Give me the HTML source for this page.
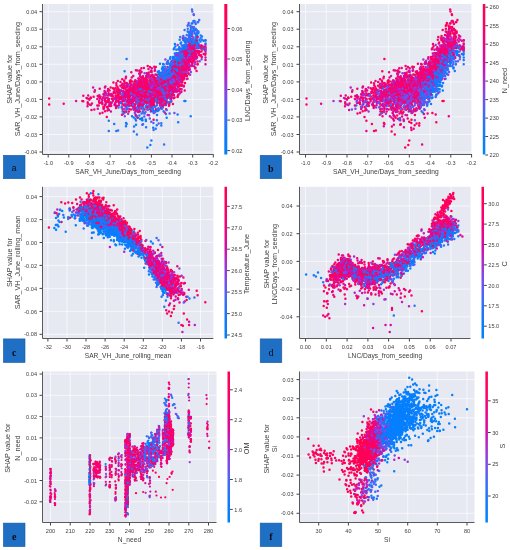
<!DOCTYPE html>
<html lang="en"><head><meta charset="utf-8"><title>SHAP dependence plots</title><style>html,body{margin:0;padding:0;background:#fff}body{width:510px;height:550px;overflow:hidden}svg{display:block;filter:blur(0.45px)}</style></head><body>
<svg width="510" height="550" viewBox="0 0 510 550" font-family='"Liberation Sans", sans-serif'>
<defs><linearGradient id="cb" x1="0" y1="1" x2="0" y2="0"><stop offset="0" stop-color="#0082fd"/><stop offset="0.12" stop-color="#0f7afd"/><stop offset="0.25" stop-color="#376efa"/><stop offset="0.37" stop-color="#7350ee"/><stop offset="0.5" stop-color="#aa2dcf"/><stop offset="0.6" stop-color="#d40ca8"/><stop offset="0.75" stop-color="#f5007a"/><stop offset="0.88" stop-color="#ff005f"/><stop offset="1" stop-color="#ff0051"/></linearGradient></defs>
<rect width="510" height="550" fill="#fff"/>
<rect x="42.5" y="4" width="171.2" height="150.5" fill="#e7e9f2"/>
<path d="M48.2 4V154.5M68.8 4V154.5M89.5 4V154.5M110.1 4V154.5M130.8 4V154.5M151.4 4V154.5M172.0 4V154.5M192.7 4V154.5M213.3 4V154.5M42.5 11.7H213.7M42.5 29.2H213.7M42.5 46.8H213.7M42.5 64.3H213.7M42.5 81.9H213.7M42.5 99.4H213.7M42.5 116.9H213.7M42.5 134.5H213.7M42.5 152.0H213.7" stroke="#fff" stroke-width="0.8" fill="none" opacity="0.8"/>
<g fill="none" stroke-width="2.50" stroke-linecap="round">
<path stroke="#ec0387" d="M154.3 83.9h0M189.9 50.3h0M199.2 52.6h0M112.9 100.9h0M184.8 69.8h0M175.0 74.5h0M166.0 82.9h0M108.9 109.9h0M135.8 92.0h0M190.1 44.5h0M180.7 66.2h0M157.3 92.1h0M195.4 67.6h0M159.3 98.2h0M175.7 70.1h0M182.4 73.5h0M175.5 67.5h0M182.0 54.2h0M134.7 94.6h0M136.5 81.1h0M199.6 52.0h0M191.6 45.0h0M160.9 99.3h0M158.9 86.3h0M144.6 97.5h0M185.8 66.4h0M153.9 88.2h0M162.0 95.4h0M134.5 99.6h0M205.5 53.4h0M186.3 63.1h0M124.9 96.0h0M179.6 72.2h0M172.9 89.1h0M186.9 64.1h0M165.6 74.8h0M141.4 86.8h0M125.0 88.2h0M205.5 49.8h0M188.1 57.8h0M126.5 96.0h0M178.1 86.8h0M197.9 48.0h0M152.2 90.3h0M168.4 93.1h0M192.1 53.2h0M203.7 54.0h0"/>
<path stroke="#4c64f6" d="M194.5 48.5h0M193.6 14.2h0M142.8 111.3h0M192.4 46.7h0M148.3 109.8h0M180.3 66.5h0M145.7 100.4h0M139.7 102.5h0M184.1 38.6h0M162.4 102.9h0M127.1 100.0h0M169.6 113.4h0M166.0 83.3h0M183.1 52.9h0M151.2 107.6h0"/>
<path stroke="#f80071" d="M139.9 89.7h0M182.1 66.2h0M156.9 80.5h0M124.0 96.6h0M184.5 64.3h0M178.8 76.6h0M164.1 91.2h0M116.0 108.0h0M173.4 91.5h0M185.5 56.1h0M83.3 95.7h0M123.7 105.3h0M123.7 99.9h0M163.5 87.7h0M105.4 100.8h0M161.7 107.5h0M148.1 94.9h0M137.0 84.7h0M140.6 98.8h0M178.1 79.3h0M155.7 96.2h0M178.2 66.9h0M192.5 63.0h0M178.8 85.3h0M105.0 104.9h0M183.3 74.9h0M158.6 85.8h0M187.8 51.5h0M82.3 101.1h0M187.5 65.4h0M168.7 97.1h0M97.3 99.1h0M116.1 106.6h0M151.8 110.9h0M138.1 94.9h0M174.2 72.0h0M174.0 95.1h0M181.4 65.3h0M184.1 61.9h0M185.2 68.0h0M143.5 78.1h0M153.5 99.7h0M176.1 84.2h0M182.9 67.9h0M123.3 97.8h0M135.8 99.3h0M148.0 99.0h0M177.8 61.2h0M149.2 86.4h0M139.0 88.4h0M174.3 81.2h0M122.2 84.9h0M176.2 61.9h0M205.5 59.9h0M148.6 105.8h0M136.0 81.8h0M134.2 90.2h0M159.2 88.8h0M179.1 67.3h0M174.0 91.7h0M139.2 82.1h0M137.5 92.0h0M148.7 101.4h0M151.8 68.2h0"/>
<path stroke="#bc1fbf" d="M181.9 58.9h0M179.1 65.9h0M164.4 88.5h0M167.3 95.8h0M186.6 55.5h0M192.4 53.1h0M194.1 48.0h0M159.4 81.6h0M146.0 97.3h0M149.0 115.2h0M180.7 63.5h0M169.6 94.4h0M167.6 80.3h0M149.1 85.1h0M144.0 94.4h0M119.3 98.3h0M188.6 53.8h0M192.1 39.1h0M187.8 59.4h0M144.3 89.2h0M155.1 88.1h0M181.0 72.8h0M129.2 95.4h0M201.1 55.2h0M168.3 72.9h0M129.2 108.9h0M151.4 70.4h0M145.4 86.9h0"/>
<path stroke="#754fed" d="M172.3 80.4h0M126.2 96.2h0M147.1 109.6h0M152.3 105.3h0M165.6 87.4h0M188.7 23.1h0M184.5 70.7h0M185.8 52.2h0M163.7 85.0h0M175.2 70.7h0M147.5 97.4h0M170.4 95.0h0M159.0 94.5h0"/>
<path stroke="#da0aa0" d="M192.3 51.6h0M188.2 48.6h0M154.5 93.5h0M179.5 80.8h0M155.4 88.2h0M203.8 48.0h0M157.1 87.2h0M182.8 38.3h0M137.8 100.7h0M180.9 48.8h0M195.5 59.0h0M171.5 97.2h0M172.1 92.4h0M159.0 89.8h0M182.5 73.3h0M189.2 54.7h0M170.2 84.1h0M153.6 112.5h0M172.8 89.8h0M177.5 84.7h0M188.4 70.5h0M155.8 96.9h0M109.9 103.9h0M174.1 97.8h0M181.2 72.9h0M169.9 85.3h0M155.5 92.9h0M145.3 89.1h0M175.2 61.7h0M107.5 97.8h0M139.5 96.8h0M135.3 80.2h0M177.0 68.8h0M104.7 92.3h0M153.5 97.0h0M178.5 76.0h0M191.0 51.2h0M183.5 61.0h0"/>
<path stroke="#117afd" d="M168.4 84.3h0M169.5 80.1h0M165.5 86.5h0M169.6 81.3h0M138.9 93.4h0M190.4 38.2h0M190.4 31.9h0M177.6 114.5h0M157.7 81.6h0M172.8 74.9h0M174.8 56.5h0M195.6 42.4h0M174.7 62.8h0M177.1 59.1h0M180.9 59.3h0M161.3 125.6h0M173.8 58.0h0M189.7 42.0h0M186.9 44.7h0M172.3 65.0h0M164.2 74.2h0M179.0 54.5h0M162.1 81.0h0M166.4 74.1h0M187.6 31.4h0M178.9 55.4h0M173.7 71.0h0M195.4 42.4h0M176.5 70.3h0M190.3 36.0h0M144.6 90.9h0M172.0 65.2h0M163.0 82.3h0M182.6 64.2h0M181.6 57.0h0M126.3 100.9h0M190.4 40.1h0M168.0 69.9h0M163.3 87.8h0M172.8 82.4h0"/>
<path stroke="#ff0056" d="M179.2 76.9h0M153.0 81.4h0M183.8 73.0h0M162.1 87.3h0M192.1 52.9h0M130.7 105.6h0M153.6 119.7h0M117.9 100.7h0M155.8 84.8h0M141.6 97.7h0M170.0 78.8h0M160.3 99.2h0M187.8 59.3h0M141.2 83.2h0M168.0 75.2h0M186.0 58.0h0M107.4 110.6h0M190.6 57.7h0M132.7 102.7h0M163.7 104.4h0M184.1 72.0h0M132.1 103.4h0M142.8 89.2h0M173.7 82.2h0M138.2 105.9h0M132.1 89.4h0M132.0 81.6h0M146.5 100.8h0M189.6 66.6h0M137.4 94.9h0M120.2 90.8h0M136.2 96.0h0M139.8 95.1h0M157.7 98.0h0M179.2 77.5h0M177.4 63.4h0M143.0 102.1h0"/>
<path stroke="#057ffd" d="M161.3 81.6h0M185.1 48.7h0M169.3 92.6h0M181.3 52.0h0M178.8 65.2h0M166.4 78.7h0M145.6 93.8h0M161.3 99.5h0M136.0 109.2h0M167.2 61.9h0M150.8 111.5h0M194.8 29.8h0M181.7 56.1h0M195.6 36.7h0M162.6 78.1h0M185.3 48.7h0M121.3 96.5h0M193.1 30.9h0M153.2 127.8h0M200.4 47.3h0M158.2 79.9h0M167.3 71.5h0M178.1 55.2h0M181.0 65.0h0M155.2 111.0h0M133.6 86.9h0M160.7 85.9h0M160.0 63.8h0M165.7 77.7h0M144.5 97.3h0M171.9 66.5h0M192.3 34.1h0M174.8 53.4h0M170.4 76.6h0"/>
<path stroke="#ff0060" d="M113.4 82.5h0M153.7 92.3h0M145.4 84.6h0M168.3 84.0h0M166.0 75.0h0M139.1 81.4h0M151.1 79.2h0M167.7 78.9h0M134.1 85.6h0M184.7 69.1h0M140.6 97.8h0M170.5 87.0h0M150.4 86.8h0M146.9 88.8h0M165.8 99.6h0M172.0 89.3h0M99.0 96.9h0M122.5 85.2h0M189.1 69.1h0M117.0 101.5h0M166.0 104.7h0M163.6 87.0h0M128.9 111.4h0M150.9 98.6h0M140.3 70.5h0M120.4 85.7h0M134.2 90.3h0M191.7 52.0h0M160.5 100.4h0M136.3 86.7h0M133.1 87.1h0M150.6 78.3h0M143.5 82.8h0M143.6 89.7h0M183.0 54.6h0M131.3 84.9h0M162.6 94.5h0M174.6 84.8h0M165.2 98.8h0M165.4 103.3h0M142.1 105.8h0M187.1 64.9h0"/>
<path stroke="#2a72fb" d="M118.1 130.6h0M132.5 93.1h0M167.4 83.1h0M161.7 81.8h0M182.6 56.7h0M157.0 103.6h0M169.7 74.2h0M145.6 96.9h0M164.9 99.5h0M146.5 95.3h0M199.3 46.9h0M178.0 60.2h0M198.6 44.3h0M179.4 53.3h0M150.0 101.2h0M184.6 29.9h0M183.1 58.5h0M137.9 93.5h0M132.6 103.6h0M136.9 109.1h0M191.9 26.7h0M176.2 70.9h0M143.0 124.2h0"/>
<path stroke="#9838d9" d="M149.5 82.0h0M150.7 103.2h0M191.2 40.8h0M186.3 67.7h0M179.6 79.8h0M140.1 98.1h0M183.4 77.5h0M189.9 43.4h0M134.4 82.2h0M143.9 85.8h0M128.1 113.7h0"/>
<path stroke="#2a72fb" d="M142.2 118.1h0M162.3 88.0h0M170.6 77.5h0M174.5 78.9h0M161.0 77.2h0M166.0 83.9h0M188.5 40.8h0M165.4 74.6h0M182.2 65.6h0M170.7 76.8h0M167.9 63.0h0M145.5 92.0h0M182.9 61.6h0M176.6 53.3h0M165.1 78.7h0M167.4 97.7h0M152.6 94.3h0M164.8 96.0h0M181.7 54.2h0M162.7 67.1h0"/>
<path stroke="#117afd" d="M126.6 123.9h0M181.8 60.9h0M166.9 92.7h0M158.4 85.2h0M151.4 140.6h0M163.9 80.7h0M181.4 49.0h0M158.6 85.3h0M180.6 55.6h0M129.3 103.1h0M124.9 99.2h0M170.8 95.1h0M179.7 50.6h0M166.5 98.6h0M153.1 89.5h0M171.2 70.1h0M176.7 63.9h0M189.8 42.8h0M187.6 49.9h0M159.7 81.9h0M134.1 91.9h0M160.6 76.6h0M171.2 66.4h0M193.4 28.9h0M175.4 73.0h0M162.0 96.5h0M156.3 100.2h0M175.6 55.3h0M132.0 116.2h0M177.7 56.4h0M163.9 80.8h0M158.8 87.0h0M167.3 76.2h0M197.3 32.6h0M147.5 97.9h0M174.6 61.6h0M189.1 41.1h0M142.8 108.5h0M167.2 80.2h0M127.8 90.5h0M189.2 36.5h0M169.1 78.6h0M192.0 9.4h0M166.6 69.1h0M189.7 36.4h0M205.5 43.4h0M170.2 72.0h0"/>
<path stroke="#da0aa0" d="M139.6 106.4h0M181.4 70.7h0M169.7 88.2h0M144.6 92.8h0M134.7 98.6h0M183.6 58.6h0M155.5 81.1h0M183.8 54.9h0M165.6 79.8h0M169.7 88.1h0M184.2 61.2h0M109.0 106.1h0M141.2 93.9h0M140.2 86.3h0M183.4 68.1h0M103.1 97.6h0M172.6 87.7h0M188.5 64.0h0M182.9 64.7h0M154.1 87.7h0M150.1 82.8h0M159.0 93.0h0M150.5 96.2h0M179.4 91.2h0M181.3 85.2h0M152.5 103.5h0M134.8 88.8h0M166.8 75.0h0M160.4 86.4h0M171.7 73.9h0M189.4 61.1h0M173.0 72.8h0M184.9 50.3h0M167.3 90.0h0M146.1 76.1h0M157.2 87.6h0M184.3 55.0h0M181.1 74.1h0M150.1 108.8h0M102.5 100.3h0M151.0 89.7h0M119.5 91.5h0M171.4 85.2h0M194.4 59.2h0"/>
<path stroke="#ff0056" d="M194.4 43.5h0M188.8 54.8h0M172.3 90.5h0M137.3 88.0h0M148.2 91.4h0M184.2 78.3h0M180.6 71.8h0M144.6 109.4h0M161.7 91.3h0M188.9 64.8h0M163.0 86.9h0M183.8 76.1h0M132.5 88.0h0M189.8 52.6h0M189.3 50.3h0M138.9 99.8h0M165.4 85.4h0M177.4 75.7h0M190.0 49.5h0M122.4 96.6h0M191.0 56.0h0M165.6 86.2h0M136.0 101.9h0M176.6 75.5h0M172.4 73.3h0M150.0 108.3h0M139.3 70.7h0M183.2 65.7h0M172.0 85.4h0M155.4 80.6h0M186.7 57.2h0M135.4 86.7h0M152.9 96.4h0M94.5 91.7h0M115.5 92.8h0M190.5 49.3h0M138.2 94.6h0M179.7 81.7h0M178.5 80.1h0M137.6 98.8h0M151.7 104.5h0M164.9 95.8h0M150.8 89.2h0"/>
<path stroke="#f80071" d="M118.0 95.7h0M178.1 75.4h0M155.9 86.6h0M170.7 86.3h0M111.8 98.7h0M126.8 83.8h0M132.6 97.9h0M143.8 90.2h0M183.1 52.6h0M148.9 86.6h0M128.5 105.0h0M183.2 69.9h0M179.2 85.4h0M117.3 97.3h0M153.9 81.6h0M185.1 65.8h0M180.6 68.5h0M166.0 83.4h0M153.0 95.9h0M147.3 80.8h0M150.3 86.7h0M183.9 72.2h0M138.5 92.1h0M187.2 48.6h0M175.1 80.9h0M181.4 74.4h0M148.9 76.9h0M180.5 80.8h0M169.4 85.6h0M137.6 82.9h0M135.0 104.2h0M189.8 54.3h0M107.8 100.6h0M157.0 110.1h0M156.2 84.4h0M179.5 70.8h0M143.2 101.0h0M192.7 61.6h0M152.2 104.2h0M139.6 92.1h0M87.7 102.2h0M186.3 60.9h0M193.5 60.5h0M174.1 74.4h0M113.7 92.1h0M189.3 68.2h0M141.6 72.1h0M179.3 86.2h0M146.2 100.2h0M138.4 82.7h0M178.1 78.6h0M186.1 44.8h0M135.5 111.4h0M156.6 80.7h0M114.6 91.0h0M178.9 72.0h0M138.3 110.5h0M189.4 54.2h0M148.6 94.4h0"/>
<path stroke="#9838d9" d="M183.8 54.3h0M194.6 57.7h0M143.0 88.1h0M162.0 94.6h0M150.6 85.7h0M154.8 68.0h0M167.9 88.4h0"/>
<path stroke="#4c64f6" d="M193.9 26.9h0M204.0 46.6h0M168.1 60.8h0M164.4 104.1h0M185.2 37.8h0M185.6 50.0h0M172.8 80.8h0M141.6 87.9h0M181.0 51.9h0M158.4 99.3h0M191.4 40.3h0M192.6 47.4h0M145.2 99.7h0M166.3 100.6h0"/>
<path stroke="#ec0387" d="M163.8 83.0h0M145.3 97.9h0M179.7 69.7h0M179.3 67.1h0M177.5 76.0h0M185.2 56.3h0M165.3 94.4h0M168.4 88.8h0M161.6 105.0h0M185.3 61.7h0M185.9 51.4h0M138.6 85.6h0M195.2 62.3h0M165.6 83.4h0M138.9 105.3h0M135.4 96.0h0M177.5 82.0h0M150.2 100.8h0M179.5 63.0h0M165.6 105.1h0M186.4 65.4h0M149.6 89.5h0M145.4 99.5h0M135.1 91.3h0M184.6 48.5h0M181.5 81.0h0M180.7 71.4h0M177.8 95.9h0M144.8 90.7h0M190.3 58.8h0M190.8 58.9h0M184.8 66.3h0M108.1 95.4h0M152.5 85.9h0M94.3 109.6h0M168.0 88.0h0M187.0 56.3h0M191.0 50.3h0M105.9 94.7h0M153.7 80.6h0M103.4 94.2h0M147.6 103.0h0M178.9 79.9h0M164.8 84.0h0M144.2 87.4h0M147.5 82.3h0M153.2 92.0h0M181.2 60.6h0M138.8 107.1h0"/>
<path stroke="#bc1fbf" d="M156.1 85.0h0M176.4 69.1h0M170.3 85.9h0M180.3 62.4h0M168.7 97.4h0M170.5 66.2h0M174.2 78.4h0M135.7 98.8h0M159.4 73.6h0M176.2 59.1h0M175.4 82.6h0M167.8 84.6h0M169.4 90.5h0M187.7 51.3h0M143.0 82.0h0M128.5 98.6h0M174.0 87.5h0M184.0 74.7h0M113.6 99.5h0M180.2 56.8h0"/>
<path stroke="#ff0060" d="M137.6 87.1h0M148.3 98.0h0M138.9 90.2h0M139.0 101.2h0M141.1 108.5h0M162.2 103.6h0M192.8 46.6h0M131.2 94.6h0M177.4 76.4h0M180.5 81.9h0M172.3 77.8h0M171.4 80.1h0M172.7 95.2h0M139.6 85.1h0M151.7 90.9h0M49.2 104.6h0M153.5 77.8h0M189.8 46.9h0M187.1 52.1h0M188.3 60.0h0M158.5 91.0h0M142.4 105.7h0M177.5 82.7h0M187.2 62.2h0M147.9 102.9h0M165.3 101.0h0M193.2 48.9h0M139.4 83.2h0M151.4 91.8h0M137.8 97.8h0M133.1 87.4h0M140.2 86.2h0M147.0 88.2h0M154.5 90.8h0M193.8 52.4h0M167.1 84.1h0M141.6 94.1h0M190.2 41.2h0M144.9 95.9h0M178.9 84.6h0M173.4 79.2h0M135.1 97.4h0M150.3 84.5h0M173.9 66.6h0M167.1 76.4h0M149.0 94.3h0M162.9 88.6h0M190.3 44.1h0M129.6 87.4h0M155.7 93.0h0M149.3 88.2h0M171.2 83.5h0M174.4 78.4h0"/>
<path stroke="#754fed" d="M142.5 91.2h0M134.2 90.8h0M159.1 80.1h0M144.5 73.2h0M151.5 98.2h0M148.4 92.6h0M153.4 97.1h0M182.1 68.1h0M137.4 103.5h0M196.4 51.5h0M148.4 97.0h0M168.7 103.7h0M110.6 103.6h0M195.0 29.8h0"/>
<path stroke="#057ffd" d="M172.9 63.7h0M193.8 51.1h0M166.2 74.2h0M178.5 53.8h0M183.9 59.9h0M175.4 58.8h0M188.8 51.9h0M166.8 87.4h0M126.0 126.3h0M168.3 79.1h0M169.9 66.7h0M185.2 55.3h0M187.8 49.6h0M145.7 119.6h0M158.5 110.3h0M179.7 39.7h0M182.5 67.4h0M179.1 69.7h0M188.7 48.2h0M124.4 93.1h0M173.9 72.5h0M195.7 24.1h0"/>
<path stroke="#754fed" d="M170.8 89.5h0M171.1 90.6h0M167.8 79.5h0M159.6 95.3h0M160.2 95.8h0M201.6 59.2h0M193.8 14.9h0M165.8 79.2h0M173.6 73.3h0M160.8 100.2h0M194.7 33.3h0M179.7 57.8h0M185.5 57.4h0M180.8 75.1h0M189.3 51.9h0"/>
<path stroke="#2a72fb" d="M155.4 106.4h0M136.4 95.4h0M169.3 70.5h0M160.7 89.6h0M175.2 75.8h0M195.6 33.8h0M189.6 46.5h0M197.4 36.3h0M166.8 101.5h0M188.7 48.6h0M151.0 103.2h0M191.0 31.6h0M189.3 33.6h0M177.9 68.8h0M164.1 144.5h0M161.4 81.3h0M157.0 114.9h0M172.0 78.3h0M150.4 108.2h0M176.5 65.4h0M182.1 65.4h0M165.9 113.9h0M133.8 131.5h0M181.4 48.7h0M188.3 24.8h0M172.9 65.7h0"/>
<path stroke="#117afd" d="M186.0 56.6h0M177.8 53.3h0M173.7 76.7h0M182.0 50.9h0M137.0 93.3h0M163.7 64.6h0M173.1 65.8h0M193.0 41.7h0M164.0 83.4h0M174.5 74.4h0M171.6 76.4h0M173.5 68.0h0M155.6 98.9h0M179.0 56.0h0M180.3 59.7h0M136.2 107.5h0M189.6 54.6h0M164.0 83.8h0M181.1 42.6h0M155.2 85.1h0M155.0 106.7h0M173.6 75.5h0M195.9 30.0h0M134.6 100.1h0M179.2 66.5h0M179.7 65.1h0M180.7 68.1h0M176.3 49.8h0M159.0 74.3h0M181.4 51.5h0M189.1 37.9h0M169.8 86.3h0M160.4 75.1h0M162.4 76.1h0M181.7 61.0h0M171.6 61.6h0M138.3 110.4h0M175.2 71.0h0M198.3 43.0h0M197.2 38.0h0M185.2 47.9h0M169.1 79.1h0M165.9 104.1h0M152.7 94.8h0M176.8 54.1h0M163.5 80.8h0M161.3 78.5h0M200.7 35.4h0M174.0 77.5h0"/>
<path stroke="#bc1fbf" d="M145.0 81.7h0M99.2 100.5h0M121.1 101.9h0M181.5 68.0h0M136.6 89.3h0M160.1 102.6h0M172.4 80.3h0M160.8 106.8h0M161.7 98.0h0M131.8 103.4h0M133.5 106.1h0M171.4 71.4h0M114.4 104.7h0M188.1 54.0h0M168.2 82.1h0M173.8 80.7h0M182.2 68.8h0M151.0 85.7h0M139.0 89.3h0M147.6 115.0h0M170.3 85.7h0"/>
<path stroke="#da0aa0" d="M154.7 70.8h0M158.3 94.9h0M99.3 95.3h0M171.4 79.9h0M193.0 56.4h0M172.2 90.2h0M129.4 86.2h0M193.4 60.8h0M163.9 89.4h0M169.2 78.5h0M161.5 80.3h0M152.1 94.0h0M139.1 78.7h0M149.6 94.1h0M136.9 84.4h0M129.8 96.5h0M150.6 96.4h0M137.0 99.5h0M177.4 90.2h0M163.0 82.2h0M190.6 53.3h0M144.1 93.3h0M140.3 73.0h0M128.9 100.0h0M131.1 94.2h0M145.3 85.1h0M160.6 81.1h0M175.3 89.9h0M166.4 91.0h0M161.8 93.2h0M138.6 89.7h0M148.1 81.9h0M171.6 95.8h0M131.8 88.0h0M186.0 62.1h0M126.1 106.4h0"/>
<path stroke="#057ffd" d="M178.0 67.9h0M178.3 57.6h0M171.3 77.1h0M171.4 70.3h0M160.0 92.9h0M198.2 33.3h0M190.9 35.9h0M160.8 78.3h0M195.4 38.9h0M165.0 72.5h0M200.5 41.4h0M165.7 74.8h0M175.3 68.4h0M179.5 48.7h0M190.4 45.8h0M157.1 89.4h0M180.5 54.2h0M175.4 46.2h0M192.2 49.0h0M152.8 109.3h0M177.3 56.6h0M177.1 67.6h0M188.2 53.7h0M147.0 100.8h0M174.9 44.0h0M171.0 87.8h0M163.5 84.5h0M182.5 59.1h0"/>
<path stroke="#f80071" d="M153.7 88.3h0M170.9 81.9h0M149.3 105.5h0M154.4 86.5h0M191.7 49.2h0M187.7 61.4h0M186.5 60.8h0M181.2 75.2h0M180.9 72.3h0M188.1 48.8h0M176.7 78.4h0M126.0 76.7h0M153.8 89.3h0M153.6 92.3h0M150.1 90.1h0M182.9 77.8h0M190.1 65.6h0M173.1 71.9h0M98.7 105.5h0M147.4 79.7h0M165.7 96.2h0M191.1 49.0h0M142.0 85.3h0M138.2 105.5h0M145.9 95.3h0M159.6 91.2h0M123.4 98.6h0M162.2 86.6h0M172.4 87.3h0M190.8 59.7h0M153.2 82.6h0M146.5 98.1h0M181.7 80.9h0M117.8 93.1h0M121.8 87.5h0M166.8 92.2h0M140.8 85.2h0M188.2 54.6h0M90.6 97.5h0M126.1 95.6h0M108.6 93.3h0M146.8 97.3h0M173.3 87.2h0M198.7 52.8h0M186.2 45.9h0M180.4 82.1h0M174.1 89.2h0M155.8 84.6h0M188.9 61.0h0M148.5 97.5h0M188.4 65.4h0M145.6 91.7h0M131.9 99.7h0M179.6 89.2h0"/>
<path stroke="#9838d9" d="M106.5 94.1h0M171.4 78.3h0M168.1 77.7h0M168.8 91.4h0M143.6 88.4h0M174.0 62.2h0M148.3 90.0h0M160.6 80.6h0"/>
<path stroke="#ff0060" d="M151.6 72.0h0M132.5 102.8h0M171.3 89.2h0M119.4 90.1h0M181.9 85.7h0M190.8 45.3h0M200.3 55.6h0M149.8 83.4h0M194.3 44.3h0M139.3 95.8h0M147.4 81.5h0M173.7 86.8h0M141.5 91.4h0M144.9 98.3h0M150.0 100.6h0M142.7 79.2h0M175.8 76.3h0M195.9 51.1h0M150.1 82.4h0M154.7 88.0h0M130.7 80.2h0M183.1 63.2h0M99.1 101.9h0M150.7 83.0h0M152.7 87.7h0M143.5 103.3h0M194.0 66.3h0M136.4 90.8h0M161.5 86.2h0M179.4 82.4h0M124.3 84.3h0M188.7 73.4h0M183.8 61.6h0M181.6 63.2h0M186.4 58.5h0M152.0 100.6h0M140.4 80.0h0M159.8 83.2h0M116.2 96.4h0M171.0 89.1h0M150.6 98.7h0M93.6 96.8h0M147.6 82.5h0M165.5 92.0h0M134.5 108.1h0M175.9 77.5h0M191.4 46.3h0M189.8 56.0h0M118.1 96.3h0M103.4 107.1h0M161.9 100.3h0"/>
<path stroke="#ec0387" d="M150.0 81.8h0M177.9 75.6h0M101.9 102.2h0M196.2 48.2h0M147.2 92.0h0M124.1 80.4h0M138.5 97.1h0M149.4 90.5h0M154.4 102.0h0M162.2 86.6h0M172.4 82.6h0M166.3 98.3h0M182.8 63.5h0M181.6 89.2h0M188.9 53.3h0M162.9 80.3h0M86.5 98.1h0M188.5 54.9h0M108.6 101.2h0M152.5 103.9h0M163.8 99.4h0M139.3 80.0h0M119.7 99.2h0M142.7 101.7h0M155.2 84.5h0M181.6 84.8h0M125.7 78.2h0M117.7 92.9h0M149.0 75.4h0M130.3 89.6h0M139.8 111.4h0M119.5 97.0h0M158.2 84.2h0M147.2 74.3h0M151.3 103.4h0M122.8 91.7h0M190.8 45.2h0M187.6 50.2h0M108.1 89.1h0M133.0 106.8h0M178.6 81.5h0M164.7 112.4h0M178.7 75.5h0M178.9 81.6h0M154.5 82.3h0M188.6 60.8h0M154.1 80.2h0M105.1 100.6h0M163.8 84.5h0"/>
<path stroke="#ff0056" d="M152.0 76.4h0M169.2 93.2h0M188.5 45.5h0M168.5 87.1h0M137.8 117.7h0M99.5 103.1h0M153.7 81.7h0M150.4 82.3h0M148.0 97.3h0M144.7 88.2h0M157.4 78.3h0M183.6 77.1h0M139.2 73.4h0M168.5 97.1h0M168.5 79.4h0M105.1 111.2h0M192.4 51.5h0M156.2 86.9h0M118.9 91.8h0M190.4 60.0h0M166.8 75.7h0M185.0 83.1h0M176.7 81.5h0M181.1 65.0h0M156.6 75.1h0M187.0 50.8h0M182.3 61.4h0M130.3 91.8h0M122.3 103.7h0M202.3 49.6h0M179.5 58.2h0M160.1 88.3h0M182.9 69.2h0M151.3 85.8h0M151.7 97.3h0M158.6 87.9h0M190.7 42.1h0M163.3 97.5h0M149.6 88.9h0M188.3 63.4h0M166.1 109.2h0M104.3 95.6h0M193.3 48.6h0"/>
<path stroke="#4c64f6" d="M167.0 79.9h0M124.5 112.8h0M166.7 110.1h0M142.3 124.8h0M143.9 92.5h0M166.5 80.2h0M193.4 39.6h0M186.9 41.8h0M167.9 97.8h0M182.3 51.6h0M136.0 101.7h0M145.5 112.1h0"/>
<path stroke="#2a72fb" d="M191.0 27.9h0M170.3 99.0h0M185.0 45.3h0M176.4 69.6h0M180.2 54.6h0M172.8 65.6h0M187.2 53.2h0M153.1 100.4h0M183.2 47.2h0M123.3 113.7h0M168.4 76.5h0M195.0 45.5h0M167.1 90.8h0M159.1 73.5h0M169.4 74.5h0M182.9 54.5h0M178.4 61.9h0M171.8 88.5h0M164.6 79.3h0M197.5 22.2h0M151.8 109.9h0"/>
<path stroke="#117afd" d="M157.2 102.1h0M163.4 75.4h0M174.2 68.5h0M146.3 107.4h0M156.8 125.3h0M166.9 83.0h0M192.9 45.9h0M184.4 101.1h0M171.1 73.7h0M190.6 34.9h0M169.8 70.9h0M152.0 107.7h0M194.1 48.6h0M171.1 71.1h0M145.8 87.8h0M165.4 76.0h0M176.8 62.3h0M163.3 77.5h0M171.3 67.3h0M161.1 86.8h0M184.1 54.7h0M160.5 94.6h0M182.2 57.4h0M176.6 72.2h0M122.6 111.5h0M161.7 84.4h0M191.6 32.4h0M181.0 62.3h0M137.7 96.0h0M146.1 127.3h0M175.4 60.1h0M189.3 40.9h0M170.6 65.5h0M116.3 131.0h0M176.3 53.9h0M174.7 64.5h0M202.4 48.7h0M148.9 91.6h0M152.9 105.4h0M178.9 58.0h0M182.6 51.8h0M166.7 73.8h0M165.0 71.2h0"/>
<path stroke="#754fed" d="M178.2 53.4h0M149.0 102.9h0M192.1 33.0h0M135.1 95.6h0M174.2 64.4h0M170.0 84.7h0M186.1 56.1h0M178.1 68.3h0M159.0 84.0h0M161.6 79.6h0M139.3 94.7h0M138.5 90.0h0M194.7 22.3h0M152.1 94.8h0M124.8 116.3h0M188.3 46.7h0"/>
<path stroke="#ec0387" d="M178.4 75.7h0M136.5 110.2h0M148.4 73.0h0M175.4 70.4h0M176.1 82.9h0M129.8 87.3h0M162.5 86.5h0M194.0 48.0h0M197.9 50.8h0M154.3 92.1h0M128.0 89.6h0M129.7 102.7h0M177.1 74.4h0M176.5 70.5h0M145.2 91.6h0M173.6 98.2h0M149.9 89.1h0M129.2 97.2h0M150.6 99.5h0M185.6 66.5h0M152.7 90.6h0M154.9 89.0h0M124.5 95.3h0M140.0 81.6h0M133.9 86.9h0M116.2 98.7h0M168.4 82.4h0M194.4 50.8h0M116.0 101.3h0M123.2 91.0h0M148.5 69.0h0M126.0 91.4h0M194.3 54.7h0"/>
<path stroke="#4c64f6" d="M165.6 69.6h0M177.4 59.8h0M159.2 83.9h0M153.4 123.1h0M191.4 49.3h0M168.0 96.2h0M177.8 62.8h0M152.4 106.8h0M187.6 25.7h0M194.5 21.1h0M175.5 70.2h0M173.2 57.2h0"/>
<path stroke="#9838d9" d="M121.9 106.5h0M183.2 71.5h0M137.5 103.8h0M134.4 92.9h0M173.1 78.5h0M135.9 86.0h0M160.4 95.2h0M136.9 93.8h0M154.4 94.7h0M151.4 76.1h0M112.1 95.3h0M123.9 86.1h0"/>
<path stroke="#bc1fbf" d="M173.6 89.7h0M179.9 72.6h0M162.9 102.6h0M141.8 96.7h0M123.0 84.2h0M141.9 91.4h0M132.5 95.2h0M130.9 98.5h0M137.8 90.1h0M150.9 87.3h0M140.2 95.5h0M141.7 104.4h0M182.7 68.6h0M205.5 44.7h0M174.4 73.1h0M121.2 101.9h0M138.9 111.7h0M166.9 93.2h0M136.9 81.5h0M194.5 57.5h0M176.8 75.5h0M148.1 83.8h0M147.6 75.3h0M133.7 96.4h0M159.0 96.3h0M150.2 85.5h0M168.2 89.3h0M125.9 104.4h0M164.8 97.4h0"/>
<path stroke="#ff0060" d="M140.4 101.0h0M146.5 77.6h0M187.3 58.5h0M187.1 66.3h0M180.0 74.3h0M133.8 84.1h0M148.5 84.7h0M170.3 80.2h0M144.5 82.4h0M140.6 95.2h0M177.0 73.5h0M125.6 91.6h0M156.2 82.0h0M107.8 91.0h0M105.4 86.6h0M152.6 86.1h0M157.7 93.3h0M185.6 62.9h0M171.5 87.9h0M128.9 91.9h0M179.5 65.6h0M137.6 85.2h0M146.6 85.0h0M155.5 74.4h0M154.5 85.9h0M155.2 100.0h0M135.5 85.6h0M192.1 44.6h0M151.7 84.7h0M190.0 53.9h0M158.8 93.6h0M194.7 58.1h0M150.9 84.9h0M166.1 91.5h0M131.3 72.2h0M140.6 101.5h0M173.6 81.4h0M167.1 77.8h0M155.1 88.5h0M154.1 88.3h0M182.4 82.3h0M153.7 89.4h0M134.9 90.5h0M138.6 89.4h0M183.7 67.1h0M169.7 87.9h0M163.0 98.5h0M145.3 88.8h0"/>
<path stroke="#f80071" d="M139.9 105.4h0M185.0 62.2h0M170.9 90.6h0M143.4 92.2h0M148.8 91.5h0M138.5 86.6h0M169.7 79.9h0M166.4 99.0h0M182.3 76.1h0M187.1 59.2h0M149.1 92.4h0M181.9 65.7h0M154.1 85.7h0M124.2 101.0h0M174.4 70.2h0M106.8 117.0h0M172.6 92.1h0M169.7 89.2h0M146.0 102.8h0M151.0 102.1h0M184.3 72.1h0M158.2 91.9h0M97.3 105.4h0M168.3 80.4h0M161.8 84.2h0M124.6 104.3h0M172.0 73.9h0M136.7 84.8h0M199.2 51.2h0M175.0 78.3h0M142.8 81.7h0M173.6 89.9h0M187.9 59.0h0M153.2 99.5h0M155.1 88.3h0M125.8 83.2h0M116.3 83.2h0M166.1 92.4h0M110.4 106.1h0M134.0 88.4h0M180.8 85.4h0M150.0 66.9h0M127.8 97.0h0M104.3 106.7h0M186.2 58.3h0M182.8 63.0h0M113.9 93.0h0M140.9 84.5h0M115.0 103.2h0M190.8 50.6h0M135.6 100.3h0M103.8 108.0h0M180.1 69.1h0M130.5 95.3h0M193.7 55.9h0M88.2 95.6h0M156.9 93.3h0M123.7 97.2h0M180.8 64.4h0M147.8 82.7h0"/>
<path stroke="#ff0056" d="M130.5 82.6h0M184.9 69.1h0M187.0 76.0h0M143.3 87.3h0M159.5 99.1h0M151.0 106.3h0M171.5 79.7h0M111.2 94.1h0M140.8 92.7h0M148.7 87.3h0M166.1 75.8h0M115.6 95.5h0M156.6 84.0h0M138.5 108.8h0M122.2 79.2h0M140.1 97.0h0M150.8 98.5h0M116.2 95.6h0M178.5 69.5h0M110.4 95.5h0M164.8 104.0h0M136.2 96.7h0M107.3 102.1h0M197.5 64.3h0M131.7 105.5h0M187.5 78.8h0M193.3 48.4h0M165.0 92.2h0M138.3 78.4h0M177.2 79.6h0M181.7 75.0h0M135.2 104.7h0M188.5 52.2h0M177.7 81.1h0M158.2 95.7h0M131.6 88.1h0M129.9 82.9h0M152.2 84.5h0M147.3 85.1h0M193.4 60.8h0M138.8 95.3h0M175.3 75.1h0M167.1 95.4h0M188.7 50.8h0M173.4 84.3h0M162.6 107.6h0M151.5 87.3h0M181.0 70.7h0M191.5 50.6h0M189.0 56.1h0M155.6 87.1h0M178.0 87.1h0M160.1 96.8h0M124.4 81.8h0M166.1 96.6h0M177.8 80.4h0M127.9 85.8h0"/>
<path stroke="#057ffd" d="M163.7 74.9h0M165.3 76.9h0M190.2 41.4h0M159.8 76.3h0M166.7 72.6h0M176.8 68.0h0M185.5 46.1h0M170.4 57.2h0M160.8 100.0h0M162.0 90.6h0M168.9 85.5h0M184.0 50.4h0M180.8 57.2h0M169.2 70.6h0M183.6 58.3h0M174.3 75.1h0M186.4 60.7h0M177.1 58.3h0M184.1 47.0h0M171.1 62.1h0M178.3 63.7h0M187.2 46.7h0M182.1 58.9h0M189.5 39.8h0M183.6 48.9h0M161.2 77.5h0"/>
<path stroke="#da0aa0" d="M150.6 71.6h0M151.1 97.9h0M150.3 75.5h0M136.0 95.9h0M94.9 90.3h0M175.2 63.3h0M197.1 57.7h0M187.1 54.7h0M143.7 104.1h0M174.2 82.8h0M170.2 91.3h0M142.6 76.8h0M146.6 95.8h0M184.8 59.5h0M163.5 90.0h0M144.6 85.9h0M179.6 59.8h0M175.1 84.5h0M135.0 112.7h0M183.4 71.2h0M145.5 101.6h0M175.4 73.5h0M119.2 101.7h0M181.1 71.0h0M180.2 61.1h0M142.3 94.4h0M173.2 79.3h0M93.1 87.5h0M190.5 54.6h0M183.5 61.0h0M124.2 94.4h0M162.2 96.5h0M188.1 60.5h0M137.2 95.4h0M151.3 97.7h0"/>
<path stroke="#ec0387" d="M136.7 91.1h0M124.0 88.5h0M127.9 97.6h0M109.6 90.4h0M188.0 59.0h0M148.2 83.6h0M191.9 66.0h0M152.4 91.2h0M156.1 88.6h0M128.3 84.4h0M140.3 90.3h0M172.9 77.2h0M174.4 81.3h0M159.7 81.8h0M144.0 85.4h0M146.1 78.4h0M138.9 111.5h0M149.9 92.3h0M155.4 85.4h0M142.9 76.3h0M144.5 91.7h0M189.4 58.0h0M143.1 84.2h0M103.6 109.1h0M133.8 109.7h0M186.7 67.5h0M125.4 106.0h0M149.8 87.7h0M176.9 71.8h0M141.4 86.8h0M147.9 96.1h0M162.1 96.7h0M155.1 85.7h0M150.4 91.9h0"/>
<path stroke="#da0aa0" d="M156.2 83.7h0M177.5 81.7h0M164.2 69.6h0M189.6 57.4h0M183.3 68.5h0M188.9 42.6h0M155.8 82.0h0M133.1 88.8h0M133.2 76.0h0M150.1 105.2h0M105.7 103.9h0M139.7 99.0h0M125.1 98.1h0M131.6 84.7h0M162.6 99.0h0M192.5 36.5h0M174.5 76.0h0M180.1 76.8h0M141.9 91.6h0M109.4 104.6h0M175.3 85.8h0M126.9 87.0h0M168.8 84.3h0M186.1 59.1h0M146.6 106.6h0M144.1 94.2h0M105.2 93.3h0M192.8 57.9h0M139.9 74.2h0M154.9 98.2h0M147.7 93.5h0M126.6 90.2h0"/>
<path stroke="#ff0056" d="M147.7 66.1h0M152.1 98.3h0M131.9 101.8h0M180.2 71.4h0M130.1 94.8h0M152.4 83.9h0M182.4 59.5h0M141.4 89.9h0M133.8 84.6h0M136.4 116.6h0M188.6 67.6h0M163.8 86.4h0M140.2 96.0h0M130.3 95.6h0M201.8 57.0h0M128.3 93.5h0M143.8 83.0h0M115.5 88.1h0M176.2 67.2h0M137.6 91.3h0M143.6 80.2h0M141.6 89.1h0M135.6 91.8h0M147.3 87.9h0M170.4 82.0h0M123.5 87.0h0M174.7 76.9h0M148.5 75.4h0M133.5 91.4h0M172.9 104.0h0M148.6 72.8h0M124.2 111.4h0M177.6 96.9h0M143.1 86.1h0M131.4 90.4h0M168.4 89.7h0M132.7 100.8h0M146.0 97.0h0"/>
<path stroke="#4c64f6" d="M186.8 35.1h0M155.7 84.0h0M184.7 41.8h0M146.8 94.4h0M179.7 50.2h0M181.8 45.6h0M151.3 121.7h0M172.2 74.1h0M169.6 101.9h0M180.2 37.1h0M182.3 57.7h0M170.6 98.8h0M199.2 19.9h0"/>
<path stroke="#9838d9" d="M155.0 89.5h0M179.0 56.5h0M182.9 63.4h0M176.7 85.8h0M173.5 72.1h0M166.8 93.5h0M158.0 94.0h0M153.7 75.5h0M175.8 90.5h0M105.8 95.3h0M136.4 98.7h0M146.3 83.4h0M201.0 48.5h0M151.5 93.3h0M161.7 88.1h0M187.7 62.5h0M173.5 83.0h0M148.0 96.6h0"/>
<path stroke="#754fed" d="M174.4 112.9h0M135.0 112.9h0M140.6 98.1h0M162.0 72.9h0M129.2 85.5h0M159.9 72.9h0M158.7 123.4h0M152.6 95.9h0M121.0 90.3h0M133.3 91.8h0M186.9 56.4h0M149.0 98.5h0M181.8 70.9h0M190.9 71.9h0"/>
<path stroke="#ff0060" d="M174.2 85.4h0M148.1 86.7h0M132.2 90.7h0M145.1 96.1h0M178.3 83.1h0M166.8 88.8h0M134.6 93.7h0M157.1 74.9h0M187.3 63.8h0M185.3 69.3h0M119.7 97.9h0M146.7 82.1h0M181.1 73.2h0M173.4 83.1h0M152.2 74.8h0M142.1 120.0h0M197.6 61.6h0M148.2 88.9h0M146.8 87.4h0M185.5 76.1h0M152.0 100.8h0M155.8 67.1h0M140.3 103.9h0M145.8 98.5h0M103.5 97.4h0M124.8 97.5h0M174.6 73.1h0M182.9 67.4h0M136.5 94.0h0M137.6 96.9h0M164.3 100.8h0M171.4 94.9h0M189.7 49.5h0M177.1 82.8h0M138.5 100.3h0M135.5 93.5h0M188.3 50.0h0M174.1 71.0h0M146.3 90.5h0M174.4 75.5h0M173.6 85.5h0M159.4 95.3h0M148.0 91.1h0M120.2 93.8h0M116.7 100.2h0M163.6 91.7h0M146.8 83.9h0M185.3 61.1h0M143.9 89.6h0M184.0 56.9h0M184.6 64.6h0M193.6 46.3h0M180.9 75.0h0M138.9 109.8h0M196.7 56.6h0M184.8 64.6h0M117.1 91.5h0M122.4 83.8h0"/>
<path stroke="#bc1fbf" d="M90.8 105.0h0M194.7 41.4h0M127.3 96.9h0M167.6 66.9h0M151.9 82.4h0M199.3 46.2h0M164.4 105.1h0M186.8 40.4h0M161.6 80.5h0M166.8 94.5h0M158.4 87.0h0M186.7 79.0h0M175.7 84.4h0M139.1 89.4h0M149.2 84.0h0M138.7 92.2h0M151.1 92.0h0M161.5 93.2h0M154.6 79.1h0M150.3 88.8h0M186.7 52.2h0M129.6 102.0h0M155.2 79.8h0M180.3 66.9h0"/>
<path stroke="#2a72fb" d="M160.8 85.2h0M190.7 34.3h0M172.9 58.9h0M150.3 90.2h0M127.2 97.1h0M134.3 93.5h0M169.9 89.7h0M176.2 64.9h0M183.0 56.6h0M136.0 120.5h0M152.0 108.4h0M166.2 99.7h0M188.4 48.6h0M165.2 66.8h0M130.9 99.0h0M163.8 84.6h0M153.9 113.1h0M188.6 40.2h0M138.0 102.6h0M151.7 106.3h0M174.6 67.4h0M169.0 85.5h0M161.1 106.8h0"/>
<path stroke="#f80071" d="M153.4 79.5h0M126.4 94.2h0M140.2 84.0h0M138.3 91.3h0M198.7 52.5h0M139.0 82.6h0M188.8 51.5h0M99.7 88.7h0M186.9 65.5h0M161.2 93.0h0M120.5 82.1h0M136.4 88.2h0M145.9 91.0h0M150.3 92.8h0M151.9 76.8h0M186.9 62.2h0M89.1 99.3h0M155.4 84.8h0M176.7 80.3h0M143.1 91.9h0M143.5 85.5h0M180.8 65.2h0M168.2 86.7h0M179.4 71.6h0M139.2 92.1h0M152.2 101.3h0M133.3 92.3h0M118.1 94.4h0M155.7 78.2h0M165.4 78.6h0M138.2 97.6h0M139.0 102.8h0M142.9 78.0h0M142.1 95.7h0M131.7 77.4h0M131.8 100.5h0M148.8 77.4h0M131.2 84.7h0M146.0 90.8h0M178.3 94.6h0M182.7 67.0h0M151.4 110.7h0M187.2 72.4h0M156.9 91.8h0M150.7 79.7h0M205.2 54.7h0M186.4 71.2h0M118.5 89.9h0M149.1 93.2h0M97.7 96.0h0M145.8 98.9h0M169.3 104.4h0M184.7 52.0h0M185.1 59.3h0M181.6 67.4h0M122.6 109.2h0M165.4 95.1h0M126.7 91.4h0M150.7 92.7h0M178.9 68.4h0M133.7 92.9h0M184.0 66.2h0M172.7 79.4h0M127.6 102.4h0M181.8 81.6h0M182.2 77.2h0M165.2 82.6h0M186.9 64.7h0M169.6 102.8h0M145.2 86.3h0M136.8 95.3h0M130.8 88.4h0M183.9 76.4h0M159.9 99.0h0M180.6 66.0h0M165.0 87.5h0M149.2 88.5h0M180.4 79.1h0M87.5 98.4h0M105.3 100.9h0M108.8 106.0h0M186.2 74.2h0M143.5 82.3h0M176.0 89.0h0M157.4 98.8h0"/>
<path stroke="#057ffd" d="M197.4 42.2h0M168.5 75.1h0M185.8 46.4h0M197.0 40.6h0M145.9 121.0h0M191.9 45.3h0M164.2 72.6h0M136.0 124.8h0M177.1 65.8h0M157.7 71.7h0M155.7 128.7h0M185.8 40.6h0M177.3 60.6h0M180.8 57.1h0M157.2 85.4h0M197.1 42.9h0M163.2 83.4h0M168.5 79.8h0M196.2 34.7h0M200.5 38.3h0M186.4 38.8h0"/>
<path stroke="#117afd" d="M173.4 66.2h0M174.9 68.9h0M174.4 48.0h0M173.4 72.5h0M179.4 58.2h0M159.1 84.8h0M180.6 43.6h0M163.3 89.9h0M176.8 62.3h0M166.5 102.5h0M194.5 41.6h0M196.4 40.5h0M182.1 51.6h0M149.0 101.3h0M174.5 78.9h0M182.2 63.6h0M178.6 60.0h0M163.1 64.0h0M166.9 81.6h0M188.9 54.7h0M157.8 76.5h0M184.9 46.9h0M170.1 76.8h0M164.8 89.6h0M178.0 70.4h0M187.3 39.2h0M192.4 50.5h0M170.2 74.7h0M179.3 67.3h0M143.3 108.6h0M165.1 84.9h0M162.0 68.7h0"/>
<path stroke="#117afd" d="M158.0 78.1h0M165.7 69.8h0M176.2 53.6h0M119.5 93.2h0M184.0 45.6h0M168.8 74.5h0M168.9 84.9h0M191.0 33.2h0M167.6 81.1h0M121.6 107.5h0M128.5 106.3h0M158.6 72.8h0M201.4 47.6h0M155.6 111.5h0M172.8 57.1h0M161.4 72.8h0M178.2 122.2h0M162.0 83.3h0M138.6 101.6h0M175.7 62.6h0M179.1 63.5h0M171.3 64.0h0M188.8 36.4h0M159.0 71.3h0M163.2 75.6h0M169.5 68.2h0M190.7 116.2h0M162.4 96.3h0M169.3 69.9h0M170.0 69.8h0M159.0 88.9h0M178.7 67.5h0M183.3 60.0h0M170.4 77.7h0M171.6 63.4h0M183.0 49.5h0M160.5 80.9h0M124.6 71.3h0M180.5 64.8h0M168.3 102.4h0"/>
<path stroke="#ff0060" d="M147.4 90.2h0M124.4 86.9h0M175.1 89.4h0M168.2 77.6h0M134.5 106.1h0M169.0 87.2h0M123.7 94.1h0M191.9 50.5h0M157.2 85.2h0M185.0 52.1h0M137.6 85.7h0M151.5 85.8h0M187.4 64.4h0M145.2 82.1h0M142.4 88.1h0M109.0 101.5h0M172.6 90.1h0M155.8 94.6h0M158.3 92.7h0M126.8 95.4h0M152.6 88.8h0M149.5 89.9h0M175.5 84.3h0M179.5 76.7h0M155.9 109.2h0M168.6 96.1h0M163.3 95.1h0M155.1 92.5h0M148.0 95.0h0M179.6 73.6h0M123.7 100.2h0M180.1 77.9h0M130.3 86.4h0M141.1 89.8h0M113.2 96.6h0M158.1 102.6h0M143.7 96.0h0M116.9 106.0h0M138.8 83.2h0M188.8 74.1h0M141.0 83.8h0M158.8 86.0h0M183.0 77.9h0M138.2 86.0h0M172.7 63.6h0M179.3 80.1h0M172.1 67.3h0M173.5 79.1h0M181.3 66.9h0M153.3 94.0h0M164.6 85.4h0M127.2 101.6h0M89.5 104.6h0M175.4 69.8h0M143.0 87.1h0"/>
<path stroke="#4c64f6" d="M193.5 38.2h0M163.4 77.6h0M198.4 31.6h0M169.8 80.1h0M168.5 92.3h0M167.0 70.2h0"/>
<path stroke="#9838d9" d="M167.7 79.7h0M155.9 92.5h0M167.1 90.3h0M152.7 98.7h0M188.8 65.5h0M179.7 55.5h0M195.9 59.2h0M153.3 88.5h0M141.7 90.4h0M175.3 87.8h0M133.1 108.5h0M172.0 60.7h0M160.3 97.1h0M148.8 81.9h0M158.6 93.9h0M167.2 81.5h0M143.6 104.0h0M177.7 44.9h0M165.2 69.9h0M161.4 81.2h0"/>
<path stroke="#2a72fb" d="M154.1 94.4h0M202.0 39.8h0M177.7 58.6h0M199.3 40.0h0M156.9 105.3h0M186.2 44.0h0M139.4 115.4h0M158.1 100.1h0M196.1 40.4h0M176.0 59.8h0M166.3 85.4h0M163.6 111.3h0M118.5 107.6h0M162.9 107.0h0"/>
<path stroke="#057ffd" d="M179.2 47.2h0M189.2 35.8h0M177.4 54.1h0M170.2 73.6h0M205.5 40.2h0M165.6 84.5h0M199.8 48.0h0M179.5 61.6h0M170.4 70.6h0M168.9 83.1h0M184.0 54.6h0M181.0 50.8h0M170.1 58.7h0M190.0 34.5h0M160.1 74.3h0M178.0 65.3h0M182.1 59.0h0M192.3 41.4h0M205.5 48.2h0M173.4 69.5h0M169.0 69.5h0M166.7 80.2h0M168.2 91.0h0"/>
<path stroke="#ff0056" d="M175.6 67.1h0M183.4 69.4h0M161.1 95.0h0M164.0 81.8h0M201.4 51.4h0M87.8 103.7h0M154.3 66.7h0M168.5 94.4h0M126.6 85.9h0M134.1 89.2h0M152.6 101.4h0M126.3 111.7h0M163.8 73.6h0M137.9 91.6h0M183.0 52.2h0M158.9 87.3h0M147.1 83.3h0M127.0 92.6h0M183.5 59.3h0M137.5 92.5h0M174.2 88.0h0M175.4 76.2h0M184.4 66.1h0M129.9 80.9h0M122.9 87.7h0M183.6 79.4h0M141.4 93.9h0M185.3 54.2h0M174.6 73.1h0M151.3 76.0h0M141.8 99.9h0M170.1 92.6h0M177.0 91.4h0M116.7 97.8h0M188.2 61.4h0M182.7 66.8h0M136.8 96.6h0M197.7 64.2h0M167.1 87.1h0M157.0 98.2h0M196.5 40.6h0M156.7 98.2h0"/>
<path stroke="#ec0387" d="M165.7 85.5h0M187.5 58.4h0M171.1 99.0h0M169.7 90.2h0M135.7 96.4h0M180.8 81.0h0M157.1 96.0h0M152.1 105.0h0M169.0 72.6h0M138.7 88.4h0M172.6 76.6h0M189.8 69.7h0M108.5 102.2h0M153.2 92.5h0M142.3 77.9h0M178.0 79.1h0M183.2 74.2h0M171.2 80.4h0M162.5 85.4h0M180.2 70.5h0M188.4 48.7h0M205.5 51.4h0M152.4 81.2h0M116.1 98.3h0M180.5 67.7h0M176.3 78.4h0M155.0 70.3h0M173.0 89.7h0M151.2 88.9h0M149.1 90.3h0M166.2 85.1h0M140.5 93.7h0M126.9 94.6h0M153.8 91.5h0M171.1 91.2h0M182.5 58.6h0M156.2 84.5h0M181.0 76.5h0M153.0 87.1h0M140.5 90.9h0M140.2 104.1h0M162.6 82.1h0M145.2 80.6h0M187.6 67.7h0M193.2 46.4h0M128.2 99.8h0M104.6 91.0h0M151.9 92.6h0M184.9 67.7h0M142.0 94.0h0M186.8 65.2h0M148.3 85.8h0M176.1 91.6h0M127.6 104.6h0"/>
<path stroke="#754fed" d="M162.6 103.3h0M194.9 48.9h0M205.3 50.2h0M172.8 74.8h0M152.3 109.7h0M186.7 72.2h0M157.6 88.3h0M192.5 23.3h0M176.9 83.0h0M181.9 62.6h0M167.1 63.4h0M150.5 82.2h0M165.4 76.9h0M192.1 27.5h0M181.7 79.9h0M181.1 62.6h0"/>
<path stroke="#bc1fbf" d="M155.0 89.8h0M162.5 95.1h0M190.2 55.4h0M160.0 105.6h0M133.0 87.2h0M140.8 97.5h0M121.8 91.1h0M192.1 65.4h0M137.5 97.5h0M130.1 90.0h0M148.0 95.8h0M170.2 64.0h0M179.7 79.4h0M147.8 91.0h0M169.8 83.7h0M163.4 75.2h0M180.2 64.6h0"/>
<path stroke="#da0aa0" d="M149.7 101.9h0M172.1 85.3h0M205.5 57.5h0M148.3 93.5h0M118.9 105.3h0M151.1 106.3h0M142.5 97.8h0M139.2 80.0h0M143.4 99.9h0M183.7 58.2h0M188.9 46.5h0M158.1 84.1h0M175.8 80.1h0M189.5 51.6h0M205.5 64.2h0M176.7 71.8h0M160.8 84.0h0M151.0 94.4h0M153.3 76.9h0M115.1 98.1h0M142.8 97.5h0M142.7 104.5h0M172.6 90.5h0M132.7 96.0h0M164.8 77.1h0M136.0 110.3h0M171.3 74.6h0M188.9 69.6h0M126.8 83.0h0M177.2 76.3h0M188.4 58.7h0M141.5 93.0h0M172.3 80.4h0M143.5 80.8h0M154.7 85.6h0M145.1 96.9h0M122.6 101.3h0M178.5 74.7h0M130.7 88.3h0"/>
<path stroke="#f80071" d="M196.6 71.1h0M152.0 86.6h0M130.0 92.1h0M172.5 69.3h0M144.7 87.3h0M173.7 83.8h0M63.7 103.8h0M148.9 95.4h0M176.9 84.1h0M181.3 74.4h0M183.1 66.5h0M145.6 90.8h0M127.5 95.8h0M174.3 80.5h0M105.7 102.4h0M140.0 76.3h0M159.4 90.2h0M152.4 89.6h0M146.6 101.5h0M129.0 97.0h0M175.0 73.0h0M151.9 82.0h0M150.6 100.5h0M172.1 86.6h0M156.6 83.7h0M176.2 82.7h0M126.8 93.9h0M159.1 94.8h0M157.4 98.6h0M189.1 57.4h0M187.1 68.6h0M153.8 78.3h0M201.3 47.7h0M195.4 54.7h0M190.7 44.8h0M100.6 96.8h0M140.9 81.7h0M169.7 72.2h0M129.1 99.8h0M144.0 84.4h0M161.3 101.0h0M148.0 97.3h0M141.5 93.7h0M178.3 95.0h0M156.8 90.9h0M179.5 70.4h0M182.3 80.3h0M146.2 99.7h0M154.9 90.0h0M148.6 92.6h0M166.7 83.7h0M119.1 99.0h0M138.9 95.9h0M133.7 100.9h0M135.9 70.3h0M145.7 89.7h0M177.9 68.5h0M178.2 67.2h0M181.0 66.1h0M205.5 47.1h0M111.2 105.8h0M152.5 91.3h0M164.9 94.4h0M190.4 42.3h0M173.4 80.1h0M167.8 84.8h0"/>
<path stroke="#f80071" d="M189.1 45.7h0M144.0 95.3h0M111.9 95.7h0M182.0 70.5h0M105.8 97.8h0M180.1 75.8h0M172.0 72.0h0M151.1 83.6h0M173.7 78.4h0M186.2 60.0h0M144.2 88.9h0M126.0 92.6h0M192.5 45.5h0M201.3 45.6h0M174.6 89.0h0M163.5 84.2h0M115.2 104.4h0M154.2 99.3h0M128.9 94.2h0M131.1 102.7h0M121.1 99.0h0M176.7 75.3h0M161.1 108.2h0M172.5 93.8h0M110.8 94.8h0M154.3 77.5h0M144.6 79.1h0M198.8 54.9h0M171.7 78.3h0M114.2 89.2h0M181.4 91.7h0M125.5 88.6h0M177.9 65.1h0M177.3 82.8h0M176.2 70.3h0M155.9 97.0h0M141.6 89.5h0M193.2 57.9h0M90.9 97.9h0M122.0 114.8h0M180.5 89.1h0M174.5 97.5h0M172.8 93.9h0M148.9 88.9h0M118.3 88.4h0M156.7 87.6h0M179.9 67.6h0M140.4 94.8h0M157.1 85.5h0M143.9 68.1h0M184.7 90.6h0M197.8 52.2h0M128.8 89.6h0M192.0 62.4h0M172.3 79.0h0M180.5 63.4h0M184.1 58.3h0M151.2 71.6h0M164.3 93.0h0M176.4 78.8h0M189.2 59.3h0M167.2 80.2h0M147.7 96.4h0M128.5 101.7h0M127.5 92.9h0M182.2 75.5h0"/>
<path stroke="#4c64f6" d="M179.8 60.8h0M192.3 11.4h0M153.6 130.1h0M144.3 116.4h0M159.2 109.5h0"/>
<path stroke="#ec0387" d="M154.9 97.3h0M174.2 74.0h0M137.0 96.4h0M184.9 59.0h0M175.8 72.8h0M196.4 54.0h0M183.7 51.6h0M181.1 78.2h0M150.4 91.4h0M144.7 95.7h0M99.9 98.5h0M148.5 92.5h0M186.3 66.3h0M132.8 89.8h0M169.5 85.8h0M138.2 111.9h0M187.9 48.9h0M177.4 83.3h0M182.8 64.0h0M192.2 52.5h0M133.6 93.1h0M139.2 90.7h0M164.0 91.8h0M164.8 83.6h0M124.4 99.4h0M187.9 62.4h0M142.3 101.7h0M178.9 72.4h0M187.3 54.1h0M125.6 93.6h0M159.8 103.8h0M137.4 89.2h0M186.8 56.2h0M138.8 88.4h0M138.5 89.4h0M169.2 84.4h0M181.3 66.0h0M188.1 58.6h0M136.2 90.3h0M173.2 77.9h0M171.4 101.3h0M140.4 98.5h0M187.5 57.4h0M167.2 97.9h0M195.4 57.3h0M133.8 99.6h0M189.2 47.8h0"/>
<path stroke="#ff0060" d="M187.6 53.7h0M117.4 86.7h0M185.8 64.6h0M145.8 90.0h0M169.0 80.0h0M166.0 84.2h0M137.9 95.2h0M147.2 91.2h0M138.5 87.5h0M116.3 96.3h0M127.9 98.5h0M169.4 91.9h0M182.9 69.5h0M153.1 101.8h0M156.3 101.1h0M145.9 91.7h0M194.9 52.7h0M172.9 72.3h0M157.6 98.9h0M183.3 60.7h0M200.5 55.3h0M186.7 53.0h0M135.1 85.2h0M146.2 95.9h0M163.0 84.4h0M175.1 88.0h0M160.4 94.7h0M155.3 85.9h0M117.8 80.9h0M148.5 92.6h0M184.4 60.8h0M89.5 99.4h0M108.4 99.4h0M185.9 69.0h0M154.6 77.7h0M152.7 93.2h0M139.8 96.4h0M162.8 105.7h0M110.9 103.8h0M139.7 84.1h0M164.4 91.8h0M147.3 94.3h0M112.8 98.8h0"/>
<path stroke="#da0aa0" d="M143.9 101.1h0M136.4 95.9h0M126.9 94.8h0M137.2 85.1h0M161.8 101.9h0M184.6 45.1h0M160.2 95.1h0M153.2 84.7h0M139.7 95.6h0M179.7 74.5h0M126.8 109.0h0M183.6 67.8h0M171.4 98.1h0M192.0 54.8h0M186.1 58.1h0M191.7 60.0h0M102.0 99.3h0M139.3 92.0h0M179.2 68.0h0M201.7 46.3h0M108.0 108.5h0M87.5 106.2h0M188.9 67.6h0M184.8 57.3h0M178.8 68.3h0M190.0 62.0h0M172.8 93.9h0M170.6 80.0h0M148.9 96.5h0M184.8 58.3h0M160.4 94.4h0M129.0 101.5h0M166.7 85.3h0M157.2 81.1h0M173.7 89.2h0M135.0 97.0h0M189.3 47.6h0M123.8 98.5h0M147.9 86.7h0M173.5 64.4h0M151.8 84.3h0M120.1 91.7h0M194.3 46.8h0"/>
<path stroke="#ff0056" d="M113.0 88.3h0M134.6 81.4h0M180.1 74.4h0M105.0 98.9h0M181.3 60.4h0M184.2 54.0h0M107.0 107.1h0M156.9 79.5h0M146.0 87.9h0M179.1 72.7h0M182.4 63.8h0M141.8 79.0h0M121.4 96.8h0M144.7 86.9h0M161.5 94.6h0M191.5 51.5h0M154.1 87.0h0M147.4 89.0h0M144.2 91.0h0M180.3 67.0h0M179.7 80.1h0M193.9 49.1h0M169.8 86.6h0M189.3 55.1h0M49.2 98.5h0M166.1 86.6h0M169.0 105.8h0M178.8 63.0h0M176.6 76.1h0M153.0 92.1h0M133.2 92.5h0M136.9 91.3h0M141.9 79.9h0"/>
<path stroke="#117afd" d="M114.2 123.9h0M139.9 118.8h0M192.2 44.6h0M180.2 69.4h0M161.2 76.3h0M188.2 47.4h0M165.0 98.4h0M185.2 42.3h0M189.5 41.2h0M197.6 47.5h0M175.8 74.3h0M165.0 74.4h0M183.0 64.3h0M141.6 113.6h0M162.2 74.5h0M129.3 105.6h0M173.7 49.3h0M174.2 60.0h0M169.2 79.6h0M148.9 91.5h0M171.0 101.6h0M164.2 82.5h0M136.9 134.5h0M156.0 100.7h0M192.2 45.3h0M176.1 60.2h0M169.9 67.3h0M146.5 105.3h0M170.7 96.8h0M190.7 52.4h0M191.7 23.6h0M136.4 96.8h0M159.2 77.9h0M123.7 99.0h0M158.4 108.2h0M162.5 86.1h0M147.3 147.6h0M189.7 40.6h0M120.7 102.9h0M164.2 78.5h0M198.3 32.4h0M133.0 104.7h0M174.1 72.0h0M177.5 65.1h0M183.8 39.9h0M126.6 59.1h0M177.6 53.6h0M163.5 68.1h0"/>
<path stroke="#057ffd" d="M188.5 32.1h0M196.7 35.1h0M160.1 87.8h0M160.5 73.4h0M191.7 44.9h0M178.8 64.5h0M189.6 34.8h0M178.2 49.3h0M194.6 44.5h0M171.8 67.9h0M191.7 43.4h0M136.7 116.0h0M176.4 77.9h0M142.4 120.2h0M140.3 107.5h0M190.4 35.8h0M162.6 68.4h0M140.0 98.3h0M183.3 39.9h0M135.4 119.1h0M163.4 69.5h0M196.5 43.6h0M165.5 70.7h0M195.7 28.8h0M157.7 111.1h0"/>
<path stroke="#bc1fbf" d="M143.4 84.9h0M124.4 99.7h0M149.4 75.9h0M158.0 77.6h0M178.5 64.9h0M179.1 77.2h0M180.6 63.6h0M130.7 101.6h0M142.5 79.4h0M114.6 98.7h0M119.1 103.3h0M184.3 59.0h0M157.9 88.9h0M139.2 87.3h0M151.4 84.7h0M186.6 61.9h0M148.1 76.9h0M145.5 99.8h0M122.0 95.6h0M146.0 92.5h0M182.4 59.6h0M168.5 78.0h0M153.6 83.8h0"/>
<path stroke="#754fed" d="M149.8 118.6h0M187.6 39.6h0M149.1 106.5h0M183.0 74.9h0M143.2 95.0h0M194.9 64.2h0M172.7 71.8h0M171.9 82.8h0M190.8 31.2h0M155.3 82.3h0M159.7 89.2h0M141.3 90.7h0M180.0 73.2h0M138.3 99.2h0M164.7 72.1h0M173.7 85.0h0M152.8 86.8h0M165.5 91.5h0M154.4 112.8h0M143.8 113.3h0M158.1 81.3h0M184.6 72.0h0M165.7 69.7h0"/>
<path stroke="#2a72fb" d="M179.9 61.5h0M164.6 84.9h0M175.7 70.8h0M144.7 113.5h0M189.2 51.1h0M182.9 45.7h0M177.8 70.1h0M161.6 74.4h0M170.3 63.5h0M196.5 46.9h0M150.1 90.2h0M108.8 120.8h0M161.3 123.3h0M182.3 58.5h0M169.7 72.2h0M163.7 74.2h0M193.1 50.9h0M170.4 92.2h0M153.0 108.2h0M157.0 95.3h0M146.6 99.4h0M187.6 57.5h0M157.8 109.5h0M137.8 108.7h0M171.0 76.0h0"/>
<path stroke="#9838d9" d="M141.3 92.3h0M164.8 93.7h0M157.6 87.8h0M181.1 65.5h0M139.6 95.4h0M184.1 58.2h0M153.6 92.8h0M182.2 64.1h0M180.7 60.2h0M176.2 79.9h0M166.4 88.0h0"/>
<path stroke="#117afd" d="M134.1 126.5h0M145.7 106.4h0M170.0 66.2h0M126.7 107.9h0M190.0 35.1h0M183.5 49.3h0M176.9 63.9h0M183.3 35.9h0M167.6 71.9h0M176.2 62.0h0M172.4 71.8h0M150.4 145.0h0M167.0 72.3h0M169.7 70.0h0M165.7 77.9h0M166.5 75.8h0M166.1 78.6h0M187.7 50.8h0M126.1 123.1h0M164.2 79.1h0M185.4 101.1h0M179.1 60.1h0M176.4 63.3h0M108.8 131.1h0M205.4 40.6h0M196.7 42.9h0M162.7 71.7h0M176.5 70.7h0M172.1 81.9h0M144.3 102.3h0M131.2 93.7h0M203.5 40.8h0M190.3 25.8h0M180.7 67.0h0M162.7 70.7h0M186.2 48.6h0M153.0 111.1h0M168.1 71.7h0M194.3 44.1h0M182.8 45.9h0M174.4 65.4h0M186.5 40.8h0M167.9 63.7h0"/>
<path stroke="#057ffd" d="M160.3 76.8h0M193.4 20.9h0M164.6 76.0h0M173.7 68.5h0M141.6 119.8h0M191.9 46.0h0M133.7 117.5h0M176.4 69.4h0M191.3 28.2h0M163.4 92.3h0M176.4 75.4h0M190.6 30.1h0M167.5 85.5h0M139.2 99.8h0M156.1 98.7h0M141.0 119.0h0M166.7 117.8h0M163.9 94.0h0M182.6 60.9h0"/>
<path stroke="#da0aa0" d="M179.5 81.1h0M104.9 87.6h0M170.3 87.6h0M152.9 88.1h0M173.7 66.3h0M179.5 64.0h0M154.4 95.3h0M112.3 94.5h0M134.9 107.7h0M76.1 101.1h0M111.7 102.7h0M148.3 94.6h0M109.1 94.2h0M110.9 111.5h0M173.6 88.4h0M152.8 91.2h0M151.9 95.1h0M156.3 93.2h0M137.4 91.3h0M97.8 108.8h0M197.7 45.2h0M183.2 74.4h0M137.3 70.6h0M166.8 90.1h0M168.6 79.4h0M136.4 101.2h0M124.1 92.7h0M126.0 86.3h0M183.3 72.5h0M183.8 66.2h0M116.1 102.0h0M192.2 64.0h0M139.0 93.1h0M128.5 105.2h0M135.6 115.0h0"/>
<path stroke="#ff0060" d="M146.4 92.2h0M167.3 84.2h0M192.5 45.9h0M174.2 84.4h0M161.9 83.4h0M156.2 80.4h0M116.7 89.8h0M171.7 89.5h0M187.7 60.2h0M174.9 71.0h0M144.9 91.0h0M141.4 68.3h0M201.4 45.7h0M174.9 81.2h0M182.8 68.3h0M155.5 79.2h0M116.7 89.5h0M195.2 45.1h0M138.9 85.8h0M174.9 61.7h0M101.2 102.8h0M108.4 89.5h0M183.1 60.6h0M145.9 97.3h0M145.6 81.8h0M151.4 76.6h0M91.5 109.9h0M191.7 62.5h0M102.5 104.2h0M153.1 99.3h0M185.0 60.2h0M141.1 94.9h0M140.2 83.3h0M140.9 99.3h0M154.6 95.2h0M139.5 99.4h0M153.2 104.0h0M134.8 93.0h0M175.9 81.5h0M138.5 94.2h0M136.1 82.9h0M184.0 51.4h0M136.0 95.2h0M160.9 98.4h0M145.1 84.4h0M128.0 92.6h0M119.2 94.4h0M186.0 70.3h0M130.9 109.4h0M183.0 71.2h0M179.0 69.0h0M143.2 78.6h0"/>
<path stroke="#4c64f6" d="M197.0 30.2h0M139.6 89.4h0M151.2 91.8h0M142.9 111.7h0M126.3 110.2h0M125.4 103.5h0M182.3 53.5h0M190.9 27.3h0M179.8 50.3h0M187.8 28.7h0M167.1 77.1h0"/>
<path stroke="#f80071" d="M116.4 85.2h0M144.7 101.5h0M184.9 51.9h0M141.2 96.3h0M181.9 74.1h0M130.9 100.1h0M141.6 96.0h0M155.5 83.5h0M156.5 86.2h0M191.1 61.6h0M139.3 96.2h0M176.9 73.4h0M145.3 86.9h0M179.9 69.6h0M155.9 91.4h0M102.2 103.0h0M140.3 87.6h0M92.0 103.5h0M185.0 65.3h0M177.9 91.0h0M204.4 47.3h0M133.0 86.8h0M110.7 87.5h0M153.7 79.0h0M139.2 93.5h0M183.9 85.7h0M168.7 79.7h0M151.7 105.0h0M166.0 101.7h0M152.4 88.3h0M83.3 101.2h0M161.4 83.5h0M137.2 94.4h0M153.5 103.3h0M119.5 98.4h0M149.7 102.3h0M168.8 82.3h0M186.4 60.2h0M178.9 73.2h0M144.2 94.5h0M189.0 48.9h0M102.5 112.7h0M183.5 76.3h0M157.6 92.2h0M122.8 100.5h0M161.9 86.5h0M141.8 88.7h0M130.1 100.3h0M181.5 84.5h0M174.3 79.6h0M151.0 81.2h0M99.9 113.5h0M186.2 56.0h0M186.1 61.6h0M197.6 37.0h0M124.0 92.6h0M166.4 90.9h0M157.4 81.3h0M129.6 103.3h0M142.4 85.7h0M159.9 100.7h0M140.8 77.3h0M131.4 89.2h0M194.7 53.7h0"/>
<path stroke="#ec0387" d="M108.9 98.9h0M168.8 87.1h0M187.0 68.6h0M171.0 97.2h0M172.0 88.3h0M164.8 81.5h0M183.8 65.8h0M173.4 75.0h0M174.3 78.7h0M152.0 89.2h0M164.0 82.7h0M157.4 95.8h0M138.8 91.4h0M177.3 83.1h0M118.9 101.7h0M195.7 55.0h0M184.9 64.7h0M175.5 91.4h0M140.3 92.8h0M172.5 68.3h0M153.7 88.7h0M172.0 70.4h0M183.8 86.6h0M172.6 73.7h0M192.1 46.9h0M105.6 92.5h0M116.4 98.1h0M189.4 44.8h0M142.9 105.5h0M194.1 51.6h0M134.8 97.4h0M110.6 102.4h0M185.4 53.1h0M130.4 91.4h0M179.3 81.7h0M178.9 80.0h0M165.2 86.4h0M195.2 68.4h0M186.4 50.7h0M165.8 83.3h0M204.5 49.5h0M126.6 96.7h0M115.6 105.7h0M146.4 86.8h0M136.9 95.9h0M153.4 89.9h0M118.2 97.2h0M146.5 73.3h0"/>
<path stroke="#bc1fbf" d="M180.1 93.2h0M176.8 55.0h0M146.1 94.4h0M135.2 99.7h0M136.2 90.4h0M124.1 98.9h0M185.6 59.8h0M155.8 85.0h0M190.6 49.6h0M105.1 97.9h0M190.7 50.4h0M188.5 47.2h0M199.4 45.4h0M142.2 95.1h0M136.4 82.7h0M179.3 78.7h0M142.4 89.7h0M189.8 48.3h0M180.7 52.3h0M173.8 63.4h0M162.3 76.4h0M180.4 71.9h0M159.9 89.2h0M132.6 85.1h0M188.7 57.6h0"/>
<path stroke="#9838d9" d="M175.9 54.4h0M183.9 66.3h0M164.6 96.8h0M183.3 72.3h0M157.2 78.9h0M134.6 95.5h0M167.2 88.8h0M165.4 59.6h0M173.4 73.8h0M177.7 89.0h0M151.1 78.3h0M136.8 100.7h0M138.1 109.4h0M179.4 81.4h0M124.3 108.8h0M190.1 74.7h0M137.3 99.3h0M142.7 101.9h0M141.4 92.4h0M152.4 80.5h0"/>
<path stroke="#754fed" d="M162.9 92.5h0M172.9 79.5h0M168.4 77.4h0M190.8 31.4h0M143.4 95.0h0M151.3 87.8h0M147.5 94.5h0M172.5 73.7h0M133.1 105.1h0M167.9 92.1h0M189.6 35.9h0M170.4 81.4h0M199.7 61.2h0M144.7 91.3h0M167.9 92.3h0M174.4 81.5h0M205.5 48.2h0"/>
<path stroke="#ff0056" d="M168.9 91.4h0M143.9 95.9h0M119.2 91.4h0M145.5 102.1h0M190.6 48.2h0M165.4 81.7h0M150.8 90.1h0M147.6 107.6h0M185.2 74.1h0M149.9 80.2h0M153.0 98.3h0M178.5 62.4h0M141.9 95.1h0M183.7 66.8h0M141.2 90.8h0M180.1 65.5h0M165.1 89.0h0M191.8 53.7h0M145.7 82.5h0M154.0 104.9h0M170.2 87.2h0M175.2 65.8h0M158.3 94.4h0M145.8 95.0h0M146.1 78.4h0M131.3 89.4h0M180.9 66.6h0M156.5 81.4h0M144.0 86.7h0M160.8 79.4h0M165.9 103.0h0M159.7 92.6h0M175.6 77.0h0M174.4 76.6h0M145.2 92.3h0"/>
<path stroke="#2a72fb" d="M202.0 36.6h0M194.2 31.6h0M166.6 63.8h0M161.9 108.8h0M171.6 63.3h0M196.8 45.3h0M180.0 65.0h0M156.9 120.2h0M198.2 22.0h0M170.6 82.8h0M185.0 44.9h0M189.2 54.9h0M197.2 32.2h0M163.3 77.0h0M176.9 70.3h0M173.1 64.0h0M122.4 93.7h0M143.3 107.9h0M171.6 73.9h0M180.3 54.5h0M190.0 41.6h0M166.1 83.9h0M140.5 89.2h0"/>
</g>
<path d="M42.5 4V154.5H213.7" stroke="#5a5a5a" stroke-width="1" fill="none"/>
<path d="M48.2 154.5v3M68.8 154.5v3M89.5 154.5v3M110.1 154.5v3M130.8 154.5v3M151.4 154.5v3M172.0 154.5v3M192.7 154.5v3M213.3 154.5v3M42.5 11.7h-3M42.5 29.2h-3M42.5 46.8h-3M42.5 64.3h-3M42.5 81.9h-3M42.5 99.4h-3M42.5 116.9h-3M42.5 134.5h-3M42.5 152.0h-3" stroke="#444" stroke-width="1" fill="none"/>
<g font-size="5.6" fill="#3c3c3c">
<text transform="translate(48.2 165.1) scale(1 1.083)" text-anchor="middle">-1.0</text>
<text transform="translate(68.8 165.1) scale(1 1.083)" text-anchor="middle">-0.9</text>
<text transform="translate(89.5 165.1) scale(1 1.083)" text-anchor="middle">-0.8</text>
<text transform="translate(110.1 165.1) scale(1 1.083)" text-anchor="middle">-0.7</text>
<text transform="translate(130.8 165.1) scale(1 1.083)" text-anchor="middle">-0.6</text>
<text transform="translate(151.4 165.1) scale(1 1.083)" text-anchor="middle">-0.5</text>
<text transform="translate(172.0 165.1) scale(1 1.083)" text-anchor="middle">-0.4</text>
<text transform="translate(192.7 165.1) scale(1 1.083)" text-anchor="middle">-0.3</text>
<text transform="translate(213.3 165.1) scale(1 1.083)" text-anchor="middle">-0.2</text>
<text transform="translate(37.2 13.8) scale(1 1.083)" text-anchor="end">0.04</text>
<text transform="translate(37.2 31.4) scale(1 1.083)" text-anchor="end">0.03</text>
<text transform="translate(37.2 48.9) scale(1 1.083)" text-anchor="end">0.02</text>
<text transform="translate(37.2 66.5) scale(1 1.083)" text-anchor="end">0.01</text>
<text transform="translate(37.2 84.0) scale(1 1.083)" text-anchor="end">0.00</text>
<text transform="translate(37.2 101.5) scale(1 1.083)" text-anchor="end">-0.01</text>
<text transform="translate(37.2 119.1) scale(1 1.083)" text-anchor="end">-0.02</text>
<text transform="translate(37.2 136.6) scale(1 1.083)" text-anchor="end">-0.03</text>
<text transform="translate(37.2 154.2) scale(1 1.083)" text-anchor="end">-0.04</text>
</g>
<g font-size="6.65" fill="#3c3c3c" text-anchor="middle">
<text transform="translate(128.1 174.3) scale(1 1.083)">SAR_VH_June/Days_from_seeding</text>
<text transform="translate(11.5 79.2) rotate(-90) scale(1.083 1)">SHAP value for</text>
<text transform="translate(19.5 79.2) rotate(-90) scale(1.083 1)">SAR_VH_June/Days_from_seeding</text>
</g>
<rect x="224.3" y="4" width="3.0" height="150.5" fill="url(#cb)"/>
<g font-size="5.6" fill="#3c3c3c">
<text transform="translate(231.6 152.8) scale(1 1.083)">0.02</text>
<text transform="translate(231.6 122.2) scale(1 1.083)">0.03</text>
<text transform="translate(231.6 91.7) scale(1 1.083)">0.04</text>
<text transform="translate(231.6 61.2) scale(1 1.083)">0.05</text>
<text transform="translate(231.6 30.6) scale(1 1.083)">0.06</text>
</g>
<path d="M227.3 150.6h2.8M227.3 120.1h2.8M227.3 89.5h2.8M227.3 59.0h2.8M227.3 28.5h2.8" stroke="#444" stroke-width="1" fill="none"/>
<text transform="translate(249.6 80.7) rotate(-90) scale(1.083 1)" font-size="6.65" fill="#3c3c3c" text-anchor="middle">LNC/Days_from_seeding</text>
<rect x="3.4" y="155.3" width="21.6" height="23.399999999999977" fill="#1f6fc4" stroke="#1a5a9e" stroke-width="0.6"/>
<text x="14.2" y="170.8" font-size="8.5" font-family='"Liberation Sans", sans-serif' text-anchor="middle" fill="#0a0a14">a</text>
<rect x="299.5" y="4" width="172.5" height="150.5" fill="#e7e9f2"/>
<path d="M305.5 4V154.5M326.3 4V154.5M347.0 4V154.5M367.8 4V154.5M388.6 4V154.5M409.3 4V154.5M430.1 4V154.5M450.8 4V154.5M471.6 4V154.5M299.5 11.7H472M299.5 29.2H472M299.5 46.8H472M299.5 64.3H472M299.5 81.9H472M299.5 99.4H472M299.5 116.9H472M299.5 134.5H472M299.5 152.0H472" stroke="#fff" stroke-width="0.8" fill="none" opacity="0.8"/>
<g fill="none" stroke-width="2.50" stroke-linecap="round">
<path stroke="#057ffd" d="M452.0 51.1h0M440.3 77.2h0M443.2 59.3h0M445.4 72.4h0M433.2 80.9h0M431.5 91.5h0M443.3 68.0h0M438.6 80.8h0M437.5 71.6h0M436.1 67.9h0M438.5 79.1h0M444.3 60.0h0M450.4 49.0h0M438.9 85.4h0M448.0 54.3h0"/>
<path stroke="#9838d9" d="M409.2 91.8h0M408.5 85.7h0M432.1 62.2h0M422.4 104.1h0M411.8 88.2h0M416.5 93.9h0M435.7 44.9h0M425.9 97.8h0M395.2 99.3h0M445.9 51.3h0M441.9 54.3h0M394.5 89.3h0M434.3 79.9h0M442.1 66.3h0M344.0 98.1h0M437.7 79.8h0M420.0 72.9h0M372.3 98.7h0M403.4 99.8h0M405.9 96.6h0M407.3 75.9h0M403.1 99.7h0M408.6 103.2h0M412.8 68.0h0M413.6 84.0h0"/>
<path stroke="#ff0056" d="M395.5 91.3h0M439.2 51.9h0M405.3 89.0h0M400.8 111.7h0M405.9 97.3h0M453.8 33.8h0M376.9 91.4h0M442.7 29.9h0M357.1 103.1h0M380.7 87.7h0M428.6 77.5h0M395.6 117.7h0M434.7 76.1h0M370.7 88.3h0M389.5 105.5h0M402.5 109.4h0M439.4 60.4h0M409.2 107.6h0M392.4 81.4h0M419.9 68.7h0M384.1 111.7h0M391.9 89.2h0M392.8 112.9h0M452.9 33.3h0M440.5 59.5h0M394.0 96.0h0M441.0 54.5h0M385.7 85.8h0M409.3 140.6h0M449.7 50.6h0"/>
<path stroke="#ff0060" d="M423.7 77.9h0M451.1 45.9h0M439.9 60.9h0M390.3 88.0h0M414.1 86.9h0M382.1 86.9h0M416.3 92.7h0M410.4 83.9h0M351.2 96.8h0M432.3 85.4h0M371.1 82.5h0M409.3 76.6h0M401.4 82.8h0M441.6 59.3h0M378.1 85.7h0M406.2 109.8h0M395.6 97.8h0M443.1 60.2h0M411.0 101.8h0M430.2 67.3h0M419.2 76.3h0M390.9 87.4h0M399.4 91.4h0M430.5 71.8h0M411.0 81.4h0M424.2 78.6h0M416.8 93.6h0M437.5 58.2h0M412.6 88.0h0M432.5 48.0h0M393.9 95.2h0M404.4 77.6h0M396.8 101.2h0M432.7 64.5h0M430.3 65.0h0M411.6 92.3h0M402.6 86.9h0M411.0 99.3h0M450.1 50.5h0M431.5 83.1h0M385.8 92.6h0M440.9 68.3h0M406.9 94.3h0M428.3 72.0h0M421.3 95.1h0M405.3 90.2h0"/>
<path stroke="#da0aa0" d="M443.0 57.3h0M426.9 84.3h0M383.8 126.3h0M442.7 45.1h0M447.2 41.1h0M423.6 83.4h0M405.6 93.5h0M396.8 93.1h0M438.4 54.5h0M412.6 70.8h0M365.7 108.5h0M384.3 96.0h0M429.7 63.4h0M392.8 112.7h0M430.9 57.1h0M400.7 76.3h0M427.7 70.0h0M390.9 88.8h0M442.9 59.5h0M377.8 91.7h0M430.9 89.8h0M403.4 101.6h0M426.6 79.4h0M408.9 94.4h0M393.8 95.9h0M391.5 117.5h0M381.5 98.5h0M439.4 85.2h0M403.8 121.0h0M422.2 69.6h0M447.4 47.6h0M384.4 90.2h0M408.0 82.8h0M425.2 80.2h0M433.5 67.5h0M412.8 98.2h0M412.7 85.6h0M400.1 94.4h0M443.4 42.3h0M440.1 54.2h0M393.3 96.0h0M423.4 74.6h0M394.3 110.2h0M455.6 36.3h0M412.3 95.3h0M446.6 58.7h0M444.3 44.0h0"/>
<path stroke="#754fed" d="M426.0 88.0h0M417.1 80.1h0M434.9 75.5h0M415.0 95.3h0M423.8 83.3h0M438.8 71.8h0M400.3 91.2h0M444.7 61.9h0M412.0 94.4h0M410.5 94.3h0M448.8 57.7h0M405.4 94.5h0M409.5 98.2h0M380.1 93.7h0M428.4 95.0h0M421.6 111.3h0M414.8 105.3h0M416.0 81.3h0M441.7 79.4h0M425.1 90.8h0M401.1 95.0h0M402.4 73.2h0M408.4 82.2h0M409.6 106.3h0"/>
<path stroke="#bc1fbf" d="M438.3 56.8h0M376.9 103.3h0M427.9 83.7h0M446.8 53.8h0M366.6 106.1h0M437.7 79.4h0M443.8 50.0h0M429.4 71.4h0M441.6 61.0h0M428.3 85.9h0M371.3 99.5h0M348.4 105.0h0M399.2 90.7h0M426.4 76.5h0M403.9 97.3h0M446.5 63.4h0M443.8 59.8h0M382.0 94.4h0M442.3 61.2h0M438.7 63.6h0M417.4 73.6h0M411.5 83.8h0M409.8 82.4h0M450.2 39.1h0M438.5 71.9h0M396.4 90.0h0M400.4 79.4h0M452.5 46.8h0M438.2 93.2h0M389.6 88.0h0M419.7 98.0h0M382.8 98.1h0M409.3 84.7h0M396.9 89.4h0M397.4 106.4h0M432.4 73.1h0M400.4 97.8h0M430.4 80.3h0"/>
<path stroke="#4c64f6" d="M379.3 107.5h0M445.2 76.0h0M394.1 107.5h0M410.8 105.4h0M420.0 96.5h0M385.6 90.5h0M381.5 99.0h0M389.2 89.2h0M398.5 101.5h0M451.3 50.9h0M387.1 103.1h0M385.0 101.6h0M384.2 94.2h0M411.0 89.5h0M441.5 68.5h0M447.4 55.1h0M413.4 85.4h0M396.8 93.4h0M420.5 82.1h0M424.5 102.5h0M351.9 109.6h0M459.6 51.4h0M441.0 64.7h0M421.7 104.4h0M416.6 85.3h0M426.4 102.4h0"/>
<path stroke="#f80071" d="M380.0 84.9h0M423.3 76.9h0M425.9 63.7h0M404.2 107.4h0M463.7 47.1h0M415.4 98.8h0M396.1 105.5h0M398.7 84.5h0M407.9 66.9h0M430.1 73.9h0M442.2 58.3h0M402.6 101.5h0M449.9 23.6h0M421.5 84.5h0M455.6 42.2h0M417.4 90.2h0M425.3 80.2h0M416.6 85.8h0M440.9 63.0h0M383.9 95.6h0M443.6 46.1h0M401.0 91.9h0M409.9 100.6h0M375.5 93.1h0M357.3 88.7h0M459.7 45.7h0M446.6 32.1h0M450.2 9.4h0M405.6 96.4h0M419.4 83.5h0M345.0 98.4h0M445.0 64.7h0M447.3 45.7h0M397.7 105.4h0M398.5 98.8h0M435.2 65.8h0M440.2 58.9h0M389.6 100.5h0M442.2 61.9h0M386.8 97.0h0M394.5 84.8h0M456.4 22.0h0M397.8 89.7h0M405.3 79.7h0M396.3 82.7h0M377.4 97.9h0M388.6 88.4h0M445.2 52.1h0M444.3 58.3h0M348.1 97.5h0M411.8 81.6h0M415.7 71.7h0M426.3 79.1h0M398.1 84.0h0M433.9 76.3h0M396.8 95.9h0M448.5 36.0h0"/>
<path stroke="#ec0387" d="M408.2 100.8h0M401.0 84.2h0M375.9 97.2h0M408.3 91.4h0M396.7 88.4h0M443.5 53.1h0M395.2 89.2h0M446.7 54.9h0M410.1 90.3h0M418.1 74.3h0M394.5 91.1h0M412.2 92.1h0M447.9 42.0h0M447.6 44.8h0M386.9 99.8h0M407.8 89.1h0M419.2 78.5h0M431.7 78.4h0M435.6 65.1h0M397.1 93.5h0M433.8 70.1h0M438.0 67.6h0M428.1 69.8h0M434.9 62.3h0M448.8 30.1h0M440.9 45.9h0M389.8 116.2h0M421.8 84.5h0M412.4 102.0h0M376.6 101.7h0M365.8 95.4h0M428.2 73.6h0M398.1 104.1h0M434.2 62.0h0M435.0 71.8h0M409.9 76.8h0M411.6 79.0h0M414.1 84.5h0M436.3 67.2h0M417.3 98.2h0M375.8 94.4h0M403.8 91.0h0M440.9 63.5h0"/>
<path stroke="#2a72fb" d="M421.5 90.0h0M432.5 74.4h0M421.9 94.0h0M432.3 88.0h0M417.9 92.9h0M437.3 66.5h0M433.6 77.0h0M441.7 77.1h0M399.5 96.0h0M430.1 85.3h0M363.3 102.4h0M441.3 74.4h0M377.3 93.2h0M457.5 46.9h0M455.0 45.3h0M427.3 92.6h0M356.3 105.5h0M440.8 66.8h0M431.8 89.2h0M426.5 97.1h0M446.4 61.4h0M437.2 72.7h0M439.1 62.3h0M451.6 60.8h0"/>
<path stroke="#117afd" d="M436.4 94.6h0M431.8 76.7h0M434.5 77.9h0M442.5 60.8h0M455.8 47.5h0M449.3 61.6h0M438.7 68.5h0M450.3 52.5h0M436.4 83.1h0M430.8 95.2h0M431.6 79.1h0M454.6 54.0h0M433.8 74.3h0M426.6 96.1h0M458.5 55.6h0M449.9 62.5h0M438.6 81.9h0"/>
<path stroke="#4c64f6" d="M426.2 86.7h0M428.8 96.8h0M382.7 99.2h0M424.7 83.7h0M427.8 86.3h0M426.5 93.1h0M402.5 90.9h0M448.7 49.6h0M427.0 80.0h0M376.8 99.0h0M442.1 74.7h0M386.3 106.3h0M422.6 84.9h0M455.9 64.2h0M402.2 102.3h0M430.2 92.4h0M381.8 96.6h0M442.2 72.0h0M430.1 89.3h0M439.9 75.0h0M404.7 97.3h0M346.7 99.3h0M415.1 102.1h0M448.0 52.6h0M397.5 85.1h0M427.6 81.3h0"/>
<path stroke="#da0aa0" d="M422.0 80.7h0M395.1 70.6h0M452.1 48.0h0M450.4 51.6h0M397.4 96.8h0M367.6 103.9h0M398.2 90.3h0M428.4 77.7h0M388.5 88.3h0M433.2 61.7h0M435.6 76.0h0M403.6 119.6h0M392.5 98.6h0M410.0 94.0h0M395.6 100.7h0M367.0 104.6h0M432.9 68.9h0M397.4 95.4h0M392.3 99.6h0M397.8 74.2h0M396.9 78.7h0M423.3 86.4h0M408.5 71.6h0M417.0 89.8h0M430.0 65.2h0M398.1 86.3h0M414.2 83.7h0M441.5 71.2h0M422.8 81.5h0M373.3 95.5h0M409.1 106.3h0M437.6 80.8h0M437.0 55.4h0M393.0 91.3h0M392.9 97.0h0M432.7 62.8h0M445.7 50.2h0M434.2 60.2h0M401.2 99.9h0M433.4 89.9h0M431.4 75.0h0M388.1 91.8h0M384.7 87.0h0M429.1 71.1h0M406.0 81.9h0"/>
<path stroke="#ff0056" d="M394.8 134.5h0M452.0 14.9h0M389.7 101.8h0M414.6 75.1h0M404.0 78.4h0M411.5 119.7h0M380.0 103.7h0M434.6 75.5h0M452.6 43.5h0M426.0 75.2h0M401.7 95.9h0M416.8 87.3h0M454.7 40.6h0M414.8 79.5h0M416.6 87.9h0M403.1 92.3h0M423.2 66.8h0M428.3 63.5h0M438.3 37.1h0M365.0 110.6h0M450.5 11.4h0M345.3 103.7h0M414.7 98.2h0M417.9 72.9h0M447.7 35.9h0M407.8 80.2h0M421.7 74.2h0M403.9 97.0h0M426.6 79.4h0M435.5 75.7h0M408.3 145.0h0M428.0 78.8h0M446.7 45.5h0"/>
<path stroke="#ec0387" d="M451.4 46.4h0M434.8 63.9h0M368.5 94.8h0M437.0 72.0h0M429.8 78.3h0M435.9 53.3h0M370.6 100.9h0M388.1 89.6h0M397.9 81.6h0M396.5 88.4h0M393.7 92.0h0M424.7 73.8h0M410.9 95.9h0M445.4 39.2h0M402.6 87.3h0M407.6 102.3h0M393.6 96.4h0M391.6 99.6h0M445.0 44.7h0M406.3 73.0h0M382.8 88.2h0M448.6 40.1h0M441.1 49.5h0M400.2 77.9h0M396.2 91.3h0M417.7 103.8h0M404.1 99.7h0M427.8 79.9h0M378.9 101.9h0M412.1 80.2h0M411.5 99.7h0M437.6 48.7h0M391.7 86.9h0M416.9 74.3h0M447.9 36.4h0M430.7 76.6h0M420.9 102.6h0M431.5 69.5h0M383.2 106.0h0M396.1 110.4h0M368.4 87.5h0M452.5 44.1h0M435.8 56.4h0M436.9 65.2h0M430.4 82.6h0M394.3 81.1h0M373.9 98.7h0M407.3 105.5h0M444.1 51.4h0"/>
<path stroke="#057ffd" d="M456.9 52.5h0M421.2 83.4h0M436.2 78.6h0M431.4 87.2h0M463.4 54.7h0M423.7 96.2h0M444.5 60.2h0M441.6 76.3h0M437.7 89.2h0M430.4 79.0h0M444.3 74.2h0M434.8 75.3h0M428.4 76.6h0M440.7 60.9h0M439.1 65.0h0M425.8 84.8h0M442.8 90.6h0M434.8 78.4h0M439.5 91.7h0"/>
<path stroke="#bc1fbf" d="M434.7 71.8h0M440.4 53.5h0M425.3 95.8h0M394.0 90.4h0M432.0 87.5h0M444.7 55.5h0M401.9 94.4h0M413.8 96.9h0M462.2 46.6h0M407.5 94.1h0M350.7 87.5h0M417.9 89.2h0M381.9 98.9h0M356.8 100.5h0M417.6 95.3h0M390.6 96.0h0M457.6 45.4h0M431.9 63.4h0M424.5 80.2h0M404.0 94.4h0M395.2 103.5h0M421.4 75.2h0M434.3 59.1h0M402.2 89.2h0M463.7 44.7h0M405.5 75.3h0M454.3 40.4h0"/>
<path stroke="#117afd" d="M421.3 89.9h0M429.2 83.5h0M434.2 91.6h0M450.2 62.4h0M455.8 61.6h0M457.4 52.6h0M424.8 87.4h0M452.3 51.6h0M432.6 89.0h0M443.0 67.7h0M458.7 55.3h0M438.6 67.7h0M440.7 64.2h0M460.6 48.7h0M453.6 67.6h0M429.5 101.3h0M427.4 85.6h0M427.0 84.9h0M435.6 82.0h0"/>
<path stroke="#2a72fb" d="M443.7 66.5h0M445.2 64.9h0M420.5 86.5h0M447.0 64.8h0M463.7 57.5h0M447.7 46.5h0M438.4 67.0h0M391.4 86.9h0M423.3 94.4h0M425.1 95.4h0M428.1 92.6h0M434.5 70.7h0M397.1 99.8h0M433.4 85.8h0M417.9 99.0h0M397.9 98.3h0M441.9 66.2h0M446.3 47.4h0M437.8 81.7h0M432.7 76.9h0M463.7 51.4h0M441.9 73.0h0M430.8 82.4h0M444.4 66.3h0M436.0 68.8h0M414.1 98.7h0M437.0 72.4h0M431.7 88.4h0"/>
<path stroke="#754fed" d="M422.7 72.1h0M452.7 48.5h0M438.1 73.2h0M423.5 91.5h0M439.6 68.0h0M405.0 109.6h0M422.8 96.0h0M387.0 85.5h0M427.9 89.7h0M441.1 74.9h0M406.9 98.5h0M374.0 96.3h0M413.4 106.4h0M443.6 57.4h0M425.1 63.4h0M409.7 109.9h0M441.8 66.8h0M390.3 93.1h0M425.8 79.5h0M413.2 82.3h0M463.7 48.2h0M430.8 74.8h0M426.1 71.7h0M436.3 53.4h0M339.8 101.1h0M426.4 77.4h0M417.0 94.5h0M425.2 97.9h0M422.8 83.6h0"/>
<path stroke="#9838d9" d="M394.7 93.8h0M393.0 99.7h0M441.3 71.5h0M422.6 96.8h0M418.6 80.6h0M433.4 87.8h0M441.5 77.5h0M399.3 92.4h0M377.0 98.3h0M398.0 98.1h0M390.9 108.5h0M384.9 100.0h0M423.9 79.2h0M437.5 81.4h0M409.3 76.1h0M454.1 59.2h0M411.5 92.8h0M448.1 43.4h0M447.0 65.5h0M424.4 88.0h0M412.3 94.7h0M382.3 112.8h0M441.0 63.4h0M448.2 74.7h0M424.0 83.3h0M422.8 93.7h0M416.3 99.3h0M419.1 95.0h0M410.3 80.5h0"/>
<path stroke="#ff0060" d="M413.8 67.1h0M396.5 89.4h0M448.3 41.2h0M432.2 60.0h0M432.6 73.1h0M407.7 83.4h0M392.6 93.0h0M411.1 104.0h0M452.1 49.1h0M427.6 113.4h0M395.5 85.2h0M421.6 87.0h0M418.6 76.6h0M410.1 74.8h0M404.6 82.1h0M451.8 46.3h0M432.8 56.5h0M406.3 98.0h0M409.6 97.3h0M448.5 38.2h0M406.1 88.9h0M441.9 61.6h0M383.4 91.6h0M400.7 111.3h0M441.5 35.9h0M441.6 49.3h0M393.0 85.2h0M377.2 90.1h0M421.4 75.4h0M380.3 85.2h0M390.9 87.1h0M441.4 60.7h0M393.3 85.6h0M386.7 111.4h0M431.6 81.4h0M412.0 88.3h0M418.5 80.9h0M424.5 75.8h0M456.5 43.0h0M397.1 95.8h0M431.8 71.0h0M415.6 81.6h0M448.0 46.9h0M397.1 73.4h0M446.4 60.0h0M437.6 65.6h0M398.2 103.9h0"/>
<path stroke="#f80071" d="M440.8 67.0h0M424.0 83.4h0M414.7 87.6h0M406.0 94.9h0M364.5 117.0h0M401.4 82.3h0M405.9 99.0h0M398.6 77.3h0M408.2 86.7h0M366.3 93.3h0M388.7 100.1h0M371.9 89.2h0M382.5 97.5h0M384.6 93.9h0M405.9 97.3h0M423.7 77.7h0M435.5 54.1h0M401.7 90.2h0M453.4 45.1h0M400.6 108.5h0M448.4 41.4h0M439.7 67.4h0M448.5 35.8h0M424.4 90.9h0M436.3 66.9h0M449.0 50.6h0M396.9 82.6h0M414.9 91.8h0M340.8 101.2h0M437.8 39.7h0M411.4 103.3h0M378.2 82.1h0M459.6 45.6h0M369.4 98.7h0M355.3 96.0h0M397.8 76.3h0M447.8 34.8h0M409.0 102.1h0M377.2 98.4h0M408.5 78.3h0M426.5 79.8h0"/>
<path stroke="#057ffd" d="M432.4 80.5h0M422.1 91.2h0M419.7 107.5h0M439.3 75.2h0M430.9 93.9h0M441.3 69.9h0M440.6 59.1h0M440.1 70.5h0M447.4 68.2h0M430.5 93.8h0M438.2 75.8h0M440.2 59.0h0M445.0 65.5h0M437.2 85.4h0M446.5 65.4h0M429.0 90.6h0"/>
<path stroke="#754fed" d="M449.1 71.9h0M457.9 61.2h0M428.5 81.4h0M414.9 120.2h0M428.8 76.8h0M399.9 94.0h0M427.0 85.5h0M444.2 56.1h0M403.4 92.0h0M425.3 76.2h0M444.9 72.2h0M410.5 95.9h0M425.4 83.1h0M388.1 86.4h0M432.4 81.5h0M411.6 75.5h0M425.9 92.1h0M435.0 83.0h0M401.6 96.0h0M429.1 73.7h0M422.3 74.2h0M446.0 59.3h0M408.3 108.2h0M442.6 70.7h0M423.6 105.1h0M374.4 89.5h0"/>
<path stroke="#ff0060" d="M424.4 74.1h0M402.0 91.0h0M408.5 98.7h0M428.6 65.5h0M404.1 90.5h0M420.2 74.5h0M427.7 87.9h0M394.3 116.6h0M366.7 101.5h0M413.7 93.0h0M405.8 102.9h0M448.8 34.3h0M404.5 85.0h0M404.1 95.9h0M415.1 74.9h0M390.0 90.7h0M417.1 77.9h0M404.8 88.8h0M433.5 60.1h0M401.5 89.7h0M403.5 81.8h0M403.8 87.9h0M457.4 19.9h0M411.7 89.4h0M401.4 103.3h0M434.9 63.9h0M432.2 71.0h0M407.9 100.6h0M439.7 57.0h0M398.9 83.8h0M411.0 108.2h0M396.3 100.3h0M431.4 79.2h0M398.7 99.3h0M396.3 94.2h0M446.5 24.8h0"/>
<path stroke="#f80071" d="M347.0 99.4h0M395.6 108.7h0M419.3 101.0h0M348.5 97.9h0M427.7 72.2h0M413.7 96.2h0M438.9 65.2h0M438.9 64.4h0M408.9 81.2h0M433.5 46.2h0M383.8 92.6h0M413.7 84.6h0M403.8 91.7h0M435.2 58.3h0M416.8 86.0h0M406.5 105.8h0M437.2 67.3h0M418.4 73.4h0M361.9 106.7h0M398.2 80.0h0M357.5 113.5h0M375.8 96.3h0M379.8 114.8h0M408.6 92.7h0M450.1 45.3h0M419.2 125.6h0M403.8 95.3h0M411.8 78.3h0M438.7 66.0h0M405.2 94.3h0M408.2 92.8h0M453.8 36.7h0M359.8 103.0h0M389.1 72.2h0M411.2 94.0h0M425.3 71.5h0M402.1 88.9h0M447.7 39.8h0M381.4 99.9h0M398.9 89.8h0M417.1 94.8h0M375.9 130.6h0M400.7 78.0h0M403.8 102.8h0M438.6 54.2h0M381.2 98.6h0M443.9 46.4h0M415.0 110.1h0M376.3 89.9h0M406.8 76.9h0M400.2 88.1h0M423.0 72.5h0M414.8 80.5h0M363.0 100.8h0M381.9 101.0h0M406.8 86.6h0M381.5 94.1h0M380.5 100.5h0M430.5 69.3h0M434.4 69.4h0M396.0 94.9h0"/>
<path stroke="#2a72fb" d="M421.5 84.2h0M463.7 64.2h0M424.8 85.3h0M438.6 64.8h0M442.9 66.3h0M443.1 83.1h0M426.9 83.1h0M435.8 81.1h0M426.5 89.7h0M436.0 75.6h0M424.0 83.9h0M440.4 58.5h0M447.7 57.4h0M430.0 78.3h0M445.7 57.5h0M423.2 98.8h0M460.0 57.0h0M382.2 93.1h0M433.2 84.5h0M424.1 109.2h0M434.6 70.3h0"/>
<path stroke="#117afd" d="M433.2 71.0h0M421.6 91.7h0M431.0 89.7h0M424.9 81.6h0M434.4 78.4h0M435.5 76.4h0M436.7 81.5h0M430.4 87.3h0M439.7 84.8h0M436.2 75.4h0M436.9 64.5h0M457.8 52.0h0M441.1 77.9h0M435.2 74.4h0M423.5 103.3h0M453.4 62.3h0M441.1 71.2h0M454.9 56.6h0M435.5 83.3h0M434.0 81.5h0M436.5 75.7h0M420.0 95.4h0M441.9 86.6h0M445.4 58.5h0M437.4 67.3h0M445.2 68.6h0M437.0 73.2h0"/>
<path stroke="#bc1fbf" d="M415.1 81.1h0M389.2 90.4h0M427.4 90.5h0M426.3 82.1h0M428.5 66.2h0M399.3 93.0h0M435.7 58.6h0M460.2 39.8h0M387.0 108.9h0M418.7 85.2h0M435.3 76.3h0M379.5 91.1h0M401.7 101.1h0M416.3 94.9h0M361.9 95.6h0M424.9 93.2h0M387.6 96.5h0M421.0 82.2h0M428.3 85.7h0M425.6 66.9h0M359.6 99.3h0M442.4 78.3h0M411.1 84.7h0M405.7 91.0h0M411.5 112.5h0M438.4 66.9h0M369.4 102.7h0"/>
<path stroke="#4c64f6" d="M397.1 94.7h0M453.7 59.0h0M410.7 94.8h0M426.5 94.4h0M428.0 85.3h0M362.6 104.9h0M435.7 96.9h0M440.2 68.1h0M415.0 85.5h0M406.8 91.5h0M444.2 59.1h0M420.5 85.4h0M429.0 101.6h0M424.9 92.7h0M418.5 94.6h0M424.5 98.6h0M441.7 67.8h0M387.9 100.3h0M430.5 73.7h0M400.8 87.1h0M432.3 82.8h0M446.5 48.6h0M397.2 96.2h0M448.2 62.0h0M442.5 66.1h0"/>
<path stroke="#ec0387" d="M409.3 103.4h0M371.3 92.1h0M402.5 79.1h0M435.4 60.6h0M357.6 98.5h0M406.2 85.8h0M458.7 38.3h0M397.0 90.7h0M382.4 104.3h0M421.2 75.6h0M398.2 98.5h0M420.4 76.1h0M445.6 57.4h0M453.0 29.8h0M413.5 83.5h0M447.2 37.9h0M410.2 101.3h0M438.9 57.1h0M435.2 67.6h0M403.9 127.3h0M429.3 67.3h0M423.2 82.6h0M438.8 66.2h0M430.9 74.9h0M435.7 53.6h0M395.1 94.4h0M427.8 70.9h0M409.3 110.7h0M386.1 84.4h0M386.6 89.6h0M390.8 86.8h0M443.1 59.0h0M438.7 43.6h0M412.4 82.3h0M454.4 34.7h0M423.4 76.0h0M439.4 66.0h0M439.3 60.6h0M431.2 77.9h0M321.1 103.8h0M406.6 92.6h0M405.5 103.0h0M414.0 88.6h0M444.6 40.8h0M384.4 96.7h0M423.0 74.4h0M385.6 97.0h0M385.3 92.9h0M366.6 98.9h0M401.9 84.4h0"/>
<path stroke="#9838d9" d="M431.6 83.0h0M434.8 85.8h0M426.1 77.7h0M394.2 98.7h0M397.5 95.6h0M393.8 101.7h0M426.9 91.4h0M355.4 108.8h0M445.1 41.8h0M397.5 99.0h0M428.6 98.8h0M417.7 92.6h0M424.3 100.6h0M452.8 57.7h0M413.0 89.5h0M424.7 110.1h0M396.1 94.6h0M427.0 91.4h0M384.1 110.2h0M362.8 97.9h0M397.4 89.4h0M408.9 85.7h0M417.1 83.9h0M439.2 65.5h0M427.8 80.1h0"/>
<path stroke="#da0aa0" d="M427.7 90.2h0M400.9 102.1h0M375.5 92.9h0M406.9 75.4h0M446.4 48.6h0M377.2 91.5h0M394.2 95.9h0M407.6 101.9h0M406.8 96.5h0M441.5 68.1h0M417.0 93.0h0M409.8 95.1h0M421.0 82.3h0M448.8 53.3h0M384.7 94.8h0M409.3 97.7h0M438.3 70.5h0M402.0 93.3h0M356.9 95.3h0M400.5 76.8h0M443.0 50.3h0M386.7 100.0h0M345.0 106.2h0M392.6 88.8h0M439.5 48.7h0M406.3 93.5h0M454.1 30.0h0M424.6 63.8h0M393.2 119.1h0M431.5 64.4h0M386.8 101.5h0M367.2 90.4h0M449.1 50.3h0M433.6 55.3h0M433.5 73.5h0M398.6 97.5h0M442.9 58.3h0"/>
<path stroke="#ff0056" d="M448.2 49.5h0M401.7 113.3h0M451.5 48.6h0M424.1 75.8h0M405.5 107.6h0M442.8 41.8h0M427.7 72.2h0M425.0 70.2h0M432.4 112.9h0M396.2 78.4h0M398.7 92.7h0M395.7 91.6h0M403.4 112.1h0M429.0 76.0h0M432.5 76.6h0M448.8 48.2h0M422.6 79.3h0M442.3 54.0h0M413.7 84.8h0M415.4 78.3h0M439.0 59.3h0M416.3 94.4h0M396.4 108.8h0M441.1 52.2h0M409.9 76.4h0M405.0 83.3h0M398.0 96.0h0M378.0 90.8h0M455.2 30.2h0M389.8 81.6h0M433.4 75.1h0M407.7 118.6h0M424.8 75.7h0M399.3 89.9h0M404.4 100.8h0M408.8 89.2h0M446.6 40.8h0M436.3 122.2h0M436.9 63.0h0M397.2 70.7h0M391.0 92.5h0"/>
<path stroke="#057ffd" d="M454.7 43.6h0M436.9 85.3h0M444.4 60.9h0M438.5 82.1h0M446.9 51.9h0M441.2 66.5h0M454.8 71.1h0M432.4 81.2h0M436.3 95.0h0M432.0 95.1h0M438.6 89.1h0M437.4 86.2h0M432.4 75.1h0M452.8 53.7h0M422.4 91.8h0M439.0 72.3h0M446.9 48.2h0"/>
<path stroke="#117afd" d="M427.6 80.1h0M452.0 52.4h0M427.0 87.2h0M427.2 84.4h0M450.5 50.5h0M427.1 78.6h0M421.9 80.8h0M446.1 62.4h0M440.5 82.3h0M422.0 83.4h0M448.5 58.8h0M428.2 76.8h0M435.6 82.7h0M443.5 61.1h0M433.1 88.0h0M436.1 79.1h0M436.8 75.5h0M430.6 90.1h0"/>
<path stroke="#ff0056" d="M399.7 99.9h0M396.6 95.3h0M411.0 92.1h0M403.7 95.0h0M373.2 92.8h0M379.2 96.8h0M428.5 82.0h0M442.2 38.6h0M435.5 59.8h0M441.3 47.2h0M437.6 58.2h0M449.5 40.3h0M431.3 57.2h0M436.7 60.0h0M431.2 64.0h0M434.0 59.8h0M411.6 81.7h0M364.6 107.1h0M435.4 63.4h0M431.0 65.7h0M421.3 77.0h0M409.3 76.0h0M440.5 61.4h0M422.0 81.8h0M399.7 79.0h0M419.0 77.2h0M448.1 41.6h0M409.2 85.8h0M431.0 58.9h0M449.0 31.2h0M410.9 98.3h0M429.7 73.9h0M389.4 88.1h0M413.3 80.6h0M450.6 23.3h0M413.6 87.1h0M429.6 79.7h0M395.2 88.0h0M446.9 50.8h0M419.6 74.4h0"/>
<path stroke="#ec0387" d="M407.0 115.2h0M392.5 94.6h0M403.1 91.6h0M408.3 91.9h0M418.9 99.3h0M445.3 48.6h0M388.2 91.4h0M384.7 94.6h0M440.3 57.4h0M442.6 64.3h0M437.0 58.0h0M417.0 71.3h0M381.8 80.4h0M398.9 119.0h0M411.1 92.0h0M410.3 89.6h0M453.9 28.8h0M411.1 92.5h0M390.8 106.8h0M437.2 60.1h0M362.3 91.0h0M439.5 49.0h0M448.1 35.1h0M455.8 37.0h0M381.7 88.5h0M412.9 90.0h0M446.0 51.5h0M380.9 91.0h0M368.1 106.1h0M420.7 70.7h0M411.4 89.9h0M432.3 79.6h0M408.3 82.3h0M422.4 105.1h0M449.2 33.2h0M398.4 93.7h0M385.4 102.4h0M411.8 91.5h0M426.5 75.1h0M410.2 104.2h0M405.1 74.3h0M424.7 72.6h0M419.6 105.0h0M433.5 58.8h0M430.6 68.3h0M306.5 98.5h0M366.6 109.9h0M411.6 92.3h0M448.3 44.5h0M403.5 91.7h0"/>
<path stroke="#2a72fb" d="M439.2 71.0h0M379.0 96.5h0M441.3 74.2h0M420.0 90.6h0M424.8 90.1h0M444.9 57.2h0M424.0 101.7h0M440.7 56.7h0M441.4 60.0h0M437.6 81.1h0M427.2 79.6h0M445.4 53.2h0M427.2 93.2h0M452.5 54.7h0M421.3 97.5h0M456.1 50.8h0M437.5 91.2h0M426.9 82.3h0M441.0 69.2h0M404.9 100.8h0"/>
<path stroke="#ff0060" d="M413.4 74.4h0M449.8 32.4h0M388.5 80.2h0M306.5 104.6h0M419.7 84.4h0M414.2 80.4h0M434.5 63.3h0M366.0 89.5h0M439.4 66.9h0M433.8 62.6h0M416.1 102.6h0M430.5 73.3h0M433.0 61.7h0M448.8 34.9h0M409.4 85.8h0M392.4 93.7h0M374.8 91.5h0M406.1 91.4h0M401.1 78.6h0M432.7 61.6h0M393.2 86.7h0M391.6 84.1h0M375.1 86.7h0M442.1 56.9h0M410.6 93.2h0M400.2 105.7h0M450.9 46.6h0M402.1 116.4h0M366.1 99.4h0M396.8 109.8h0M404.7 87.4h0M441.1 54.6h0M408.2 84.5h0M388.5 105.6h0M424.7 69.1h0M415.6 93.3h0M373.9 96.4h0M450.3 44.6h0M397.3 99.4h0M415.2 85.2h0M393.9 82.9h0M444.6 58.5h0M454.6 40.5h0M416.4 91.0h0M406.4 92.6h0M356.6 96.9h0M458.9 35.4h0M415.7 109.5h0"/>
<path stroke="#9838d9" d="M409.1 97.9h0M431.4 73.8h0M372.1 104.7h0M423.2 69.9h0M436.2 68.3h0M429.5 97.2h0M435.8 89.0h0M429.5 78.3h0M430.8 71.8h0M381.7 86.1h0M399.5 87.9h0M413.0 88.1h0M420.4 102.9h0M402.9 81.7h0M408.7 98.5h0M437.8 50.2h0M385.9 113.7h0M384.7 92.6h0M428.3 91.3h0M383.1 103.5h0M438.8 60.2h0"/>
<path stroke="#bc1fbf" d="M436.6 64.9h0M428.2 64.0h0M437.5 53.3h0M390.4 95.2h0M398.5 98.1h0M400.1 95.1h0M385.0 96.9h0M408.8 87.3h0M395.7 90.1h0M430.8 65.6h0M439.2 72.8h0M415.2 87.6h0M407.0 106.5h0M438.4 62.4h0M402.5 85.9h0M452.9 41.4h0M396.8 89.3h0M426.8 97.4h0M394.2 82.7h0M441.0 45.7h0M427.6 94.4h0M444.9 52.2h0M408.1 85.5h0M436.9 68.3h0M438.0 72.6h0M388.7 98.5h0M406.1 83.8h0M403.2 85.1h0M401.3 84.9h0M418.7 106.8h0M369.9 94.5h0M419.6 80.5h0M439.3 72.9h0M432.3 78.4h0M440.5 59.6h0"/>
<path stroke="#4c64f6" d="M421.3 87.8h0M419.9 108.8h0M421.8 84.6h0M412.6 95.2h0M413.9 100.7h0M405.4 97.9h0M420.6 107.6h0M438.3 71.4h0M394.3 96.8h0M424.8 92.2h0M435.6 84.7h0M427.8 74.2h0M437.3 76.9h0M413.2 85.1h0M423.6 86.5h0M392.0 91.9h0"/>
<path stroke="#754fed" d="M446.5 46.7h0M415.7 76.5h0M439.9 70.9h0M420.9 107.0h0M406.3 92.6h0M438.9 75.1h0M453.1 64.2h0M422.9 99.5h0M424.2 99.7h0M408.0 90.2h0M452.7 57.5h0M445.9 59.4h0M419.8 100.3h0M392.1 90.8h0M397.6 84.1h0M419.9 83.4h0M396.7 90.2h0M368.3 103.6h0M364.2 94.1h0M427.7 101.9h0M428.4 92.2h0M430.4 80.4h0M439.8 79.9h0M420.4 95.1h0M395.5 96.9h0"/>
<path stroke="#da0aa0" d="M421.7 64.6h0M372.8 98.1h0M393.2 80.2h0M413.5 92.9h0M429.4 64.0h0M441.6 61.0h0M407.8 92.3h0M437.8 50.6h0M411.6 80.6h0M423.6 79.8h0M373.8 98.3h0M423.4 85.4h0M417.0 96.3h0M433.3 63.3h0M401.4 80.8h0M431.3 79.3h0M439.5 51.5h0M433.1 74.5h0M405.8 86.7h0M376.9 101.7h0M455.9 45.2h0M399.8 91.6h0M403.2 89.1h0M394.7 84.4h0M388.9 94.2h0M420.7 67.1h0M416.1 84.1h0M376.6 105.3h0M400.6 101.7h0M445.2 54.7h0M444.1 62.1h0M433.9 80.1h0M417.1 73.5h0M424.8 75.0h0M416.3 87.0h0"/>
<path stroke="#f80071" d="M407.1 88.5h0M414.6 80.7h0M393.8 81.8h0M436.4 63.7h0M430.0 66.5h0M450.5 41.4h0M354.9 99.1h0M411.2 99.5h0M376.0 88.4h0M401.3 92.2h0M456.5 32.4h0M414.7 125.3h0M382.1 84.3h0M393.9 120.5h0M401.4 78.1h0M434.3 61.9h0M415.3 98.6h0M414.5 83.7h0M444.2 44.8h0M436.1 65.3h0M423.7 74.8h0M394.3 94.0h0M438.0 69.6h0M406.8 88.9h0M439.7 63.2h0M428.7 86.3h0M394.1 86.7h0M399.5 94.1h0M371.5 93.0h0M437.3 47.2h0M393.6 99.3h0M401.1 101.0h0M453.1 52.7h0M436.0 65.1h0M363.4 97.8h0M402.1 94.5h0M445.3 59.2h0M370.9 96.6h0M399.4 93.7h0M380.4 111.5h0M449.1 27.9h0M417.8 76.3h0M365.4 100.6h0M443.0 51.9h0M398.2 87.6h0M378.8 99.0h0M448.5 25.8h0M441.4 39.9h0M413.9 86.6h0M401.9 95.3h0M394.7 95.3h0M381.8 92.6h0M411.8 113.1h0M412.3 86.5h0M426.7 79.7h0M427.0 69.5h0M372.7 103.2h0M413.2 100.0h0M447.2 48.9h0M413.9 91.4h0M374.4 100.2h0M417.6 91.2h0M438.9 57.2h0M435.9 61.2h0M411.8 89.3h0M429.8 67.9h0M411.6 88.3h0"/>
<path stroke="#ec0387" d="M396.5 85.6h0M445.0 64.1h0M408.5 99.5h0M440.6 58.6h0M368.3 102.4h0M435.3 83.1h0M445.4 54.1h0M345.7 95.6h0M456.4 33.3h0M451.2 41.7h0M424.2 85.1h0M397.1 92.1h0M440.9 64.0h0M394.8 96.4h0M391.6 100.9h0M373.8 106.6h0M410.0 98.3h0M433.1 73.0h0M417.0 88.9h0M386.9 97.2h0M417.7 81.9h0M397.7 111.4h0M417.0 84.8h0M402.5 97.5h0M349.1 109.9h0M448.8 116.2h0M463.7 40.2h0M380.6 91.7h0M396.6 107.1h0M420.2 86.6h0M380.3 109.2h0M415.1 96.0h0M401.8 85.4h0M445.0 56.2h0M429.3 80.4h0M450.3 45.3h0M397.1 80.0h0M366.4 131.1h0M400.2 101.7h0M404.0 78.4h0M449.8 45.0h0M393.8 109.2h0M428.2 58.7h0"/>
<path stroke="#117afd" d="M431.6 75.5h0M423.5 92.0h0M438.8 67.0h0M437.2 69.7h0M436.9 84.6h0M442.7 64.6h0M436.0 91.0h0M444.5 65.4h0M427.4 104.4h0M422.0 91.8h0M427.4 91.9h0M463.7 53.4h0M442.9 69.8h0M444.1 70.3h0M449.0 58.9h0M436.2 86.8h0M429.4 94.9h0M453.4 68.4h0M443.1 62.2h0M442.1 54.6h0M422.3 100.8h0M439.8 61.0h0M444.0 69.0h0M429.8 89.5h0M445.5 63.8h0M437.5 82.4h0M432.7 84.8h0M424.9 88.8h0M430.0 88.3h0"/>
<path stroke="#2a72fb" d="M433.6 84.3h0M402.4 97.3h0M439.2 78.2h0M418.8 78.3h0M445.7 67.7h0M447.0 67.6h0M446.7 64.0h0M413.2 111.0h0M445.6 78.8h0M452.9 58.1h0M437.4 80.1h0M429.5 85.2h0M427.0 85.5h0M432.1 97.8h0M452.3 48.6h0M427.7 88.1h0M450.0 66.0h0M430.6 87.7h0M435.9 70.1h0M428.3 84.1h0M433.2 89.4h0M442.0 65.8h0M440.4 65.6h0M437.4 81.7h0M426.3 91.0h0M418.8 100.0h0"/>
<path stroke="#4c64f6" d="M415.4 95.8h0M408.3 90.2h0M429.6 95.8h0M421.5 87.7h0M423.0 98.4h0M438.4 66.5h0M439.2 74.1h0M420.2 96.5h0M425.2 76.4h0M406.4 97.5h0M426.4 84.3h0M381.0 113.7h0M430.4 90.5h0M414.2 100.2h0M426.8 87.1h0M412.9 106.7h0M439.1 70.7h0M434.9 70.3h0M404.4 95.3h0M426.2 77.6h0"/>
<path stroke="#bc1fbf" d="M426.2 89.3h0M435.9 62.8h0M430.2 74.1h0M413.2 79.8h0M379.7 95.6h0M380.4 101.3h0M443.3 37.8h0M402.6 91.3h0M391.3 106.1h0M407.1 84.0h0M438.3 54.6h0M457.6 46.2h0M448.4 55.4h0M411.4 97.0h0M446.2 54.0h0M400.7 89.2h0M438.3 64.6h0M459.4 55.2h0M389.6 103.4h0M414.1 85.0h0M387.0 95.4h0M445.0 40.4h0M405.5 115.0h0M428.8 89.5h0M431.1 72.8h0M403.9 92.5h0M398.2 73.0h0M407.0 85.1h0M362.8 93.3h0M452.3 48.0h0M438.8 52.3h0M441.1 56.6h0M449.2 31.6h0M390.4 85.1h0M431.7 89.7h0M437.2 65.9h0M446.8 57.6h0M352.4 90.3h0M409.8 84.3h0M400.8 82.0h0"/>
<path stroke="#9838d9" d="M426.0 96.2h0M418.4 95.2h0M394.6 96.6h0M420.1 96.7h0M419.7 88.1h0M446.8 67.6h0M418.0 105.6h0M431.6 72.1h0M395.9 109.4h0M397.5 102.5h0M400.9 88.1h0M333.5 101.1h0M400.2 89.7h0M378.9 101.9h0M392.2 92.9h0M437.8 55.5h0M387.9 90.0h0M430.0 85.4h0"/>
<path stroke="#f80071" d="M434.9 68.0h0M402.8 91.0h0M422.6 76.0h0M381.5 97.2h0M391.9 126.5h0M412.2 99.3h0M399.4 72.1h0M349.5 103.5h0M432.8 53.4h0M384.6 83.8h0M400.3 85.7h0M403.6 89.7h0M400.7 81.7h0M431.9 66.6h0M393.4 100.3h0M399.9 120.0h0M372.3 91.0h0M340.8 95.7h0M429.1 62.1h0M388.9 102.7h0M431.2 71.9h0M376.9 94.4h0M403.1 86.3h0M386.7 91.9h0M444.0 40.6h0M413.6 111.5h0M414.9 93.3h0M437.0 68.4h0M407.0 93.2h0M404.4 98.1h0M441.8 48.9h0M436.2 55.2h0M397.0 81.4h0M395.5 82.9h0M447.3 35.8h0M403.1 82.1h0M409.1 71.6h0M408.0 90.1h0M422.1 144.5h0M420.6 78.1h0M412.4 85.9h0M448.4 44.1h0M413.4 79.2h0M393.3 111.4h0M443.1 65.3h0M414.8 90.9h0M362.9 100.9h0M409.9 100.8h0"/>
<path stroke="#da0aa0" d="M422.2 79.1h0M459.9 46.3h0M383.8 86.3h0M394.9 99.5h0M437.4 67.1h0M428.6 80.0h0M384.6 109.0h0M421.9 89.4h0M366.7 94.2h0M426.1 69.9h0M419.8 101.9h0M402.4 91.7h0M447.1 42.6h0M453.5 42.4h0M444.2 58.1h0M429.7 73.9h0M443.4 56.3h0M400.8 105.5h0M362.4 92.3h0M426.0 88.4h0M408.0 105.2h0M422.0 82.7h0M460.2 36.6h0M415.1 87.2h0M407.5 89.5h0M402.0 94.2h0M399.1 93.9h0M431.8 66.3h0M447.4 47.8h0M435.1 68.8h0M411.2 76.9h0M430.3 80.4h0M404.0 76.1h0M450.4 44.6h0M415.6 111.1h0M402.7 90.7h0M406.4 69.0h0M386.2 105.2h0M416.5 110.3h0M397.2 92.0h0M423.9 103.0h0M437.1 54.5h0M363.6 94.7h0"/>
<path stroke="#ff0056" d="M447.5 50.3h0M418.1 96.8h0M425.1 77.1h0M446.9 48.6h0M397.9 97.0h0M418.0 88.3h0M432.7 73.1h0M394.0 96.7h0M442.5 101.1h0M384.4 85.9h0M374.4 97.8h0M389.9 89.4h0M399.8 95.1h0M440.5 63.8h0M401.6 83.0h0M414.6 84.0h0M423.6 69.6h0M380.0 79.2h0M391.3 91.4h0M390.6 100.8h0M390.5 102.7h0M421.0 86.9h0M423.5 81.7h0M368.0 95.5h0M450.8 47.4h0M399.5 97.7h0M396.7 99.8h0M420.1 87.3h0M450.3 33.0h0M436.6 62.4h0M373.9 95.6h0M423.6 86.2h0M436.5 61.9h0M418.2 99.2h0M441.2 52.9h0M427.3 70.5h0M382.3 71.3h0M368.9 94.1h0M417.5 99.1h0"/>
<path stroke="#ff0060" d="M430.7 63.6h0M368.5 103.8h0M449.0 45.3h0M420.9 88.6h0M410.5 88.8h0M441.2 60.6h0M419.3 123.3h0M448.0 42.8h0M418.9 98.4h0M404.3 92.2h0M391.6 131.5h0M429.7 61.6h0M393.3 93.5h0M398.1 86.2h0M403.0 84.4h0M441.0 67.4h0M447.4 40.9h0M401.8 89.6h0M405.6 66.1h0M442.0 39.9h0M432.5 75.5h0M433.4 69.8h0M403.0 96.1h0M409.6 90.9h0M413.0 92.5h0M399.2 68.3h0M398.9 108.5h0M396.4 87.5h0M403.6 82.5h0M423.9 113.9h0M414.9 114.9h0M437.1 56.0h0M451.8 14.2h0M425.1 84.1h0M438.7 55.6h0M402.8 98.3h0M406.0 86.7h0M389.1 84.9h0M404.7 83.9h0M397.2 83.2h0M445.7 49.9h0M445.9 28.7h0"/>
<path stroke="#057ffd" d="M440.3 75.5h0M446.1 59.0h0M449.0 59.7h0M434.2 84.2h0M446.3 53.7h0M442.5 72.1h0M438.2 77.9h0M439.9 81.6h0M444.6 60.7h0M437.6 70.4h0M437.6 70.8h0M439.8 80.9h0M438.2 69.1h0M440.2 66.2h0M439.4 74.4h0M441.0 77.8h0M442.0 76.4h0M441.5 74.9h0M458.0 48.0h0"/>
<path stroke="#754fed" d="M401.2 95.0h0M419.5 86.2h0M394.1 90.3h0M420.3 88.0h0M420.9 92.5h0M418.1 95.8h0M374.2 98.1h0M423.4 76.9h0M453.0 48.9h0M395.8 93.5h0M463.5 50.2h0M423.6 87.4h0M445.0 56.4h0M417.6 89.2h0M384.0 96.2h0M408.9 103.2h0M402.1 87.4h0M427.9 86.6h0M459.8 59.2h0M425.7 78.9h0M426.0 92.3h0M440.0 62.6h0M385.7 97.6h0M364.9 102.1h0M431.6 73.3h0"/>
<path stroke="#2a72fb" d="M386.7 94.2h0M451.0 57.9h0M435.9 95.9h0M415.1 85.4h0M435.1 91.4h0M437.7 72.2h0M447.3 69.1h0M423.0 92.2h0M432.4 81.3h0M406.9 101.3h0M446.8 73.4h0M454.7 46.9h0M437.8 74.5h0M432.3 84.4h0M417.2 88.8h0M450.3 64.0h0M447.0 54.7h0M436.1 70.4h0M447.1 69.6h0M410.7 109.3h0M408.7 111.5h0M441.4 72.5h0"/>
<path stroke="#ff0056" d="M450.6 51.5h0M446.6 52.2h0M388.3 82.6h0M452.9 22.3h0M395.4 98.8h0M421.8 86.4h0M412.1 87.0h0M447.1 56.1h0M405.2 147.6h0M416.8 87.0h0M445.0 35.1h0M436.1 60.2h0M428.3 87.2h0M382.5 116.3h0M374.0 131.0h0M443.4 54.2h0M412.3 66.7h0M362.7 111.2h0M406.5 72.8h0M362.6 98.9h0M408.7 90.1h0M411.9 104.9h0M439.2 65.0h0M434.3 53.6h0M434.3 67.2h0M409.5 87.3h0M389.9 103.4h0M448.7 49.3h0M446.9 23.1h0M450.2 27.5h0"/>
<path stroke="#4c64f6" d="M443.3 74.1h0M437.8 80.1h0M447.3 51.1h0M408.5 100.5h0M448.6 54.6h0M420.4 96.3h0M392.0 90.3h0M413.6 98.9h0M403.2 88.8h0M425.0 72.3h0M443.0 69.1h0M435.5 90.2h0M390.4 97.9h0M434.3 70.9h0M428.8 95.1h0M428.3 87.6h0M436.6 80.1h0"/>
<path stroke="#057ffd" d="M424.1 92.4h0M426.7 97.1h0M440.0 74.1h0M436.9 76.6h0M451.7 60.5h0M442.0 85.7h0M445.7 65.4h0M419.9 86.5h0M431.7 89.9h0M425.5 85.5h0M434.3 82.7h0M447.4 59.3h0M434.5 75.4h0M439.6 74.4h0M440.4 80.3h0M445.3 66.3h0M448.2 65.6h0M435.4 82.8h0"/>
<path stroke="#da0aa0" d="M392.6 97.4h0M393.4 115.0h0M434.6 53.3h0M451.5 28.9h0M453.8 42.4h0M427.2 78.5h0M393.9 101.9h0M422.9 84.0h0M406.2 94.6h0M446.2 60.5h0M404.5 95.8h0M387.2 86.2h0M413.7 128.7h0M453.2 45.5h0M443.2 44.9h0M409.0 89.7h0M427.0 72.6h0M430.8 93.9h0M412.0 87.7h0M429.1 90.6h0M450.6 36.5h0M439.8 54.2h0M397.0 80.0h0M424.8 117.8h0M400.6 104.5h0M398.2 107.5h0M438.2 76.8h0M410.4 103.5h0M389.4 84.7h0M432.6 67.4h0M418.4 86.4h0M414.3 93.2h0M362.8 100.6h0M439.5 70.7h0M394.3 101.2h0M408.4 96.2h0M425.3 90.0h0M455.4 32.2h0M434.5 69.6h0M447.1 46.5h0M404.5 106.6h0M407.7 87.7h0M453.9 55.0h0M421.5 68.1h0M360.7 97.6h0M429.5 79.9h0M437.7 59.8h0"/>
<path stroke="#117afd" d="M431.7 86.8h0M422.0 83.8h0M448.0 69.7h0M445.4 62.2h0M420.2 103.6h0M431.4 72.5h0M427.2 79.1h0M438.1 74.3h0M439.2 76.5h0M447.6 58.0h0M453.5 57.3h0M444.0 64.6h0M426.4 84.0h0M447.7 54.6h0M450.2 53.2h0M454.1 51.1h0M445.6 64.4h0M431.0 89.1h0M434.2 82.9h0M437.7 73.6h0M445.1 56.3h0M441.1 64.3h0M452.6 50.8h0M429.6 76.4h0M441.0 69.5h0M432.1 77.5h0"/>
<path stroke="#9838d9" d="M426.5 92.3h0M373.8 102.0h0M401.5 88.4h0M423.4 59.6h0M379.7 106.5h0M411.2 88.5h0M412.6 79.1h0M433.8 90.5h0M392.5 95.5h0M393.7 86.0h0M426.2 60.8h0M424.8 93.5h0M413.7 85.0h0M369.8 95.3h0M399.6 90.4h0M438.8 63.5h0M417.1 109.5h0M363.5 95.3h0M418.1 102.6h0M418.3 97.1h0M405.2 85.1h0M409.7 104.5h0M416.0 94.0h0M376.6 91.8h0M395.3 103.8h0"/>
<path stroke="#754fed" d="M449.0 31.4h0M438.2 74.4h0M433.3 70.7h0M419.6 79.6h0M390.9 105.1h0M398.3 89.2h0M404.2 83.4h0M410.0 94.8h0M450.6 46.7h0M431.0 79.5h0M411.0 100.4h0M418.7 89.6h0M385.0 97.1h0M441.3 65.7h0M424.8 94.5h0M387.6 87.3h0M410.0 105.0h0M442.7 72.0h0M437.2 77.5h0M396.1 99.2h0M378.7 90.3h0M392.2 93.5h0M437.8 57.8h0"/>
<path stroke="#f80071" d="M397.6 96.4h0M410.4 91.3h0M409.0 83.6h0M413.9 97.0h0M443.4 48.7h0M458.7 41.4h0M373.7 108.0h0M452.7 44.5h0M448.6 45.8h0M396.4 92.1h0M463.7 48.2h0M412.1 85.7h0M440.0 65.7h0M442.1 50.4h0M392.3 106.1h0M439.4 52.0h0M444.5 38.8h0M431.7 68.5h0M405.2 80.8h0M441.7 58.3h0M395.8 95.2h0M442.8 69.1h0M447.3 57.4h0M431.0 63.7h0M436.3 49.3h0M434.3 70.3h0M439.8 56.1h0M419.8 84.2h0M446.3 54.6h0M441.8 67.1h0M407.3 88.2h0M444.3 56.0h0M421.4 69.5h0M425.3 61.9h0M403.2 86.9h0M409.7 110.9h0M448.5 42.3h0M399.1 96.3h0M402.6 113.5h0M419.1 108.2h0M396.4 86.6h0M396.8 102.8h0M375.7 95.7h0M408.7 79.7h0M436.4 57.6h0M361.4 108.0h0M409.6 72.0h0M415.4 81.3h0M413.0 88.3h0M392.0 90.2h0M411.3 79.5h0M407.0 92.4h0M449.9 44.9h0M446.0 49.6h0M387.8 92.1h0M433.0 44.0h0M418.0 87.8h0M441.2 52.6h0M412.2 77.5h0M419.2 93.0h0M426.3 80.4h0M455.3 42.9h0M443.3 48.7h0M422.2 72.6h0M416.2 91.9h0"/>
<path stroke="#ff0060" d="M403.7 90.0h0M431.8 58.0h0M437.2 63.5h0M424.0 84.2h0M385.7 98.5h0M421.8 73.6h0M444.3 48.6h0M400.8 124.2h0M422.2 78.5h0M463.7 43.4h0M421.0 84.4h0M394.3 90.8h0M439.2 73.2h0M445.8 60.2h0M419.4 72.8h0M402.4 82.4h0M398.2 101.0h0M435.1 59.1h0M408.8 84.9h0M452.7 21.1h0M430.4 77.8h0M423.7 69.8h0M414.2 82.0h0M374.4 89.8h0M436.8 67.5h0M443.3 47.9h0M431.1 65.8h0M440.1 50.9h0M417.7 83.2h0M411.5 130.1h0M455.7 22.2h0M420.1 81.0h0M408.6 83.0h0M409.6 84.7h0M410.7 87.7h0M410.2 84.5h0M443.0 64.6h0M421.1 64.0h0M389.0 94.6h0M447.8 49.5h0M431.6 68.0h0"/>
<path stroke="#ec0387" d="M416.3 85.2h0M437.6 63.0h0M363.2 92.5h0M421.3 77.5h0M412.8 89.0h0M409.8 92.6h0M459.6 47.7h0M444.4 45.9h0M410.9 111.1h0M420.6 71.7h0M456.1 48.0h0M405.1 92.0h0M443.3 55.3h0M462.7 49.5h0M410.4 91.2h0M403.3 99.5h0M406.4 92.5h0M391.5 92.9h0M413.0 70.3h0M441.8 51.6h0M409.6 105.0h0M463.7 49.8h0M439.1 66.1h0M451.3 30.9h0M406.5 94.4h0M424.0 82.9h0M410.4 85.9h0M373.7 101.3h0M439.5 65.3h0M410.4 103.9h0M438.4 59.7h0M407.9 81.8h0M421.5 80.8h0M428.9 81.9h0M445.3 46.7h0M445.9 50.8h0M384.5 91.4h0M386.3 101.7h0M420.6 68.4h0M389.7 99.7h0M398.1 92.8h0M406.6 101.4h0M433.9 72.8h0M434.9 62.3h0M435.7 114.5h0M430.9 77.2h0M409.9 89.2h0M399.3 86.8h0M403.5 90.8h0M432.5 65.4h0M418.3 76.8h0M386.0 99.8h0M454.9 35.1h0M383.7 91.4h0"/>
<path stroke="#bc1fbf" d="M439.9 45.6h0M395.4 97.5h0M391.5 96.4h0M425.8 84.6h0M390.8 87.2h0M408.9 106.3h0M426.5 78.0h0M408.2 88.8h0M410.7 91.2h0M437.9 50.3h0M431.9 80.7h0M412.5 93.5h0M393.9 110.3h0M448.0 48.3h0M412.3 112.8h0M450.5 53.1h0M425.6 80.3h0M410.2 109.7h0M396.6 92.2h0M412.9 89.8h0M434.5 69.1h0M419.4 81.3h0M422.8 97.4h0M419.5 93.2h0"/>
<path stroke="#057ffd" d="M434.4 78.8h0M440.6 67.4h0M450.7 63.0h0M427.6 102.8h0M435.0 84.1h0M447.0 61.0h0M423.4 95.1h0M430.1 86.6h0M431.8 83.8h0M429.3 77.1h0M463.7 59.9h0M434.0 89.0h0M422.9 94.4h0M432.2 89.2h0M444.2 61.6h0M447.6 54.2h0"/>
<path stroke="#754fed" d="M390.4 103.6h0M376.2 107.6h0M394.2 95.4h0M426.4 82.4h0M420.8 105.7h0M415.5 88.3h0M400.1 118.1h0M447.5 51.9h0M395.9 102.6h0M430.0 82.8h0M406.9 102.9h0M430.8 80.8h0M402.8 95.9h0M419.7 91.3h0M416.9 84.0h0M427.4 74.5h0M431.8 85.0h0M387.4 87.4h0M361.0 107.1h0M429.9 88.5h0M443.9 52.2h0M388.7 99.0h0M402.6 88.2h0M445.8 39.6h0M414.9 103.6h0M413.0 88.5h0M435.3 79.6h0M432.2 64.4h0M423.1 78.7h0M395.5 85.7h0"/>
<path stroke="#ec0387" d="M433.5 70.4h0M410.6 90.6h0M405.8 96.1h0M430.1 70.4h0M385.2 95.8h0M427.5 68.2h0M449.1 35.9h0M410.9 87.1h0M397.8 118.8h0M446.1 48.9h0M448.1 34.5h0M361.1 94.2h0M448.1 50.3h0M407.3 90.5h0M431.8 49.3h0M407.2 86.4h0M449.2 49.0h0M399.9 95.7h0M413.1 85.7h0M429.2 70.1h0M403.9 90.8h0M398.8 81.7h0M398.7 85.2h0M443.5 61.7h0M435.9 68.5h0M411.7 88.7h0M432.4 78.7h0M381.5 105.3h0M442.8 48.5h0M399.3 86.8h0M377.5 99.2h0M463.7 40.6h0M446.3 58.6h0M366.1 102.2h0M394.5 116.0h0M406.1 83.6h0M449.5 28.2h0M434.4 53.9h0M427.9 67.3h0M418.6 85.9h0M389.0 84.7h0M409.1 88.9h0M391.6 109.7h0M449.0 45.2h0M420.9 80.3h0M434.5 70.5h0M396.4 89.4h0M423.0 71.2h0"/>
<path stroke="#ff0056" d="M456.6 31.6h0M418.8 79.4h0M401.0 86.1h0M387.7 80.9h0M423.7 69.7h0M388.1 95.6h0M399.0 90.8h0M401.9 86.7h0M396.0 105.9h0M447.0 54.8h0M452.1 26.9h0M391.7 84.6h0M401.1 87.3h0M380.1 96.6h0M441.6 69.4h0M448.9 42.1h0M439.2 62.6h0M415.7 98.0h0M394.7 91.3h0M439.0 66.6h0M429.6 63.3h0M419.7 81.8h0M431.7 82.2h0M445.1 50.8h0M416.1 95.7h0M371.9 123.9h0M455.5 32.6h0M448.6 31.9h0M381.9 111.4h0M381.3 87.0h0"/>
<path stroke="#117afd" d="M435.0 73.4h0M437.6 76.7h0M421.0 98.5h0M430.1 81.9h0M427.5 85.8h0M433.9 77.5h0M429.1 89.1h0M422.8 112.4h0M435.1 73.5h0M456.0 52.2h0M448.9 52.4h0M452.2 66.3h0M433.5 73.0h0M432.6 78.9h0M420.5 86.1h0M443.2 65.8h0M462.0 54.0h0M433.6 91.4h0M446.7 60.8h0M443.6 76.1h0M423.1 84.9h0M433.0 81.2h0M434.7 72.2h0M439.7 89.2h0M436.1 79.3h0M424.0 104.7h0M429.2 91.2h0"/>
<path stroke="#2a72fb" d="M433.3 75.8h0M443.9 66.4h0M435.6 81.7h0M427.1 105.8h0M403.4 93.8h0M409.8 82.0h0M438.1 65.0h0M440.3 63.6h0M451.1 56.4h0M429.1 87.8h0M430.3 90.2h0M437.8 69.7h0M431.4 84.3h0M383.3 88.6h0M447.3 54.7h0M415.1 89.4h0M437.0 81.6h0M437.0 79.9h0M438.8 68.1h0M439.6 81.0h0M366.5 106.0h0M432.6 78.9h0M429.5 80.1h0M369.6 95.7h0"/>
<path stroke="#da0aa0" d="M432.2 74.0h0M413.4 81.1h0M447.7 41.2h0M400.2 120.2h0M461.8 40.8h0M439.0 48.8h0M452.7 41.6h0M441.2 58.5h0M443.0 64.7h0M416.2 84.2h0M408.1 108.8h0M427.8 88.2h0M392.7 107.7h0M427.4 69.9h0M447.0 53.3h0M447.5 61.1h0M404.4 73.3h0M402.5 92.8h0M432.6 76.0h0M394.6 100.7h0M361.2 109.1h0M447.3 36.5h0M424.1 86.6h0M441.8 58.2h0M420.6 99.0h0M401.7 85.8h0M410.9 88.1h0M462.0 48.0h0M384.6 83.0h0M436.6 76.0h0M424.5 91.0h0M395.0 95.4h0M377.2 97.0h0M408.2 75.5h0M446.2 59.0h0M437.3 68.0h0M415.9 88.9h0M441.9 54.9h0M395.1 85.1h0M428.2 74.7h0M430.6 90.5h0M418.4 94.4h0M440.9 38.3h0M425.6 71.9h0M418.2 95.1h0M410.3 81.2h0"/>
<path stroke="#ff0060" d="M432.4 78.4h0M439.2 42.6h0M424.0 75.0h0M408.4 86.8h0M352.1 91.7h0M398.5 95.2h0M393.0 104.7h0M433.7 67.1h0M374.6 106.0h0M392.9 97.4h0M416.0 78.1h0M429.3 66.4h0M442.2 45.6h0M410.5 86.1h0M392.0 85.6h0M420.0 83.3h0M433.0 71.0h0M444.9 53.0h0M363.0 86.6h0M405.9 95.0h0M403.7 98.5h0M428.6 87.0h0M448.1 53.9h0M442.1 51.4h0M399.0 83.2h0M455.4 38.0h0M360.1 104.2h0M365.4 91.0h0M407.9 108.3h0M400.5 79.2h0M361.2 97.4h0M399.0 94.9h0M434.9 54.1h0M452.4 31.6h0M431.5 66.2h0M375.7 100.7h0M422.6 85.4h0M452.5 44.3h0M443.2 52.1h0M390.3 102.8h0M418.4 75.1h0M412.4 90.8h0M396.0 86.0h0M412.5 77.7h0M405.3 81.5h0"/>
<path stroke="#f80071" d="M424.7 80.2h0M399.9 85.3h0M381.0 97.8h0M397.4 92.1h0M392.3 108.1h0M392.8 90.5h0M421.7 74.9h0M429.4 70.3h0M379.6 87.5h0M415.5 98.9h0M453.9 24.1h0M447.8 40.6h0M413.6 78.2h0M408.8 98.6h0M368.9 105.8h0M441.2 63.2h0M432.5 70.2h0M398.2 94.8h0M430.1 72.0h0M409.7 68.2h0M396.0 97.6h0M446.2 48.8h0M383.9 123.1h0M396.9 88.4h0M394.2 88.2h0M449.8 43.4h0M446.5 50.0h0M444.7 60.8h0M392.8 104.2h0M439.1 50.8h0M423.4 78.6h0M380.2 83.8h0M386.3 105.0h0M401.2 107.9h0M417.9 63.8h0M396.1 110.5h0M450.5 34.1h0M398.1 83.3h0M399.5 89.5h0M445.8 31.4h0M443.6 56.1h0M366.4 120.8h0M388.7 109.4h0M405.7 82.7h0M428.4 80.2h0M449.9 49.2h0M413.3 84.8h0M430.8 79.4h0"/>
<path stroke="#9838d9" d="M419.4 81.2h0M459.2 48.5h0M400.6 101.9h0M445.9 62.5h0M449.4 40.8h0M440.3 64.1h0M410.3 106.8h0M399.7 79.9h0M413.8 92.5h0M387.4 102.0h0M425.2 88.8h0M368.6 111.5h0M454.6 51.5h0M399.2 92.3h0M425.7 79.7h0M425.1 79.9h0"/>
<path stroke="#4c64f6" d="M387.1 105.6h0M421.8 99.4h0M450.2 65.4h0M429.4 98.1h0M447.8 66.6h0M403.6 87.8h0M378.5 102.9h0M423.9 104.1h0M447.4 54.9h0M435.9 80.4h0M424.1 96.6h0M441.0 61.6h0M356.7 101.9h0M429.3 89.2h0M408.0 101.2h0M401.2 108.6h0M412.2 83.9h0M428.6 82.8h0M425.1 87.1h0M416.2 79.9h0M395.5 96.0h0M392.4 100.1h0M406.8 91.6h0M403.7 98.9h0M424.1 83.9h0M403.6 106.4h0M441.9 76.1h0M456.8 44.3h0"/>
<path stroke="#bc1fbf" d="M399.8 91.4h0M440.4 51.6h0M446.7 47.2h0M421.7 85.0h0M380.8 84.2h0M408.5 96.4h0M448.8 50.4h0M420.3 76.4h0M443.2 45.3h0M395.2 91.3h0M409.4 70.4h0M402.9 96.9h0M383.6 104.4h0M417.4 81.6h0M409.0 92.0h0M446.8 40.2h0M405.9 95.8h0M363.4 103.9h0M433.5 82.6h0M394.7 81.5h0M403.3 86.9h0M457.5 40.0h0M347.0 104.6h0M388.5 101.6h0M420.5 103.3h0M406.0 76.9h0M440.0 58.9h0M440.4 57.7h0M442.4 59.0h0M437.4 78.7h0M398.1 95.5h0M451.7 38.2h0M419.8 93.2h0M434.9 55.0h0"/>
<path stroke="#057ffd" d="M439.7 84.5h0M432.1 91.7h0M457.0 54.9h0M457.4 51.2h0M423.0 87.5h0M431.4 80.1h0M444.5 71.2h0M456.9 52.8h0M451.9 55.9h0M458.6 47.3h0M442.0 72.2h0M432.5 97.5h0M451.4 57.9h0M442.1 66.2h0M430.7 92.1h0M423.6 84.5h0M442.0 59.9h0M440.4 76.1h0M450.9 61.6h0"/>
<path stroke="#ff0060" d="M375.5 80.9h0M409.0 79.2h0M403.8 97.3h0M407.5 88.9h0M411.4 77.8h0M408.0 82.4h0M399.3 93.9h0M409.3 91.8h0M449.6 46.3h0M418.5 100.4h0M406.4 84.7h0M450.7 45.9h0M413.8 109.2h0M413.3 85.9h0M384.6 95.4h0M440.2 51.6h0M443.7 62.9h0M405.5 82.5h0M416.6 72.8h0M437.1 69.0h0M370.5 98.8h0M404.9 88.2h0M389.1 89.4h0M398.5 97.8h0M405.1 91.2h0M426.9 74.5h0M451.5 48.4h0M454.9 42.9h0M413.8 94.6h0M358.9 102.8h0M407.4 89.9h0M403.3 84.6h0M400.0 105.8h0M445.7 53.7h0M425.2 77.8h0M405.9 91.1h0M397.2 115.4h0M450.1 26.7h0M396.6 83.2h0M451.3 48.9h0M447.9 56.0h0"/>
<path stroke="#da0aa0" d="M407.0 90.3h0M401.6 104.1h0M396.8 105.3h0M429.3 74.6h0M432.2 72.0h0M438.3 61.1h0M441.8 58.6h0M412.9 97.3h0M447.6 51.6h0M398.4 90.9h0M446.9 36.4h0M381.9 92.7h0M383.9 106.4h0M437.6 64.0h0M434.3 64.9h0M422.8 77.1h0M447.5 33.6h0M449.8 60.0h0M382.0 108.8h0M455.3 57.7h0M419.5 80.3h0M418.7 84.0h0M445.0 65.2h0M403.2 97.9h0M429.1 99.0h0M454.4 48.2h0M425.9 63.0h0M450.1 54.8h0M433.8 70.8h0M382.2 99.4h0M418.6 81.1h0M396.4 89.7h0M362.5 87.6h0M450.3 46.9h0M442.5 55.0h0M396.7 91.4h0M403.0 80.6h0"/>
<path stroke="#ff0056" d="M384.4 123.9h0M406.6 87.3h0M436.6 69.5h0M416.6 123.4h0M384.4 59.1h0M401.5 80.2h0M395.4 92.5h0M438.0 61.5h0M397.6 95.1h0M386.1 93.5h0M443.6 101.1h0M449.1 27.3h0M387.7 82.9h0M373.2 88.1h0M460.6 49.6h0M406.4 75.4h0M403.4 102.1h0M438.2 65.5h0M415.0 98.2h0M433.5 76.2h0M433.3 65.8h0M411.3 123.1h0M434.6 65.4h0M453.2 29.8h0M440.8 51.8h0M445.8 25.7h0M393.4 91.8h0M382.1 81.8h0M414.5 81.4h0M421.4 77.6h0M409.2 121.7h0M400.2 124.8h0M395.2 94.9h0M410.8 96.4h0M437.9 60.8h0M387.9 94.8h0M449.7 51.5h0M405.2 87.9h0"/>
<path stroke="#2a72fb" d="M419.2 99.5h0M459.7 47.6h0M443.5 69.3h0M422.8 104.0h0M424.4 99.0h0M455.7 64.3h0M450.3 52.9h0M431.7 85.5h0M440.2 65.4h0M421.4 92.3h0M444.1 58.0h0M440.6 73.3h0M438.3 69.4h0M446.6 70.5h0M422.9 95.8h0M450.0 53.7h0M399.4 119.8h0M445.2 68.6h0M436.1 87.1h0M444.9 67.5h0M431.0 104.0h0M394.9 93.3h0M438.9 71.4h0M448.5 60.0h0"/>
<path stroke="#ec0387" d="M444.5 50.7h0M373.3 105.7h0M404.3 86.8h0M413.1 84.5h0M428.4 57.2h0M425.6 81.1h0M404.1 100.2h0M359.6 102.2h0M391.5 93.1h0M405.4 82.3h0M411.1 127.8h0M382.2 95.3h0M393.8 124.8h0M396.0 111.9h0M390.6 89.8h0M365.8 89.1h0M394.9 84.7h0M417.7 81.8h0M432.0 72.5h0M383.4 93.6h0M430.7 73.7h0M451.6 20.9h0M402.6 95.7h0M387.5 102.7h0M416.9 86.3h0M434.4 49.8h0M406.7 77.4h0M396.7 111.5h0M423.7 85.5h0M383.5 78.2h0M397.0 82.1h0M445.6 58.4h0M358.2 96.8h0M385.3 104.6h0M443.0 46.9h0M419.5 94.6h0M394.7 95.9h0M399.5 113.6h0M423.6 74.8h0M414.5 86.2h0M428.0 66.2h0M446.6 48.7h0M411.1 82.6h0M375.0 97.3h0M432.3 72.0h0M421.8 83.0h0M385.8 89.6h0M442.2 47.0h0M382.7 96.0h0M415.3 92.1h0M432.3 68.5h0M437.6 61.6h0M399.7 88.7h0"/>
<path stroke="#bc1fbf" d="M360.2 100.3h0M391.0 76.0h0M413.4 88.2h0M437.2 77.2h0M393.5 98.8h0M396.7 111.7h0M400.6 97.5h0M440.3 68.8h0M397.1 87.3h0M426.3 72.9h0M386.2 98.6h0M449.1 51.2h0M392.9 95.6h0M441.4 72.3h0M399.7 96.7h0M422.4 88.5h0M444.8 79.0h0M365.2 97.8h0M440.8 68.6h0M416.0 77.6h0M413.8 82.0h0M428.0 84.7h0M382.2 99.7h0M433.8 84.4h0"/>
<path stroke="#754fed" d="M434.8 81.5h0M410.6 98.7h0M425.5 97.7h0M424.8 101.5h0M409.4 93.3h0M396.4 97.1h0M374.8 101.5h0M428.3 99.0h0M409.9 108.4h0M391.1 91.8h0M404.5 99.4h0M418.8 100.2h0M378.0 93.8h0M423.3 101.0h0M406.3 97.0h0M449.6 49.3h0M410.3 105.3h0M426.7 103.7h0M405.4 97.4h0M442.3 58.2h0M433.6 70.2h0M424.3 85.4h0M409.2 87.8h0M410.7 86.8h0M416.0 100.1h0"/>
<path stroke="#9838d9" d="M444.5 67.7h0M407.5 82.0h0M420.0 94.6h0M415.1 78.9h0M430.1 60.7h0M401.8 92.5h0M406.2 90.0h0M434.0 54.4h0M401.5 104.0h0M431.2 78.5h0M392.2 82.2h0M437.1 56.5h0M425.2 81.5h0M406.7 81.9h0M404.7 94.4h0M451.6 39.6h0M399.6 104.4h0M410.5 101.4h0M411.3 97.1h0M403.5 100.4h0M409.0 78.3h0M399.4 89.1h0M425.2 90.3h0M415.6 87.8h0"/>
<path stroke="#4c64f6" d="M449.2 56.0h0M429.5 87.9h0M451.5 60.8h0M366.3 101.2h0M419.1 86.8h0M390.8 104.7h0M426.5 87.1h0M396.4 101.6h0M422.8 89.6h0M389.0 93.7h0M423.1 89.0h0M436.6 74.7h0M406.8 95.4h0M404.4 105.3h0M409.9 107.7h0M452.5 59.2h0M403.5 96.9h0M427.9 66.7h0M384.1 100.9h0"/>
<path stroke="#117afd" d="M446.9 74.1h0M438.9 81.0h0M442.2 54.7h0M434.7 80.3h0M427.7 89.2h0M423.8 99.6h0M440.0 85.7h0M426.4 88.8h0M441.0 67.9h0M444.4 63.1h0M437.8 65.1h0M431.6 98.2h0M429.0 97.2h0M444.1 56.6h0M445.0 62.2h0M440.5 73.5h0M446.2 57.8h0M424.9 83.0h0M422.2 82.5h0M449.9 52.0h0M420.6 94.5h0M437.0 80.0h0M439.0 75.0h0M445.8 61.4h0M422.3 93.0h0M435.2 82.8h0M424.3 98.3h0"/>
<path stroke="#f80071" d="M404.5 101.5h0M450.7 45.5h0M393.7 70.3h0M415.5 92.2h0M448.9 44.8h0M388.3 95.3h0M424.3 74.2h0M435.4 56.6h0M374.0 83.2h0M419.2 77.5h0M453.6 38.9h0M387.4 103.3h0M419.3 81.6h0M418.4 94.7h0M414.2 84.4h0M398.1 70.5h0M354.9 105.4h0M394.8 109.1h0M395.4 92.0h0M401.7 68.1h0M427.3 70.6h0M406.7 91.5h0M360.1 112.7h0M424.1 91.5h0M345.2 102.2h0M419.1 106.8h0M391.8 88.4h0M424.5 78.7h0M423.5 70.7h0M453.6 54.7h0M384.4 107.9h0M383.8 76.7h0M417.8 100.7h0M432.1 74.4h0M433.3 68.4h0M431.0 72.3h0M442.8 52.0h0M417.4 95.3h0M428.5 70.6h0M436.5 53.8h0M433.0 78.3h0M381.5 100.2h0M414.2 101.1h0M389.5 77.4h0M420.2 86.6h0M462.7 47.3h0M374.2 85.2h0M410.3 88.3h0M455.2 40.6h0M401.4 85.5h0M391.1 92.3h0M383.6 83.2h0M395.4 87.1h0M409.9 86.6h0M372.9 104.4h0M438.6 63.4h0M446.9 51.5h0M396.8 85.8h0M425.3 84.2h0M416.4 108.2h0M450.0 46.0h0"/>
</g>
<path d="M299.5 4V154.5H472" stroke="#5a5a5a" stroke-width="1" fill="none"/>
<path d="M305.5 154.5v3M326.3 154.5v3M347.0 154.5v3M367.8 154.5v3M388.6 154.5v3M409.3 154.5v3M430.1 154.5v3M450.8 154.5v3M471.6 154.5v3M299.5 11.7h-3M299.5 29.2h-3M299.5 46.8h-3M299.5 64.3h-3M299.5 81.9h-3M299.5 99.4h-3M299.5 116.9h-3M299.5 134.5h-3M299.5 152.0h-3" stroke="#444" stroke-width="1" fill="none"/>
<g font-size="5.6" fill="#3c3c3c">
<text transform="translate(305.5 165.1) scale(1 1.083)" text-anchor="middle">-1.0</text>
<text transform="translate(326.3 165.1) scale(1 1.083)" text-anchor="middle">-0.9</text>
<text transform="translate(347.0 165.1) scale(1 1.083)" text-anchor="middle">-0.8</text>
<text transform="translate(367.8 165.1) scale(1 1.083)" text-anchor="middle">-0.7</text>
<text transform="translate(388.6 165.1) scale(1 1.083)" text-anchor="middle">-0.6</text>
<text transform="translate(409.3 165.1) scale(1 1.083)" text-anchor="middle">-0.5</text>
<text transform="translate(430.1 165.1) scale(1 1.083)" text-anchor="middle">-0.4</text>
<text transform="translate(450.8 165.1) scale(1 1.083)" text-anchor="middle">-0.3</text>
<text transform="translate(471.6 165.1) scale(1 1.083)" text-anchor="middle">-0.2</text>
<text transform="translate(293.5 13.8) scale(1 1.083)" text-anchor="end">0.04</text>
<text transform="translate(293.5 31.4) scale(1 1.083)" text-anchor="end">0.03</text>
<text transform="translate(293.5 48.9) scale(1 1.083)" text-anchor="end">0.02</text>
<text transform="translate(293.5 66.5) scale(1 1.083)" text-anchor="end">0.01</text>
<text transform="translate(293.5 84.0) scale(1 1.083)" text-anchor="end">0.00</text>
<text transform="translate(293.5 101.5) scale(1 1.083)" text-anchor="end">-0.01</text>
<text transform="translate(293.5 119.1) scale(1 1.083)" text-anchor="end">-0.02</text>
<text transform="translate(293.5 136.6) scale(1 1.083)" text-anchor="end">-0.03</text>
<text transform="translate(293.5 154.2) scale(1 1.083)" text-anchor="end">-0.04</text>
</g>
<g font-size="6.65" fill="#3c3c3c" text-anchor="middle">
<text transform="translate(385.8 174.3) scale(1 1.083)">SAR_VH_June/Days_from_seeding</text>
<text transform="translate(268.4 79.2) rotate(-90) scale(1.083 1)">SHAP value for</text>
<text transform="translate(276.2 79.2) rotate(-90) scale(1.083 1)">SAR_VH_June/Days_from_seeding</text>
</g>
<rect x="482.8" y="4" width="2.5" height="150.5" fill="url(#cb)"/>
<g font-size="5.6" fill="#3c3c3c">
<text transform="translate(489.6 157.2) scale(1 1.083)">220</text>
<text transform="translate(489.6 138.7) scale(1 1.083)">225</text>
<text transform="translate(489.6 120.2) scale(1 1.083)">230</text>
<text transform="translate(489.6 101.7) scale(1 1.083)">235</text>
<text transform="translate(489.6 83.3) scale(1 1.083)">240</text>
<text transform="translate(489.6 64.8) scale(1 1.083)">245</text>
<text transform="translate(489.6 46.3) scale(1 1.083)">250</text>
<text transform="translate(489.6 27.8) scale(1 1.083)">255</text>
<text transform="translate(489.6 9.3) scale(1 1.083)">260</text>
</g>
<path d="M485.3 155.0h2.8M485.3 136.5h2.8M485.3 118.1h2.8M485.3 99.6h2.8M485.3 81.1h2.8M485.3 62.6h2.8M485.3 44.2h2.8M485.3 25.7h2.8M485.3 7.2h2.8" stroke="#444" stroke-width="1" fill="none"/>
<text transform="translate(506.5 80.7) rotate(-90) scale(1.083 1)" font-size="6.65" fill="#3c3c3c" text-anchor="middle">N_need</text>
<rect x="260.2" y="155.3" width="21.30000000000001" height="23.399999999999977" fill="#1f6fc4" stroke="#1a5a9e" stroke-width="0.6"/>
<text x="270.9" y="171.7" font-size="10" font-family='"Liberation Serif", serif' text-anchor="middle" fill="#0a0a14" font-weight="bold">b</text>
<rect x="42.5" y="186.8" width="170.8" height="151.7" fill="#e7e9f2"/>
<path d="M47.9 186.8V338.5M67.0 186.8V338.5M86.0 186.8V338.5M105.1 186.8V338.5M124.2 186.8V338.5M143.3 186.8V338.5M162.3 186.8V338.5M181.4 186.8V338.5M200.5 186.8V338.5M42.5 196.6H213.3M42.5 219.6H213.3M42.5 242.5H213.3M42.5 265.4H213.3M42.5 288.4H213.3M42.5 311.4H213.3M42.5 334.3H213.3" stroke="#fff" stroke-width="0.8" fill="none" opacity="0.8"/>
<g fill="none" stroke-width="2.50" stroke-linecap="round">
<path stroke="#ff0056" d="M104.9 207.5h0M122.6 229.7h0M128.7 229.8h0M113.2 223.8h0M130.2 230.5h0M169.9 290.3h0M180.0 276.6h0M148.1 262.8h0M168.4 281.1h0M163.0 266.3h0M109.6 213.3h0M107.2 210.3h0M162.9 273.2h0M158.7 255.6h0M162.8 282.2h0M135.5 239.7h0M123.6 227.4h0M118.2 218.7h0M165.0 281.1h0M108.4 206.3h0M106.2 216.8h0M98.4 213.7h0M99.4 197.5h0M79.0 210.5h0M116.9 221.1h0M121.4 219.3h0M170.4 294.0h0M99.1 200.6h0M101.3 209.9h0M147.4 259.3h0M151.6 266.7h0M98.4 207.0h0M126.5 226.8h0M138.2 243.4h0M122.4 221.1h0M140.4 237.9h0M133.4 240.1h0M177.7 284.1h0M175.4 279.3h0M109.5 212.5h0M84.4 206.6h0M137.8 232.7h0M99.1 201.5h0M95.7 213.6h0M110.9 213.9h0M140.5 236.1h0M147.6 255.9h0M77.1 203.9h0M146.8 255.0h0M156.2 270.3h0M95.4 207.8h0M109.2 219.0h0M91.7 203.3h0"/>
<path stroke="#754fed" d="M115.0 227.6h0M91.9 216.3h0M113.8 223.7h0M150.4 257.3h0M154.9 263.8h0M92.6 213.2h0M86.5 211.4h0M104.5 216.1h0M161.7 272.5h0M157.0 274.4h0M120.6 225.1h0M101.2 216.7h0M179.4 268.4h0M93.3 201.4h0M88.2 206.9h0M131.5 236.7h0M132.4 240.7h0M114.2 222.3h0M109.0 234.0h0M132.4 240.0h0M158.5 240.2h0M119.7 226.8h0M155.2 269.1h0"/>
<path stroke="#057ffd" d="M127.7 239.9h0M132.4 246.8h0M105.4 220.5h0M94.9 224.1h0M124.0 242.1h0M94.7 215.9h0M98.5 218.1h0M136.3 245.7h0M99.0 220.8h0M98.4 219.5h0M96.1 218.9h0M117.8 223.9h0M138.7 250.1h0M55.8 225.1h0M126.2 237.4h0M114.0 235.2h0M99.1 228.6h0M126.6 241.5h0M82.7 209.3h0M112.6 218.5h0M113.2 228.8h0M134.9 243.2h0M133.5 249.1h0M85.4 215.5h0M118.8 227.2h0M189.5 298.4h0M92.5 214.6h0M102.1 214.6h0M133.4 249.2h0M109.6 218.4h0M138.6 246.9h0M102.2 218.1h0M101.4 228.5h0M157.1 285.1h0M93.8 214.5h0M146.3 258.0h0M82.9 217.7h0M138.5 256.4h0M145.3 259.3h0M80.7 217.7h0M83.4 219.9h0M120.7 232.0h0M119.9 232.6h0M91.8 227.2h0M130.0 238.2h0M108.9 232.2h0M100.7 208.6h0M105.6 232.8h0M123.4 240.2h0M97.7 215.8h0M95.6 216.5h0M93.8 221.7h0M101.3 220.5h0M122.4 237.7h0M99.3 215.8h0M95.6 227.3h0M131.4 239.6h0M96.7 227.9h0M96.5 226.6h0M107.4 227.9h0M106.4 220.3h0M89.1 219.6h0M92.0 232.7h0M92.8 216.5h0M157.0 279.9h0M103.2 229.2h0M127.9 237.7h0M117.6 238.1h0M92.1 227.9h0M105.3 221.6h0M102.0 224.4h0M107.4 221.2h0M84.0 215.6h0M107.8 237.2h0M90.1 218.9h0M138.6 252.2h0"/>
<path stroke="#da0aa0" d="M61.5 222.0h0M167.2 274.7h0M165.5 284.8h0M158.2 277.4h0M98.6 215.2h0M170.4 283.1h0M151.0 254.4h0M145.6 263.4h0M180.7 283.5h0M166.2 276.3h0M154.8 252.9h0M107.8 213.8h0M115.3 211.8h0M155.8 264.9h0M165.5 282.7h0M166.5 272.8h0M151.2 266.6h0M95.4 207.6h0M167.6 275.9h0M173.6 275.8h0M176.2 278.3h0M168.8 276.5h0M109.5 214.8h0"/>
<path stroke="#f80071" d="M157.9 264.8h0M136.1 241.4h0M136.7 244.9h0M149.8 261.8h0M104.6 221.2h0M178.2 287.9h0M157.4 264.0h0M79.2 209.4h0M124.1 230.8h0M93.2 212.8h0M151.2 257.9h0M136.1 235.3h0M108.3 223.0h0M169.7 277.8h0M150.1 247.3h0M87.0 206.3h0M177.8 298.3h0M156.9 262.6h0M148.3 258.8h0M114.5 225.3h0M81.6 199.5h0M113.8 228.0h0M133.6 233.4h0M164.8 282.4h0M155.6 265.9h0M104.5 223.1h0M168.6 278.1h0"/>
<path stroke="#2a72fb" d="M115.9 231.3h0M161.2 288.4h0M103.5 218.1h0M92.4 223.1h0M112.1 222.9h0M108.6 222.0h0M130.1 239.5h0M100.0 212.6h0M142.2 244.9h0M68.2 218.9h0M105.9 224.6h0M168.0 272.7h0M124.2 231.6h0M83.7 228.5h0M87.9 206.0h0M88.7 204.0h0M109.4 225.9h0M126.0 234.8h0M148.8 271.3h0M109.9 223.8h0M88.4 215.4h0M106.2 211.7h0M97.4 209.7h0M131.2 242.3h0M100.5 218.3h0M114.3 230.2h0M158.3 267.5h0"/>
<path stroke="#4c64f6" d="M117.9 226.6h0M99.7 213.0h0M104.3 215.4h0M114.0 227.4h0M99.1 212.5h0M172.9 285.1h0M113.1 234.5h0M104.6 221.6h0M121.9 228.9h0M125.2 235.4h0M100.2 207.4h0M110.6 226.9h0M112.4 223.1h0M83.4 207.3h0M164.2 277.9h0M93.3 204.3h0M98.4 205.8h0M167.2 288.8h0M90.9 221.5h0"/>
<path stroke="#117afd" d="M106.2 221.9h0M101.8 216.6h0M155.0 277.0h0M128.4 240.8h0M125.2 244.7h0M115.5 225.1h0M158.1 284.8h0M123.8 231.3h0M121.0 235.3h0M144.2 267.7h0M118.6 231.6h0M134.0 231.6h0M121.1 227.9h0M98.7 220.0h0M108.0 219.6h0M84.0 221.2h0M120.7 229.5h0M98.3 216.5h0M137.0 244.0h0M111.9 225.4h0M117.9 225.2h0M134.4 237.3h0M100.2 216.3h0M95.2 222.8h0"/>
<path stroke="#9838d9" d="M162.4 275.3h0M172.3 280.9h0M157.8 272.7h0M164.0 261.4h0M174.1 272.3h0M161.8 267.8h0M157.6 259.2h0M160.4 272.7h0M164.8 287.0h0"/>
<path stroke="#ff0060" d="M183.8 313.6h0M181.7 288.9h0M113.9 226.9h0M119.1 227.8h0M92.8 214.7h0M167.1 287.3h0M171.0 295.9h0M153.1 262.5h0M163.1 276.9h0M120.9 229.5h0M173.8 309.1h0M187.1 319.4h0M104.2 208.7h0M114.4 220.1h0M119.6 222.7h0M93.0 193.3h0M173.7 282.2h0M127.4 232.0h0M97.3 210.2h0M177.3 290.5h0M97.3 211.7h0M110.6 210.1h0M196.7 290.7h0M100.4 210.0h0"/>
<path stroke="#bc1fbf" d="M149.9 266.3h0M175.1 280.8h0M124.2 251.7h0M178.6 284.1h0M176.0 291.7h0M159.7 280.6h0M166.7 275.1h0M161.6 258.7h0"/>
<path stroke="#ec0387" d="M138.2 241.2h0M92.6 216.8h0M117.4 220.7h0M93.6 212.5h0M107.8 219.0h0M163.7 270.1h0M98.7 223.7h0M109.0 221.3h0M106.2 215.3h0M109.0 224.0h0M92.5 218.4h0M109.9 215.9h0M106.5 210.7h0M109.6 226.7h0M125.6 232.9h0M114.3 227.4h0M92.2 205.2h0M98.4 212.8h0M97.8 213.8h0M109.2 206.1h0M157.1 274.7h0M180.1 294.6h0M114.2 217.2h0M168.4 281.9h0M158.1 267.2h0M106.2 213.0h0M115.5 224.1h0M176.1 279.0h0M130.2 231.9h0"/>
<path stroke="#2a72fb" d="M72.3 212.0h0M93.7 215.5h0M161.5 288.7h0M95.2 215.5h0M95.1 209.9h0M159.9 283.4h0M178.6 322.8h0M93.7 216.8h0M102.6 215.1h0M108.6 221.7h0M132.9 238.9h0M117.9 227.5h0M120.6 224.3h0M100.5 226.7h0M167.5 296.7h0M97.1 216.8h0M88.3 215.5h0M111.1 234.2h0M96.8 214.7h0M90.7 211.4h0M123.2 230.0h0M111.0 222.9h0"/>
<path stroke="#117afd" d="M110.8 225.4h0M98.6 220.2h0M166.8 293.2h0M85.7 217.6h0M112.1 227.3h0M163.2 292.8h0M123.8 239.7h0M106.0 222.8h0M84.4 207.7h0M99.6 219.4h0M119.8 224.9h0M98.9 215.2h0M113.2 226.0h0M122.9 226.3h0M165.0 288.5h0M105.3 218.8h0M130.2 239.9h0M97.4 218.4h0M141.3 249.1h0M83.8 215.3h0M101.1 215.7h0M144.4 258.7h0M93.0 212.9h0"/>
<path stroke="#4c64f6" d="M109.7 220.8h0M124.7 237.6h0M102.7 216.9h0M125.7 236.2h0M124.5 230.1h0M116.3 229.5h0M123.9 224.3h0M128.4 243.9h0M127.3 236.8h0M174.2 293.6h0M138.5 243.1h0M131.4 239.8h0M139.6 252.6h0M116.0 224.1h0M127.1 238.0h0M94.2 208.9h0M112.8 225.8h0M118.7 230.3h0M108.1 219.9h0M104.2 215.0h0M132.2 238.6h0M100.1 217.4h0M99.2 215.5h0M91.4 221.8h0M129.1 237.3h0M103.2 217.4h0M100.1 214.6h0M101.9 219.6h0M122.2 227.4h0"/>
<path stroke="#9838d9" d="M171.1 286.8h0M181.7 275.7h0M167.8 289.4h0M168.6 262.6h0M154.5 270.7h0M161.1 279.3h0M165.7 284.9h0"/>
<path stroke="#ff0060" d="M172.0 293.4h0M168.3 286.7h0M155.8 275.7h0M100.1 211.1h0M152.5 258.3h0M85.5 205.4h0M164.1 268.2h0M163.9 267.5h0M108.8 217.6h0M100.3 213.4h0M78.2 208.4h0M112.8 222.7h0M172.6 287.0h0M143.9 253.3h0M119.0 226.6h0M143.3 248.3h0M125.9 236.6h0M121.0 228.3h0M103.4 223.6h0M91.8 215.0h0"/>
<path stroke="#057ffd" d="M144.1 256.9h0M73.4 207.8h0M119.7 237.4h0M72.0 216.5h0M109.3 220.2h0M121.7 227.9h0M93.7 232.5h0M133.2 245.2h0M109.0 235.8h0M108.2 235.5h0M130.0 239.6h0M124.6 238.9h0M129.4 239.1h0M88.0 211.3h0M58.5 226.4h0M120.3 229.8h0M126.5 245.1h0M65.7 231.7h0M88.6 220.9h0M123.2 236.0h0M139.1 254.1h0M91.3 224.8h0M121.6 240.6h0M59.5 222.1h0M113.9 240.3h0M121.4 241.3h0M97.9 212.6h0M100.5 222.1h0M91.2 216.5h0M124.0 233.9h0M97.5 224.5h0M82.9 216.8h0M87.7 215.2h0M99.4 211.8h0M87.1 213.6h0M92.8 225.8h0M133.4 240.2h0M128.8 236.5h0M122.3 233.2h0M90.2 219.3h0M131.4 247.8h0M103.4 222.8h0M63.9 217.4h0M107.2 231.2h0M86.8 208.5h0M101.8 228.0h0M89.2 217.0h0M118.8 234.1h0M114.0 230.5h0M102.6 234.3h0M107.5 221.5h0M109.2 230.9h0M94.1 206.3h0M98.2 217.0h0M110.1 228.1h0M130.0 239.0h0M128.0 241.2h0M113.8 241.2h0M97.8 221.5h0M131.5 239.5h0M110.1 232.3h0M119.5 229.6h0M87.7 219.1h0M108.9 226.2h0M141.0 253.8h0M134.2 237.6h0M129.8 243.8h0M101.9 223.9h0M91.7 212.0h0M100.8 224.9h0M133.0 253.7h0M87.5 211.7h0M103.8 237.9h0M93.6 215.8h0M109.0 211.0h0M98.2 212.0h0M101.9 214.0h0M96.4 216.8h0M135.2 243.2h0M127.9 245.2h0M94.5 225.8h0M98.4 231.4h0M90.6 216.0h0M110.5 225.4h0M124.0 241.7h0M98.4 225.3h0M98.3 219.0h0M111.0 240.3h0M139.2 248.9h0M129.5 233.2h0M135.2 246.7h0"/>
<path stroke="#ff0056" d="M91.5 200.3h0M129.0 231.1h0M172.3 282.8h0M139.4 237.4h0M86.9 201.6h0M171.8 278.2h0M154.6 267.7h0M169.5 279.1h0M105.5 213.0h0M133.0 235.1h0M119.5 226.9h0M102.4 198.3h0M145.5 240.9h0M167.5 281.3h0M164.8 279.1h0M167.1 313.6h0M112.5 221.2h0M92.4 208.8h0M167.2 283.6h0M171.3 280.0h0M119.3 217.4h0M101.7 211.1h0M169.4 290.5h0M128.4 229.3h0M102.8 210.9h0M158.2 269.1h0M80.0 197.5h0M91.8 207.1h0M117.7 224.1h0M133.5 233.2h0M130.1 236.5h0M159.4 269.1h0M130.2 237.0h0M173.6 290.8h0M95.6 200.0h0M107.0 218.9h0M168.7 286.2h0M170.9 283.3h0M156.1 269.1h0M169.0 311.4h0M105.2 211.9h0"/>
<path stroke="#da0aa0" d="M99.5 216.4h0M173.4 277.1h0M153.9 268.5h0M186.3 296.7h0M161.1 268.4h0M152.8 269.1h0M170.7 271.1h0M151.8 261.6h0M171.0 289.2h0M153.5 262.6h0M168.4 275.6h0M165.6 269.7h0M167.3 276.3h0M167.3 276.1h0M152.5 263.8h0"/>
<path stroke="#bc1fbf" d="M169.7 275.0h0M167.8 278.7h0M78.0 215.4h0M163.1 276.9h0M168.2 280.2h0M150.2 257.8h0M157.6 276.8h0M153.0 264.5h0M154.8 269.7h0M175.9 284.5h0M109.9 247.1h0M78.2 209.2h0M179.4 286.5h0"/>
<path stroke="#f80071" d="M110.6 217.9h0M184.2 292.9h0M102.2 219.7h0M153.2 260.4h0M149.7 263.3h0M153.4 264.0h0M116.8 231.0h0M163.5 284.1h0M122.3 224.2h0M139.1 243.3h0M159.7 272.7h0M160.9 273.2h0M166.9 284.1h0M101.4 213.8h0M102.7 215.4h0M175.7 296.4h0M159.2 274.4h0M153.2 258.0h0M167.8 279.4h0M148.0 257.0h0M135.4 235.4h0M169.0 305.2h0M164.2 273.9h0M134.7 244.1h0M153.0 259.2h0M160.9 272.0h0M102.5 207.5h0M129.8 234.5h0M99.7 205.3h0M105.6 221.3h0M100.3 212.4h0M172.1 271.7h0"/>
<path stroke="#754fed" d="M105.9 220.3h0M157.2 274.1h0M93.5 213.1h0M88.2 211.1h0M119.3 228.0h0M123.9 239.6h0M100.5 217.2h0M159.1 261.2h0M115.5 225.1h0M101.5 217.6h0M132.5 238.1h0M133.0 237.5h0M90.9 203.0h0M94.9 205.9h0M126.2 235.4h0"/>
<path stroke="#ec0387" d="M96.1 222.5h0M106.5 223.2h0M179.5 291.8h0M153.3 268.5h0M89.7 218.0h0M127.4 240.2h0M169.7 289.4h0M81.0 211.2h0M155.9 265.2h0M183.4 294.4h0M160.8 264.3h0M129.0 232.5h0M167.9 285.2h0M162.5 275.9h0M161.1 263.5h0M89.0 200.4h0M169.9 278.9h0M170.1 289.1h0M118.3 223.0h0M96.9 213.3h0M107.9 216.0h0M140.8 253.5h0M126.7 234.1h0M86.9 213.2h0M148.3 258.3h0M165.6 276.6h0M89.7 201.3h0M109.9 222.2h0M120.8 232.6h0M156.1 261.9h0M163.7 263.3h0M89.3 203.1h0M147.7 248.8h0M89.8 210.9h0"/>
<path stroke="#754fed" d="M116.4 226.1h0M86.1 210.2h0M99.6 208.4h0M155.4 263.8h0M161.0 272.9h0M86.5 212.9h0M107.8 220.7h0M160.9 275.0h0M161.9 260.3h0M106.2 225.3h0M102.9 212.8h0M164.8 281.1h0M94.1 207.8h0M166.1 286.1h0M170.9 285.1h0M131.0 234.7h0M95.4 210.3h0M147.5 254.0h0"/>
<path stroke="#ec0387" d="M93.7 214.3h0M98.9 217.0h0M122.4 226.7h0M132.0 238.5h0M162.2 282.3h0M122.7 231.3h0M180.2 290.8h0M104.0 220.4h0M161.7 272.5h0M95.4 218.5h0M93.7 211.2h0M164.0 273.2h0M166.7 277.8h0M159.3 274.6h0M119.9 227.2h0M104.8 220.6h0M129.5 238.8h0M105.7 210.9h0M133.5 239.3h0M122.2 236.9h0M91.5 211.8h0M102.5 207.8h0M98.3 212.2h0M107.6 226.3h0M125.0 232.3h0M117.9 221.4h0M158.0 267.7h0M108.9 214.2h0M148.6 257.9h0M156.0 264.2h0M89.2 209.2h0M106.1 225.1h0M156.3 274.0h0M90.6 206.9h0M113.6 223.4h0"/>
<path stroke="#ff0056" d="M148.7 254.9h0M115.5 221.7h0M98.4 206.3h0M162.0 281.4h0M149.5 251.9h0M91.7 211.5h0M128.3 227.7h0M167.1 275.1h0M105.8 205.3h0M99.4 214.3h0M160.1 272.9h0M90.2 206.8h0M166.2 275.5h0M105.0 214.5h0M113.7 205.3h0M150.9 260.5h0M164.6 277.0h0M99.4 205.1h0M144.6 252.1h0M95.4 200.6h0M161.7 270.3h0M165.9 279.2h0M101.7 204.9h0M151.8 265.9h0M164.5 282.1h0M114.2 212.7h0M88.3 208.7h0M81.8 210.1h0M90.3 204.9h0M140.4 237.0h0M95.3 212.1h0M117.2 209.6h0M152.5 258.7h0M160.3 277.4h0M172.7 282.8h0M106.7 218.3h0M93.5 207.2h0M103.6 197.8h0M122.0 225.7h0M134.8 236.3h0M101.6 207.2h0M103.2 199.5h0M107.9 211.9h0M139.1 247.7h0M85.3 207.7h0M102.8 214.8h0M115.3 211.0h0M92.0 206.9h0M68.3 202.4h0M102.4 207.0h0M140.1 241.5h0M162.2 280.1h0"/>
<path stroke="#2a72fb" d="M80.8 210.6h0M107.7 211.6h0M102.1 211.8h0M124.8 237.0h0M187.6 296.8h0M141.4 246.8h0M121.2 226.5h0M128.6 232.5h0M105.8 224.1h0M124.7 223.4h0M96.6 212.1h0M102.0 222.2h0M102.6 214.0h0M100.5 216.8h0M124.5 240.3h0M132.0 239.3h0M96.5 207.0h0M118.1 231.1h0M97.1 218.5h0M116.7 220.8h0M151.3 270.1h0M97.6 229.6h0M91.5 215.6h0M118.5 231.0h0"/>
<path stroke="#9838d9" d="M160.8 281.1h0M176.2 285.4h0M173.2 275.2h0M182.0 293.1h0M153.3 264.1h0M154.4 261.0h0"/>
<path stroke="#f80071" d="M130.5 228.7h0M88.5 208.7h0M104.0 214.9h0M149.4 253.5h0M162.3 275.4h0M174.8 275.1h0M107.1 218.3h0M173.8 288.1h0M93.7 200.0h0M197.6 295.3h0M97.3 210.1h0M100.3 209.4h0M170.5 292.8h0M156.5 271.8h0M134.2 241.4h0M116.1 212.5h0M153.7 268.4h0M121.9 224.4h0M99.8 203.6h0"/>
<path stroke="#da0aa0" d="M156.8 261.7h0M148.3 246.7h0M167.7 283.7h0M160.0 264.9h0M168.0 285.9h0M158.4 266.8h0M174.0 289.2h0M175.4 285.4h0M91.4 206.2h0M109.2 219.2h0M159.8 272.3h0M170.2 277.6h0M177.9 289.8h0M152.7 263.1h0M159.0 279.0h0M96.5 208.9h0M165.4 287.1h0M169.7 282.1h0"/>
<path stroke="#ff0060" d="M158.6 269.4h0M97.7 206.2h0M120.5 227.5h0M157.8 266.4h0M152.2 256.9h0M148.7 259.1h0M154.1 270.2h0M177.4 292.9h0M112.7 216.7h0M122.4 221.1h0M69.7 208.4h0M153.4 259.3h0M166.9 270.4h0M152.6 259.5h0M149.8 258.4h0M146.8 249.7h0M85.2 214.4h0M172.2 292.7h0M88.3 209.8h0M88.5 201.6h0M136.7 243.2h0M126.5 236.1h0"/>
<path stroke="#057ffd" d="M104.2 220.3h0M96.9 218.7h0M103.3 229.0h0M97.6 223.1h0M104.7 224.1h0M108.4 222.3h0M90.0 216.1h0M106.8 216.7h0M88.6 205.0h0M97.3 217.5h0M110.8 228.2h0M105.6 223.4h0M98.5 219.9h0M112.2 229.5h0M109.5 231.5h0M103.3 225.4h0M56.1 229.8h0M97.4 222.2h0M89.7 211.1h0M100.5 207.5h0M82.9 213.9h0M133.5 244.6h0M93.0 207.0h0M134.3 246.8h0M131.3 249.7h0M104.6 214.6h0M105.3 226.9h0M114.4 224.8h0M117.8 228.6h0M128.9 238.8h0M121.0 238.6h0M96.0 207.7h0M94.1 211.0h0M97.0 224.5h0M83.5 210.4h0M119.9 239.1h0M131.5 239.4h0M69.7 210.4h0M108.1 233.0h0M119.4 238.3h0M107.4 220.5h0M110.3 222.0h0M112.3 231.1h0M111.3 231.7h0M144.2 251.9h0M98.5 211.9h0M110.4 225.4h0M109.3 233.6h0M92.1 214.3h0M71.6 214.9h0M93.9 222.7h0M118.6 234.6h0M94.5 216.3h0M105.4 218.3h0M105.4 226.9h0M116.1 245.3h0M98.0 220.6h0M95.1 225.4h0M102.7 228.7h0M98.5 229.3h0M101.9 218.4h0M87.1 225.5h0M130.1 243.1h0M94.1 214.6h0M108.3 234.5h0M132.8 236.0h0M82.2 215.6h0M117.7 230.5h0M126.0 241.9h0M94.6 208.5h0M114.4 232.6h0M122.6 228.5h0M54.3 228.0h0M93.3 222.2h0M97.4 219.9h0M119.1 230.4h0M97.4 221.0h0M160.6 287.1h0M122.4 239.3h0M100.0 231.2h0M138.1 241.5h0M122.2 241.4h0M128.3 243.0h0M98.5 219.2h0M139.8 253.1h0M120.1 232.8h0M147.5 264.2h0M97.7 219.0h0M92.7 223.6h0M112.8 234.3h0M88.6 223.2h0M88.9 216.4h0M87.4 213.1h0M108.5 227.7h0"/>
<path stroke="#117afd" d="M103.0 217.0h0M117.6 225.0h0M121.6 227.4h0M100.6 220.9h0M150.9 241.4h0M100.8 215.5h0M149.7 269.1h0M107.9 222.0h0M149.2 267.5h0M91.8 237.9h0M151.9 274.0h0M162.7 289.1h0M129.7 234.6h0M110.0 216.9h0M107.6 217.5h0M119.2 238.3h0M103.6 221.0h0M96.3 208.4h0M125.9 229.1h0M129.7 235.8h0M110.4 222.3h0M96.3 214.9h0M132.2 241.9h0"/>
<path stroke="#bc1fbf" d="M162.3 274.5h0M155.7 263.0h0M167.9 278.2h0M181.6 290.5h0M167.8 294.9h0M160.5 282.0h0M164.2 280.7h0M166.2 265.9h0M161.8 263.3h0M162.0 279.2h0M149.8 258.2h0M163.5 280.0h0"/>
<path stroke="#4c64f6" d="M102.9 225.1h0M123.1 226.2h0M95.4 218.2h0M107.6 221.0h0M79.0 208.3h0M105.6 224.8h0M94.1 211.4h0M124.6 227.5h0M109.1 222.5h0M129.5 236.4h0M103.4 224.9h0M161.0 278.1h0M107.0 216.7h0M131.2 238.6h0M102.4 225.2h0M165.1 277.8h0M171.2 276.2h0M145.1 252.9h0M80.1 207.8h0"/>
<path stroke="#bc1fbf" d="M164.7 272.1h0M153.2 250.8h0M169.5 272.4h0M160.1 281.3h0M171.8 285.3h0M153.5 259.4h0M154.3 260.3h0M167.4 275.0h0M170.2 283.8h0M151.6 263.8h0M75.2 218.3h0M194.8 325.1h0"/>
<path stroke="#ff0056" d="M80.4 205.9h0M168.8 281.5h0M89.4 204.3h0M89.5 214.1h0M106.4 221.8h0M162.1 272.0h0M171.3 284.1h0M97.6 202.6h0M157.4 262.2h0M158.6 263.5h0M152.0 257.7h0M175.6 283.6h0M159.8 274.1h0M101.1 206.8h0M163.8 274.7h0M147.6 259.7h0M96.2 198.8h0M140.8 240.7h0M101.5 213.5h0M110.2 218.3h0M83.6 206.5h0M98.3 207.2h0M122.0 223.5h0M165.9 279.5h0M122.0 224.9h0M171.0 269.9h0M86.9 205.5h0M137.6 253.7h0M135.5 235.6h0M96.5 198.7h0M166.2 263.1h0M127.0 222.7h0M93.4 195.5h0M92.6 208.7h0M127.3 235.1h0M112.4 222.5h0M128.7 234.9h0M106.3 202.3h0M170.0 279.2h0M105.8 205.9h0M158.7 267.8h0M175.4 287.3h0M100.5 207.6h0M86.0 208.0h0M123.0 222.1h0"/>
<path stroke="#9838d9" d="M152.1 262.0h0M169.7 290.3h0M170.7 280.1h0M166.4 265.9h0M174.4 291.9h0"/>
<path stroke="#117afd" d="M153.4 273.7h0M164.3 306.8h0M105.7 214.2h0M102.2 218.7h0M112.0 221.7h0M150.7 272.3h0M94.6 209.0h0M79.7 219.0h0M143.2 252.5h0M97.1 209.7h0M104.0 221.5h0M113.5 232.3h0M110.9 229.3h0M107.5 219.9h0M163.5 290.2h0M103.1 219.5h0M92.1 216.0h0M151.9 267.7h0M124.6 230.7h0M110.3 226.0h0M124.6 232.2h0M86.8 219.6h0M90.8 193.2h0M93.5 205.2h0M84.2 220.4h0M80.2 208.6h0M98.4 194.3h0M147.0 257.6h0M89.8 208.6h0M138.1 245.1h0M102.1 214.6h0"/>
<path stroke="#2a72fb" d="M116.8 224.5h0M110.1 218.5h0M126.4 231.3h0M80.1 214.2h0M88.7 221.2h0M163.7 282.3h0M122.2 226.5h0M95.2 220.0h0M92.9 212.6h0M110.8 219.5h0M116.6 232.8h0M92.4 210.8h0M89.4 214.7h0M101.0 217.8h0M114.9 224.2h0M106.5 217.4h0M101.5 220.4h0M63.3 215.0h0M88.9 206.4h0M90.6 203.1h0M140.5 246.5h0M152.2 274.3h0M101.2 218.1h0M112.6 224.4h0M119.1 226.9h0M153.4 274.3h0M118.0 225.4h0M132.2 238.0h0"/>
<path stroke="#da0aa0" d="M155.4 269.5h0M102.0 209.9h0M93.4 221.6h0M87.6 203.2h0M57.8 215.2h0M100.5 216.1h0M116.0 224.1h0M102.1 212.9h0M184.7 301.4h0M98.8 213.9h0M164.9 280.2h0M150.8 264.5h0M163.6 272.9h0M173.4 292.7h0M153.3 266.7h0M165.8 262.0h0M158.5 265.9h0"/>
<path stroke="#754fed" d="M110.6 223.2h0M128.1 247.4h0M115.9 226.5h0M141.6 251.1h0M138.5 251.0h0M102.4 216.5h0M151.2 267.0h0M104.2 210.5h0M134.3 238.9h0M159.6 254.5h0M99.6 215.0h0M88.6 211.9h0M87.4 210.0h0M155.8 272.4h0M92.3 215.6h0"/>
<path stroke="#4c64f6" d="M87.9 208.7h0M91.4 209.8h0M92.8 208.3h0M116.6 223.1h0M104.7 220.6h0M162.5 280.5h0M121.6 231.0h0M146.1 254.1h0M105.1 227.3h0M166.8 276.5h0M160.4 244.8h0M117.4 235.9h0M102.0 226.1h0M93.9 215.9h0M123.2 234.4h0M111.8 230.4h0M91.9 215.4h0M110.2 229.0h0M162.6 290.7h0M119.4 223.2h0M128.9 232.0h0M103.4 222.0h0M102.2 214.5h0M121.5 227.1h0"/>
<path stroke="#ff0060" d="M162.2 272.0h0M163.6 268.0h0M171.0 298.3h0M91.0 208.4h0M127.2 236.3h0M162.9 270.2h0M172.8 288.9h0M173.1 279.6h0M178.1 291.4h0M148.5 263.5h0M150.5 256.8h0M129.9 238.5h0M171.1 275.6h0M129.3 232.2h0M125.9 228.5h0M95.0 198.1h0M91.3 203.4h0M137.0 238.5h0M97.8 211.7h0M177.3 275.8h0M154.8 263.7h0M156.3 267.3h0M86.7 206.5h0M138.9 243.1h0M128.6 236.9h0"/>
<path stroke="#f80071" d="M157.3 275.7h0M149.1 265.1h0M169.8 287.9h0M107.6 225.7h0M156.0 273.0h0M171.5 290.9h0M153.7 265.6h0M177.1 289.4h0M90.4 211.7h0M101.8 216.7h0M116.7 234.0h0M151.1 262.9h0M106.4 208.6h0M97.3 209.6h0M170.5 288.9h0M157.8 268.8h0M116.7 218.5h0M87.7 209.3h0M174.5 287.9h0M161.0 274.9h0M153.2 263.6h0M164.6 283.9h0M112.2 218.9h0M177.3 266.2h0"/>
<path stroke="#ec0387" d="M148.1 249.5h0M110.8 229.2h0M117.6 221.4h0M79.3 207.5h0M111.2 218.0h0M114.6 225.0h0M134.9 243.1h0M106.0 227.2h0M155.4 264.4h0M161.1 264.3h0M109.6 214.9h0M84.3 211.3h0M113.8 228.5h0M166.2 280.4h0M168.8 276.1h0M84.4 208.0h0M114.9 221.9h0M183.4 277.4h0M115.4 220.0h0M102.4 216.8h0M128.0 237.7h0M143.6 251.2h0M163.6 267.9h0M98.6 217.9h0M131.1 244.4h0M147.6 254.0h0M153.0 257.8h0M110.0 216.1h0M173.2 291.4h0M149.0 252.8h0M125.8 228.9h0M179.5 302.6h0"/>
<path stroke="#057ffd" d="M106.8 227.7h0M105.9 225.1h0M103.3 227.6h0M91.5 207.1h0M121.7 240.1h0M99.8 215.9h0M84.3 219.5h0M87.2 214.4h0M108.8 216.5h0M105.8 222.4h0M103.9 231.2h0M114.9 234.9h0M98.4 228.0h0M133.0 242.2h0M93.8 214.8h0M108.3 227.0h0M88.8 219.3h0M116.5 228.6h0M111.5 232.4h0M77.6 211.5h0M100.6 231.0h0M114.2 235.7h0M132.6 243.8h0M134.0 241.1h0M94.9 216.7h0M91.3 212.8h0M101.5 212.2h0M138.1 252.9h0M91.6 210.2h0M104.1 228.8h0M107.9 228.8h0M154.4 277.3h0M93.9 226.1h0M113.8 233.9h0M82.4 219.5h0M125.2 237.5h0M102.5 220.6h0M122.6 235.7h0M136.1 253.1h0M156.5 278.8h0M95.2 221.7h0M86.6 216.9h0M98.2 234.4h0M114.5 232.4h0M118.8 240.0h0M102.9 228.1h0M113.7 224.5h0M116.4 234.5h0M98.3 234.2h0M125.0 225.1h0M106.5 229.8h0M96.0 219.0h0M132.5 247.6h0M98.7 220.8h0M105.5 224.2h0M94.2 215.8h0M124.7 235.6h0M125.5 239.3h0M123.8 234.7h0M112.2 219.5h0M74.7 218.3h0M100.9 232.7h0M56.0 217.9h0M119.8 234.1h0M88.6 215.6h0M118.0 231.2h0M106.2 228.2h0M131.1 233.7h0M84.5 221.3h0M117.5 236.3h0M82.8 220.7h0M99.3 232.6h0M94.6 215.2h0M89.3 223.8h0M116.9 235.4h0M83.2 215.0h0M164.6 292.7h0M57.2 224.7h0M80.2 207.2h0M134.1 247.1h0M125.5 233.9h0M92.0 214.4h0M121.7 230.0h0M128.1 244.1h0"/>
<path stroke="#da0aa0" d="M148.1 262.4h0M150.4 267.6h0M84.6 223.2h0M121.3 236.7h0M152.6 269.3h0M162.3 285.9h0M164.4 271.5h0M120.7 227.6h0M175.3 287.1h0M119.0 230.8h0M161.1 277.5h0M149.6 258.5h0M162.3 247.1h0M159.5 277.8h0M143.6 252.8h0M159.2 276.1h0"/>
<path stroke="#ff0056" d="M154.8 252.4h0M96.6 206.9h0M125.1 222.0h0M139.8 241.2h0M153.8 262.1h0M72.2 202.9h0M91.5 206.2h0M108.6 217.3h0M48.9 227.6h0M110.9 222.1h0M170.9 315.9h0M95.7 210.4h0M120.3 221.1h0M166.8 267.9h0M122.5 221.9h0M108.6 216.5h0M120.1 219.8h0M152.1 266.2h0M177.9 284.1h0M131.1 229.6h0M114.3 221.1h0M164.2 278.3h0M159.9 281.8h0M111.1 220.0h0M99.3 217.1h0M142.6 245.8h0M165.1 280.2h0M108.8 214.5h0M151.7 255.0h0M100.2 206.4h0M177.2 278.8h0M128.8 239.2h0M172.8 277.5h0M127.3 235.7h0M173.4 278.7h0M141.3 239.7h0M163.9 268.2h0M76.0 199.6h0M108.3 218.7h0M96.0 202.2h0M115.7 218.7h0M123.3 229.3h0M178.7 295.0h0M135.8 239.3h0M172.3 289.1h0M131.5 230.6h0M88.3 205.9h0M130.8 236.1h0M135.8 234.4h0M96.0 209.1h0M145.9 250.0h0M181.6 282.9h0M85.5 212.1h0M86.8 193.3h0M186.6 300.1h0M92.2 213.9h0M147.5 262.9h0M117.8 229.0h0M142.4 247.6h0M175.9 285.1h0"/>
<path stroke="#bc1fbf" d="M182.4 332.0h0M164.9 271.0h0M156.8 258.2h0M73.8 210.4h0M57.3 209.5h0M160.8 271.9h0M161.7 272.7h0M160.4 266.6h0M162.4 261.9h0M160.4 275.5h0M162.9 272.2h0"/>
<path stroke="#057ffd" d="M134.9 246.7h0M99.8 229.0h0M166.1 289.4h0M116.1 232.7h0M96.2 221.5h0M87.5 219.4h0M104.1 216.8h0M104.4 228.5h0M105.3 222.9h0M86.3 211.8h0M121.8 229.0h0M124.0 238.1h0M101.1 220.9h0M104.3 227.5h0M99.9 210.7h0M136.5 251.6h0M86.8 217.6h0M92.8 225.2h0M54.8 213.0h0M94.8 220.4h0M125.7 233.5h0M107.8 231.2h0M146.5 262.1h0M97.7 225.3h0M153.0 268.7h0M122.2 244.6h0M119.3 236.0h0M130.3 238.1h0M117.3 237.6h0M143.3 253.5h0M131.0 249.5h0M124.4 242.0h0M100.5 217.4h0M77.5 213.4h0M108.8 225.0h0M110.5 233.2h0M68.2 217.2h0M81.2 206.6h0M93.5 212.8h0M104.2 218.0h0M127.2 245.0h0M89.1 218.5h0M82.1 210.8h0M105.5 234.2h0M146.4 263.1h0M131.9 242.8h0M145.6 254.2h0M128.7 240.6h0M94.9 213.9h0M117.1 234.9h0M89.8 210.0h0M104.2 231.6h0M95.1 213.1h0M98.1 217.5h0M127.2 241.5h0M93.8 220.5h0M106.9 228.6h0M113.9 223.5h0M140.1 249.5h0M100.4 220.4h0M94.0 212.9h0M103.4 231.5h0M143.0 248.8h0M106.3 227.4h0M116.1 230.5h0M116.5 223.5h0M115.5 227.6h0M101.1 218.9h0M94.0 205.8h0M89.0 215.0h0M110.0 231.7h0M121.0 240.3h0M109.0 216.8h0M129.2 241.1h0M101.2 217.3h0M124.8 230.4h0M127.3 236.7h0M75.8 225.2h0M100.1 223.3h0"/>
<path stroke="#ff0060" d="M113.6 225.1h0M93.7 205.0h0M148.0 252.4h0M96.1 206.9h0M127.9 233.8h0M124.9 233.3h0M102.1 204.9h0M106.4 221.9h0M182.9 325.7h0M94.6 213.7h0M112.5 224.8h0M100.9 212.2h0M181.4 325.1h0M73.4 207.2h0M162.5 276.7h0M116.8 226.3h0M114.6 228.2h0M169.5 288.0h0M112.4 216.8h0M128.8 231.3h0M159.6 271.8h0M175.9 284.0h0M109.4 215.3h0M131.7 234.5h0M155.6 272.7h0M97.2 215.7h0M161.4 278.9h0M140.5 242.6h0"/>
<path stroke="#4c64f6" d="M121.3 233.0h0M111.9 222.5h0M114.4 224.6h0M172.9 289.4h0M122.3 226.6h0M105.2 215.4h0M114.8 226.8h0M161.3 286.3h0M133.9 239.3h0M102.2 219.5h0M100.2 202.7h0M165.4 273.0h0M102.1 212.4h0M143.9 252.4h0M84.1 209.8h0M87.9 225.7h0M130.1 235.8h0M99.2 210.9h0M115.7 219.1h0M100.1 215.1h0M94.3 207.7h0M130.9 238.0h0M112.6 218.3h0M98.8 216.1h0M99.9 213.6h0M99.9 227.4h0M119.3 223.7h0M126.0 229.8h0M96.7 213.0h0M115.1 228.8h0M95.6 212.8h0M156.0 282.8h0M101.3 207.6h0M113.7 225.9h0M109.1 224.1h0M103.1 216.8h0M107.2 222.3h0M112.0 229.7h0"/>
<path stroke="#117afd" d="M111.8 234.7h0M102.5 221.6h0M128.9 242.8h0M137.7 251.7h0M118.0 227.2h0M120.0 220.2h0M104.7 217.4h0M154.0 274.6h0M78.5 212.7h0M125.1 236.8h0M119.3 225.1h0M139.3 250.4h0M125.9 231.7h0M100.0 221.8h0M107.5 219.5h0M134.1 239.5h0M157.2 283.8h0M113.4 230.4h0M134.7 243.8h0M114.4 226.4h0M80.8 214.7h0"/>
<path stroke="#f80071" d="M159.7 282.1h0M180.8 285.8h0M121.2 229.2h0M159.1 280.7h0M103.1 217.8h0M94.1 211.2h0M87.9 205.0h0M145.2 249.8h0M103.0 212.2h0M168.1 273.0h0M183.2 294.7h0M173.8 284.4h0M151.2 253.1h0M101.0 220.3h0M101.1 220.7h0M140.4 245.7h0M111.9 218.3h0M157.2 255.9h0M174.5 290.4h0M166.3 282.8h0"/>
<path stroke="#754fed" d="M165.9 277.7h0M79.0 211.8h0M86.6 207.5h0M100.3 213.0h0M106.5 233.4h0M138.7 244.3h0M159.3 279.0h0M158.8 271.0h0M87.1 203.2h0M91.2 219.0h0M92.0 212.8h0M87.2 208.2h0M172.3 275.5h0M162.6 271.9h0M129.1 237.6h0"/>
<path stroke="#ec0387" d="M160.8 273.3h0M175.8 279.6h0M111.3 223.2h0M161.2 271.7h0M151.6 255.4h0M159.8 281.1h0M101.8 214.9h0M109.8 214.0h0M103.0 217.0h0M130.9 242.4h0M95.0 213.6h0M156.9 264.1h0M97.1 215.8h0M113.0 217.2h0M106.4 226.8h0M81.0 209.6h0M155.5 265.6h0M107.2 215.9h0M82.0 207.9h0M100.2 209.4h0M168.2 269.4h0M170.4 288.2h0M118.4 218.9h0M169.0 277.2h0"/>
<path stroke="#2a72fb" d="M82.2 213.9h0M86.9 211.7h0M79.6 210.6h0M104.4 224.2h0M93.8 220.4h0M122.3 229.2h0M126.3 239.3h0M132.8 238.3h0M94.4 219.9h0M132.7 240.2h0M101.6 223.9h0M129.6 233.9h0M93.7 219.8h0M93.1 214.3h0M103.5 217.0h0M122.9 227.5h0M119.0 239.2h0M102.0 214.3h0M85.9 202.3h0M153.7 279.4h0M104.9 210.9h0M162.7 291.0h0M158.5 283.5h0M101.4 216.2h0M123.1 228.0h0M110.8 229.1h0"/>
<path stroke="#9838d9" d="M151.0 265.3h0M152.3 255.5h0M168.4 279.8h0M167.7 288.0h0"/>
<path stroke="#da0aa0" d="M164.0 273.9h0M170.0 303.5h0M150.8 260.3h0M152.9 266.3h0M101.6 210.0h0M157.6 271.9h0M102.4 223.0h0M163.8 280.4h0M149.7 252.0h0M114.7 221.3h0M184.9 282.9h0M156.4 267.9h0M124.8 234.1h0M168.4 276.3h0M170.6 286.5h0"/>
<path stroke="#117afd" d="M107.7 216.4h0M140.3 250.7h0M97.3 226.2h0M96.4 215.0h0M131.6 241.1h0M164.3 279.0h0M118.8 232.9h0M73.6 214.5h0M127.3 239.0h0M130.6 242.7h0M111.2 226.1h0M95.2 219.5h0M124.6 236.4h0M109.0 221.0h0M93.7 210.4h0M100.7 214.4h0M152.8 243.6h0M79.7 220.7h0M149.0 274.6h0M102.5 223.7h0M107.7 226.8h0M109.4 219.0h0M111.3 230.7h0M103.0 224.8h0M114.5 226.7h0M113.5 220.9h0M140.6 245.1h0M111.1 219.8h0M165.6 290.8h0M94.0 212.0h0"/>
<path stroke="#2a72fb" d="M110.5 221.3h0M135.7 247.2h0M97.0 219.1h0M105.6 227.1h0M173.0 285.0h0M101.2 225.4h0M97.2 218.7h0M100.0 210.0h0M122.1 230.0h0M100.0 221.8h0M114.2 225.8h0M104.6 219.5h0M127.2 231.8h0M88.3 199.1h0M126.6 246.5h0M105.8 224.2h0M154.8 267.7h0M128.2 228.7h0M114.2 227.2h0M85.6 206.4h0M109.2 217.8h0M104.7 207.9h0M96.1 211.3h0"/>
<path stroke="#057ffd" d="M134.3 240.5h0M105.8 218.1h0M109.9 224.6h0M143.4 251.3h0M131.3 240.8h0M130.2 236.0h0M119.4 241.5h0M95.2 222.8h0M98.0 217.4h0M98.6 218.9h0M113.9 223.5h0M131.4 243.0h0M122.9 231.9h0M127.0 240.0h0M99.9 227.0h0M134.6 243.2h0M114.4 218.3h0M84.7 221.3h0M80.6 211.1h0M126.4 238.5h0M113.4 222.0h0M119.5 226.9h0M94.9 225.6h0M107.4 219.9h0M167.0 293.9h0M115.6 230.1h0M134.3 246.8h0M118.8 233.1h0M117.1 240.0h0M121.8 231.9h0M91.2 213.2h0M97.2 220.2h0M116.0 233.2h0M94.5 209.1h0M129.9 245.2h0M94.6 210.9h0M128.6 240.6h0M113.2 223.3h0M116.6 230.5h0M94.9 222.3h0M112.5 227.1h0M86.6 214.4h0M97.2 217.7h0M132.9 243.4h0M146.5 259.4h0M115.7 235.0h0M83.9 218.4h0M139.8 255.3h0M129.9 245.2h0M109.7 228.7h0M94.7 210.1h0M133.4 239.7h0M134.7 251.7h0M119.7 244.2h0M104.4 218.3h0M135.2 247.9h0M94.2 219.7h0M119.4 230.3h0M91.0 220.6h0M89.1 219.5h0M100.9 224.2h0M103.4 228.5h0M113.8 229.3h0M114.2 231.1h0M98.5 215.5h0M116.6 235.1h0M57.9 216.4h0M60.1 209.8h0M99.5 220.8h0M122.4 235.9h0M89.6 214.1h0M99.5 219.2h0M139.7 250.4h0M123.2 238.2h0M129.0 245.9h0M103.8 228.5h0M127.5 247.5h0"/>
<path stroke="#bc1fbf" d="M154.9 262.0h0M164.4 276.9h0M172.4 275.9h0M161.3 252.9h0M159.5 256.3h0M154.6 272.6h0M162.1 262.8h0M167.6 273.2h0M171.5 278.4h0M163.2 283.6h0M156.8 267.2h0M161.4 255.4h0"/>
<path stroke="#9838d9" d="M166.3 287.6h0M147.1 253.6h0M170.7 275.8h0M167.8 280.6h0"/>
<path stroke="#ec0387" d="M121.2 226.1h0M114.3 225.3h0M171.1 296.3h0M151.5 267.1h0M103.4 215.1h0M173.9 300.7h0M164.3 282.5h0M165.8 275.2h0M168.2 273.0h0M70.0 209.3h0M137.1 243.6h0M150.3 249.4h0M158.0 269.9h0M171.8 281.2h0M108.3 221.6h0M93.1 216.6h0M152.9 253.7h0M174.2 280.0h0M149.2 256.1h0M157.7 268.6h0M174.9 277.7h0M108.8 229.9h0M106.0 223.7h0M152.9 266.1h0M106.7 217.2h0M148.5 252.2h0M163.5 272.9h0M162.2 264.5h0M157.0 269.5h0M167.5 273.6h0M117.5 226.6h0M154.4 266.2h0M157.0 261.0h0M98.7 211.7h0"/>
<path stroke="#ff0060" d="M81.2 204.5h0M112.8 229.4h0M170.2 291.3h0M157.7 274.8h0M167.8 276.3h0M100.6 211.2h0M99.7 213.0h0M106.7 216.7h0M118.3 230.3h0M123.3 233.3h0M162.8 286.1h0M84.0 204.3h0M150.9 251.8h0M70.1 217.8h0M152.4 270.0h0M167.6 288.9h0M101.0 214.9h0M158.5 267.7h0M129.1 235.9h0M90.2 218.0h0M61.3 202.3h0M161.8 261.9h0"/>
<path stroke="#754fed" d="M144.6 252.5h0M122.1 235.7h0M111.4 218.4h0M142.0 250.1h0M178.0 299.2h0M149.7 261.8h0M108.6 222.8h0M165.9 280.5h0M133.7 246.0h0M157.6 272.8h0M122.4 231.3h0M143.0 249.3h0M94.6 212.8h0M95.9 214.9h0M169.4 281.6h0M167.6 286.9h0M152.2 259.7h0M103.5 210.3h0M166.4 278.9h0"/>
<path stroke="#f80071" d="M93.2 211.7h0M167.3 267.4h0M103.6 213.5h0M86.8 199.8h0M163.0 258.8h0M98.0 219.9h0M150.0 251.5h0M87.4 210.4h0M94.8 217.7h0M90.9 212.4h0M90.0 216.7h0M155.9 271.1h0M118.8 230.1h0M133.1 250.5h0M88.3 203.1h0M122.7 229.2h0M92.9 206.7h0M154.8 258.4h0M119.7 223.1h0M121.7 222.9h0M109.8 225.0h0M94.0 211.2h0M132.7 234.3h0M93.6 213.5h0"/>
<path stroke="#4c64f6" d="M103.7 212.7h0M118.5 229.2h0M110.3 226.4h0M162.0 276.0h0M116.0 218.8h0M85.3 221.9h0M133.4 238.9h0M143.1 250.7h0M117.5 225.5h0M109.2 214.0h0M113.0 228.8h0M177.3 292.7h0M131.9 244.4h0M107.4 221.5h0M155.0 263.1h0M89.2 213.5h0M138.2 244.7h0M103.2 217.5h0M95.8 216.3h0M132.6 234.9h0M87.9 209.8h0M132.9 236.7h0M101.9 221.9h0M97.0 210.9h0M120.9 234.2h0M141.3 241.6h0"/>
<path stroke="#ff0056" d="M93.5 201.3h0M104.8 215.1h0M124.7 233.0h0M149.3 258.0h0M125.5 226.5h0M177.7 289.5h0M115.6 220.8h0M141.9 245.5h0M131.1 237.9h0M163.3 283.3h0M105.2 210.8h0M95.6 198.7h0M108.2 209.2h0M105.6 212.3h0M120.3 216.4h0M93.4 191.0h0M128.7 235.7h0M94.1 198.5h0M177.7 282.4h0M160.2 280.3h0M84.0 201.9h0M102.0 212.7h0M115.2 214.4h0M161.5 268.5h0M117.6 219.0h0M95.2 200.6h0M126.5 226.1h0M99.5 205.3h0M152.3 268.8h0M100.8 202.3h0M108.7 217.2h0M112.1 215.3h0M165.8 275.2h0M157.0 263.5h0M89.9 204.8h0M145.2 248.3h0M145.5 258.1h0M86.0 203.1h0M95.2 204.2h0M163.2 267.0h0M156.0 267.0h0M56.6 213.3h0M113.0 213.8h0M171.9 312.5h0M93.1 218.3h0M167.6 289.5h0M87.2 201.3h0M105.3 216.8h0M165.6 275.8h0M130.9 231.3h0M161.6 274.3h0M111.6 216.8h0M141.1 244.4h0M165.9 288.1h0M96.8 213.2h0M122.3 227.1h0"/>
<path stroke="#9838d9" d="M158.5 280.0h0M171.5 273.7h0M164.7 265.1h0M159.7 270.7h0M170.6 285.4h0M155.3 260.4h0"/>
<path stroke="#057ffd" d="M113.0 233.0h0M118.3 230.6h0M109.7 227.9h0M141.5 257.7h0M92.8 213.8h0M93.4 220.9h0M93.6 220.3h0M105.9 218.3h0M107.9 231.1h0M127.8 239.8h0M80.7 220.4h0M106.9 223.8h0M132.7 246.1h0M110.4 220.2h0M110.2 227.9h0M100.8 225.5h0M102.0 220.7h0M82.0 219.5h0M92.6 219.8h0M113.1 228.6h0M101.1 229.0h0M94.4 216.4h0M124.5 236.7h0M106.2 231.0h0M62.2 210.9h0M119.3 232.7h0M99.3 231.0h0M141.1 254.6h0M135.9 248.3h0M104.7 226.9h0M117.1 236.0h0M115.3 244.4h0M121.9 236.7h0M82.2 219.3h0M106.1 235.5h0M98.7 220.8h0M127.0 240.2h0M91.8 214.9h0M89.0 222.4h0M101.6 226.3h0M102.3 225.7h0M118.2 232.9h0M116.2 223.5h0M124.6 241.9h0M82.5 216.4h0M117.1 228.8h0M99.2 233.9h0M104.3 218.5h0M103.3 222.5h0M124.9 248.7h0M139.0 249.6h0M102.5 224.2h0M128.0 242.8h0M93.4 214.3h0M113.4 231.5h0M105.6 227.2h0M94.3 212.8h0M115.5 231.6h0M58.4 220.4h0M93.2 227.6h0M93.6 215.0h0M86.3 222.9h0M96.2 219.9h0M108.3 220.4h0M95.1 222.6h0M99.2 229.7h0M104.9 227.2h0M123.1 237.9h0M95.1 224.6h0M89.0 217.0h0M124.5 241.5h0M100.8 226.3h0M79.0 211.1h0M104.6 222.9h0M132.5 246.2h0M124.2 235.0h0M136.5 244.9h0M116.7 221.7h0M103.3 233.7h0M82.5 209.9h0M98.3 214.0h0M145.1 260.7h0M109.8 236.8h0M96.3 222.9h0M100.3 216.9h0M99.3 216.5h0M92.5 219.1h0M104.6 215.8h0M104.3 217.9h0"/>
<path stroke="#ff0060" d="M135.1 236.6h0M169.3 276.9h0M100.8 214.0h0M145.0 252.2h0M96.9 213.0h0M99.9 213.3h0M205.3 302.2h0M162.8 264.4h0M107.3 218.9h0M122.9 224.3h0M180.7 286.3h0M65.1 203.5h0M111.7 214.0h0M101.8 214.9h0M166.4 283.0h0M104.5 223.3h0M168.1 270.8h0M145.2 249.5h0M88.7 203.4h0M165.8 284.2h0M134.4 233.0h0M158.9 261.8h0M172.0 271.0h0M176.8 290.6h0"/>
<path stroke="#bc1fbf" d="M160.8 269.3h0M158.6 270.5h0M151.4 264.3h0M54.9 212.5h0M164.5 275.7h0M155.6 267.0h0M175.5 299.7h0M161.1 275.1h0"/>
<path stroke="#ec0387" d="M132.6 242.6h0M153.4 272.3h0M106.4 222.4h0M95.8 217.0h0M163.8 280.0h0M134.6 238.5h0M170.8 276.9h0M124.6 230.9h0M178.1 298.8h0M157.9 275.8h0M147.2 261.9h0M162.0 283.4h0M116.4 222.9h0M180.8 292.6h0M94.6 216.5h0M128.9 226.6h0M141.8 247.5h0M167.3 283.1h0M102.7 213.8h0M160.8 280.7h0M147.9 257.5h0M95.3 212.1h0M155.8 266.6h0M142.4 250.8h0M110.1 225.5h0M160.6 280.1h0"/>
<path stroke="#da0aa0" d="M174.9 291.6h0M161.3 270.2h0M166.9 283.5h0M159.9 280.6h0M94.8 216.6h0M127.8 232.2h0M165.5 272.7h0M94.1 213.2h0M189.1 321.7h0M182.4 294.0h0M110.6 220.4h0M177.0 284.2h0M188.8 289.8h0M169.9 281.3h0M156.4 256.7h0M148.4 257.3h0M167.1 275.0h0M119.3 216.9h0M162.9 284.8h0M97.8 208.3h0M101.8 227.2h0M172.3 282.3h0"/>
<path stroke="#117afd" d="M140.6 248.1h0M110.4 234.0h0M115.9 223.2h0M111.7 218.8h0M88.4 219.3h0M75.7 215.4h0M103.9 212.5h0M69.5 208.7h0M129.8 231.7h0M80.4 214.1h0M100.0 223.3h0M89.0 208.5h0M132.9 243.9h0M161.6 296.7h0M157.0 282.4h0M99.7 213.7h0M125.2 236.7h0M164.6 289.2h0M98.6 219.4h0M139.0 249.9h0M98.3 210.4h0M114.4 230.0h0M92.9 218.9h0"/>
<path stroke="#2a72fb" d="M125.6 232.8h0M162.9 294.9h0M82.5 212.4h0M100.6 218.7h0M93.0 209.6h0M104.4 215.3h0M158.1 282.0h0M93.5 212.9h0M93.9 215.3h0M119.9 234.0h0M106.2 221.7h0M107.6 228.5h0M115.9 222.7h0M96.8 213.8h0M98.6 205.3h0M103.2 221.1h0M91.3 222.7h0M98.5 216.8h0M60.1 210.1h0M118.6 232.2h0M168.9 293.6h0M103.1 221.4h0M155.2 279.4h0"/>
<path stroke="#754fed" d="M149.4 252.7h0M131.6 231.8h0M93.7 214.7h0M164.8 272.1h0M117.6 225.1h0M146.3 240.0h0M116.4 222.3h0M171.3 285.7h0M179.3 288.3h0"/>
<path stroke="#ff0056" d="M95.6 197.4h0M156.2 272.0h0M165.3 273.8h0M97.2 206.7h0M110.6 221.4h0M129.7 226.9h0M129.0 229.4h0M93.1 205.7h0M157.6 261.4h0M88.8 213.7h0M111.5 219.9h0M132.8 236.2h0M98.5 213.5h0M184.2 294.1h0M160.8 282.7h0M124.6 223.2h0M100.3 208.5h0M157.5 269.2h0M99.3 205.0h0M116.1 221.7h0M98.8 208.9h0M97.5 204.0h0M82.9 202.4h0M96.8 197.7h0M96.9 204.5h0M100.2 212.1h0M170.1 291.5h0M166.2 310.2h0M124.9 224.7h0M156.0 267.0h0M110.5 217.8h0M140.3 245.2h0M126.4 224.4h0M120.4 226.2h0M99.4 206.1h0M115.3 218.4h0M93.0 218.5h0M83.3 209.9h0M139.7 231.0h0M99.3 205.4h0M113.2 220.7h0M163.9 279.5h0M109.0 213.0h0M105.3 211.5h0M158.4 265.2h0M166.7 282.2h0M93.4 207.3h0M89.1 217.9h0M134.3 233.5h0M90.4 199.5h0M97.9 197.5h0M125.2 221.1h0M103.6 207.6h0M156.8 270.2h0M130.6 231.5h0M89.2 208.9h0M118.7 224.6h0M178.5 279.6h0M126.7 233.3h0M162.1 285.2h0M126.6 233.3h0M119.9 223.5h0M166.3 278.3h0M170.0 282.6h0M174.3 306.1h0M158.0 268.7h0"/>
<path stroke="#4c64f6" d="M124.0 232.6h0M152.5 267.1h0M122.1 235.9h0M108.7 218.7h0M86.5 208.7h0M110.0 219.2h0M123.9 229.1h0M93.6 205.4h0M106.5 217.4h0M134.6 242.4h0M98.7 212.0h0M98.9 212.7h0M119.0 225.8h0M125.1 226.1h0M89.0 210.1h0M95.8 212.2h0M109.4 218.6h0"/>
<path stroke="#f80071" d="M176.6 284.2h0M118.3 220.3h0M172.5 288.9h0M141.4 248.7h0M164.1 280.3h0M168.0 274.2h0M120.3 226.7h0M105.2 218.0h0M109.1 212.9h0M133.5 236.7h0M97.7 210.7h0M107.2 220.1h0M99.1 209.9h0M154.1 259.4h0M165.0 275.8h0M175.4 285.9h0M176.4 282.2h0M159.3 271.5h0M107.3 206.5h0M150.6 267.1h0M123.6 218.2h0M109.1 210.0h0M137.7 238.7h0M183.9 283.5h0M113.3 221.6h0M114.2 219.3h0M153.0 264.1h0M161.4 281.0h0M108.2 214.0h0"/>
<path stroke="#9838d9" d="M162.8 270.9h0M162.4 272.2h0M154.5 269.4h0M166.6 278.9h0M153.8 253.4h0M151.5 267.5h0M165.5 285.6h0M154.3 262.7h0M171.3 277.3h0"/>
<path stroke="#4c64f6" d="M130.7 235.9h0M106.2 219.7h0M128.7 238.7h0M116.8 225.6h0M156.6 287.0h0M92.4 210.4h0M106.2 218.2h0M86.7 223.2h0M160.1 270.5h0M106.4 218.9h0M163.0 274.4h0M125.2 233.4h0M120.9 234.4h0M131.7 232.6h0M194.4 297.6h0M99.3 209.6h0M138.6 247.2h0M80.6 201.7h0M183.8 302.4h0M100.3 212.1h0M96.0 213.2h0M125.9 241.5h0M89.3 221.9h0M132.4 232.7h0M123.4 230.9h0M99.3 211.8h0M89.5 204.4h0"/>
<path stroke="#bc1fbf" d="M76.0 212.4h0M159.3 266.2h0M158.5 266.0h0M156.6 277.7h0M182.9 292.4h0M162.2 267.7h0M164.8 274.3h0"/>
<path stroke="#057ffd" d="M123.5 231.4h0M90.3 214.0h0M128.1 238.6h0M82.7 211.2h0M89.3 216.0h0M134.2 237.5h0M140.7 246.8h0M107.5 233.9h0M89.0 224.3h0M97.9 226.0h0M96.7 224.1h0M129.5 246.1h0M163.0 291.3h0M90.0 218.0h0M130.2 251.0h0M124.0 242.0h0M95.7 220.4h0M105.2 221.0h0M104.0 220.5h0M107.4 230.4h0M99.9 225.0h0M130.3 241.8h0M118.0 224.3h0M103.5 228.0h0M140.0 250.7h0M134.8 245.6h0M131.7 255.4h0M95.2 215.5h0M94.0 214.6h0M113.8 231.8h0M131.3 239.7h0M98.4 228.0h0M133.3 238.1h0M113.9 230.7h0M143.2 255.3h0M85.5 211.7h0M89.4 210.2h0M111.8 228.7h0M97.9 209.7h0M131.1 242.3h0M81.9 207.7h0M107.9 223.2h0M98.5 226.3h0M147.0 255.2h0M163.3 287.7h0M81.9 218.8h0M95.7 221.9h0M109.8 230.5h0M135.0 244.8h0M91.1 220.0h0M112.6 231.9h0M118.2 235.6h0M59.1 214.0h0M138.6 242.6h0M155.6 278.5h0M86.6 220.2h0M116.7 232.0h0M116.8 235.7h0M132.8 237.3h0M127.3 242.2h0M57.5 225.2h0M130.9 246.4h0M132.5 247.0h0M107.6 232.0h0M104.8 225.6h0"/>
<path stroke="#ff0056" d="M118.8 216.7h0M131.4 229.9h0M92.5 216.0h0M89.2 205.5h0M115.0 217.1h0M121.4 229.8h0M133.1 239.1h0M96.5 222.9h0M157.2 263.7h0M157.8 278.1h0M109.8 214.9h0M104.3 207.4h0M106.0 214.4h0M123.1 234.2h0M134.4 228.9h0M161.4 277.8h0M128.1 231.2h0M106.9 220.6h0M96.0 198.6h0M102.8 217.5h0M128.3 238.6h0M150.5 247.1h0M88.8 196.8h0M104.6 213.4h0M163.9 285.4h0M111.9 210.5h0M102.4 206.4h0M166.1 282.0h0M138.0 237.2h0M158.0 249.9h0M90.6 207.0h0M100.9 200.7h0M98.9 204.0h0M170.0 284.3h0M88.8 194.8h0M138.5 240.2h0M107.2 212.4h0M178.7 280.7h0M90.5 218.5h0M122.7 231.6h0M102.3 212.1h0M115.5 219.0h0M117.9 216.1h0M123.9 235.8h0M92.9 210.9h0M100.9 205.5h0M108.3 211.9h0M129.4 233.1h0M117.1 213.9h0M123.4 227.5h0M130.1 233.8h0M123.1 231.5h0M98.9 201.5h0"/>
<path stroke="#ff0060" d="M106.9 215.7h0M109.5 217.7h0M189.1 325.1h0M91.8 210.9h0M163.0 273.0h0M80.1 205.3h0M155.5 273.1h0M94.7 204.0h0M167.6 278.6h0M95.2 202.9h0M160.4 266.6h0M150.1 251.2h0M99.0 213.3h0M95.5 203.6h0M111.3 222.8h0M171.5 284.2h0M133.7 237.7h0M131.1 233.6h0M108.9 218.1h0M89.6 200.5h0M171.9 291.5h0M167.0 279.2h0M149.4 258.8h0M98.8 210.0h0M106.2 211.8h0M170.1 295.6h0M157.6 264.8h0M98.7 209.6h0"/>
<path stroke="#2a72fb" d="M111.4 225.7h0M109.3 226.1h0M126.3 238.4h0M94.5 217.8h0M84.8 207.0h0M97.2 215.4h0M101.0 207.5h0M152.3 272.6h0M155.4 265.0h0M90.5 212.8h0M92.2 210.7h0M117.4 230.4h0M90.3 212.6h0M137.2 248.6h0M95.4 210.8h0M134.4 246.1h0M134.5 250.3h0M98.2 211.2h0M84.6 210.9h0M89.3 211.0h0M93.9 218.8h0"/>
<path stroke="#754fed" d="M109.9 221.3h0M106.9 215.7h0M151.5 268.6h0M117.1 222.0h0M100.7 214.6h0M134.2 234.1h0M126.1 227.4h0M120.3 228.5h0M103.1 210.9h0M104.1 225.8h0M96.7 211.7h0M162.1 263.5h0M169.1 283.1h0M119.8 228.0h0M89.9 206.4h0M156.0 277.6h0"/>
<path stroke="#f80071" d="M95.1 216.6h0M159.0 262.5h0M97.0 212.8h0M76.5 209.4h0M125.0 228.7h0M160.7 270.2h0M178.0 276.7h0M164.2 277.6h0M165.9 282.6h0M118.3 227.6h0M117.2 225.9h0M130.1 237.7h0M98.4 211.4h0M175.8 292.4h0M156.1 261.9h0M95.8 205.5h0M100.4 215.4h0M163.7 268.7h0M136.5 244.1h0M175.8 279.0h0M120.6 229.1h0M150.3 260.7h0M117.5 223.7h0M153.9 272.7h0M133.5 236.5h0M113.6 215.7h0M94.2 209.2h0M100.7 226.7h0M96.0 208.6h0M92.9 212.8h0M119.9 229.3h0M150.6 263.4h0M97.4 211.9h0M91.5 204.8h0M151.0 265.1h0M93.1 211.4h0M101.2 207.3h0M170.4 281.4h0"/>
<path stroke="#ec0387" d="M107.5 216.0h0M118.6 227.3h0M159.2 263.9h0M103.4 209.2h0M156.2 269.5h0M156.1 261.3h0M98.8 216.0h0M122.3 233.2h0M138.3 242.0h0M101.5 213.3h0M83.7 202.8h0M98.6 223.1h0M118.7 224.1h0M148.6 260.8h0M178.1 281.1h0M165.7 276.0h0M86.3 210.2h0M110.8 224.4h0M166.5 286.8h0M96.2 206.3h0M159.0 262.5h0M141.8 247.5h0M104.0 216.7h0M172.8 274.5h0M164.5 279.7h0M79.3 211.3h0M108.6 225.0h0M156.2 273.8h0M120.3 225.2h0M162.1 272.2h0M85.7 212.1h0M136.0 240.5h0"/>
<path stroke="#117afd" d="M152.4 276.6h0M117.4 227.4h0M84.6 212.9h0M118.9 240.7h0M108.9 216.1h0M104.7 223.1h0M132.8 247.8h0M105.1 215.2h0M99.9 207.3h0M75.0 215.7h0M118.9 236.7h0M108.2 221.6h0M109.1 228.0h0M156.6 237.9h0M107.2 222.5h0M165.9 300.6h0M111.2 232.0h0M138.5 249.5h0M112.5 227.9h0M95.4 206.0h0M86.4 206.5h0M130.3 239.2h0M80.4 216.3h0M103.3 217.7h0M161.5 275.7h0"/>
<path stroke="#da0aa0" d="M155.0 259.9h0M150.4 256.1h0M149.3 261.7h0M176.3 289.4h0M97.2 209.2h0M160.6 263.9h0M169.8 276.2h0M167.6 294.1h0M169.0 287.6h0M163.6 268.6h0M138.0 234.8h0M151.9 254.9h0M162.8 278.3h0M156.5 256.5h0M148.6 259.0h0M148.8 252.8h0M173.4 294.5h0M156.3 264.7h0M160.6 273.6h0M147.4 251.8h0M158.7 269.3h0"/>
</g>
<path d="M42.5 186.8V338.5H213.3" stroke="#5a5a5a" stroke-width="1" fill="none"/>
<path d="M47.9 338.5v3M67.0 338.5v3M86.0 338.5v3M105.1 338.5v3M124.2 338.5v3M143.3 338.5v3M162.3 338.5v3M181.4 338.5v3M200.5 338.5v3M42.5 196.6h-3M42.5 219.6h-3M42.5 242.5h-3M42.5 265.4h-3M42.5 288.4h-3M42.5 311.4h-3M42.5 334.3h-3" stroke="#444" stroke-width="1" fill="none"/>
<g font-size="5.6" fill="#3c3c3c">
<text transform="translate(47.9 349.1) scale(1 1.083)" text-anchor="middle">-32</text>
<text transform="translate(67.0 349.1) scale(1 1.083)" text-anchor="middle">-30</text>
<text transform="translate(86.0 349.1) scale(1 1.083)" text-anchor="middle">-28</text>
<text transform="translate(105.1 349.1) scale(1 1.083)" text-anchor="middle">-26</text>
<text transform="translate(124.2 349.1) scale(1 1.083)" text-anchor="middle">-24</text>
<text transform="translate(143.3 349.1) scale(1 1.083)" text-anchor="middle">-22</text>
<text transform="translate(162.3 349.1) scale(1 1.083)" text-anchor="middle">-20</text>
<text transform="translate(181.4 349.1) scale(1 1.083)" text-anchor="middle">-18</text>
<text transform="translate(200.5 349.1) scale(1 1.083)" text-anchor="middle">-16</text>
<text transform="translate(37.0 198.8) scale(1 1.083)" text-anchor="end">0.04</text>
<text transform="translate(37.0 221.7) scale(1 1.083)" text-anchor="end">0.02</text>
<text transform="translate(37.0 244.7) scale(1 1.083)" text-anchor="end">0.00</text>
<text transform="translate(37.0 267.6) scale(1 1.083)" text-anchor="end">-0.02</text>
<text transform="translate(37.0 290.6) scale(1 1.083)" text-anchor="end">-0.04</text>
<text transform="translate(37.0 313.5) scale(1 1.083)" text-anchor="end">-0.06</text>
<text transform="translate(37.0 336.4) scale(1 1.083)" text-anchor="end">-0.08</text>
</g>
<g font-size="6.65" fill="#3c3c3c" text-anchor="middle">
<text transform="translate(127.9 358.3) scale(1 1.083)">SAR_VH_June_rolling_mean</text>
<text transform="translate(11.5 262.6) rotate(-90) scale(1.083 1)">SHAP value for</text>
<text transform="translate(19.5 262.6) rotate(-90) scale(1.083 1)">SAR_VH_June_rolling_mean</text>
</g>
<rect x="224.5" y="186.8" width="2.5" height="151.7" fill="url(#cb)"/>
<g font-size="5.6" fill="#3c3c3c">
<text transform="translate(231.3 337.1) scale(1 1.083)">24.5</text>
<text transform="translate(231.3 315.7) scale(1 1.083)">25.0</text>
<text transform="translate(231.3 294.2) scale(1 1.083)">25.5</text>
<text transform="translate(231.3 272.8) scale(1 1.083)">26.0</text>
<text transform="translate(231.3 251.4) scale(1 1.083)">26.5</text>
<text transform="translate(231.3 229.9) scale(1 1.083)">27.0</text>
<text transform="translate(231.3 208.5) scale(1 1.083)">27.5</text>
</g>
<path d="M227 335.0h2.8M227 313.6h2.8M227 292.1h2.8M227 270.6h2.8M227 249.2h2.8M227 227.8h2.8M227 206.3h2.8" stroke="#444" stroke-width="1" fill="none"/>
<text transform="translate(249.0 264.0) rotate(-90) scale(1.083 1)" font-size="6.65" fill="#3c3c3c" text-anchor="middle">Temperature_June</text>
<rect x="3.4" y="338.9" width="21.6" height="23.600000000000023" fill="#1f6fc4" stroke="#1a5a9e" stroke-width="0.6"/>
<text x="14.2" y="355.7" font-size="10" font-family='"Liberation Serif", serif' text-anchor="middle" fill="#0a0a14" font-weight="bold">c</text>
<rect x="299.5" y="186.8" width="171.0" height="151.7" fill="#e7e9f2"/>
<path d="M305.5 186.8V338.5M326.3 186.8V338.5M347.1 186.8V338.5M367.9 186.8V338.5M388.6 186.8V338.5M409.4 186.8V338.5M430.2 186.8V338.5M451.0 186.8V338.5M299.5 206.0H470.5M299.5 233.7H470.5M299.5 261.4H470.5M299.5 289.1H470.5M299.5 316.8H470.5" stroke="#fff" stroke-width="0.8" fill="none" opacity="0.8"/>
<g fill="none" stroke-width="2.50" stroke-linecap="round">
<path stroke="#4c64f6" d="M364.3 277.9h0M350.4 267.5h0M372.2 281.1h0M442.1 238.6h0M394.2 274.4h0M435.6 230.1h0M404.9 256.8h0M432.6 247.0h0M401.5 269.4h0M378.4 276.5h0M379.5 274.2h0"/>
<path stroke="#ec0387" d="M380.6 291.7h0M420.3 243.0h0M347.7 266.1h0M438.4 235.7h0M455.1 220.2h0M348.0 273.3h0M350.9 266.7h0M335.6 269.3h0M439.1 228.4h0M359.5 277.9h0M339.1 265.1h0M343.8 269.7h0M342.1 266.6h0M349.3 262.2h0M377.1 274.6h0M447.4 228.9h0M396.0 262.2h0M377.3 272.0h0M447.5 222.9h0M358.6 273.7h0M348.5 272.1h0M449.5 218.7h0M348.7 259.4h0M441.2 227.8h0M411.1 251.8h0M347.9 270.2h0M352.3 264.0h0"/>
<path stroke="#f80071" d="M400.6 297.7h0M337.3 277.7h0M419.8 245.0h0M443.9 228.4h0M441.6 239.9h0M399.8 251.4h0M384.8 273.8h0M346.7 268.4h0M432.7 236.2h0M355.5 272.4h0M383.6 275.2h0M335.8 275.1h0M361.6 259.9h0M358.1 269.5h0M435.7 238.9h0M350.8 266.0h0M409.1 291.8h0M351.7 276.4h0M343.1 263.4h0M389.7 277.3h0M378.2 258.3h0M357.8 278.3h0M357.2 275.0h0M370.9 269.5h0M387.0 274.5h0M415.5 252.9h0M372.4 275.4h0M440.3 223.9h0M433.4 241.3h0M410.9 253.9h0M348.1 272.6h0M441.5 216.3h0M374.8 279.6h0M375.6 275.1h0M448.4 219.2h0M451.2 198.3h0M379.7 267.0h0M398.1 259.5h0M412.2 251.5h0M389.8 264.2h0"/>
<path stroke="#754fed" d="M442.1 234.2h0M445.5 233.6h0M339.2 270.5h0M401.1 259.2h0M390.0 269.4h0M345.6 268.3h0M337.5 267.7h0M344.5 265.7h0M434.7 239.5h0M429.2 243.2h0M416.5 249.1h0"/>
<path stroke="#057ffd" d="M433.0 252.0h0M333.0 267.1h0M443.4 233.2h0M392.1 281.4h0M400.7 256.0h0M381.1 284.2h0M384.9 274.4h0M382.0 269.7h0M374.0 276.5h0M359.5 273.8h0M345.2 266.7h0M441.3 241.1h0M364.3 272.2h0M452.2 235.0h0M438.8 235.5h0M404.1 261.6h0M419.2 251.6h0M366.9 279.7h0M449.6 235.8h0M432.2 235.8h0M446.6 226.2h0M371.7 274.0h0M453.1 227.4h0M414.8 244.5h0M425.7 245.0h0M374.9 276.3h0M375.6 277.4h0M458.3 236.2h0M394.6 273.8h0M370.1 270.4h0M441.0 230.7h0M381.9 271.1h0M413.2 265.0h0M347.3 266.2h0M410.9 254.4h0M447.6 241.4h0"/>
<path stroke="#bc1fbf" d="M430.8 240.0h0M406.1 261.3h0M347.4 262.1h0M443.5 229.0h0M403.3 258.7h0M376.9 272.6h0M445.2 225.9h0M440.1 224.9h0M444.0 229.5h0M358.3 296.6h0M392.6 282.5h0M370.5 277.0h0M363.7 274.3h0M344.9 270.9h0M437.7 232.7h0M374.8 273.0h0M338.5 272.7h0M382.4 269.2h0M374.3 280.1h0M374.9 264.0h0M400.0 265.3h0M419.1 242.9h0M447.4 236.7h0M409.0 306.3h0M337.4 270.2h0M384.1 267.8h0M356.9 272.2h0M359.6 272.4h0"/>
<path stroke="#2a72fb" d="M377.4 274.7h0M444.2 220.4h0M456.4 227.6h0M368.1 280.6h0M362.4 273.4h0M404.0 260.4h0M434.8 237.6h0M446.9 236.2h0M411.1 256.9h0M361.0 278.6h0M432.4 241.2h0M366.5 270.8h0M443.9 245.5h0M383.0 273.9h0M417.5 256.1h0M402.4 265.7h0M354.9 274.8h0M378.4 276.6h0M361.3 277.7h0M364.9 276.6h0M440.1 243.0h0"/>
<path stroke="#117afd" d="M411.7 251.7h0M383.1 270.2h0M450.4 233.7h0M401.5 266.6h0M447.8 228.3h0M360.1 270.8h0M445.6 224.7h0M348.8 262.4h0M361.8 279.5h0M442.0 228.8h0M402.4 266.1h0M436.9 244.7h0M381.2 271.7h0M444.8 234.3h0M363.5 273.0h0M368.5 269.9h0M412.2 262.3h0M343.8 261.2h0M411.4 263.0h0M445.4 239.0h0M457.1 227.2h0M400.7 268.7h0M390.1 267.4h0M430.5 243.2h0M417.7 258.6h0M449.8 234.3h0M427.9 247.9h0M405.4 259.6h0M370.4 268.0h0M406.6 263.8h0M450.7 234.8h0M448.9 225.7h0M405.8 257.8h0M401.3 272.6h0M369.0 279.6h0M403.2 269.6h0M431.9 237.5h0M364.2 273.2h0M350.3 270.0h0M439.0 238.6h0M364.7 277.6h0M412.3 253.3h0M380.4 278.4h0M371.8 274.4h0M407.1 266.0h0M446.5 232.4h0"/>
<path stroke="#ff0056" d="M335.3 267.9h0M343.5 287.5h0M355.2 282.6h0M375.8 275.2h0M421.9 311.3h0M366.3 273.0h0M449.2 198.2h0M443.7 211.1h0M396.1 270.5h0M441.1 227.2h0M372.2 267.9h0M381.9 293.4h0M445.3 207.1h0M381.7 274.5h0M381.1 292.1h0M448.1 207.7h0M447.8 203.5h0M346.8 265.0h0M445.8 231.9h0M373.8 287.8h0M448.3 201.5h0M369.2 268.3h0M385.2 279.2h0M333.9 269.1h0M339.9 269.7h0M356.3 274.4h0M446.5 227.0h0M347.6 265.3h0M445.4 204.6h0M444.3 223.7h0M357.1 298.2h0M340.9 259.8h0M398.9 269.7h0M453.1 233.2h0M378.4 278.0h0M439.4 216.9h0M435.3 225.2h0M338.6 283.1h0M343.7 263.7h0M440.3 227.2h0M346.9 259.0h0"/>
<path stroke="#da0aa0" d="M428.4 231.7h0M353.1 270.3h0M367.6 281.9h0M372.3 263.9h0M446.1 227.1h0M373.9 273.4h0M342.6 265.2h0M354.6 265.4h0M437.2 237.0h0M366.6 271.5h0M448.4 233.3h0M343.8 270.2h0M403.7 262.6h0M389.6 270.4h0M407.3 250.6h0M347.7 261.3h0M444.2 234.7h0M343.1 268.0h0M367.8 278.4h0M390.5 264.1h0M371.6 272.0h0M373.1 327.9h0M341.0 265.1h0M428.2 240.2h0M377.9 272.0h0M335.5 267.6h0M341.6 273.9h0M326.7 280.8h0M428.6 237.9h0M416.2 246.2h0M399.8 266.0h0M379.7 258.6h0M388.7 271.8h0M333.1 286.7h0M339.5 266.0h0"/>
<path stroke="#9838d9" d="M442.0 226.3h0M359.7 262.0h0M342.2 278.3h0M430.1 235.7h0M374.1 279.2h0M440.7 236.5h0M433.6 226.8h0M326.6 279.2h0M345.1 304.0h0M418.6 248.6h0M412.2 247.5h0M381.9 269.4h0M438.4 230.8h0M445.6 234.8h0M422.0 256.7h0M453.1 230.9h0M373.7 276.3h0"/>
<path stroke="#ff0060" d="M407.9 248.0h0M444.2 228.6h0M413.3 252.2h0M436.1 218.5h0M352.6 262.9h0M440.2 228.7h0M345.5 266.3h0M391.6 263.3h0M338.0 279.7h0M446.7 216.5h0M444.7 224.7h0M348.6 256.0h0M433.8 224.5h0M448.4 196.8h0M337.4 269.8h0M334.7 269.9h0M375.4 276.2h0M437.9 217.0h0M443.1 207.0h0M434.2 222.7h0M444.9 201.3h0M445.6 215.4h0M375.4 277.3h0M434.9 225.3h0M342.9 271.6h0M353.6 270.7h0M450.2 200.7h0M443.3 205.5h0M334.1 282.3h0M399.6 254.5h0"/>
<path stroke="#2a72fb" d="M348.3 265.3h0M436.2 237.5h0M374.3 279.0h0M362.5 279.7h0M380.0 273.7h0M413.8 245.2h0M362.3 273.5h0M442.2 241.5h0M363.0 275.8h0M357.0 272.6h0M410.5 260.8h0M430.8 245.5h0M442.9 235.0h0M414.5 261.9h0M356.3 268.9h0"/>
<path stroke="#bc1fbf" d="M441.6 229.6h0M378.7 273.5h0M438.7 232.8h0M345.8 266.7h0M372.7 269.2h0M431.8 237.5h0M340.6 265.0h0M334.4 272.0h0M431.5 240.4h0M354.1 256.6h0M413.9 259.9h0M345.1 268.9h0M442.7 229.2h0M374.8 275.9h0M340.9 261.9h0M350.1 268.2h0M402.0 302.0h0M345.4 269.6h0M373.6 275.6h0M338.5 289.6h0M379.3 275.3h0M344.1 263.3h0M371.0 280.7h0M399.2 257.7h0M352.5 268.6h0M350.7 259.8h0M427.7 242.1h0M380.6 275.4h0"/>
<path stroke="#f80071" d="M411.3 246.8h0M385.4 270.6h0M347.3 263.1h0M434.9 233.5h0M344.7 274.4h0M445.7 226.0h0M359.3 281.2h0M445.0 223.5h0M405.5 254.5h0M453.3 230.4h0M365.0 267.3h0M425.9 243.6h0M435.5 224.8h0M425.4 240.2h0M384.1 262.0h0M368.4 277.0h0M455.8 223.2h0M371.1 275.2h0M385.7 279.4h0M444.6 226.2h0M349.5 273.3h0M456.1 225.4h0M445.1 203.8h0M339.9 272.0h0M355.0 278.9h0M367.6 298.7h0M337.6 285.0h0M356.7 271.3h0M344.7 294.4h0M417.2 254.2h0M341.4 269.8h0M411.4 246.0h0M338.7 254.6h0M437.7 228.7h0M341.6 268.0h0"/>
<path stroke="#4c64f6" d="M424.6 248.4h0M424.7 252.8h0M440.0 236.2h0M397.1 275.3h0M387.8 268.1h0M337.7 271.8h0M378.7 275.0h0M420.5 242.0h0M442.4 223.3h0"/>
<path stroke="#ff0056" d="M382.9 260.9h0M346.8 273.5h0M443.7 233.5h0M390.6 283.4h0M365.2 273.4h0M447.5 203.2h0M369.4 272.5h0M383.8 268.7h0M375.4 270.9h0M418.1 242.6h0M339.1 268.8h0M350.8 273.5h0M434.9 217.6h0M453.9 229.2h0M443.3 215.5h0M444.1 230.2h0M433.6 231.2h0M380.5 274.0h0M343.3 263.2h0M446.9 224.4h0M447.5 203.6h0M386.5 279.9h0M413.8 251.3h0M445.9 203.7h0M354.7 264.9h0M450.5 197.5h0M437.2 230.3h0M331.1 279.8h0M442.8 205.8h0M337.7 274.9h0M434.5 227.7h0"/>
<path stroke="#754fed" d="M349.2 268.5h0M400.1 267.9h0M400.5 266.7h0M403.7 264.5h0M417.2 246.2h0M403.0 265.0h0M397.7 272.9h0M381.2 280.0h0M439.5 232.7h0M343.8 270.7h0M424.4 253.2h0M414.4 245.3h0M387.7 276.4h0M441.3 234.0h0M440.6 232.4h0M348.7 269.9h0M433.1 227.2h0M338.3 280.0h0"/>
<path stroke="#9838d9" d="M341.1 274.6h0M441.7 227.2h0M377.1 266.4h0M361.3 271.1h0M406.8 254.1h0M443.7 217.3h0M340.4 271.6h0M375.0 282.9h0M444.3 225.8h0M391.0 265.7h0M385.9 271.2h0M407.0 260.2h0M438.7 233.7h0M409.4 256.6h0M429.1 238.9h0M417.2 244.6h0M450.8 226.0h0M408.6 262.6h0M434.1 224.5h0M406.9 253.5h0M394.3 263.7h0M375.7 289.0h0M345.5 278.1h0"/>
<path stroke="#ff0060" d="M441.3 213.0h0M348.3 264.6h0M329.4 318.2h0M451.0 201.4h0M431.8 226.2h0M442.0 223.8h0M417.3 256.2h0M451.4 210.9h0M407.7 255.5h0M327.3 315.4h0M435.4 214.2h0M336.0 272.5h0M442.6 208.5h0M324.0 285.4h0M339.0 265.7h0M441.4 210.5h0M376.8 287.9h0M345.9 261.2h0M412.9 240.4h0M434.2 223.8h0M437.4 215.7h0M435.8 224.2h0M449.8 221.2h0M334.1 283.6h0M441.7 228.6h0M340.5 290.2h0M375.2 270.2h0M438.3 217.2h0M443.5 220.0h0M403.8 255.5h0M380.4 279.7h0M415.4 247.2h0M438.4 216.0h0M368.5 280.9h0M400.5 262.9h0M436.4 240.8h0M377.6 280.1h0M439.1 216.4h0"/>
<path stroke="#ec0387" d="M334.9 282.1h0M380.3 265.0h0M329.9 275.2h0M345.2 288.0h0M327.5 300.9h0M340.6 272.0h0M410.5 245.8h0M433.9 244.0h0M364.4 262.1h0M356.7 277.3h0M377.3 274.3h0M343.9 278.0h0M367.8 277.7h0M344.2 269.4h0M444.3 225.7h0M448.1 220.8h0M366.6 278.6h0M424.0 246.3h0M353.6 266.2h0M369.7 284.0h0M378.1 280.3h0M388.2 270.1h0M338.5 265.2h0M375.0 272.4h0M355.7 269.4h0M341.9 277.0h0M371.4 272.6h0M389.6 286.2h0M447.7 229.0h0M440.9 231.2h0M445.6 231.1h0M343.0 276.8h0M333.3 295.0h0M348.5 264.1h0M423.5 243.7h0M433.6 231.0h0M387.6 262.4h0M419.9 249.6h0M424.0 239.6h0"/>
<path stroke="#057ffd" d="M351.4 274.2h0M386.4 270.8h0M448.6 227.9h0M433.3 240.5h0M373.9 276.4h0M342.3 262.3h0M405.4 264.6h0M447.1 232.8h0M374.3 284.3h0M351.9 272.5h0M348.9 267.2h0M445.9 237.2h0M448.0 234.7h0M451.4 216.8h0M437.7 234.3h0M400.2 268.3h0M434.2 239.4h0M420.3 241.1h0M426.8 244.9h0M427.6 249.4h0M432.7 241.3h0M381.4 273.4h0M416.6 243.2h0M438.3 245.1h0M386.0 266.9h0M348.5 263.8h0M453.7 228.0h0M455.7 229.0h0M354.5 272.6h0M443.8 232.6h0M349.0 268.4h0M367.9 271.5h0M452.8 227.5h0"/>
<path stroke="#117afd" d="M413.0 256.4h0M359.4 272.7h0M402.0 273.8h0M435.3 247.5h0M429.7 243.1h0M389.8 273.6h0M426.6 250.6h0M397.4 271.6h0M373.7 277.3h0M362.0 278.0h0M450.3 230.4h0M415.7 256.2h0M377.7 270.6h0M406.0 259.2h0M383.2 275.2h0M436.3 239.3h0M421.9 254.1h0M393.6 274.2h0M441.0 241.3h0M447.0 232.6h0M420.6 248.9h0M442.1 231.1h0M395.1 269.0h0M377.3 267.3h0M402.5 260.1h0M368.9 274.2h0M383.5 271.2h0M384.2 268.1h0M398.2 270.6h0M340.3 264.7h0M407.0 262.9h0M441.2 233.4h0M386.0 276.5h0M374.8 277.9h0M405.6 259.9h0M413.4 253.6h0M315.9 276.6h0M343.5 271.7h0M352.2 267.7h0M450.6 224.9h0M379.5 279.9h0M448.8 238.8h0M412.9 260.2h0M342.6 265.2h0M349.8 274.8h0"/>
<path stroke="#da0aa0" d="M337.0 269.1h0M420.0 239.3h0M374.2 272.5h0M340.6 273.8h0M336.6 276.2h0M333.8 274.5h0M403.7 252.3h0M344.6 279.5h0M349.2 268.6h0M445.0 226.6h0M368.5 283.7h0M437.1 234.9h0M422.1 240.0h0M336.4 273.1h0M364.1 305.2h0M438.3 219.2h0M404.2 263.2h0M333.0 273.7h0M390.7 325.1h0M444.8 220.3h0M438.6 235.2h0M403.8 263.5h0M447.3 217.1h0M443.6 231.5h0M367.6 285.2h0M388.3 271.7h0M361.4 270.5h0M342.0 263.9h0M371.2 293.3h0"/>
<path stroke="#057ffd" d="M422.2 250.1h0M306.1 274.6h0M403.1 261.7h0M360.8 272.1h0M408.2 263.3h0M394.1 270.2h0M413.9 251.3h0M360.7 276.0h0M353.9 273.4h0M433.3 247.1h0M419.0 252.6h0M419.6 255.0h0M404.4 268.2h0M357.6 278.5h0M407.6 262.8h0M357.1 274.6h0M410.3 268.6h0M442.3 228.9h0M439.5 233.1h0M359.6 272.2h0M404.3 260.2h0M430.9 241.9h0M417.7 256.4h0M364.6 277.3h0M349.6 259.6h0M349.3 275.0h0M431.8 244.2h0M441.9 232.5h0M396.5 268.6h0M381.9 271.6h0M447.4 230.3h0M401.4 274.9h0M410.2 264.8h0M442.4 236.0h0M339.0 271.1h0M440.7 238.0h0M432.4 248.3h0M414.6 256.7h0"/>
<path stroke="#754fed" d="M447.7 231.9h0M396.3 265.2h0M419.7 242.1h0M385.3 271.5h0M400.3 261.9h0M449.3 231.8h0M438.4 230.4h0M434.4 239.5h0M350.6 271.4h0M346.8 271.3h0M365.9 287.6h0M367.3 275.5h0M413.8 257.8h0M335.1 279.8h0M421.4 230.7h0M436.3 227.8h0M374.1 274.5h0M379.8 274.9h0M440.3 235.6h0M438.9 221.2h0M354.9 278.2h0M443.5 224.4h0M336.8 274.2h0M431.1 242.9h0"/>
<path stroke="#ff0056" d="M381.5 279.7h0M443.5 214.5h0M341.9 261.0h0M336.0 267.7h0M433.3 222.2h0M347.3 273.0h0M444.0 227.1h0M324.1 301.3h0M351.2 270.4h0M350.7 275.7h0M397.4 264.6h0M452.7 198.3h0M371.2 275.6h0M390.9 263.9h0M405.1 251.4h0M373.7 280.8h0M340.2 271.8h0M327.2 293.5h0M393.8 262.7h0M443.4 208.5h0M435.7 232.1h0M335.3 262.4h0M447.1 205.9h0M379.3 278.7h0M371.5 280.2h0M435.5 226.9h0M341.3 266.0h0M333.3 280.3h0M358.4 267.1h0M371.2 277.3h0M358.9 270.6h0M449.0 227.4h0M364.5 278.9h0M342.5 273.7h0"/>
<path stroke="#2a72fb" d="M435.6 232.1h0M388.6 278.0h0M448.2 233.0h0M398.2 262.6h0M442.9 230.0h0M405.5 262.8h0M360.8 276.1h0M445.0 228.6h0M377.6 279.4h0M376.5 275.1h0M401.2 264.3h0M368.9 286.4h0M446.3 231.8h0M410.4 254.6h0M435.2 239.5h0M358.4 275.1h0M437.0 243.9h0M404.0 263.0h0M430.7 239.9h0M445.7 234.8h0M345.2 266.5h0M351.0 273.7h0M342.0 277.8h0M362.2 276.8h0M436.4 236.4h0M450.2 238.9h0M355.1 271.8h0M343.6 272.7h0M448.0 234.8h0M394.1 267.8h0M412.2 262.0h0M440.6 236.7h0M402.6 270.8h0M417.8 252.3h0M450.2 230.8h0"/>
<path stroke="#bc1fbf" d="M446.1 218.6h0M331.4 270.1h0M341.7 267.6h0M372.9 277.7h0M355.2 274.2h0M387.5 273.5h0M384.3 270.2h0M384.4 299.4h0M364.9 292.5h0M376.5 266.5h0M332.8 272.5h0M435.2 237.5h0M358.7 279.3h0M444.6 228.7h0M451.4 223.0h0M408.8 259.3h0M378.1 271.3h0M444.6 216.4h0M441.8 228.3h0M391.2 267.2h0M446.7 224.5h0"/>
<path stroke="#117afd" d="M444.3 231.9h0M438.4 236.4h0M442.9 230.6h0M366.1 277.7h0M363.0 269.2h0M386.6 268.1h0M351.0 272.2h0M321.1 278.0h0M362.5 279.7h0M376.5 269.6h0M392.7 265.0h0M408.0 263.5h0M430.7 247.5h0M454.2 226.8h0M392.1 265.8h0M431.9 234.8h0M374.9 275.0h0M318.0 272.5h0M407.2 254.8h0M398.9 261.3h0M408.8 250.1h0M445.2 230.8h0M415.1 250.6h0M423.8 244.9h0M381.2 270.0h0M405.1 263.1h0M444.2 223.6h0M424.6 244.0h0M439.1 240.7h0M438.1 243.7h0M412.3 256.1h0M358.4 282.3h0M380.7 274.7h0M433.3 245.8h0M424.8 241.5h0M451.7 229.9h0M391.3 271.5h0M353.3 274.8h0M341.0 272.0h0M368.8 270.6h0M374.0 276.7h0M374.4 272.9h0M365.5 271.9h0"/>
<path stroke="#ec0387" d="M369.4 276.2h0M411.1 244.5h0M377.0 267.0h0M362.1 268.1h0M348.0 265.3h0M357.5 260.6h0M359.3 281.6h0M375.5 270.7h0M383.6 273.5h0M368.2 287.2h0M372.3 275.0h0M372.6 273.5h0M420.2 242.0h0M432.7 234.6h0M375.6 264.7h0M431.0 234.0h0M395.7 262.8h0M340.6 263.8h0M346.8 278.8h0M403.9 255.5h0M409.3 247.8h0M415.3 239.2h0M435.6 235.0h0M352.6 275.2h0M368.5 283.3h0M398.7 288.3h0"/>
<path stroke="#f80071" d="M378.7 277.6h0M362.5 270.2h0M340.7 277.1h0M412.5 247.0h0M350.9 262.2h0M388.5 287.4h0M415.7 249.9h0M396.8 254.8h0M357.6 274.6h0M371.5 283.3h0M383.9 266.1h0M333.4 275.7h0M348.0 272.8h0M361.9 276.2h0M345.3 264.7h0M428.2 244.6h0M359.2 279.9h0M348.3 254.6h0M365.8 274.4h0M372.9 261.6h0M373.3 270.3h0M344.5 271.9h0M371.8 277.6h0M427.9 241.4h0M404.0 288.9h0M340.9 273.4h0M405.4 290.1h0M341.0 267.9h0M408.4 254.2h0M428.4 237.0h0M446.5 229.0h0M357.1 272.6h0M354.1 278.7h0M431.9 232.1h0M354.3 276.6h0M349.8 274.8h0M409.9 253.2h0M437.9 217.2h0M397.6 263.9h0"/>
<path stroke="#da0aa0" d="M365.0 272.3h0M451.5 223.3h0M433.1 231.5h0M447.0 221.2h0M336.0 278.7h0M343.3 274.4h0M344.5 258.5h0M347.7 266.5h0M441.5 228.4h0M349.3 260.5h0M437.0 232.9h0M448.0 225.6h0M366.3 285.8h0M380.6 280.0h0M437.6 235.7h0M376.5 279.0h0M345.5 266.7h0M432.6 234.8h0M415.5 250.6h0M436.3 232.3h0M376.8 279.8h0M343.1 255.4h0M440.2 235.8h0M433.9 240.1h0M388.3 269.9h0M349.8 266.2h0M376.0 270.4h0M359.2 274.5h0M400.7 264.6h0"/>
<path stroke="#ff0060" d="M375.9 289.7h0M403.1 259.8h0M457.4 227.4h0M402.8 253.8h0M389.3 263.7h0M439.7 229.7h0M386.7 277.9h0M335.3 276.4h0M359.6 271.3h0M377.5 269.2h0M376.4 273.1h0M445.2 226.5h0M449.5 224.6h0M443.4 221.4h0M400.8 262.0h0M428.7 237.6h0M346.2 275.9h0M437.6 223.6h0M443.0 208.1h0M437.6 233.2h0M432.1 237.1h0M447.2 205.5h0M369.1 282.2h0M445.7 208.1h0M437.4 219.1h0M343.3 272.6h0M450.8 196.9h0M364.3 268.1h0M442.8 212.8h0M396.7 266.9h0M360.1 272.9h0M432.6 241.8h0M416.8 236.0h0M357.8 297.3h0M376.2 265.6h0M410.2 250.8h0"/>
<path stroke="#4c64f6" d="M360.1 274.2h0M446.6 225.9h0M444.8 228.9h0M403.9 264.4h0M401.1 260.4h0M424.4 249.0h0M404.9 261.7h0"/>
<path stroke="#9838d9" d="M353.2 277.0h0M368.8 277.3h0M373.4 304.1h0M359.9 282.2h0M345.6 274.1h0M436.1 239.7h0M458.3 220.9h0M418.8 254.9h0M380.2 271.1h0M341.7 265.8h0M390.3 279.2h0"/>
<path stroke="#da0aa0" d="M342.1 272.1h0M371.4 280.6h0M435.1 225.3h0M442.2 226.4h0M451.7 222.0h0M384.2 272.2h0M351.0 270.1h0M364.1 272.6h0M335.0 278.2h0M350.9 263.8h0M330.3 276.7h0M381.8 265.1h0M429.3 244.5h0M346.7 264.4h0M436.8 248.4h0M353.2 268.6h0M368.5 266.9h0M389.7 332.0h0M348.1 267.9h0M441.4 232.0h0M367.6 280.7h0M462.4 236.5h0M410.3 254.3h0M420.9 245.7h0M378.8 271.3h0M389.9 278.2h0M367.5 273.2h0M443.0 231.8h0M347.6 264.7h0M448.7 227.1h0M359.0 278.3h0M438.2 229.8h0M383.7 276.7h0M439.2 228.9h0M366.7 273.4h0M371.1 277.0h0M342.4 264.5h0M345.9 275.8h0M378.4 276.6h0M395.8 262.6h0"/>
<path stroke="#2a72fb" d="M449.6 225.3h0M371.1 281.0h0M441.1 237.4h0M343.0 266.5h0M441.7 236.7h0M405.9 257.6h0M452.1 228.5h0M390.0 278.0h0M417.9 251.1h0M450.6 225.2h0M372.4 275.3h0M346.2 271.7h0M346.0 261.7h0M448.9 227.6h0M443.6 235.4h0M362.5 280.9h0M440.8 245.3h0M450.0 224.3h0M365.0 274.3h0"/>
<path stroke="#ff0060" d="M393.2 274.4h0M338.2 264.7h0M425.4 244.1h0M421.9 237.4h0M349.8 266.3h0M417.1 241.9h0M418.4 253.3h0M352.7 266.9h0M361.2 272.0h0M446.3 202.4h0M447.7 199.9h0M442.4 208.7h0M453.3 197.0h0M448.0 226.3h0M342.0 267.1h0M410.2 252.4h0M349.7 267.6h0M445.9 204.4h0M394.8 273.7h0M454.5 221.6h0M377.0 275.9h0M437.7 237.3h0M438.2 237.9h0M422.0 242.3h0M386.4 287.7h0M439.4 239.0h0M370.1 288.5h0M326.8 307.8h0M406.9 252.6h0M427.6 238.0h0M333.9 279.2h0M434.2 218.5h0M384.2 269.3h0M415.1 238.8h0M448.0 229.3h0M376.5 268.9h0M436.8 233.1h0"/>
<path stroke="#057ffd" d="M375.6 282.1h0M384.2 276.6h0M452.9 234.5h0M449.0 232.4h0M377.0 275.4h0M355.3 270.7h0M366.0 280.2h0M400.1 267.5h0M430.2 246.4h0M389.7 270.8h0M434.8 253.4h0M345.6 265.4h0M361.7 274.4h0M447.3 235.0h0M397.3 270.8h0M346.9 266.4h0M448.2 223.1h0M437.5 234.6h0M443.3 236.0h0M405.4 254.1h0M405.3 258.0h0M398.2 277.3h0M441.5 226.6h0M380.7 277.9h0M443.8 237.2h0M375.2 273.4h0M445.0 225.6h0M373.1 276.3h0M411.9 255.5h0M409.7 263.2h0M371.4 282.5h0M399.0 265.5h0M353.2 272.7h0M406.9 266.5h0M369.9 276.1h0M432.7 243.8h0M430.8 246.1h0M443.6 235.9h0"/>
<path stroke="#117afd" d="M367.9 277.9h0M402.1 269.2h0M406.4 264.4h0M370.5 283.0h0M368.5 281.0h0M414.6 249.5h0M415.3 250.8h0M412.9 251.3h0M349.5 265.5h0M426.4 244.0h0M446.7 223.8h0M361.0 275.0h0M348.6 269.1h0M394.5 269.7h0M376.5 271.5h0M345.6 267.6h0M399.4 266.4h0M417.2 253.8h0M369.9 273.4h0M374.0 276.8h0M407.8 253.6h0M451.2 230.1h0M441.4 231.6h0M376.5 277.7h0M404.4 268.5h0M436.4 237.6h0M323.2 282.2h0M416.0 256.0h0M414.5 245.8h0M401.6 275.9h0M384.4 270.4h0M438.2 239.4h0M371.7 280.8h0M405.4 258.8h0M348.3 265.5h0M447.1 229.9h0M391.9 264.6h0M434.1 239.9h0M403.9 263.1h0M448.0 225.0h0"/>
<path stroke="#4c64f6" d="M434.2 237.3h0M419.9 250.6h0M352.5 279.0h0M370.5 275.4h0M359.4 281.8h0M361.4 277.4h0M405.9 270.3h0M345.4 262.5h0M424.3 245.8h0M436.0 244.4h0"/>
<path stroke="#ff0056" d="M394.5 268.3h0M342.0 281.4h0M336.7 268.8h0M401.8 250.9h0M440.7 223.4h0M439.0 220.4h0M375.7 270.7h0M361.7 278.0h0M342.3 274.8h0M347.9 267.1h0M436.2 222.8h0M438.1 226.1h0M335.0 269.0h0M364.5 272.6h0M429.9 238.0h0M453.3 193.1h0M349.7 286.4h0M369.4 283.3h0M446.5 199.8h0M384.3 270.0h0M370.6 277.3h0M446.1 240.6h0M377.5 273.2h0M447.1 220.9h0M445.0 205.4h0M409.6 253.1h0M373.5 282.5h0M360.1 281.9h0M367.9 292.5h0M369.4 276.1h0M444.0 208.1h0"/>
<path stroke="#bc1fbf" d="M447.3 223.4h0M337.5 281.9h0M359.8 290.7h0M420.6 245.9h0M452.0 239.4h0M361.7 282.8h0M399.4 266.1h0M364.4 275.5h0M450.8 236.1h0M372.8 275.9h0M444.4 227.6h0M424.5 238.5h0M368.2 274.7h0M383.9 271.4h0M375.4 266.1h0M355.3 277.9h0M345.4 267.3h0M431.7 235.2h0M369.3 266.8h0M386.0 276.6h0M431.3 240.3h0M346.0 268.1h0M344.6 265.7h0M447.8 241.4h0M447.2 231.8h0M354.7 292.7h0M453.9 225.1h0M375.9 267.0h0M368.3 279.5h0M364.2 277.3h0"/>
<path stroke="#f80071" d="M347.4 265.0h0M444.1 229.7h0M357.6 277.4h0M373.4 275.8h0M377.9 270.6h0M336.5 277.8h0M434.7 239.5h0M390.9 270.9h0M408.4 247.7h0M381.1 269.8h0M356.5 276.1h0M345.7 268.0h0M443.1 228.3h0M433.9 223.8h0M441.1 222.2h0M392.5 294.3h0M442.2 225.5h0M348.6 275.5h0M371.6 276.3h0M353.2 266.5h0M422.7 242.6h0M399.4 257.1h0M345.3 267.8h0M334.5 287.5h0M343.3 272.0h0M432.5 225.7h0M412.8 249.1h0M389.6 272.0h0M420.2 252.0h0M424.1 243.3h0M417.0 250.1h0M357.7 272.6h0M433.4 222.4h0M440.7 222.2h0M409.1 261.0h0"/>
<path stroke="#ec0387" d="M393.7 272.6h0M422.0 242.1h0M437.2 225.4h0M432.8 229.3h0M347.9 265.5h0M434.3 236.7h0M419.0 245.6h0M361.8 273.4h0M342.7 270.8h0M443.5 222.5h0M377.7 272.1h0M402.1 263.5h0M353.7 276.2h0M366.5 282.8h0M358.5 276.6h0M364.6 273.2h0M452.4 219.2h0M405.6 250.0h0M399.1 261.1h0M396.7 260.1h0M327.8 304.1h0M367.5 283.7h0M425.2 241.3h0M443.3 227.7h0M407.6 254.0h0M378.3 275.1h0M401.8 254.9h0M379.0 269.6h0"/>
<path stroke="#754fed" d="M381.2 279.9h0M458.3 231.4h0M380.9 277.6h0M412.9 243.3h0M342.4 277.4h0M403.5 254.5h0M446.0 233.2h0M374.6 269.6h0M444.4 224.5h0M372.7 282.1h0M346.3 259.5h0M407.8 251.6h0M354.0 272.6h0M398.2 267.8h0"/>
<path stroke="#9838d9" d="M396.8 268.7h0M432.5 220.6h0M374.0 276.1h0M348.4 272.6h0M375.8 271.8h0M368.1 270.3h0M453.0 229.8h0M367.6 287.9h0M430.5 235.7h0M337.8 264.4h0M350.7 271.8h0M440.1 232.5h0M403.4 258.6h0M340.0 267.6h0M421.6 253.8h0M340.2 273.6h0M372.0 283.0h0M386.6 272.4h0M385.6 299.3h0M414.3 252.9h0M401.5 268.4h0"/>
<path stroke="#057ffd" d="M394.2 270.9h0M358.5 272.6h0M364.6 276.5h0M393.2 271.2h0M329.9 284.5h0M348.8 266.0h0M392.6 271.5h0M359.2 274.7h0M413.9 257.8h0M388.5 281.1h0M392.2 272.0h0M401.4 266.1h0M444.9 232.6h0M377.2 274.6h0M401.0 258.1h0M454.3 239.0h0M433.0 238.6h0M444.6 226.0h0M441.4 232.2h0M364.7 281.2h0M343.2 267.5h0M370.0 276.6h0M367.5 274.6h0M349.0 268.8h0M399.8 267.7h0M445.2 232.2h0M412.8 262.8h0M453.0 230.4h0M369.4 275.0h0M450.3 239.3h0M418.9 256.7h0M374.0 276.3h0M450.4 233.1h0M451.9 231.3h0M349.3 268.7h0M435.3 250.6h0M403.8 255.7h0M407.9 270.8h0M443.8 230.5h0M380.0 270.0h0M374.3 274.6h0M436.2 236.0h0M376.7 276.3h0M374.6 274.1h0M411.9 262.8h0M443.4 237.4h0"/>
<path stroke="#2a72fb" d="M350.4 267.7h0M405.1 266.9h0M399.4 268.6h0M417.7 249.0h0M458.3 230.3h0M405.7 270.8h0M397.9 271.3h0M441.7 229.9h0M383.7 267.3h0M346.8 270.7h0M449.7 228.0h0M440.1 235.1h0M450.8 226.0h0M426.2 249.7h0M344.6 265.1h0M446.8 224.5h0M426.1 245.4h0M407.5 263.0h0M402.7 268.2h0M387.1 278.1h0M404.0 273.4h0M433.5 242.2h0M430.4 249.1h0M412.6 261.0h0M452.0 231.7h0M385.6 272.9h0"/>
<path stroke="#ec0387" d="M379.0 285.0h0M411.4 243.6h0M329.1 285.5h0M440.6 232.4h0M367.8 272.3h0M407.6 252.6h0M362.5 287.4h0M410.1 290.5h0M415.0 241.6h0M336.9 282.1h0M404.5 266.3h0M358.8 276.9h0M356.8 276.2h0M370.5 270.2h0M347.0 289.2h0M403.5 255.7h0M387.9 270.7h0M337.8 274.6h0M434.9 233.7h0M379.6 276.6h0M363.9 280.5h0M369.0 277.5h0M440.7 231.0h0M401.9 255.6h0M340.4 266.1h0M365.9 271.9h0M375.7 271.6h0M390.0 262.9h0"/>
<path stroke="#da0aa0" d="M353.4 273.0h0M338.0 271.9h0M405.9 255.6h0M439.0 230.7h0M341.7 277.8h0M343.5 283.8h0M388.6 271.6h0M373.1 270.1h0M399.0 269.5h0M359.6 279.1h0M371.2 276.8h0M442.0 235.5h0M386.8 276.2h0M425.4 240.9h0M368.8 271.9h0M440.2 235.2h0M343.8 268.6h0M343.3 265.7h0M336.1 276.8h0M356.4 295.8h0M439.7 223.9h0M428.1 241.1h0M424.1 237.5h0M377.8 280.4h0M367.6 271.8h0"/>
<path stroke="#9838d9" d="M359.3 268.6h0M452.5 230.8h0M365.9 282.2h0M447.3 224.4h0M422.5 239.5h0M370.2 272.0h0M375.4 280.4h0M447.5 232.1h0M392.8 266.6h0M368.4 275.7h0M408.2 253.6h0M452.6 227.4h0M331.5 267.5h0M391.6 279.2h0M377.1 277.4h0M399.2 263.1h0M403.5 268.1h0M379.4 274.5h0M403.7 255.9h0M339.7 285.3h0M401.9 269.3h0M341.8 262.6h0M374.5 275.6h0M396.3 267.2h0"/>
<path stroke="#f80071" d="M438.2 232.0h0M332.1 277.2h0M378.8 293.3h0M448.2 221.0h0M376.9 268.3h0M409.6 256.5h0M402.3 266.2h0M347.1 262.1h0M445.1 236.8h0M336.9 264.8h0M357.5 270.3h0M407.9 256.1h0M372.8 283.8h0M337.7 276.5h0M364.5 264.4h0M346.5 264.0h0M398.5 257.9h0M371.6 274.9h0M389.4 270.3h0M406.0 252.1h0M342.4 259.3h0M389.3 287.2h0M426.9 241.2h0M355.3 284.6h0M427.7 241.8h0M346.3 267.8h0M385.1 271.2h0"/>
<path stroke="#bc1fbf" d="M434.3 237.7h0M435.5 243.5h0M368.4 276.2h0M437.5 238.9h0M438.1 237.9h0M335.0 267.0h0M397.7 258.4h0M440.9 227.5h0M427.3 238.8h0M430.7 252.9h0M401.2 259.0h0M356.0 278.9h0M333.5 276.3h0M437.1 239.8h0M379.0 275.2h0M375.2 272.0h0M436.6 245.6h0M422.9 257.2h0M347.8 272.5h0M441.2 225.8h0M379.4 275.7h0M381.5 277.2h0M363.5 270.0h0M373.3 272.8h0M445.8 226.5h0M380.3 288.3h0M425.0 243.6h0M444.4 229.1h0M427.4 238.0h0M336.5 266.0h0M387.6 278.9h0M326.7 280.9h0M431.8 230.7h0"/>
<path stroke="#4c64f6" d="M441.7 233.8h0M402.7 265.6h0M345.7 269.0h0M378.0 276.6h0M400.9 265.5h0M450.1 223.3h0"/>
<path stroke="#ff0056" d="M397.8 268.2h0M431.9 223.8h0M351.5 266.7h0M390.3 267.0h0M383.3 281.7h0M323.7 305.9h0M362.0 263.0h0M357.2 266.7h0M446.3 203.0h0M424.2 249.8h0M445.7 202.8h0M382.8 266.1h0M334.3 264.3h0M364.9 278.9h0M345.1 267.2h0M440.4 229.1h0M345.0 276.8h0M344.7 268.8h0M443.5 223.9h0M369.5 266.7h0M450.0 194.2h0M439.9 211.8h0M448.4 198.3h0M415.8 254.9h0M358.2 278.1h0M445.3 217.6h0"/>
<path stroke="#754fed" d="M414.4 264.5h0M394.5 268.4h0M431.9 231.9h0M424.2 244.5h0M429.2 236.6h0M394.7 264.3h0M450.8 233.8h0M349.3 267.5h0M357.0 274.9h0M425.3 240.8h0M360.9 284.2h0M450.3 223.3h0M436.5 221.7h0M416.9 250.7h0M382.6 269.9h0M424.0 252.3h0M441.3 237.6h0M413.0 250.7h0M410.4 265.3h0"/>
<path stroke="#117afd" d="M352.4 269.8h0M368.6 280.5h0M380.3 276.1h0M353.6 274.4h0M421.8 254.4h0M388.0 267.0h0M438.9 228.3h0M377.2 269.9h0M386.3 273.5h0M370.8 268.6h0M407.4 262.3h0M385.7 274.7h0M353.4 269.0h0M349.9 268.3h0M403.6 260.8h0M433.1 239.6h0M365.0 276.3h0M373.6 273.4h0M407.3 266.1h0M447.7 238.1h0M393.8 315.4h0M435.5 238.7h0M351.4 268.3h0M442.3 236.3h0M369.0 277.5h0M391.9 270.6h0M367.2 277.4h0M361.1 268.9h0M434.8 240.5h0M449.0 230.4h0M383.4 270.5h0M388.0 275.8h0M443.0 225.4h0M443.9 233.6h0M397.7 276.7h0M397.0 269.5h0M443.7 224.1h0M363.6 275.9h0M437.5 237.0h0M377.4 266.3h0M447.5 234.8h0M446.5 230.6h0M369.6 279.4h0M382.7 271.5h0M376.3 279.1h0M368.6 274.6h0M355.7 277.0h0M396.6 277.2h0"/>
<path stroke="#ff0060" d="M398.8 252.7h0M338.7 265.6h0M332.5 284.7h0M447.6 205.4h0M447.2 203.6h0M404.0 263.0h0M448.5 222.1h0M445.2 228.0h0M413.7 251.2h0M393.9 268.5h0M446.6 205.2h0M347.7 262.2h0M358.3 274.9h0M424.1 248.3h0M375.3 273.6h0M332.4 286.2h0M439.7 231.4h0M378.6 278.8h0M330.3 275.6h0M350.9 261.8h0M328.0 281.1h0M435.8 226.2h0M447.9 223.8h0M362.7 270.1h0M448.3 201.1h0M437.2 215.0h0M373.7 289.8h0M405.4 261.4h0M440.1 232.8h0M359.4 276.8h0M449.7 203.2h0M450.8 197.6h0M373.8 281.5h0M395.7 264.0h0"/>
<path stroke="#da0aa0" d="M441.6 231.2h0M454.3 222.6h0M450.9 223.1h0M361.4 285.8h0M368.8 288.0h0M362.7 274.9h0M348.7 264.6h0M374.4 284.1h0M402.7 260.7h0M382.6 274.7h0M371.8 281.8h0M373.2 271.7h0M330.1 279.3h0M352.3 267.4h0M431.1 230.1h0M452.5 224.0h0M369.4 285.7h0M445.5 220.3h0M367.6 270.9h0M359.4 277.8h0M345.0 285.3h0M366.4 283.7h0M432.4 234.7h0M399.6 290.2h0M443.9 233.5h0M337.9 268.8h0M417.9 252.4h0M342.5 270.3h0M427.9 243.4h0"/>
<path stroke="#117afd" d="M438.0 234.9h0M449.5 226.3h0M413.3 260.0h0M437.7 231.1h0M426.9 247.5h0M425.6 242.7h0M446.2 231.6h0M409.8 248.0h0M426.3 245.9h0M364.1 283.9h0M432.8 239.1h0M451.8 234.9h0M415.4 253.8h0M394.0 266.2h0M349.8 270.6h0M420.7 255.8h0M343.0 268.8h0M446.9 229.5h0M445.7 224.9h0M418.6 256.2h0M347.8 265.0h0M344.1 264.7h0M313.8 275.2h0M384.4 271.2h0M358.2 272.7h0M365.3 271.0h0M353.2 269.3h0M358.9 273.8h0M458.3 225.5h0M410.8 256.0h0M373.0 277.3h0M377.1 275.3h0M369.4 276.1h0M388.8 274.3h0M412.1 260.7h0"/>
<path stroke="#2a72fb" d="M439.0 231.5h0M345.9 266.5h0M392.0 274.7h0M361.5 275.9h0M440.1 239.6h0M425.9 252.9h0M410.3 266.1h0M355.5 270.2h0M448.1 244.4h0M378.0 274.3h0M356.9 272.5h0M446.3 233.1h0M385.6 270.4h0M340.4 267.5h0M379.3 276.2h0M373.0 279.5h0M397.9 262.1h0M452.2 224.9h0M376.6 272.5h0M423.0 241.0h0M376.7 275.5h0M359.5 273.6h0M349.5 270.5h0"/>
<path stroke="#ff0056" d="M386.9 277.5h0M358.9 284.1h0M360.1 272.5h0M442.9 234.0h0M333.3 271.2h0M351.0 263.8h0M336.3 272.8h0M440.9 217.2h0M368.4 269.0h0M327.3 292.9h0M442.0 229.9h0M440.0 233.9h0M418.5 243.9h0M437.6 212.6h0M329.0 289.3h0M439.7 230.9h0M332.8 275.2h0M435.5 218.3h0M353.2 269.0h0M334.1 276.4h0M443.7 213.9h0M385.4 270.8h0M363.3 280.0h0M440.4 231.1h0M345.4 298.7h0M443.0 200.0h0M449.4 202.8h0M400.6 277.7h0M383.9 272.1h0"/>
<path stroke="#9838d9" d="M413.5 253.8h0M440.8 229.1h0M364.5 274.0h0M385.8 278.1h0M371.3 262.7h0M358.9 280.1h0M438.0 234.8h0M347.5 271.6h0M375.9 279.7h0M443.2 221.9h0M446.0 239.3h0M336.7 273.9h0M380.5 269.1h0M451.4 219.9h0M453.0 222.2h0M373.0 277.3h0M334.2 273.1h0M437.3 227.1h0M348.0 271.6h0M378.1 277.9h0M341.0 269.1h0M421.6 239.0h0M442.6 227.8h0M336.4 281.0h0M369.0 269.8h0M426.1 246.1h0M377.3 268.0h0"/>
<path stroke="#bc1fbf" d="M345.4 266.7h0M383.0 272.3h0M390.9 293.7h0M375.7 272.5h0M445.1 233.2h0M364.0 272.7h0M401.9 264.9h0M410.1 257.7h0M430.4 237.3h0M381.4 270.4h0M408.3 248.2h0M372.8 276.8h0M386.5 263.7h0M425.1 249.3h0M414.3 257.3h0M382.2 274.5h0M359.4 270.6h0M374.9 275.4h0M342.7 270.7h0M396.3 264.6h0M436.9 232.5h0M353.8 280.7h0"/>
<path stroke="#f80071" d="M424.2 239.2h0M340.2 270.4h0M402.6 261.5h0M414.3 255.4h0M421.6 229.6h0M429.4 237.3h0M372.0 276.0h0M418.0 245.5h0M422.5 244.8h0M339.4 279.4h0M332.5 266.1h0M377.6 272.7h0M436.8 226.4h0M323.9 291.2h0M434.1 229.2h0M417.0 249.5h0M402.7 274.0h0M339.9 280.2h0M446.7 218.9h0M447.2 226.2h0M377.9 265.4h0M343.7 259.3h0M340.8 282.3h0M363.0 271.5h0M375.1 277.0h0M336.4 280.0h0M378.9 291.3h0M418.7 235.8h0M345.3 263.0h0M395.2 263.5h0M411.5 253.8h0M416.2 239.4h0M450.2 227.1h0M383.1 273.4h0M392.8 259.5h0M368.1 268.3h0M454.7 222.6h0M348.3 276.7h0"/>
<path stroke="#4c64f6" d="M414.1 259.8h0M426.4 243.0h0M435.9 240.4h0M451.6 223.0h0M393.0 281.1h0M403.8 269.6h0"/>
<path stroke="#057ffd" d="M338.8 268.4h0M407.5 256.6h0M413.3 255.8h0M434.5 231.4h0M440.3 233.1h0M405.9 256.2h0M358.7 271.6h0M427.9 238.3h0M348.3 270.1h0M405.2 261.8h0M371.6 274.9h0M382.4 282.7h0M442.1 227.3h0M419.1 248.1h0M441.7 241.4h0M444.0 223.2h0M440.3 244.8h0M441.1 240.4h0M442.9 234.4h0M349.1 266.1h0M353.9 268.0h0M449.6 226.4h0M456.6 232.2h0M402.2 266.4h0M419.0 253.3h0M439.4 241.8h0M436.4 230.9h0M455.0 232.9h0M348.1 266.1h0M451.5 231.0h0M382.9 268.0h0M433.9 243.1h0M418.6 255.1h0M380.0 271.9h0M437.1 242.0h0M438.2 244.4h0M435.1 236.3h0M437.2 236.3h0"/>
<path stroke="#ec0387" d="M385.7 267.1h0M331.5 272.2h0M401.0 293.5h0M342.6 269.8h0M446.6 227.3h0M412.5 245.1h0M361.8 282.6h0M358.2 263.3h0M391.3 268.5h0M460.4 235.1h0M340.6 268.7h0M374.8 275.8h0M351.3 264.3h0M371.3 294.6h0M444.5 236.2h0M445.5 232.9h0M345.7 267.7h0M349.6 275.3h0M342.3 275.7h0M424.6 238.2h0M356.1 267.9h0M445.2 226.3h0M441.4 224.7h0M392.0 308.1h0M367.8 276.7h0M342.0 255.4h0M332.8 291.2h0M383.4 262.8h0M346.5 265.9h0M455.9 219.7h0M360.8 283.9h0M376.2 274.0h0M357.2 258.2h0M350.6 267.9h0M352.6 277.8h0"/>
<path stroke="#ff0060" d="M437.5 222.8h0M440.6 227.5h0M445.4 221.0h0M347.7 264.9h0M443.6 233.3h0M445.6 203.0h0M440.3 233.2h0M386.9 280.1h0M356.5 278.4h0M361.4 272.5h0M454.4 222.1h0M411.5 295.6h0M342.9 270.7h0M334.3 296.8h0M387.5 260.0h0M439.4 229.9h0M355.8 281.4h0M339.6 273.2h0M398.3 253.6h0M426.6 244.1h0M383.2 272.0h0M346.9 274.6h0M392.9 271.5h0M439.5 237.6h0M432.0 233.6h0M349.3 272.7h0M438.8 239.6h0M377.7 270.8h0M394.0 275.1h0M340.7 272.3h0M434.5 230.6h0M442.9 209.4h0M443.4 209.6h0M410.4 254.0h0M355.1 265.1h0M438.1 236.1h0M449.4 204.1h0M361.3 277.6h0M375.5 294.5h0M378.9 271.1h0M325.4 287.5h0M371.6 284.3h0M372.0 279.2h0M377.2 282.6h0M368.3 275.1h0M418.1 250.1h0M340.5 271.5h0M446.2 224.5h0M431.9 236.2h0M409.8 252.3h0"/>
<path stroke="#754fed" d="M451.5 237.9h0M343.8 267.5h0M414.3 256.8h0M386.3 270.8h0M364.8 279.7h0M403.2 261.4h0M386.3 272.1h0M436.2 246.3h0M443.2 228.7h0M395.5 274.6h0"/>
<path stroke="#f80071" d="M389.1 268.1h0M339.0 269.0h0M361.2 283.0h0M440.7 213.0h0M449.5 200.9h0M406.9 252.6h0M425.0 239.1h0M380.2 265.2h0M439.1 221.4h0M436.1 228.5h0M339.0 263.0h0M440.1 230.3h0M376.2 273.6h0M341.2 270.6h0M328.8 271.4h0M372.1 282.8h0M377.0 280.2h0M386.8 267.5h0M342.3 266.2h0M349.8 270.3h0M338.7 263.2h0M353.2 272.2h0M344.0 274.9h0M360.8 275.5h0M354.5 280.0h0M394.0 258.5h0M345.1 260.6h0M387.0 273.0h0M344.3 259.9h0M447.3 221.8h0M331.7 285.8h0M330.9 268.9h0M432.0 232.9h0M443.7 229.0h0M430.3 230.1h0"/>
<path stroke="#ff0060" d="M387.1 274.1h0M445.5 206.0h0M429.7 238.2h0M443.7 207.6h0M440.0 236.2h0M401.6 262.4h0M453.0 194.5h0M392.0 309.8h0M413.8 249.8h0M445.8 221.4h0M387.5 259.2h0M435.5 238.6h0M392.3 260.9h0M420.0 246.7h0M333.7 275.0h0M446.4 202.7h0M337.7 267.3h0M392.7 275.5h0M408.9 253.7h0M407.7 263.3h0M323.2 315.4h0M454.2 199.1h0M373.9 274.9h0M368.8 290.6h0M447.5 225.9h0M359.2 273.7h0M374.6 275.9h0M374.1 277.5h0M349.5 267.4h0M347.9 264.6h0M450.8 216.3h0M374.0 264.6h0M361.7 284.3h0M446.4 220.3h0M340.4 291.1h0M450.8 197.2h0M420.9 242.3h0M336.7 286.3h0M368.9 265.0h0"/>
<path stroke="#ff0056" d="M373.8 287.6h0M384.7 279.6h0M443.8 221.7h0M336.3 270.8h0M438.1 214.4h0M364.9 289.2h0M440.3 220.4h0M369.1 274.8h0M434.0 218.8h0M339.4 276.7h0M377.8 268.0h0M449.8 223.3h0M333.8 279.1h0M356.7 272.9h0M331.4 275.0h0M345.5 259.5h0M430.7 237.7h0M444.5 227.7h0M333.2 287.5h0M338.2 275.0h0M346.5 266.1h0M375.2 273.1h0M360.0 262.8h0M429.2 229.3h0M360.2 276.5h0M442.1 224.6h0M449.1 202.8h0M406.1 254.8h0M379.5 280.0h0M438.3 220.8h0M356.9 280.8h0M380.6 278.3h0M445.1 211.5h0M340.3 274.8h0M429.0 238.3h0M349.3 264.1h0"/>
<path stroke="#2a72fb" d="M414.6 305.7h0M406.3 268.9h0M434.3 239.5h0M410.4 258.0h0M363.6 272.6h0M355.9 275.5h0M440.7 240.5h0M349.2 264.6h0M375.2 277.6h0M355.1 269.2h0M434.5 233.9h0M409.9 260.0h0M389.3 269.9h0M394.7 273.4h0M443.5 227.2h0M412.5 251.6h0M346.3 261.8h0M399.2 268.5h0M406.2 270.6h0M448.0 230.1h0M345.1 269.2h0M444.5 240.4h0M447.1 225.9h0M390.4 263.6h0M391.0 272.5h0"/>
<path stroke="#4c64f6" d="M382.8 275.2h0M408.5 257.1h0M409.2 256.5h0M400.1 269.6h0M440.7 231.5h0M360.9 272.7h0M441.1 235.8h0M436.0 234.9h0M439.5 235.5h0"/>
<path stroke="#da0aa0" d="M327.2 279.7h0M434.5 233.8h0M375.7 275.6h0M422.3 251.0h0M347.0 275.1h0M362.1 293.0h0M371.1 283.8h0M350.5 262.6h0M398.0 270.3h0M394.7 291.2h0M348.5 262.0h0M371.2 267.5h0M337.4 270.2h0M438.6 215.1h0M394.8 285.0h0M363.1 280.2h0M370.1 280.0h0M420.8 259.3h0M336.9 270.5h0M332.8 285.7h0M374.5 272.7h0M372.7 275.9h0M350.9 263.9h0M394.4 267.3h0M402.4 254.3h0M400.9 273.2h0M337.6 277.9h0M447.8 230.1h0M451.3 224.0h0M385.5 325.1h0M347.9 260.1h0M432.9 236.7h0M345.9 266.4h0M358.4 278.4h0M352.2 274.7h0M343.1 276.4h0M365.0 270.7h0M348.9 271.5h0M425.0 240.1h0"/>
<path stroke="#bc1fbf" d="M423.8 233.2h0M396.4 266.0h0M428.3 249.3h0M435.2 239.5h0M342.6 264.0h0M359.7 277.3h0M343.9 266.7h0M353.3 280.1h0M371.1 275.6h0M399.4 255.3h0M441.2 230.2h0M399.7 263.3h0M341.7 268.7h0M437.2 225.1h0M364.3 280.0h0M352.4 270.2h0"/>
<path stroke="#754fed" d="M345.2 265.8h0M440.0 237.0h0M364.5 270.9h0M443.2 233.3h0M364.0 280.4h0M343.3 268.1h0M377.9 268.2h0M353.7 272.2h0M343.8 260.2h0M399.4 264.7h0M377.7 276.1h0M451.5 225.2h0M372.4 276.5h0M356.7 269.6h0M404.9 259.2h0"/>
<path stroke="#057ffd" d="M355.8 273.1h0M432.8 240.9h0M335.6 269.9h0M377.3 276.1h0M433.1 241.7h0M354.4 267.0h0M386.3 272.4h0M349.2 266.4h0M351.0 269.9h0M376.1 274.4h0M397.1 271.4h0M423.8 251.9h0M374.0 271.1h0M354.0 266.9h0M357.7 269.5h0M434.5 238.6h0M446.9 239.1h0M442.3 230.7h0M449.2 230.6h0M412.2 261.1h0M367.4 270.9h0M437.4 235.7h0M433.2 244.4h0M414.5 248.9h0M342.8 278.4h0M364.3 286.0h0M452.1 233.0h0M441.7 240.9h0M393.3 275.2h0M434.1 237.1h0M400.7 265.4h0M437.3 234.8h0M349.6 274.1h0M367.9 280.7h0M365.2 272.4h0"/>
<path stroke="#ec0387" d="M369.1 282.1h0M436.3 233.4h0M420.9 239.8h0M337.7 280.2h0M356.5 271.1h0M340.9 258.0h0M378.0 268.4h0M440.0 234.2h0M351.7 275.2h0M366.6 272.7h0M343.3 257.9h0M405.2 261.2h0M349.6 273.8h0M409.2 252.4h0M325.2 316.8h0M358.7 266.7h0M396.8 294.4h0M358.9 271.6h0M351.5 267.8h0M336.0 277.1h0M368.2 271.1h0M417.0 241.1h0M374.2 267.2h0M390.4 268.3h0M371.5 268.9h0M375.4 279.8h0M361.0 262.1h0M348.4 259.3h0M350.2 269.0h0M362.8 274.0h0M375.6 286.4h0M387.2 270.1h0M332.1 292.1h0M370.8 273.3h0"/>
<path stroke="#117afd" d="M386.1 274.3h0M432.1 240.2h0M418.0 253.3h0M381.8 276.7h0M411.6 263.6h0M400.6 262.9h0M436.3 233.4h0M379.2 271.2h0M450.4 233.4h0M371.0 278.5h0M401.7 266.8h0M444.7 231.7h0M354.4 274.5h0M441.8 232.1h0M335.7 271.5h0M456.8 229.8h0M358.4 276.7h0M440.0 236.4h0M368.1 281.8h0M437.8 243.6h0M353.5 272.4h0M413.8 262.2h0M433.4 240.2h0M419.1 245.6h0M367.4 273.2h0M438.7 226.5h0M441.1 246.7h0M394.6 269.1h0M452.8 236.4h0M435.4 235.0h0M434.7 241.0h0M387.7 274.1h0M390.6 267.1h0M376.5 282.1h0M436.8 238.2h0M346.9 267.5h0M448.9 228.5h0M395.8 273.5h0M375.9 278.8h0M435.8 237.3h0M437.6 240.0h0"/>
<path stroke="#9838d9" d="M359.4 278.5h0M341.2 268.2h0M350.8 262.4h0M339.0 267.9h0M358.2 283.7h0M357.5 276.1h0M397.0 275.3h0M373.7 272.8h0M367.4 298.6h0M439.7 244.9h0M442.4 230.9h0M444.3 233.1h0M353.7 278.9h0M360.0 270.0h0M366.9 278.6h0M434.7 238.3h0M430.3 244.7h0M453.6 219.0h0"/>
<path stroke="#117afd" d="M434.8 230.8h0M396.3 269.1h0M401.5 266.7h0M355.4 277.3h0M367.3 273.0h0M378.4 277.1h0M433.5 244.7h0M436.4 235.9h0M363.9 272.8h0M390.1 274.4h0M420.5 251.1h0M441.0 232.2h0M443.5 233.6h0M379.3 273.2h0M352.3 276.0h0M446.0 238.6h0M350.5 269.9h0M363.8 279.0h0M355.1 272.2h0M377.2 277.4h0M450.2 227.5h0M426.6 245.8h0M441.8 241.2h0M435.9 241.6h0M445.1 228.5h0M346.7 272.6h0M437.6 236.3h0M454.2 223.6h0M438.4 242.6h0M441.2 237.4h0M420.5 250.7h0M446.5 230.4h0M338.1 272.2h0M362.0 269.4h0M432.5 241.8h0M341.2 262.0h0M370.8 281.4h0M377.3 280.2h0M374.8 278.4h0M377.8 280.5h0M391.7 263.6h0M384.5 267.1h0M352.5 270.0h0M377.4 277.6h0M412.1 255.2h0M351.6 264.4h0"/>
<path stroke="#2a72fb" d="M445.5 231.9h0M446.3 232.4h0M441.3 231.3h0M381.5 276.7h0M374.4 273.4h0M438.2 236.0h0M407.4 254.2h0M370.4 277.1h0M379.9 273.1h0M410.0 257.3h0M443.2 231.9h0M374.8 271.4h0M399.9 257.6h0M434.3 233.5h0M435.4 236.1h0M343.1 272.8h0M377.3 273.4h0M444.5 224.9h0M357.2 269.2h0M439.3 232.1h0M404.1 265.5h0M332.0 271.8h0M418.6 254.2h0"/>
<path stroke="#4c64f6" d="M431.6 237.9h0M455.7 229.8h0M443.4 234.4h0M429.8 239.6h0"/>
<path stroke="#ff0060" d="M342.2 264.7h0M364.7 274.2h0M444.5 208.8h0M442.1 208.0h0M342.9 280.9h0M413.8 240.5h0M372.9 267.0h0M406.0 252.8h0M361.0 272.7h0M441.3 207.6h0M446.4 201.5h0M384.4 270.6h0M387.0 266.4h0M448.7 201.8h0M365.6 268.8h0M339.4 267.7h0M334.4 285.6h0M449.7 221.7h0M403.2 259.8h0M442.6 209.4h0M330.3 279.0h0M437.3 215.0h0M451.1 195.5h0M350.1 261.4h0M344.4 257.7h0M438.0 217.3h0M440.3 212.7h0M448.8 227.0h0M361.7 279.7h0M344.7 261.0h0M408.9 244.4h0M443.8 223.7h0M352.2 269.7h0M384.9 265.4h0M377.1 269.4h0M442.2 224.2h0M362.0 268.0h0"/>
<path stroke="#bc1fbf" d="M356.8 275.3h0M440.0 232.4h0M401.3 270.1h0M442.8 231.0h0M377.4 275.6h0M357.4 271.7h0M361.2 281.4h0M348.8 270.5h0M428.0 242.0h0M433.4 247.5h0M379.3 287.5h0M403.1 268.7h0M351.6 270.9h0M423.2 242.0h0M431.1 231.2h0M337.2 275.4h0M380.1 265.2h0M380.1 279.3h0M445.2 230.5h0M362.5 278.9h0M379.1 295.6h0M391.0 271.7h0M408.0 256.6h0M451.7 234.8h0M342.1 262.1h0M387.4 272.6h0M343.3 261.5h0M448.5 218.3h0M369.2 268.8h0"/>
<path stroke="#f80071" d="M372.1 280.3h0M379.6 274.1h0M443.3 227.1h0M349.7 265.0h0M437.9 232.6h0M383.6 261.6h0M341.9 267.7h0M358.6 266.4h0M363.2 279.5h0M337.6 264.8h0M396.3 263.1h0M418.7 250.2h0M417.9 235.5h0M439.4 235.9h0M417.7 238.6h0M380.5 279.4h0M407.6 256.4h0M395.4 265.0h0M411.8 248.1h0M375.5 268.9h0M436.7 233.8h0M382.8 271.7h0M360.2 269.2h0M412.8 248.6h0M447.3 218.6h0M351.1 285.7h0M350.0 256.6h0M441.1 229.7h0M446.8 228.0h0M374.0 267.5h0M400.6 266.1h0M407.6 244.3h0M346.4 265.7h0M436.0 234.5h0"/>
<path stroke="#754fed" d="M394.9 254.7h0M377.4 271.8h0M345.1 272.4h0M439.7 232.9h0M448.0 209.5h0M397.8 271.8h0M436.4 227.4h0M378.7 272.5h0M404.1 255.3h0M403.2 253.6h0"/>
<path stroke="#9838d9" d="M394.2 283.9h0M363.2 276.2h0M382.1 270.3h0M383.9 289.8h0M353.8 276.8h0M374.3 273.5h0M362.1 275.5h0M337.7 272.4h0M435.7 236.1h0M371.4 280.9h0M376.8 273.3h0M449.9 226.3h0M364.1 279.3h0M395.0 272.1h0M444.3 234.1h0M336.9 272.5h0M344.3 258.8h0M367.9 274.9h0M344.3 271.1h0"/>
<path stroke="#057ffd" d="M404.3 266.2h0M370.0 273.0h0M352.6 271.4h0M372.9 273.3h0M441.9 238.0h0M414.6 257.6h0M441.7 233.5h0M406.5 258.6h0M395.7 262.6h0M404.9 266.8h0M419.1 245.0h0M398.3 274.0h0M439.4 240.4h0M368.1 277.1h0M356.5 273.3h0M416.5 250.4h0M381.6 273.9h0M452.9 233.4h0M420.7 258.3h0M435.0 239.8h0M379.6 277.0h0M411.3 256.2h0M422.1 249.2h0M432.7 247.7h0M442.1 234.2h0M383.7 279.7h0M412.2 262.2h0M445.4 228.9h0M423.6 248.1h0M441.1 238.4h0M398.3 276.8h0M393.3 267.6h0M442.4 229.2h0M434.1 246.5h0M393.9 278.8h0M437.9 238.5h0M377.5 269.7h0M434.7 244.1h0M398.4 267.9h0M345.8 264.1h0M430.1 245.0h0"/>
<path stroke="#da0aa0" d="M451.5 229.4h0M430.1 231.8h0M368.4 280.3h0M365.5 269.1h0M347.2 268.8h0M358.1 268.6h0M338.2 267.7h0M376.8 274.8h0M347.2 270.0h0M349.9 270.2h0M451.1 226.0h0M440.7 223.9h0M352.8 265.3h0M410.8 253.8h0M430.7 230.3h0M352.9 273.3h0M437.1 240.4h0M342.4 265.4h0M399.2 264.8h0M351.6 264.3h0M352.0 272.1h0M345.1 276.0h0M381.3 265.9h0M334.7 276.4h0M437.0 232.5h0M433.7 241.1h0M409.9 251.6h0M445.2 226.2h0M449.8 224.6h0M367.9 281.3h0M355.9 272.7h0M415.7 252.0h0M328.4 314.0h0M375.2 265.0h0M440.3 233.7h0"/>
<path stroke="#ff0056" d="M433.3 240.6h0M355.1 266.1h0M360.2 270.7h0M378.0 266.9h0M434.0 219.4h0M376.0 273.2h0M404.8 296.4h0M349.1 284.0h0M341.7 272.9h0M430.2 241.3h0M449.6 200.9h0M368.7 263.1h0M384.6 267.2h0M344.4 288.8h0M407.5 262.8h0M398.1 266.0h0M332.4 277.0h0M385.0 282.3h0M362.0 273.6h0M334.9 273.0h0M377.9 269.1h0M363.1 276.4h0M445.2 233.3h0M370.1 272.6h0M361.2 288.4h0M332.9 275.7h0M432.7 246.0h0M440.9 215.3h0M326.4 301.5h0M421.8 241.9h0M388.5 270.1h0M343.9 264.1h0M348.9 276.4h0M336.3 274.9h0M452.1 224.0h0M346.4 267.6h0M366.9 274.8h0"/>
<path stroke="#ec0387" d="M434.7 232.5h0M448.0 225.3h0M440.0 227.0h0M441.3 222.2h0M362.1 275.4h0M344.0 269.9h0M390.2 276.6h0M345.3 260.9h0M338.2 271.3h0M369.1 267.3h0M334.4 287.0h0M409.9 250.3h0M372.2 276.1h0M348.1 273.6h0M342.5 268.8h0M366.5 287.3h0M337.9 260.1h0M348.3 260.1h0M379.0 270.0h0M442.3 220.8h0M346.9 264.9h0M407.4 256.4h0M414.7 251.8h0M349.9 274.1h0M357.6 275.1h0M375.2 283.5h0M360.7 270.9h0"/>
</g>
<path d="M299.5 186.8V338.5H470.5" stroke="#5a5a5a" stroke-width="1" fill="none"/>
<path d="M305.5 338.5v3M326.3 338.5v3M347.1 338.5v3M367.9 338.5v3M388.6 338.5v3M409.4 338.5v3M430.2 338.5v3M451.0 338.5v3M299.5 206.0h-3M299.5 233.7h-3M299.5 261.4h-3M299.5 289.1h-3M299.5 316.8h-3" stroke="#444" stroke-width="1" fill="none"/>
<g font-size="5.6" fill="#3c3c3c">
<text transform="translate(305.5 349.1) scale(1 1.083)" text-anchor="middle">0.00</text>
<text transform="translate(326.3 349.1) scale(1 1.083)" text-anchor="middle">0.01</text>
<text transform="translate(347.1 349.1) scale(1 1.083)" text-anchor="middle">0.02</text>
<text transform="translate(367.9 349.1) scale(1 1.083)" text-anchor="middle">0.03</text>
<text transform="translate(388.6 349.1) scale(1 1.083)" text-anchor="middle">0.04</text>
<text transform="translate(409.4 349.1) scale(1 1.083)" text-anchor="middle">0.05</text>
<text transform="translate(430.2 349.1) scale(1 1.083)" text-anchor="middle">0.06</text>
<text transform="translate(451.0 349.1) scale(1 1.083)" text-anchor="middle">0.07</text>
<text transform="translate(292.5 208.2) scale(1 1.083)" text-anchor="end">0.04</text>
<text transform="translate(292.5 235.8) scale(1 1.083)" text-anchor="end">0.02</text>
<text transform="translate(292.5 263.5) scale(1 1.083)" text-anchor="end">0.00</text>
<text transform="translate(292.5 291.2) scale(1 1.083)" text-anchor="end">-0.02</text>
<text transform="translate(292.5 318.9) scale(1 1.083)" text-anchor="end">-0.04</text>
</g>
<g font-size="6.65" fill="#3c3c3c" text-anchor="middle">
<text transform="translate(385.0 358.3) scale(1 1.083)">LNC/Days_from_seeding</text>
<text transform="translate(269.4 264.1) rotate(-90) scale(1.083 1)">SHAP value for</text>
<text transform="translate(276.7 264.1) rotate(-90) scale(1.083 1)">LNC/Days_from_seeding</text>
</g>
<rect x="481.5" y="186.8" width="2.5" height="151.7" fill="url(#cb)"/>
<g font-size="5.6" fill="#3c3c3c">
<text transform="translate(488.3 328.3) scale(1 1.083)">15.0</text>
<text transform="translate(488.3 307.9) scale(1 1.083)">17.5</text>
<text transform="translate(488.3 287.5) scale(1 1.083)">20.0</text>
<text transform="translate(488.3 267.1) scale(1 1.083)">22.5</text>
<text transform="translate(488.3 246.7) scale(1 1.083)">25.0</text>
<text transform="translate(488.3 226.3) scale(1 1.083)">27.5</text>
<text transform="translate(488.3 205.8) scale(1 1.083)">30.0</text>
</g>
<path d="M484 326.2h2.8M484 305.8h2.8M484 285.4h2.8M484 264.9h2.8M484 244.5h2.8M484 224.1h2.8M484 203.7h2.8" stroke="#444" stroke-width="1" fill="none"/>
<text transform="translate(506.5 264.0) rotate(-90) scale(1.083 1)" font-size="6.65" fill="#3c3c3c" text-anchor="middle">C</text>
<rect x="260.2" y="338.9" width="21.600000000000023" height="23.80000000000001" fill="#1f6fc4" stroke="#1a5a9e" stroke-width="0.6"/>
<text x="271.0" y="355.8" font-size="10" font-family='"Liberation Serif", serif' text-anchor="middle" fill="#0a0a14">d</text>
<rect x="42.5" y="371.5" width="174.0" height="151.0" fill="#e7e9f2"/>
<path d="M50.5 371.5V522.5M70.2 371.5V522.5M90.0 371.5V522.5M109.8 371.5V522.5M129.5 371.5V522.5M149.2 371.5V522.5M169.0 371.5V522.5M188.8 371.5V522.5M208.5 371.5V522.5M42.5 374.0H216.5M42.5 395.3H216.5M42.5 416.6H216.5M42.5 437.9H216.5M42.5 459.2H216.5M42.5 480.5H216.5M42.5 501.8H216.5" stroke="#fff" stroke-width="0.8" fill="none" opacity="0.8"/>
<g fill="none" stroke-width="2.24" stroke-linecap="round">
<path stroke="#117afd" d="M151.5 444.3h0M154.9 438.4h0M127.1 513.0h0M118.7 465.6h0M127.3 513.1h0M157.1 438.2h0M165.9 433.0h0M164.7 428.3h0M159.3 448.0h0M149.3 450.4h0M149.1 438.2h0M153.5 439.3h0M152.4 435.3h0M167.4 413.9h0"/>
<path stroke="#bc1fbf" d="M127.8 484.2h0M157.3 433.4h0M171.0 432.4h0M147.3 458.2h0M131.5 451.9h0M164.8 417.1h0M168.8 425.5h0M137.6 469.7h0M125.5 481.7h0M127.9 461.9h0M171.9 429.2h0M90.0 471.2h0M163.1 448.6h0M178.9 418.3h0M155.2 437.2h0M127.2 484.7h0M105.9 470.0h0M154.7 439.0h0M134.0 448.5h0M109.7 464.9h0M129.3 453.0h0M149.0 460.8h0M189.0 412.9h0M167.0 459.7h0M129.3 479.6h0M125.5 454.4h0M127.5 494.5h0M133.7 464.7h0M151.4 464.6h0M159.1 451.8h0M169.2 450.4h0M157.0 460.6h0M152.9 439.1h0M147.5 447.0h0"/>
<path stroke="#f80071" d="M159.1 434.7h0M166.9 434.3h0M133.6 462.6h0M132.6 470.6h0M165.5 442.4h0M207.5 429.4h0M138.3 457.7h0M142.3 454.3h0M133.1 463.6h0M129.6 471.1h0M142.5 469.4h0M97.9 467.4h0M155.3 455.4h0M143.5 448.8h0M89.7 514.4h0M125.3 489.1h0M163.0 432.8h0M173.0 442.4h0M127.4 500.2h0M90.0 471.0h0M206.6 404.1h0M169.1 415.4h0M133.2 461.9h0M129.4 443.5h0M129.5 435.8h0M137.6 460.0h0M109.8 481.9h0M160.7 452.3h0M125.6 471.4h0M172.7 431.0h0M159.3 453.5h0M169.0 446.8h0M132.5 474.3h0M163.5 445.0h0M125.4 496.9h0M167.3 414.4h0M163.4 455.0h0M118.7 477.0h0"/>
<path stroke="#ff0060" d="M89.8 457.2h0M167.1 459.7h0M96.0 467.3h0M167.0 442.3h0M157.4 457.2h0M169.1 453.8h0M90.0 489.1h0M188.8 414.3h0M172.7 442.1h0M127.3 477.2h0M135.0 473.7h0M131.6 458.1h0M127.5 491.2h0M167.5 416.5h0M125.5 473.7h0M127.8 436.4h0M169.1 441.1h0M169.0 451.8h0M170.7 432.8h0M133.8 454.0h0M157.2 430.3h0M129.4 457.3h0M132.5 476.3h0M100.3 477.4h0M171.0 454.5h0M96.3 474.0h0M115.4 459.7h0M142.3 454.1h0M153.2 462.4h0M118.7 480.4h0M135.0 446.6h0"/>
<path stroke="#ec0387" d="M90.0 471.0h0M129.0 477.5h0M138.3 454.6h0M50.4 489.5h0M166.5 446.6h0M134.4 469.3h0M127.7 503.6h0M50.5 479.3h0M97.8 476.7h0M125.7 516.6h0M138.0 457.1h0M130.0 450.0h0M190.9 418.3h0M125.6 506.9h0M207.2 433.9h0M143.0 459.5h0M141.6 456.3h0M145.4 449.5h0M171.3 451.8h0M125.7 480.0h0M188.8 383.6h0M147.4 458.3h0M111.8 465.0h0M135.7 449.0h0M50.4 489.7h0M169.4 384.5h0M111.9 458.0h0M155.1 449.6h0M139.3 469.7h0M169.0 433.1h0M166.8 461.2h0M138.0 458.8h0M134.7 479.7h0M129.8 466.0h0M207.1 423.3h0M105.9 469.0h0"/>
<path stroke="#9838d9" d="M139.4 469.8h0M149.3 462.8h0M151.6 460.5h0M168.8 455.3h0M125.8 490.9h0M54.9 489.0h0M155.1 462.7h0M147.4 463.3h0M188.5 427.8h0M130.5 458.5h0M159.3 428.1h0M50.4 502.0h0M145.3 469.8h0M151.7 460.4h0M149.2 443.4h0M157.2 443.6h0M90.0 511.7h0M129.7 453.2h0M129.5 445.8h0M129.4 448.4h0M189.7 462.2h0"/>
<path stroke="#ff0056" d="M138.8 457.4h0M167.5 414.6h0M143.0 457.4h0M167.3 429.5h0M90.0 501.3h0M149.5 496.2h0M125.6 496.2h0M133.0 465.7h0M159.2 457.1h0M127.5 504.5h0M121.9 474.1h0M115.6 473.6h0M49.8 486.1h0M137.3 465.2h0M149.4 465.6h0M90.0 507.2h0M167.0 446.0h0M125.9 476.2h0M129.9 482.0h0M141.5 453.3h0M127.7 490.3h0M164.9 420.4h0M125.5 483.4h0M170.9 438.1h0M169.1 422.2h0M125.1 508.9h0M90.0 475.4h0M135.6 477.3h0M169.1 422.2h0M170.9 429.3h0M90.0 513.3h0M168.7 425.6h0M127.6 440.4h0M137.5 458.8h0M168.9 435.6h0M129.5 450.2h0M169.2 441.6h0M109.8 477.1h0"/>
<path stroke="#754fed" d="M153.3 462.6h0M149.6 478.5h0M149.3 445.4h0M149.4 448.7h0M163.0 438.3h0M129.5 451.9h0M166.4 430.3h0M132.7 463.7h0M141.9 467.2h0M93.6 482.9h0M151.3 458.6h0M188.6 425.4h0M157.0 443.0h0M125.5 506.3h0"/>
<path stroke="#057ffd" d="M188.9 426.4h0M153.2 447.9h0M155.5 437.8h0M153.0 457.4h0M145.4 458.9h0M165.5 415.0h0M89.6 473.9h0M149.3 459.5h0M164.8 454.6h0M127.5 503.6h0M127.3 503.9h0M127.3 490.6h0"/>
<path stroke="#4c64f6" d="M158.9 448.1h0M142.1 456.8h0M127.6 499.5h0M167.0 437.8h0M145.2 452.9h0M157.1 453.6h0M173.4 404.5h0M165.3 435.2h0M159.2 427.9h0M166.9 438.0h0M153.1 444.7h0M139.6 467.6h0M149.0 444.1h0"/>
<path stroke="#2a72fb" d="M138.0 456.0h0M164.8 398.5h0M151.5 432.8h0M159.0 428.1h0M188.9 427.0h0M89.6 459.0h0M164.3 402.9h0M127.5 483.3h0M167.3 445.5h0M89.6 482.8h0M165.7 404.3h0M145.8 460.1h0M189.0 435.4h0M165.0 448.9h0"/>
<path stroke="#da0aa0" d="M167.1 449.6h0M159.1 426.0h0M188.4 416.2h0M115.7 463.1h0M141.3 466.3h0M168.8 394.0h0M50.2 502.1h0M125.4 515.3h0M90.5 466.7h0M142.2 476.5h0M133.0 476.3h0M171.1 453.0h0M127.4 438.7h0M125.3 496.8h0M134.7 455.1h0M125.7 441.5h0M129.5 467.1h0M170.9 424.2h0M128.0 490.3h0M166.5 413.7h0M170.6 449.5h0M127.6 451.0h0M129.6 475.2h0M130.6 471.9h0"/>
<path stroke="#f80071" d="M138.7 458.9h0M190.9 418.2h0M171.3 451.5h0M109.6 484.9h0M50.4 476.9h0M111.9 458.1h0M154.9 441.9h0M140.9 449.2h0M129.6 443.5h0M169.5 441.3h0M161.0 458.7h0M169.3 450.1h0M94.2 463.9h0M173.1 432.6h0M125.4 442.7h0M144.4 472.5h0M126.9 477.9h0M167.4 434.3h0M169.3 426.7h0M90.0 458.6h0M90.4 476.6h0M160.9 458.9h0M89.7 475.8h0M99.8 467.1h0M89.8 465.1h0M171.6 473.8h0M139.0 457.0h0M171.2 438.3h0M132.1 457.9h0M169.2 458.9h0M189.6 446.1h0M89.7 485.0h0M169.0 422.8h0M169.1 437.6h0M93.8 472.7h0M125.5 489.5h0M153.7 465.1h0"/>
<path stroke="#da0aa0" d="M89.9 506.3h0M127.3 491.8h0M168.9 413.4h0M89.8 470.0h0M100.3 469.8h0M90.0 510.3h0M129.5 466.3h0M153.3 448.0h0M50.6 473.2h0M90.4 483.6h0M164.8 438.6h0M190.4 423.4h0M129.6 456.2h0M131.6 459.8h0M163.0 437.9h0M129.7 475.0h0M126.1 495.8h0M147.6 457.4h0M129.6 482.7h0M168.8 427.7h0M141.5 457.3h0M165.7 437.7h0M153.1 442.8h0M143.4 459.5h0M121.3 472.1h0M151.5 454.0h0"/>
<path stroke="#4c64f6" d="M155.3 446.5h0M158.7 425.9h0M131.4 457.8h0M166.2 401.9h0M188.6 433.3h0M135.6 451.5h0M149.5 458.5h0M125.5 500.3h0M151.3 432.9h0M151.6 437.6h0M188.6 417.3h0M158.8 454.1h0M188.6 432.9h0"/>
<path stroke="#754fed" d="M153.0 450.9h0M159.2 449.5h0M141.6 453.7h0M157.3 437.5h0M109.3 459.2h0M169.3 451.8h0M93.7 479.4h0M149.5 459.2h0M154.9 456.5h0M177.1 415.6h0M132.1 457.1h0M137.9 455.3h0M152.7 459.2h0M155.2 445.0h0M169.0 447.8h0M127.6 492.9h0M146.9 457.7h0M149.2 459.8h0M162.9 445.7h0M165.1 429.1h0"/>
<path stroke="#057ffd" d="M145.0 460.0h0M157.2 432.8h0M145.3 447.0h0M164.8 417.0h0M89.9 477.8h0M127.3 505.3h0M89.7 460.8h0M159.2 457.3h0M149.4 447.5h0M148.8 448.0h0M145.2 450.1h0M165.5 431.8h0M89.8 464.8h0M89.4 461.4h0M155.2 461.2h0M148.7 445.2h0M165.7 411.8h0M149.1 453.3h0M148.9 443.3h0"/>
<path stroke="#2a72fb" d="M164.8 430.1h0M89.5 458.7h0M89.9 456.8h0M127.0 491.4h0M148.4 440.5h0M157.4 440.3h0M166.9 428.2h0M149.5 445.3h0M127.8 485.8h0M164.9 422.3h0M127.8 489.4h0M166.2 412.7h0"/>
<path stroke="#9838d9" d="M154.9 440.1h0M167.2 437.0h0M129.4 453.3h0M163.0 429.7h0M167.2 453.9h0M143.7 464.0h0M125.6 516.1h0M138.0 452.1h0M166.9 445.7h0M134.6 475.2h0M142.9 464.8h0"/>
<path stroke="#ec0387" d="M116.0 487.4h0M140.7 456.0h0M206.4 395.1h0M189.2 425.0h0M110.0 473.4h0M100.3 465.6h0M139.5 459.8h0M127.7 486.1h0M169.0 429.2h0M147.2 449.1h0M125.4 445.9h0M141.6 477.4h0M125.3 512.3h0M157.4 438.9h0M127.9 497.5h0M129.5 457.0h0M125.7 446.2h0M170.7 452.8h0M188.7 414.3h0M125.4 493.8h0M170.8 421.8h0M129.2 453.0h0M99.4 464.1h0M136.7 469.3h0M135.1 459.4h0M158.7 430.6h0M173.1 439.9h0M50.3 472.4h0M141.8 446.2h0M157.2 434.1h0M151.8 446.2h0M169.0 414.3h0M97.9 463.4h0M121.3 464.0h0M140.9 476.8h0M89.9 475.0h0M141.5 479.0h0M125.5 445.9h0"/>
<path stroke="#ff0056" d="M134.9 480.7h0M159.3 449.5h0M188.7 418.7h0M170.5 441.5h0M173.1 439.3h0M125.2 469.2h0M129.3 456.5h0M166.6 483.2h0M136.7 466.4h0M89.8 511.9h0M166.4 445.4h0M147.7 465.7h0M141.6 475.1h0M134.8 450.7h0M167.0 430.2h0M140.9 452.5h0M167.7 452.7h0M138.9 469.9h0M167.3 416.8h0M172.6 429.6h0M129.6 451.2h0M131.8 460.2h0M127.7 474.3h0M155.5 454.0h0M166.8 438.9h0M170.5 442.4h0M90.5 500.1h0M168.9 423.6h0M135.3 452.4h0M99.7 472.6h0M168.9 433.2h0M137.3 457.1h0M171.1 424.9h0M168.8 443.5h0M161.3 450.8h0M115.8 500.1h0M125.7 510.4h0M127.9 441.0h0M133.3 467.6h0M169.0 414.5h0M139.3 459.3h0M115.8 488.1h0M134.6 460.2h0M127.6 472.7h0M125.4 482.4h0"/>
<path stroke="#bc1fbf" d="M171.3 437.4h0M105.6 477.3h0M49.9 500.2h0M131.6 465.1h0M155.0 438.6h0M138.9 461.3h0M157.3 461.2h0M157.1 431.2h0M188.8 417.2h0M97.9 472.9h0M167.1 416.2h0M169.2 419.4h0M171.1 450.2h0M127.9 469.2h0M129.4 465.7h0M139.0 461.0h0M127.6 493.0h0M188.6 425.4h0M142.2 454.5h0M125.7 509.1h0M163.1 441.3h0M189.1 425.0h0"/>
<path stroke="#ff0060" d="M94.0 477.0h0M154.2 466.8h0M127.3 489.1h0M139.7 460.1h0M55.2 491.0h0M138.6 465.5h0M169.5 441.5h0M136.3 465.3h0M160.8 452.7h0M130.0 445.0h0M143.0 445.3h0M131.7 458.8h0M161.2 460.4h0M170.7 453.7h0M190.6 434.5h0M169.0 382.6h0M127.8 440.4h0M172.6 444.2h0M157.3 450.3h0M135.2 472.3h0M111.7 460.9h0M89.9 489.8h0M209.1 447.8h0M129.4 446.8h0M170.7 447.2h0M90.3 474.2h0M171.0 446.9h0M172.6 445.7h0M172.6 438.3h0M169.5 449.5h0M127.1 452.7h0M168.6 458.7h0"/>
<path stroke="#117afd" d="M164.9 426.3h0M188.5 427.3h0M165.7 421.8h0M118.5 470.2h0M157.0 440.3h0M164.9 441.4h0M168.7 426.0h0M89.6 482.7h0M145.6 456.9h0M89.6 472.8h0M162.6 452.2h0M105.6 485.5h0M149.4 443.1h0M158.9 436.5h0"/>
<path stroke="#2a72fb" d="M154.9 434.2h0M141.1 457.4h0M145.4 459.2h0M89.8 474.3h0M164.9 419.8h0M127.7 492.1h0M165.2 425.1h0M141.9 461.5h0M166.9 431.6h0M139.8 462.2h0M164.6 448.9h0M155.7 441.4h0M127.6 513.5h0"/>
<path stroke="#4c64f6" d="M140.2 466.2h0M149.0 466.6h0M149.0 453.2h0M135.3 458.0h0M166.9 436.9h0M156.8 448.9h0M149.2 454.5h0M89.8 480.8h0M135.2 457.6h0"/>
<path stroke="#057ffd" d="M145.6 468.1h0M166.0 400.2h0M153.4 442.0h0M146.7 436.3h0M127.2 492.7h0M153.2 447.0h0M151.1 453.4h0M145.5 470.9h0M151.2 442.5h0M149.7 467.5h0M164.9 433.2h0M149.1 462.4h0M164.7 425.5h0M145.3 457.0h0M127.7 493.4h0M152.9 462.1h0M188.9 415.5h0"/>
<path stroke="#ec0387" d="M129.6 451.1h0M115.7 461.4h0M118.9 475.9h0M143.5 461.8h0M94.2 471.4h0M171.0 440.3h0M125.4 515.6h0M127.4 491.8h0M111.6 475.7h0M90.0 457.4h0M133.2 476.3h0M50.7 473.2h0M143.4 443.1h0M129.7 481.0h0M155.6 454.2h0M172.9 436.3h0M129.5 463.9h0M159.3 435.2h0M171.0 445.0h0M161.5 466.8h0M167.0 458.2h0M127.5 433.8h0M139.1 469.5h0M159.0 432.6h0M50.6 468.8h0M131.3 451.7h0M125.3 497.3h0M111.5 475.9h0M190.6 439.4h0M170.8 429.5h0M127.3 500.1h0M171.1 421.4h0M129.6 436.9h0M97.6 465.3h0M129.5 466.0h0M50.1 478.3h0"/>
<path stroke="#da0aa0" d="M153.7 462.8h0M145.3 447.7h0M129.5 436.6h0M165.0 446.2h0M151.1 450.0h0M141.0 473.7h0M160.6 456.1h0M98.2 471.7h0M128.0 462.2h0M115.8 473.4h0M132.3 446.7h0M170.7 440.9h0M140.0 459.4h0M167.2 428.1h0M160.8 464.6h0M118.5 466.0h0M127.3 500.5h0M96.0 476.4h0M149.6 444.3h0M143.6 443.7h0M95.8 463.6h0M127.3 442.5h0M169.5 453.1h0M168.9 455.1h0M51.0 475.4h0M164.5 420.0h0M171.1 439.6h0M147.3 471.4h0M125.4 505.5h0"/>
<path stroke="#117afd" d="M165.4 404.7h0M165.8 410.9h0M149.2 454.8h0M142.8 455.8h0M89.3 479.3h0M164.9 419.5h0M89.5 462.3h0M165.7 399.8h0M127.7 490.3h0M89.5 473.1h0M188.9 425.1h0M177.7 417.8h0M156.9 443.1h0M140.9 464.0h0"/>
<path stroke="#9838d9" d="M137.7 465.6h0M145.6 450.7h0M142.1 453.5h0M142.1 463.0h0M153.3 454.0h0M145.0 451.1h0M158.8 450.6h0M136.6 472.8h0M135.1 466.0h0M169.2 418.8h0M137.9 465.4h0M109.9 473.5h0M171.0 394.7h0M127.4 469.8h0M164.9 440.8h0M167.1 440.3h0M134.5 466.8h0M131.8 452.5h0M189.6 447.0h0M167.0 434.4h0M145.0 470.7h0M129.6 440.6h0M150.0 477.7h0"/>
<path stroke="#f80071" d="M100.0 466.3h0M147.4 453.2h0M50.7 484.2h0M127.6 498.0h0M109.5 458.6h0M97.5 473.1h0M169.1 436.4h0M157.6 441.8h0M140.5 461.0h0M171.0 438.7h0M138.0 451.5h0M127.6 486.7h0M172.9 429.6h0M131.7 467.1h0M127.7 465.0h0M127.6 464.8h0M109.9 468.0h0M173.1 440.0h0M190.4 436.1h0M166.9 440.9h0M127.5 467.0h0M131.0 462.4h0M125.6 441.3h0M127.6 473.6h0M94.0 470.2h0M127.7 448.1h0M137.9 469.9h0M168.9 436.2h0M167.0 453.8h0M140.0 462.8h0M54.8 496.9h0M127.4 478.2h0M125.2 496.7h0M97.9 472.2h0M98.3 467.2h0M147.1 448.4h0M190.6 423.5h0M190.6 429.1h0M127.3 497.6h0M129.5 478.0h0M127.7 450.5h0"/>
<path stroke="#754fed" d="M166.7 454.0h0M169.2 435.2h0M149.2 448.3h0M188.5 430.1h0M175.2 407.9h0M188.5 432.2h0M145.0 449.7h0M129.3 477.4h0M166.6 416.3h0M167.1 451.1h0M141.2 458.8h0M162.9 434.1h0"/>
<path stroke="#bc1fbf" d="M169.4 418.5h0M127.7 463.5h0M129.6 483.6h0M143.1 479.5h0M138.1 453.7h0M171.0 447.0h0M125.6 450.5h0M166.4 460.8h0M190.9 432.1h0M143.3 474.9h0M50.4 496.9h0M139.3 466.6h0M135.6 466.5h0M121.6 465.1h0M132.9 456.3h0M167.2 413.7h0M171.2 447.7h0M167.5 459.5h0M126.1 444.7h0"/>
<path stroke="#ff0056" d="M50.9 497.8h0M137.6 450.1h0M90.1 467.2h0M147.4 476.9h0M147.2 469.3h0M126.0 442.0h0M94.1 475.6h0M168.7 435.1h0M125.8 447.3h0M137.0 458.1h0M167.0 442.2h0M127.3 476.1h0M167.2 452.6h0M96.1 475.3h0M98.0 467.0h0M168.7 387.8h0M170.9 434.9h0M168.9 412.8h0M125.2 508.4h0M128.0 468.2h0M127.1 446.3h0M151.6 461.2h0M90.1 511.7h0M166.8 450.2h0M151.0 454.0h0M131.1 461.6h0M129.5 465.7h0M136.8 465.4h0M129.7 480.9h0M125.5 441.2h0M98.0 465.3h0M129.7 478.4h0M147.4 470.9h0M159.1 442.4h0M125.5 459.7h0M151.1 452.2h0M140.8 476.8h0M163.0 433.0h0M142.9 469.2h0M169.2 424.1h0M118.1 454.3h0M170.9 425.6h0M121.6 465.0h0M132.5 470.4h0M159.0 476.9h0M132.7 475.2h0M133.3 450.6h0M110.0 473.5h0M142.1 443.6h0M89.9 512.9h0M169.0 440.7h0M130.4 462.2h0M188.5 434.6h0"/>
<path stroke="#ff0060" d="M129.5 455.6h0M129.8 442.9h0M190.7 423.4h0M129.4 448.3h0M90.2 484.2h0M131.0 463.3h0M169.1 446.0h0M171.1 452.2h0M151.1 452.7h0M136.0 448.9h0M129.3 473.6h0M133.1 472.2h0M125.4 502.8h0M207.4 426.8h0M127.6 465.1h0M127.6 464.6h0M133.6 475.9h0M127.6 499.0h0M166.9 415.1h0M170.4 426.6h0M143.1 464.8h0M131.2 454.4h0M167.1 458.7h0"/>
<path stroke="#117afd" d="M127.6 483.2h0M149.5 451.4h0M165.6 415.4h0M155.3 439.0h0M152.9 439.3h0M153.2 458.8h0M127.5 488.7h0M178.3 416.6h0M153.3 437.4h0M89.8 472.8h0M142.2 447.0h0M159.2 433.7h0M166.7 427.7h0M149.4 443.8h0M149.5 446.8h0M143.9 451.7h0M129.3 439.3h0M147.7 441.3h0M155.1 447.6h0"/>
<path stroke="#ff0060" d="M189.2 430.0h0M137.1 452.8h0M125.4 439.9h0M169.0 429.9h0M134.9 454.3h0M169.1 406.2h0M190.7 418.4h0M125.4 480.6h0M161.4 457.1h0M127.9 452.6h0M127.3 441.3h0M147.4 460.0h0M168.9 432.8h0M127.5 467.5h0M170.8 435.4h0M127.1 438.2h0M151.2 463.2h0M171.3 440.1h0M50.4 481.3h0M128.9 441.5h0M125.9 486.4h0M169.0 448.0h0M127.7 455.8h0M167.2 449.1h0"/>
<path stroke="#bc1fbf" d="M145.2 470.3h0M144.6 464.0h0M168.9 454.1h0M97.5 472.7h0M159.3 453.0h0M151.6 465.0h0M155.3 437.7h0M109.6 470.6h0M147.4 470.8h0M145.6 492.8h0M109.9 486.7h0M141.5 467.1h0M167.5 441.3h0M140.9 446.6h0M128.9 459.6h0M143.1 477.7h0M168.8 450.2h0M162.6 430.8h0M169.1 439.1h0M169.3 452.1h0M162.7 433.4h0M188.4 434.0h0M133.0 471.2h0M131.0 454.2h0"/>
<path stroke="#ff0056" d="M167.3 425.0h0M151.1 460.7h0M172.9 440.4h0M169.6 456.0h0M141.3 479.2h0M169.3 423.8h0M167.3 449.0h0M115.7 474.8h0M128.1 501.9h0M115.7 460.9h0M125.7 515.2h0M165.3 416.8h0M127.7 496.0h0M100.0 477.7h0M171.5 472.9h0M129.6 444.1h0M166.8 452.9h0M143.6 456.6h0M166.5 452.3h0M129.1 443.7h0M129.5 453.3h0M127.2 485.7h0M168.5 439.2h0M188.8 423.0h0M143.5 458.0h0M127.7 472.0h0M130.7 462.5h0M133.7 464.7h0M115.4 457.5h0M99.7 468.8h0M155.6 457.9h0M163.3 437.8h0M169.0 418.3h0M167.0 437.5h0M125.7 452.9h0M171.2 443.7h0M89.8 499.2h0M169.1 419.4h0M129.4 435.6h0"/>
<path stroke="#9838d9" d="M149.4 451.2h0M167.4 420.9h0M139.0 458.0h0M164.9 454.6h0M167.0 460.6h0M168.8 426.3h0M121.7 468.5h0M189.5 451.8h0M115.3 500.7h0M93.8 473.3h0M147.0 475.8h0M125.7 510.7h0M127.7 477.5h0M151.1 456.1h0M135.6 455.2h0M134.7 461.7h0M132.7 474.1h0M149.3 461.3h0M167.2 452.0h0M150.8 467.5h0M143.2 478.6h0"/>
<path stroke="#2a72fb" d="M159.4 442.8h0M166.1 409.6h0M128.1 514.5h0M167.3 447.4h0M131.5 451.7h0M168.9 424.3h0M165.5 433.3h0M155.5 437.8h0M146.8 445.9h0M146.4 446.2h0M127.5 505.2h0M149.2 448.4h0"/>
<path stroke="#f80071" d="M54.8 503.1h0M169.2 424.6h0M153.1 457.8h0M168.7 448.8h0M140.6 467.0h0M118.7 453.4h0M168.7 397.5h0M189.8 452.4h0M118.4 479.3h0M143.6 454.9h0M151.7 447.4h0M151.0 464.4h0M109.9 469.7h0M131.6 456.6h0M133.1 470.9h0M169.0 442.2h0M171.4 438.4h0M127.9 460.8h0M190.6 418.2h0M142.1 468.6h0M168.2 447.7h0M132.3 454.8h0M125.7 512.3h0M127.4 479.9h0M149.1 462.3h0M112.1 461.7h0M169.0 423.2h0M127.4 446.4h0M156.5 495.5h0M125.8 483.0h0M127.3 489.9h0M125.7 492.8h0M169.4 451.1h0M96.2 469.7h0M130.0 472.8h0M167.2 426.3h0M111.7 466.0h0M129.6 464.4h0"/>
<path stroke="#4c64f6" d="M138.1 458.5h0M129.3 435.3h0M127.8 514.1h0M143.4 454.1h0M144.8 450.2h0M163.0 451.1h0M176.4 414.1h0M142.9 449.0h0M148.9 454.6h0M151.2 432.5h0M157.0 433.7h0M145.4 456.3h0M147.4 448.3h0M149.2 447.6h0M133.3 465.2h0"/>
<path stroke="#057ffd" d="M165.0 418.4h0M164.9 450.5h0M165.6 413.1h0M157.3 458.9h0M165.0 434.1h0M144.1 449.3h0M147.0 447.1h0M155.0 457.0h0M157.3 455.0h0M147.5 442.8h0M151.0 456.0h0"/>
<path stroke="#ec0387" d="M50.4 486.6h0M173.3 443.5h0M139.9 455.3h0M125.5 464.2h0M168.8 451.0h0M188.7 436.1h0M142.8 472.5h0M188.6 393.9h0M150.1 480.6h0M149.4 447.5h0M127.7 447.5h0M168.5 417.6h0M143.3 459.0h0M55.2 503.9h0M168.9 412.2h0M89.6 503.4h0M165.1 420.9h0M190.6 417.1h0M96.2 472.9h0M133.5 466.2h0M169.2 441.1h0M140.6 454.2h0M137.7 453.6h0M189.0 418.1h0M166.8 440.7h0M159.3 450.3h0M190.1 434.3h0M55.6 491.0h0M96.0 472.7h0M127.5 469.9h0M168.9 424.2h0M90.5 484.7h0M138.3 468.3h0M90.0 458.4h0M209.2 447.9h0M127.8 461.2h0M90.0 507.5h0M90.1 469.3h0M151.4 444.9h0M90.0 482.0h0M161.2 456.6h0M127.7 479.7h0"/>
<path stroke="#754fed" d="M163.0 441.9h0M115.6 498.2h0M143.1 457.5h0M147.2 463.7h0M143.7 454.4h0M145.3 448.7h0M167.2 450.3h0M164.9 431.1h0M115.5 456.7h0M129.6 461.6h0M156.8 444.7h0"/>
<path stroke="#da0aa0" d="M135.0 467.5h0M90.0 499.9h0M149.7 477.2h0M50.6 476.7h0M127.8 436.9h0M129.5 463.2h0M127.6 487.0h0M133.9 475.3h0M55.4 490.1h0M129.1 483.7h0M189.1 397.4h0M143.4 469.9h0M142.0 448.3h0M93.9 486.2h0M128.0 434.6h0M125.7 480.8h0M188.5 434.2h0M90.2 481.1h0M109.6 460.1h0M169.0 446.9h0M125.8 446.0h0M159.0 430.0h0M118.7 462.7h0M167.1 426.5h0M93.9 470.4h0M90.0 458.3h0M157.2 429.5h0M170.9 447.6h0M137.6 451.9h0M171.2 431.2h0M169.1 444.1h0M127.5 502.0h0M127.4 493.5h0"/>
<path stroke="#ec0387" d="M170.7 421.7h0M165.3 436.6h0M127.7 448.8h0M147.2 460.1h0M150.1 483.2h0M125.5 499.5h0M155.4 451.4h0M129.5 445.7h0M127.6 498.6h0M169.2 429.3h0M127.4 453.4h0M127.5 435.1h0M129.7 435.0h0M190.6 429.2h0M168.8 457.3h0M98.0 465.8h0M135.2 469.5h0M143.3 446.4h0M89.8 497.0h0M125.6 508.6h0M135.2 466.3h0M93.2 463.9h0M143.1 479.8h0M127.5 437.3h0M157.0 455.1h0M125.4 472.3h0M173.1 434.9h0M127.7 501.9h0M169.1 422.3h0M125.4 503.2h0M169.1 451.8h0"/>
<path stroke="#2a72fb" d="M166.1 412.7h0M127.2 490.3h0M127.8 488.7h0M89.4 456.7h0M145.2 448.2h0M89.9 470.4h0M118.9 458.0h0M149.5 455.0h0M155.3 464.2h0M127.4 502.1h0"/>
<path stroke="#9838d9" d="M189.2 411.7h0M189.5 446.9h0M156.9 440.0h0M149.9 495.7h0M164.9 447.1h0M129.4 451.1h0M163.7 443.9h0M125.7 460.3h0M154.6 457.3h0M125.2 474.5h0M151.2 456.0h0M153.0 457.6h0"/>
<path stroke="#754fed" d="M164.9 425.1h0M106.0 473.9h0M118.5 458.7h0M125.7 485.6h0M153.4 446.5h0M155.3 449.1h0M138.8 462.0h0M149.7 497.3h0M147.2 461.2h0M159.0 434.5h0M145.9 450.4h0M164.9 413.2h0"/>
<path stroke="#f80071" d="M157.1 459.5h0M161.2 466.5h0M94.1 475.6h0M131.7 463.9h0M54.9 494.7h0M125.8 473.9h0M129.6 484.8h0M125.6 490.4h0M93.4 469.9h0M139.9 459.1h0M90.1 496.9h0M98.0 464.8h0M89.7 501.9h0M132.7 464.8h0M127.2 479.8h0M167.4 458.6h0M134.7 464.9h0M50.3 469.0h0M161.1 458.2h0M169.1 413.2h0M171.0 434.5h0M94.6 469.1h0M129.6 474.9h0M167.0 413.7h0M190.6 439.3h0M138.0 451.7h0M155.2 452.6h0M129.2 479.5h0M190.5 435.3h0M172.7 444.3h0M135.4 452.1h0M173.0 435.8h0M95.9 469.6h0M50.5 496.5h0M150.8 457.2h0M190.8 429.9h0M167.0 419.3h0"/>
<path stroke="#117afd" d="M90.2 480.4h0M127.5 500.2h0M164.5 413.2h0M172.2 397.9h0M166.2 427.9h0M125.2 453.3h0M153.3 460.9h0M105.6 464.0h0"/>
<path stroke="#da0aa0" d="M129.2 454.6h0M127.5 448.8h0M164.7 451.8h0M169.3 429.9h0M170.7 431.6h0M168.9 449.4h0M155.0 463.7h0M188.7 387.5h0M167.3 439.9h0M89.5 477.1h0M168.9 458.7h0M149.4 450.4h0M171.0 435.4h0M169.1 403.8h0M147.5 463.4h0M130.2 469.7h0M190.8 431.5h0M129.6 484.4h0M150.3 491.6h0M118.6 464.0h0M169.0 396.7h0M137.7 464.4h0M105.8 481.8h0M170.8 444.4h0M147.4 446.9h0M171.3 434.3h0M142.7 451.1h0M170.8 448.4h0M127.5 448.7h0M129.4 475.9h0M99.6 467.3h0M127.9 440.5h0M135.0 465.1h0M127.6 434.2h0"/>
<path stroke="#4c64f6" d="M156.9 455.0h0M127.3 494.6h0M149.5 457.8h0M188.5 379.2h0M155.3 459.5h0M188.5 428.6h0M165.3 425.1h0M140.9 451.8h0M134.3 446.1h0M188.5 419.1h0M163.2 444.7h0M145.5 466.5h0M151.4 435.2h0"/>
<path stroke="#ff0056" d="M147.2 458.6h0M134.4 449.9h0M89.8 490.7h0M138.8 463.3h0M133.9 455.5h0M143.3 450.1h0M158.8 455.3h0M133.8 465.7h0M127.6 438.8h0M169.5 433.6h0M90.0 494.1h0M190.6 441.7h0M134.8 468.1h0M167.4 440.9h0M94.1 478.3h0M164.8 454.4h0M115.5 492.2h0M90.2 473.4h0M90.0 505.4h0M140.9 467.5h0M133.7 467.8h0M136.8 450.4h0M172.9 431.8h0M141.1 457.2h0M129.8 444.1h0M166.8 452.1h0M133.4 463.2h0M171.4 439.5h0M168.9 428.9h0M151.0 460.6h0M138.4 467.7h0M136.0 493.2h0M139.8 455.9h0M170.9 427.0h0M95.8 469.7h0M164.9 441.7h0M191.1 441.6h0M134.1 454.8h0M172.7 489.8h0M125.8 501.1h0M89.9 484.8h0M167.1 433.3h0M133.6 448.3h0M94.0 484.3h0M170.7 429.7h0"/>
<path stroke="#bc1fbf" d="M147.4 449.2h0M129.7 477.9h0M166.6 437.5h0M165.3 442.0h0M165.1 442.3h0M109.6 485.7h0M127.8 466.4h0M125.3 504.7h0M167.1 463.4h0M167.2 424.4h0M145.6 467.5h0M135.5 473.2h0M127.4 459.9h0M50.4 493.4h0M142.4 468.7h0M127.3 455.2h0M127.9 452.0h0M127.6 500.9h0M169.4 433.3h0M132.8 468.8h0M140.7 470.1h0M127.5 453.0h0M147.4 453.0h0M153.5 452.0h0M168.9 425.7h0M125.6 444.2h0M157.1 430.6h0M127.4 462.1h0M169.3 444.3h0M156.9 456.2h0"/>
<path stroke="#ff0060" d="M125.4 476.7h0M142.7 461.3h0M89.6 514.0h0M51.3 494.0h0M97.9 464.8h0M143.3 466.4h0M111.7 474.9h0M134.7 447.0h0M50.4 478.4h0M139.2 452.6h0M97.6 472.5h0M170.8 425.5h0M125.2 441.0h0M129.7 434.4h0M89.7 496.5h0M90.4 489.2h0M129.5 477.3h0M90.0 469.2h0M90.1 494.9h0M125.4 483.3h0M169.3 419.8h0M167.4 479.0h0M90.1 478.0h0M168.8 382.8h0M163.2 439.1h0M189.0 422.1h0M100.0 467.3h0M97.9 476.4h0M139.6 466.2h0M169.1 449.7h0M93.8 475.3h0M99.8 462.4h0M51.0 472.1h0M127.3 436.2h0M111.6 466.9h0"/>
<path stroke="#057ffd" d="M157.2 446.7h0M167.2 432.3h0M127.6 496.5h0M151.7 446.7h0M165.0 426.5h0M89.6 455.0h0M89.6 455.5h0M89.3 484.6h0M149.2 451.9h0M145.2 460.8h0M89.6 463.7h0M90.0 469.3h0M127.7 498.9h0M172.8 405.3h0M89.6 468.9h0M165.0 414.3h0M159.5 429.5h0M127.6 499.4h0M149.5 450.1h0M127.4 482.3h0M105.7 466.4h0M149.8 445.1h0"/>
<path stroke="#bc1fbf" d="M130.6 453.7h0M90.1 457.4h0M129.5 471.0h0M189.1 417.1h0M162.8 435.4h0M135.3 456.4h0M153.0 447.3h0M128.1 434.9h0M131.6 471.7h0M129.3 450.0h0M118.3 474.2h0M89.8 491.7h0M167.2 431.4h0M169.0 417.9h0M127.1 503.5h0M168.9 434.9h0M115.7 468.8h0M137.4 469.4h0M129.6 434.4h0M115.1 499.2h0M125.5 502.7h0M89.9 457.4h0M125.8 507.4h0M141.5 465.8h0M151.1 448.8h0M129.0 457.2h0M207.6 421.7h0"/>
<path stroke="#ff0060" d="M110.1 485.0h0M170.4 426.5h0M207.8 424.9h0M95.7 462.3h0M127.5 497.5h0M121.1 456.4h0M89.8 510.8h0M172.7 444.5h0M129.5 448.5h0M168.9 410.4h0M127.7 464.1h0M121.5 460.0h0M115.9 488.7h0M147.2 451.2h0M171.2 439.9h0M141.8 450.0h0M147.4 458.8h0M127.4 458.4h0M89.9 479.2h0M172.5 471.6h0M50.7 490.6h0M155.2 463.7h0M125.7 452.6h0M129.7 460.3h0M157.5 450.7h0M135.4 472.0h0M170.8 439.5h0M125.5 478.0h0"/>
<path stroke="#754fed" d="M115.7 485.1h0M168.9 446.4h0M165.2 413.2h0M143.4 449.0h0M115.6 484.9h0M167.1 436.8h0M168.7 411.1h0M127.5 435.0h0M151.3 443.6h0M165.6 405.5h0M129.5 435.6h0M188.7 423.6h0"/>
<path stroke="#da0aa0" d="M97.9 477.2h0M127.0 481.1h0M154.9 452.4h0M167.3 446.7h0M127.4 467.1h0M169.0 415.6h0M129.6 474.4h0M191.0 440.8h0M167.0 414.0h0M149.0 455.5h0M129.5 476.9h0M148.7 460.3h0M165.4 437.6h0M131.4 464.4h0M164.7 436.1h0M90.0 476.8h0M165.5 414.0h0M125.7 493.3h0M139.1 469.2h0M145.3 483.2h0M153.0 463.9h0M169.0 446.3h0M169.1 421.2h0M125.1 493.8h0M132.7 472.0h0M133.1 462.2h0M189.0 418.1h0M134.0 458.5h0M169.5 458.9h0M167.4 438.0h0M169.4 418.2h0M140.0 449.5h0M171.0 438.4h0M125.7 459.3h0M153.0 448.5h0M165.4 427.6h0M136.7 460.4h0M135.5 465.2h0"/>
<path stroke="#2a72fb" d="M145.2 454.3h0M134.0 476.9h0M142.0 457.6h0M157.1 460.3h0M167.1 408.8h0M151.2 436.8h0M129.2 482.8h0M89.6 479.4h0M189.0 433.1h0M159.2 431.2h0M166.2 431.6h0M129.5 476.2h0M149.1 466.7h0M133.6 475.0h0M153.2 458.6h0M164.9 429.7h0M165.3 433.5h0M141.7 457.0h0M89.4 479.4h0M127.8 503.8h0"/>
<path stroke="#ff0056" d="M90.0 466.5h0M188.7 418.8h0M125.7 498.4h0M169.2 416.6h0M168.9 412.6h0M163.4 434.6h0M167.1 438.5h0M166.6 423.4h0M127.6 457.6h0M143.5 478.5h0M190.9 441.7h0M127.4 497.9h0M93.7 464.5h0M169.1 412.9h0M128.0 477.7h0M129.8 456.7h0M129.8 471.6h0M170.8 451.3h0M95.8 473.2h0M164.9 426.4h0M169.2 432.5h0M127.5 502.2h0M127.7 460.0h0M127.4 480.3h0M189.1 413.1h0M109.4 487.0h0M89.9 500.9h0M126.9 486.8h0M169.0 413.3h0M155.2 448.3h0M141.5 446.1h0M166.9 442.1h0M129.8 434.1h0M169.4 450.0h0M121.6 464.7h0M131.9 460.2h0M129.7 468.9h0M173.0 438.1h0M135.9 471.3h0M173.3 433.1h0M127.9 488.1h0M129.6 475.1h0M125.7 441.8h0M126.0 480.6h0"/>
<path stroke="#ec0387" d="M95.7 469.8h0M165.4 425.5h0M159.2 426.8h0M137.6 462.7h0M168.6 400.2h0M188.4 412.3h0M163.5 438.7h0M111.7 477.3h0M125.6 441.4h0M167.1 436.3h0M127.7 490.4h0M89.5 494.7h0M169.0 445.0h0M168.6 448.4h0M140.7 476.8h0M50.4 483.4h0M139.2 468.5h0M50.5 473.1h0M125.4 456.2h0M162.7 458.1h0M189.0 425.9h0M166.7 436.1h0M170.9 432.8h0M131.4 455.8h0M167.0 431.8h0M169.0 388.3h0M125.5 484.8h0M190.7 416.8h0M207.5 436.1h0M135.7 461.3h0M129.7 448.4h0"/>
<path stroke="#f80071" d="M109.8 474.7h0M50.4 498.6h0M89.8 490.8h0M188.7 411.3h0M152.9 470.7h0M162.8 449.6h0M135.7 454.6h0M95.9 464.1h0M167.1 462.2h0M54.8 503.6h0M125.8 514.8h0M125.9 455.5h0M171.1 447.2h0M169.3 432.8h0M127.6 451.1h0M127.6 498.0h0M189.0 420.7h0M95.7 461.9h0M170.7 446.2h0M169.0 427.8h0M127.7 473.3h0M207.4 429.0h0M125.9 482.9h0M141.6 479.0h0M149.1 456.0h0M143.2 492.0h0M125.4 446.9h0M90.0 495.1h0M89.9 487.1h0M127.9 471.6h0M151.2 444.3h0M188.6 422.5h0M168.6 432.3h0M97.5 477.4h0M161.0 451.5h0M188.6 433.5h0M169.1 405.3h0M164.9 441.6h0M165.0 424.5h0M115.4 497.8h0M98.0 470.5h0M143.3 466.6h0M129.5 441.1h0M127.9 452.7h0M99.8 461.5h0M125.6 510.2h0M90.3 500.8h0M125.5 507.7h0"/>
<path stroke="#057ffd" d="M89.3 481.4h0M167.8 418.5h0M127.2 502.3h0M159.1 433.0h0M145.7 443.9h0M155.4 460.2h0M152.8 441.5h0M165.2 454.4h0M165.5 422.6h0M158.8 448.6h0"/>
<path stroke="#9838d9" d="M168.8 442.7h0M50.5 482.0h0M135.7 466.2h0M125.8 445.7h0M129.6 437.8h0M90.2 500.0h0M167.1 449.3h0M89.8 510.4h0M136.7 472.9h0"/>
<path stroke="#4c64f6" d="M166.6 422.8h0M165.2 423.6h0M145.3 454.0h0M167.2 429.3h0M125.9 475.6h0M145.2 471.7h0M153.3 449.6h0M163.3 447.8h0M169.2 452.1h0M129.7 469.5h0M153.1 448.1h0"/>
<path stroke="#117afd" d="M145.0 449.5h0M149.3 458.1h0M127.5 502.2h0M171.6 396.1h0M166.1 428.4h0M157.7 444.7h0M166.1 428.0h0M145.3 447.4h0M151.6 447.9h0M127.6 490.7h0M145.2 457.9h0"/>
<path stroke="#ec0387" d="M167.3 459.7h0M190.5 426.1h0M167.4 435.3h0M125.4 487.0h0M50.4 481.7h0M50.3 496.8h0M169.3 458.6h0M90.2 485.2h0M139.0 456.3h0M161.6 456.1h0M188.4 434.9h0M137.1 459.2h0M127.3 478.4h0M90.1 470.8h0M125.5 444.8h0M90.0 478.2h0M129.3 467.9h0M127.2 462.6h0M139.8 459.3h0M125.2 442.1h0M166.8 462.9h0M161.2 463.7h0M50.5 499.3h0M163.5 452.8h0M153.1 463.3h0M162.9 443.3h0M151.0 448.5h0M127.4 445.9h0M127.8 448.5h0M163.0 437.2h0M125.5 469.7h0"/>
<path stroke="#9838d9" d="M118.9 453.6h0M149.3 467.5h0M159.0 440.6h0M140.1 462.6h0M163.4 434.2h0M139.5 464.5h0M149.4 466.9h0M129.7 450.2h0M164.7 435.2h0M149.6 461.2h0M153.1 462.5h0M188.9 437.3h0M138.0 464.7h0M130.8 470.9h0M145.3 446.7h0M140.1 457.5h0M153.2 440.6h0M145.5 456.0h0M151.3 450.6h0M143.6 462.2h0M115.9 497.2h0"/>
<path stroke="#754fed" d="M131.8 471.7h0M155.2 434.7h0M144.7 451.8h0M147.0 459.5h0M137.6 469.8h0M159.2 436.7h0M165.1 418.5h0M139.7 464.8h0M137.3 452.2h0M149.7 437.5h0M151.0 451.8h0M164.8 421.0h0M129.8 463.2h0M90.2 506.5h0M141.4 466.2h0M125.3 480.0h0"/>
<path stroke="#bc1fbf" d="M129.6 451.0h0M125.4 451.4h0M143.1 455.8h0M163.1 454.2h0M134.7 451.4h0M168.8 456.9h0M188.7 379.0h0M139.3 467.0h0M147.3 462.2h0M109.8 467.1h0M169.0 441.2h0M94.0 477.6h0M152.7 442.6h0M125.8 444.8h0M173.2 441.7h0M136.7 480.5h0M129.5 435.2h0M121.7 457.7h0M168.5 451.9h0M166.8 416.7h0M140.3 460.6h0M153.6 442.4h0"/>
<path stroke="#f80071" d="M121.4 475.5h0M115.9 499.0h0M127.9 448.7h0M147.2 449.8h0M168.8 446.4h0M170.7 436.6h0M157.0 445.1h0M115.9 468.8h0M166.8 429.8h0M129.8 452.1h0M96.2 464.2h0M127.3 494.2h0M169.6 476.9h0M129.7 435.0h0M139.4 464.0h0M127.4 490.5h0M168.9 413.1h0M89.8 495.2h0M171.3 451.8h0M96.0 471.3h0M141.5 456.7h0M110.0 469.5h0M127.5 445.7h0M90.5 460.4h0M109.9 487.6h0M167.2 423.2h0M115.0 458.9h0M90.0 478.5h0M131.2 467.9h0M90.2 459.3h0M162.9 444.0h0M140.4 472.0h0M50.7 493.2h0M140.6 452.9h0M50.4 475.3h0M135.0 479.8h0M166.7 429.7h0M189.5 450.4h0M138.8 457.8h0M167.1 462.4h0M155.8 491.7h0M127.7 438.4h0"/>
<path stroke="#2a72fb" d="M164.9 434.9h0M157.5 433.9h0M131.7 457.5h0M89.8 462.9h0M149.3 455.3h0M127.9 507.2h0M154.9 444.9h0M151.1 464.5h0M162.8 454.3h0M167.1 454.2h0M151.3 456.3h0M146.2 449.5h0"/>
<path stroke="#4c64f6" d="M157.1 433.0h0M145.0 459.2h0M155.6 441.8h0M118.6 460.6h0M188.2 395.3h0M149.1 462.5h0M129.6 470.6h0M133.3 470.4h0M137.5 470.2h0M159.0 438.3h0M153.4 450.2h0"/>
<path stroke="#117afd" d="M148.4 445.2h0M89.5 483.1h0M89.7 473.1h0M145.3 456.3h0M127.4 482.3h0M165.6 418.7h0M140.0 456.6h0"/>
<path stroke="#057ffd" d="M165.0 430.5h0M165.1 440.2h0M127.6 491.0h0M153.4 443.3h0M188.8 423.0h0M147.4 477.3h0M149.1 445.0h0M89.4 481.3h0M149.4 459.7h0M149.1 445.5h0M163.3 443.5h0M155.0 451.3h0M156.9 452.9h0"/>
<path stroke="#ff0056" d="M153.5 463.1h0M134.7 476.0h0M132.8 451.0h0M138.4 463.1h0M147.1 458.4h0M169.5 455.5h0M127.4 499.1h0M169.3 451.8h0M159.1 447.2h0M129.6 470.6h0M127.2 496.5h0M127.3 440.0h0M109.5 486.3h0M189.8 446.6h0M190.9 428.5h0M143.3 452.9h0M93.8 471.2h0M129.4 436.5h0M127.7 502.9h0M99.9 477.3h0M166.8 422.1h0M133.4 466.4h0M169.1 417.5h0M173.3 444.6h0M109.5 467.5h0M159.2 429.8h0M127.8 446.6h0M127.1 488.9h0M171.1 426.7h0M166.9 460.2h0M125.7 452.8h0M151.4 452.8h0M141.3 474.2h0M154.8 457.7h0M134.8 452.2h0M141.8 475.5h0M169.2 432.4h0"/>
<path stroke="#da0aa0" d="M131.8 469.6h0M121.7 455.0h0M127.3 449.8h0M125.6 509.4h0M127.4 460.5h0M167.3 448.3h0M161.5 463.7h0M127.2 502.7h0M127.4 488.4h0M149.9 486.6h0M159.3 453.5h0M168.9 456.5h0M137.1 447.7h0M188.8 437.5h0M127.5 470.3h0M129.2 472.0h0M131.7 460.4h0M99.7 469.7h0M189.1 400.5h0M167.0 445.5h0M169.3 424.2h0M155.5 433.8h0M50.7 496.2h0M163.3 452.9h0M127.7 445.9h0M149.9 480.8h0M55.2 496.9h0M157.1 460.6h0M99.6 472.5h0M127.6 488.7h0M167.1 430.2h0M137.9 466.3h0M127.5 457.9h0"/>
<path stroke="#ff0060" d="M173.0 430.8h0M168.9 424.1h0M125.3 448.3h0M90.4 460.3h0M90.0 462.8h0M168.7 439.8h0M90.0 472.8h0M142.0 457.7h0M131.0 466.3h0M126.0 443.7h0M115.8 471.8h0M167.0 423.1h0M170.8 432.5h0M127.7 446.4h0M207.3 428.5h0M191.1 439.4h0M164.9 429.8h0M127.8 480.4h0M162.7 445.2h0M96.1 465.8h0M136.0 478.3h0M105.8 467.0h0M138.3 451.7h0M169.3 388.3h0M168.8 428.8h0M169.1 441.0h0M129.0 459.5h0M50.6 496.2h0M127.3 439.9h0M147.0 473.3h0M129.4 477.6h0M143.1 480.5h0M171.1 435.3h0M168.7 396.7h0M125.6 483.6h0M135.3 464.9h0M129.6 481.7h0M169.2 432.1h0M139.6 465.6h0M97.4 462.2h0M127.9 504.7h0M89.9 503.2h0M143.2 480.4h0M171.0 452.4h0"/>
<path stroke="#057ffd" d="M160.0 446.2h0M127.2 498.5h0M158.8 440.0h0M152.8 452.7h0M158.8 431.9h0M89.9 461.3h0M166.9 412.9h0M89.1 477.2h0M89.8 469.7h0M167.0 399.9h0M164.9 432.2h0M153.1 438.0h0M157.0 441.8h0M145.1 449.3h0M149.1 448.0h0M153.0 441.0h0M166.3 417.7h0"/>
<path stroke="#ec0387" d="M171.5 444.4h0M169.1 416.3h0M129.6 435.7h0M127.3 460.4h0M171.3 440.4h0M50.7 470.6h0M50.2 497.4h0M161.3 451.8h0M95.9 470.7h0M135.9 470.3h0M170.7 438.2h0M169.0 447.9h0M206.8 398.7h0M168.8 439.1h0M188.7 410.3h0M129.5 455.1h0M99.6 464.4h0M54.7 493.0h0M98.1 471.8h0M173.3 430.5h0M167.1 433.7h0M168.8 388.9h0M129.6 467.9h0M127.1 503.5h0M118.9 470.4h0M127.9 442.3h0M105.8 469.1h0M167.1 438.5h0M131.1 470.9h0M127.5 439.9h0M131.7 461.2h0M129.8 453.0h0M170.7 445.4h0"/>
<path stroke="#117afd" d="M155.2 449.5h0M89.8 466.0h0M174.6 404.3h0M166.5 422.0h0M89.6 480.4h0M165.6 423.2h0M145.4 454.6h0M89.5 475.1h0M127.4 506.1h0M89.2 476.9h0"/>
<path stroke="#bc1fbf" d="M170.8 445.7h0M188.3 420.7h0M147.2 451.0h0M145.4 450.2h0M130.8 460.6h0M129.6 466.5h0M138.8 467.7h0M127.0 473.7h0M153.2 438.1h0M155.6 462.1h0M169.5 411.8h0M145.0 449.0h0M116.4 470.1h0M106.2 476.4h0M149.1 461.9h0M167.1 427.8h0M168.9 441.6h0M157.2 434.4h0M162.7 448.2h0M149.0 483.9h0M137.6 452.0h0M151.3 465.8h0M125.3 444.3h0M132.9 466.1h0M145.7 460.4h0M168.5 449.8h0M137.7 469.4h0M167.0 434.3h0M125.6 464.8h0M50.0 478.6h0M143.4 470.9h0"/>
<path stroke="#f80071" d="M133.3 450.0h0M165.5 429.3h0M121.2 466.6h0M169.2 459.1h0M55.0 499.0h0M167.1 456.3h0M121.6 474.7h0M94.2 467.0h0M50.6 483.6h0M99.5 467.5h0M170.7 432.5h0M170.9 429.6h0M90.2 509.5h0M188.2 427.5h0M55.0 505.2h0M166.9 446.5h0M133.7 469.8h0M172.6 438.2h0M127.5 443.6h0M133.2 461.5h0M125.7 447.3h0M143.8 447.9h0M173.2 430.4h0M171.0 452.2h0M93.8 476.2h0M133.8 460.0h0M171.2 443.2h0M50.3 500.9h0M165.3 497.3h0M125.5 493.3h0M106.1 484.4h0M54.9 496.0h0M139.5 463.7h0M167.0 449.5h0M118.6 456.7h0M170.5 424.0h0M169.0 450.2h0"/>
<path stroke="#da0aa0" d="M127.9 437.7h0M136.2 468.8h0M129.7 474.0h0M169.1 458.4h0M171.1 451.6h0M94.3 471.1h0M138.0 459.8h0M129.7 481.9h0M50.6 472.8h0M173.3 434.3h0M165.4 426.4h0M157.1 441.8h0M159.1 432.8h0M190.9 416.8h0M151.1 457.4h0M151.2 453.7h0M129.8 450.6h0M147.2 462.5h0M140.1 466.2h0M125.8 481.5h0M125.9 496.0h0M129.7 470.0h0M138.9 455.8h0M128.1 473.4h0M161.0 462.6h0M164.7 432.6h0"/>
<path stroke="#754fed" d="M167.0 439.9h0M145.2 451.0h0M169.0 444.8h0M175.8 413.9h0M159.0 431.4h0M142.4 453.4h0M127.5 496.3h0M166.7 405.7h0M158.9 455.9h0M156.9 447.9h0M169.3 412.8h0M165.2 453.1h0M133.4 452.5h0M149.3 456.0h0M165.4 423.4h0M146.9 469.0h0M157.1 431.2h0M145.3 447.9h0"/>
<path stroke="#ff0060" d="M95.8 462.3h0M115.5 493.8h0M191.0 439.1h0M127.9 501.7h0M170.9 453.9h0M172.4 445.7h0M93.7 468.4h0M127.3 459.4h0M170.6 446.4h0M166.5 448.3h0M50.6 469.0h0M127.9 450.4h0M169.3 419.3h0M99.8 469.6h0M153.3 449.6h0M135.1 477.4h0M90.4 460.7h0M207.4 427.5h0M125.8 479.1h0M99.9 476.6h0M95.6 461.7h0M167.3 436.9h0M168.6 406.5h0M125.6 490.8h0M147.0 453.7h0M109.6 465.5h0M136.8 470.4h0M89.6 464.7h0M191.1 430.2h0M115.9 485.1h0M132.8 472.0h0M131.4 468.3h0M139.5 459.0h0M209.2 441.5h0M125.3 480.0h0M161.0 497.5h0M147.1 466.4h0M136.0 450.1h0M90.0 462.1h0M90.1 468.2h0"/>
<path stroke="#4c64f6" d="M125.1 474.8h0M167.0 450.1h0M147.9 436.5h0M189.2 424.1h0M174.0 404.1h0M166.9 440.7h0M141.7 471.4h0M168.1 429.7h0M153.4 451.0h0M140.3 456.6h0"/>
<path stroke="#2a72fb" d="M131.9 468.6h0M165.0 423.3h0M164.7 441.3h0M144.6 449.4h0M149.3 464.7h0M166.2 419.7h0M153.1 466.2h0"/>
<path stroke="#9838d9" d="M129.3 467.6h0M163.0 455.4h0M94.3 483.4h0M121.3 455.9h0M127.5 447.1h0M149.3 453.9h0M147.2 462.9h0M166.7 433.8h0M129.8 440.5h0M148.9 449.0h0M126.0 446.4h0M130.6 456.3h0M168.9 444.1h0M139.8 461.6h0"/>
<path stroke="#ff0056" d="M115.2 481.4h0M161.1 453.4h0M162.8 447.7h0M167.1 431.8h0M90.2 455.3h0M166.8 426.6h0M155.7 435.9h0M167.2 456.3h0M155.5 453.4h0M165.0 422.1h0M90.3 487.9h0M147.3 471.4h0M165.1 434.5h0M131.8 453.9h0M134.7 461.9h0M127.5 440.9h0M94.1 470.4h0M168.8 447.7h0M163.6 433.9h0M169.4 416.1h0M169.1 426.3h0M129.4 460.5h0M167.0 454.4h0M99.7 471.1h0M111.4 471.9h0M125.3 440.9h0M130.5 471.2h0M164.9 443.9h0M96.3 476.9h0M136.1 464.8h0M129.4 461.5h0M99.8 470.3h0M125.6 496.9h0M155.7 472.7h0M167.1 426.4h0M188.5 416.8h0M127.4 490.5h0M127.6 453.2h0M110.1 457.7h0M130.6 472.2h0M127.6 452.9h0M171.1 434.4h0M137.3 454.3h0M137.3 453.8h0M139.2 470.4h0M125.6 470.9h0"/>
</g>
<path d="M42.5 371.5V522.5H216.5" stroke="#5a5a5a" stroke-width="1" fill="none"/>
<path d="M50.5 522.5v3M70.2 522.5v3M90.0 522.5v3M109.8 522.5v3M129.5 522.5v3M149.2 522.5v3M169.0 522.5v3M188.8 522.5v3M208.5 522.5v3M42.5 374.0h-3M42.5 395.3h-3M42.5 416.6h-3M42.5 437.9h-3M42.5 459.2h-3M42.5 480.5h-3M42.5 501.8h-3" stroke="#444" stroke-width="1" fill="none"/>
<g font-size="5.6" fill="#3c3c3c">
<text transform="translate(50.5 533.1) scale(1 1.083)" text-anchor="middle">200</text>
<text transform="translate(70.2 533.1) scale(1 1.083)" text-anchor="middle">210</text>
<text transform="translate(90.0 533.1) scale(1 1.083)" text-anchor="middle">220</text>
<text transform="translate(109.8 533.1) scale(1 1.083)" text-anchor="middle">230</text>
<text transform="translate(129.5 533.1) scale(1 1.083)" text-anchor="middle">240</text>
<text transform="translate(149.2 533.1) scale(1 1.083)" text-anchor="middle">250</text>
<text transform="translate(169.0 533.1) scale(1 1.083)" text-anchor="middle">260</text>
<text transform="translate(188.8 533.1) scale(1 1.083)" text-anchor="middle">270</text>
<text transform="translate(208.5 533.1) scale(1 1.083)" text-anchor="middle">280</text>
<text transform="translate(37.0 376.1) scale(1 1.083)" text-anchor="end">0.04</text>
<text transform="translate(37.0 397.4) scale(1 1.083)" text-anchor="end">0.03</text>
<text transform="translate(37.0 418.8) scale(1 1.083)" text-anchor="end">0.02</text>
<text transform="translate(37.0 440.1) scale(1 1.083)" text-anchor="end">0.01</text>
<text transform="translate(37.0 461.4) scale(1 1.083)" text-anchor="end">0.00</text>
<text transform="translate(37.0 482.6) scale(1 1.083)" text-anchor="end">-0.01</text>
<text transform="translate(37.0 503.9) scale(1 1.083)" text-anchor="end">-0.02</text>
</g>
<g font-size="6.65" fill="#3c3c3c" text-anchor="middle">
<text transform="translate(129.5 542.3) scale(1 1.083)">N_need</text>
<text transform="translate(10.3 448.2) rotate(-90) scale(1.083 1)">SHAP value for</text>
<text transform="translate(19.5 448.2) rotate(-90) scale(1.083 1)">N_need</text>
</g>
<rect x="227.5" y="371.5" width="2.5" height="151.0" fill="url(#cb)"/>
<g font-size="5.6" fill="#3c3c3c">
<text transform="translate(234.3 511.5) scale(1 1.083)">1.6</text>
<text transform="translate(234.3 481.6) scale(1 1.083)">1.8</text>
<text transform="translate(234.3 451.8) scale(1 1.083)">2.0</text>
<text transform="translate(234.3 421.8) scale(1 1.083)">2.2</text>
<text transform="translate(234.3 391.9) scale(1 1.083)">2.4</text>
</g>
<path d="M230 509.4h2.8M230 479.5h2.8M230 449.6h2.8M230 419.7h2.8M230 389.8h2.8" stroke="#444" stroke-width="1" fill="none"/>
<text transform="translate(248.6 448.4) rotate(-90) scale(1.083 1)" font-size="6.65" fill="#3c3c3c" text-anchor="middle">OM</text>
<rect x="3.4" y="523.1" width="21.6" height="23.5" fill="#1f6fc4" stroke="#1a5a9e" stroke-width="0.6"/>
<text x="14.2" y="540.1" font-size="10" font-family='"Liberation Serif", serif' text-anchor="middle" fill="#0a0a14" font-weight="bold">e</text>
<rect x="299.5" y="371.5" width="175.0" height="151.0" fill="#e7e9f2"/>
<path d="M318.7 371.5V522.5M348.4 371.5V522.5M378.0 371.5V522.5M407.7 371.5V522.5M437.3 371.5V522.5M467.0 371.5V522.5M299.5 379.6H474.5M299.5 398.7H474.5M299.5 417.8H474.5M299.5 436.9H474.5M299.5 456.0H474.5M299.5 475.1H474.5M299.5 494.2H474.5M299.5 513.3H474.5" stroke="#fff" stroke-width="0.8" fill="none" opacity="0.8"/>
<g fill="none" stroke-width="2.50" stroke-linecap="round">
<path stroke="#057ffd" d="M397.7 417.9h0M394.3 432.9h0M407.2 405.1h0M405.7 410.9h0M419.3 413.4h0M400.7 424.9h0M448.7 414.0h0M402.2 448.2h0M400.5 420.8h0M389.2 423.1h0M414.2 399.7h0M396.2 425.0h0M381.9 434.1h0M424.3 392.8h0M399.5 432.5h0M394.8 432.1h0M405.0 404.6h0M414.7 428.8h0M419.1 402.8h0M407.7 404.6h0M413.7 405.9h0M393.5 411.6h0M417.3 398.5h0M400.6 394.5h0M409.7 416.2h0M406.7 434.7h0M421.2 428.0h0M397.1 414.6h0M398.6 415.6h0M388.0 428.6h0M385.5 436.3h0M379.0 432.2h0M413.4 418.8h0M401.3 431.8h0M393.5 446.6h0M413.9 396.7h0M415.2 391.8h0M379.6 433.2h0M408.8 401.5h0M413.5 415.8h0M408.8 436.8h0M392.2 432.8h0M392.7 427.1h0M391.8 411.7h0M418.8 437.2h0M390.2 404.7h0M426.5 406.3h0M400.4 410.3h0M385.4 415.9h0M399.2 420.3h0M395.3 433.2h0M393.2 418.7h0M425.9 408.3h0M427.1 414.1h0M405.9 405.2h0M414.7 394.1h0M395.0 417.5h0M401.8 415.4h0M392.0 429.3h0M395.1 412.4h0M418.3 428.5h0M400.3 404.6h0M408.6 411.9h0M402.0 416.9h0M394.3 431.8h0M393.5 422.6h0M424.9 416.0h0M412.2 421.5h0M413.3 394.6h0M401.5 414.0h0M411.9 404.7h0M404.4 416.6h0M383.1 429.1h0M389.5 424.0h0M410.2 396.1h0M394.8 432.6h0M409.6 398.4h0M397.1 406.7h0M395.5 415.4h0M428.0 441.1h0M398.8 411.5h0M401.7 420.4h0M389.7 415.1h0M392.0 422.9h0M399.0 399.9h0M389.9 424.7h0M407.2 421.8h0M413.7 410.3h0M434.2 412.3h0M436.7 410.0h0M422.6 407.1h0M401.8 414.0h0M409.0 418.8h0M395.1 423.3h0M398.7 414.9h0M394.4 412.2h0M402.9 422.3h0M416.0 418.7h0M397.5 426.1h0M412.2 399.5h0M439.9 430.7h0M391.0 424.1h0M403.8 410.3h0M405.5 419.1h0M397.3 409.6h0M388.2 442.3h0M410.0 409.1h0M382.4 426.8h0M396.4 433.1h0M400.6 437.8h0M401.9 434.4h0M399.1 398.1h0M411.0 428.2h0M406.6 428.4h0M424.0 420.5h0M391.8 435.9h0M423.8 408.0h0M432.1 422.1h0M428.3 398.9h0M431.6 426.4h0M411.6 405.7h0M452.2 394.9h0M390.6 435.8h0M388.9 419.2h0M393.1 407.6h0M400.8 430.1h0M425.7 425.6h0M411.6 417.2h0M402.5 428.6h0M409.1 409.8h0M409.9 406.0h0M383.7 430.9h0M391.0 415.0h0M379.8 418.6h0M441.7 413.3h0M388.0 458.8h0M438.2 424.0h0M397.9 423.1h0M390.5 447.3h0M385.9 429.8h0M395.3 395.9h0M397.8 392.7h0M390.2 407.4h0M389.4 423.8h0"/>
<path stroke="#ff0060" d="M377.0 448.3h0M324.7 450.7h0M356.7 475.7h0M350.0 463.3h0M315.4 452.8h0M359.0 462.0h0M371.0 449.7h0M355.0 490.8h0M354.8 470.0h0M355.8 512.3h0M358.2 503.3h0M364.9 478.6h0M374.9 439.8h0M374.6 448.5h0M371.1 439.0h0M327.5 458.1h0M367.2 431.5h0M343.9 460.2h0M373.9 444.4h0M355.2 512.0h0M359.6 500.5h0M326.5 458.6h0"/>
<path stroke="#ec0387" d="M371.2 445.3h0M379.1 454.7h0M375.3 437.1h0"/>
<path stroke="#754fed" d="M385.1 432.9h0M363.3 489.3h0M383.0 443.1h0M376.8 451.7h0M378.8 427.6h0M372.6 452.5h0M384.3 433.4h0M376.6 442.8h0M376.4 458.0h0M392.1 444.2h0M381.4 427.0h0"/>
<path stroke="#bc1fbf" d="M379.1 463.5h0M369.3 446.1h0M369.4 484.8h0M379.0 442.9h0M381.9 421.8h0M373.1 430.2h0M378.9 452.1h0M379.7 419.7h0"/>
<path stroke="#ff0056" d="M361.0 453.6h0M368.5 428.3h0M360.8 452.8h0M373.9 462.1h0M363.5 483.4h0M367.2 452.7h0M350.2 490.7h0M367.8 454.4h0M379.0 435.0h0M369.5 447.1h0M318.7 445.7h0M370.8 443.0h0M374.8 437.9h0M366.5 447.1h0M368.6 437.7h0M320.6 448.7h0M374.8 446.8h0M370.2 462.2h0M360.7 461.7h0M371.3 433.7h0M369.2 437.6h0M320.4 454.3h0M358.3 460.4h0M351.1 449.4h0M359.2 465.9h0M370.2 451.2h0M369.0 446.0h0M362.8 451.7h0M369.9 446.8h0M321.2 450.3h0M361.0 448.3h0M361.9 430.6h0M358.4 459.6h0M375.6 447.8h0M365.4 461.4h0M380.9 453.9h0M372.3 444.2h0M347.0 468.1h0M363.7 457.8h0M362.6 461.9h0M365.9 446.5h0M363.9 455.8h0M369.9 442.8h0M367.1 453.1h0M360.8 453.7h0M363.7 447.6h0M343.0 455.7h0M315.9 463.0h0M367.5 468.8h0M357.5 443.1h0M376.1 444.8h0M359.0 456.1h0M362.2 458.7h0M351.4 454.2h0M364.2 445.1h0M372.1 446.4h0M355.6 457.7h0M374.2 444.9h0M371.7 461.4h0M367.6 452.5h0M356.7 450.0h0M362.7 463.7h0M365.0 437.0h0M323.5 467.5h0M375.3 441.1h0M361.7 443.1h0M348.5 475.8h0M357.9 451.2h0M365.7 452.9h0M352.9 470.1h0M313.4 452.8h0M366.8 444.6h0"/>
<path stroke="#2a72fb" d="M367.4 490.2h0M368.9 466.3h0"/>
<path stroke="#9838d9" d="M376.3 435.3h0M381.3 460.4h0M390.0 425.9h0M371.7 449.6h0M390.9 424.6h0M382.0 446.7h0M377.3 433.7h0M372.2 440.5h0M381.7 432.9h0"/>
<path stroke="#da0aa0" d="M370.3 461.4h0M355.5 494.5h0M373.4 437.2h0M381.8 460.3h0M370.5 475.0h0M373.8 435.9h0M372.2 441.2h0M369.4 439.5h0M371.6 449.1h0M378.6 439.7h0M382.9 451.1h0M376.7 440.1h0"/>
<path stroke="#4c64f6" d="M390.5 429.4h0M381.4 436.5h0M365.6 477.2h0M380.6 438.9h0M384.8 425.0h0"/>
<path stroke="#117afd" d="M387.4 423.0h0M377.9 423.8h0M392.3 421.3h0M375.8 447.6h0M381.7 423.3h0M388.5 426.0h0M385.6 446.9h0M375.4 481.2h0M373.2 499.1h0M379.8 427.3h0M374.2 433.0h0M384.0 421.8h0"/>
<path stroke="#754fed" d="M374.9 422.6h0M382.4 448.6h0M370.9 491.8h0M386.8 413.4h0M385.5 414.9h0M380.5 440.0h0M374.9 451.5h0M376.0 422.7h0M385.9 449.4h0M375.1 421.8h0M382.5 436.1h0M380.7 453.5h0M391.9 441.5h0M379.9 442.6h0M373.2 449.8h0M380.1 425.3h0M390.2 399.1h0M377.4 419.1h0M379.7 435.6h0M377.8 491.1h0M381.0 431.8h0M377.4 465.7h0"/>
<path stroke="#117afd" d="M388.5 454.5h0M376.8 498.7h0M390.6 410.3h0M380.9 444.3h0M386.0 442.9h0M371.6 485.5h0M387.4 442.7h0M379.5 486.8h0M373.8 497.4h0M392.0 426.6h0M381.8 423.8h0M372.9 428.4h0M371.9 460.4h0M390.4 428.1h0M380.1 418.7h0M375.1 435.0h0M393.0 422.9h0M374.3 423.9h0"/>
<path stroke="#da0aa0" d="M371.5 423.5h0M375.8 428.3h0M379.1 440.3h0M373.8 452.3h0M376.8 439.2h0M374.6 442.6h0M363.2 493.2h0M368.3 499.9h0"/>
<path stroke="#bc1fbf" d="M357.2 499.9h0M394.3 459.8h0M358.4 501.8h0M374.8 435.2h0M372.7 437.7h0M370.8 448.5h0M379.0 421.3h0M383.6 429.9h0M386.3 425.9h0M373.5 439.6h0M374.3 444.9h0M376.0 439.7h0"/>
<path stroke="#ff0060" d="M372.3 441.9h0M376.2 433.3h0M368.0 471.3h0M376.4 448.9h0M376.1 443.6h0M366.3 431.9h0M369.3 443.8h0M372.9 446.4h0M349.4 472.7h0M356.8 497.8h0M376.6 435.9h0M376.4 455.8h0M357.2 484.4h0M355.4 496.4h0"/>
<path stroke="#2a72fb" d="M365.7 466.5h0M373.7 475.6h0M363.9 492.1h0M374.2 474.4h0"/>
<path stroke="#9838d9" d="M373.7 441.2h0M390.1 450.1h0M364.2 484.7h0M374.9 448.6h0M387.1 430.0h0M374.7 414.9h0M373.2 439.5h0M375.7 421.6h0M377.7 432.8h0"/>
<path stroke="#057ffd" d="M381.5 429.4h0M388.2 406.5h0M420.2 422.9h0M403.1 403.8h0M395.7 405.1h0M390.3 439.1h0M392.1 434.0h0M377.9 434.6h0M390.1 441.1h0M421.3 407.7h0M423.1 417.6h0M395.4 410.2h0M391.1 441.6h0M411.7 407.2h0M384.8 425.0h0M388.1 426.6h0M391.0 421.3h0M390.3 428.9h0M402.4 419.3h0M424.3 420.7h0M448.4 407.2h0M395.8 450.8h0M400.6 411.2h0M394.5 448.2h0M396.9 423.9h0M381.9 451.8h0M380.0 446.8h0M391.1 429.5h0M399.9 421.9h0M394.0 420.1h0M389.1 445.0h0M399.6 432.6h0M388.4 425.3h0M407.6 398.8h0M433.4 416.7h0M402.4 414.2h0M390.0 410.2h0M409.5 397.5h0M396.9 413.9h0M414.0 417.9h0M405.8 411.0h0M399.3 425.7h0M378.1 415.9h0M376.6 430.2h0M392.4 408.5h0M455.1 427.3h0M424.2 422.6h0M393.7 416.5h0M380.8 433.8h0M413.5 411.1h0M404.1 438.1h0M441.6 410.2h0M400.5 431.1h0M414.3 413.1h0M399.7 423.5h0M397.8 405.4h0M400.6 414.7h0M401.9 407.5h0M409.6 438.8h0M407.6 409.9h0M404.6 398.2h0M399.2 416.0h0M398.2 433.3h0M409.2 414.3h0M401.0 414.2h0M385.6 435.0h0M388.8 433.4h0M411.4 405.5h0M391.5 432.7h0M406.8 420.9h0M394.1 445.1h0M391.2 434.7h0M427.8 414.9h0M395.0 420.6h0M397.2 430.8h0M404.7 406.5h0M418.2 406.2h0M406.2 404.2h0M380.6 434.7h0M394.5 415.5h0M386.6 448.5h0M395.8 415.0h0M394.1 429.4h0M439.3 413.5h0M384.1 419.2h0M423.6 424.8h0M388.0 430.7h0M424.0 407.2h0M429.1 385.5h0M411.8 404.9h0M384.8 439.5h0M378.0 439.2h0M396.4 425.1h0M404.8 396.6h0M398.4 420.2h0M396.7 390.9h0M419.5 389.2h0M388.8 421.1h0M402.5 404.9h0M406.9 418.9h0M400.8 412.6h0M396.6 421.9h0M454.9 418.8h0M384.7 430.5h0M394.4 435.4h0M395.8 403.8h0M405.8 430.6h0M405.4 396.7h0M408.1 409.7h0M395.7 422.7h0M389.3 424.4h0M397.9 404.0h0M416.0 419.5h0M394.0 437.7h0M396.2 413.7h0M390.7 416.4h0M393.6 447.3h0M387.0 442.4h0M385.5 406.5h0M428.2 417.1h0M405.1 427.6h0M388.4 417.8h0M391.5 422.9h0M398.6 410.1h0M389.5 416.5h0M402.1 401.9h0M399.3 395.1h0M401.0 410.9h0M383.2 442.0h0M422.4 418.2h0M385.7 427.6h0M401.9 431.8h0M392.2 439.0h0M402.6 401.2h0M396.3 420.3h0M402.4 423.4h0M400.1 422.2h0M402.2 410.7h0M397.2 429.1h0M377.7 478.2h0M412.2 397.4h0M400.0 421.2h0M396.1 401.1h0M388.1 421.6h0"/>
<path stroke="#ec0387" d="M369.7 451.8h0"/>
<path stroke="#ff0056" d="M374.8 457.0h0M372.4 435.8h0M313.6 445.7h0M363.7 454.0h0M365.2 467.9h0M368.5 425.3h0M361.8 489.0h0M318.4 460.8h0M339.5 479.5h0M359.0 448.0h0M372.3 467.6h0M347.3 449.5h0M373.2 456.0h0M367.0 441.6h0M318.1 454.7h0M370.6 444.5h0M376.7 446.1h0M355.6 478.5h0M369.7 448.5h0M373.0 422.1h0M373.1 444.7h0M364.6 468.0h0M355.3 474.8h0M371.9 467.4h0M367.8 454.4h0M362.9 438.8h0M364.7 441.1h0M377.6 455.6h0M364.5 453.0h0M361.3 453.3h0M362.0 449.8h0M365.8 455.0h0M368.6 453.7h0M365.4 455.3h0M331.8 463.2h0M371.1 452.6h0M353.4 468.4h0M360.4 453.8h0M366.9 460.1h0M368.4 418.5h0M371.9 439.9h0M383.3 450.3h0M355.8 450.1h0M368.2 449.6h0M364.3 457.7h0M343.6 462.5h0M349.4 468.8h0M366.8 470.6h0M378.5 452.5h0M363.0 445.7h0M362.0 447.4h0M357.4 488.1h0M368.1 451.2h0M374.0 446.5h0M370.8 447.9h0M369.7 447.1h0M369.8 445.4h0M367.8 455.2h0M372.1 445.2h0M362.2 447.6h0"/>
<path stroke="#4c64f6" d="M365.6 497.8h0M376.0 430.9h0M372.9 481.4h0M383.2 432.8h0M379.9 431.5h0M382.7 434.2h0M380.4 451.9h0M388.9 427.7h0"/>
<path stroke="#da0aa0" d="M372.8 449.0h0M354.2 494.0h0M371.4 429.6h0M371.8 433.7h0M380.8 427.2h0M359.3 479.5h0M378.4 421.3h0M369.6 452.3h0M361.1 492.5h0M373.0 433.0h0M377.5 438.7h0M374.9 418.4h0"/>
<path stroke="#bc1fbf" d="M375.5 448.0h0M377.6 445.4h0M380.3 428.6h0M381.0 415.0h0M378.9 439.0h0M373.8 433.5h0M368.9 447.0h0M357.7 502.6h0"/>
<path stroke="#754fed" d="M375.5 438.4h0M375.3 429.4h0M379.0 434.8h0M386.0 416.8h0M383.3 443.4h0M373.7 441.5h0M385.5 432.3h0M384.4 428.2h0M381.2 445.6h0M374.5 424.7h0M371.7 422.8h0M380.8 446.8h0M380.6 437.1h0M389.2 426.6h0"/>
<path stroke="#2a72fb" d="M366.0 464.7h0M371.2 475.7h0M374.3 482.9h0M369.0 480.3h0"/>
<path stroke="#057ffd" d="M395.0 413.3h0M389.4 433.9h0M406.0 416.9h0M391.4 433.5h0M394.0 413.2h0M429.0 428.2h0M392.5 428.9h0M396.6 410.9h0M399.2 420.4h0M397.4 410.2h0M396.3 400.3h0M423.6 406.6h0M402.5 432.0h0M406.5 399.5h0M409.7 394.3h0M399.0 423.9h0M409.0 415.6h0M387.4 420.9h0M368.9 497.2h0M395.4 416.6h0M387.4 437.0h0M413.2 384.5h0M406.3 419.4h0M404.8 418.2h0M392.4 423.9h0M388.0 435.2h0M396.3 421.2h0M408.2 393.1h0M446.2 408.2h0M401.0 441.9h0M405.9 439.9h0M385.6 430.2h0M404.4 411.3h0M387.9 435.1h0M400.1 437.3h0M436.4 411.6h0M392.4 433.8h0M391.2 451.8h0M381.0 418.2h0M396.4 403.9h0M391.0 431.4h0M385.7 424.8h0M401.8 422.7h0M397.5 411.6h0M416.8 423.6h0M405.4 415.0h0M398.9 424.7h0M437.3 394.9h0M403.5 417.4h0M407.8 401.4h0M394.2 432.2h0M389.3 416.9h0M439.6 431.0h0M398.7 412.2h0M412.5 424.0h0M394.9 421.3h0M398.5 421.7h0M394.0 422.7h0M411.3 412.8h0M397.0 413.9h0M378.0 420.0h0M408.6 411.9h0M416.6 391.3h0M435.3 405.1h0M377.8 426.6h0M377.8 424.1h0M430.6 438.1h0M436.1 421.3h0M394.0 418.6h0M398.0 429.6h0M407.5 387.0h0M401.7 418.8h0M384.0 442.2h0M421.5 426.8h0M392.4 421.2h0M410.6 410.2h0M388.8 446.3h0M399.8 416.2h0M392.2 439.2h0M406.9 409.0h0M397.3 427.9h0M421.1 419.4h0M388.3 436.3h0M396.4 412.7h0M401.4 402.4h0M388.3 417.8h0M402.1 428.2h0M411.6 423.7h0M402.9 424.1h0M387.7 428.0h0M386.8 434.1h0M393.6 414.5h0M400.8 409.1h0M405.6 391.4h0M415.4 408.7h0M382.4 417.9h0M435.5 395.9h0M390.4 423.9h0M407.9 412.6h0M429.3 430.9h0M392.8 427.8h0M384.3 435.0h0M398.3 415.4h0M388.7 426.5h0M386.7 426.3h0M420.2 414.7h0M399.9 428.4h0M392.4 430.5h0M403.5 399.0h0M401.8 422.1h0M381.3 428.2h0M410.7 422.3h0M413.6 421.5h0M395.9 438.8h0M423.4 389.7h0M390.6 423.7h0M399.5 434.5h0M380.5 420.0h0M416.5 414.4h0M409.6 400.2h0M407.9 415.5h0M417.9 427.6h0M405.4 399.1h0M402.7 402.1h0M413.4 424.5h0M386.1 456.5h0M377.8 439.0h0M382.9 432.6h0M413.2 409.8h0M430.2 405.4h0M399.0 407.6h0M403.8 422.2h0M399.1 410.8h0M407.5 406.7h0M393.7 418.2h0"/>
<path stroke="#117afd" d="M380.5 417.4h0M386.0 445.3h0M372.4 437.1h0M384.5 436.9h0M365.7 487.9h0M384.5 434.8h0M379.7 444.9h0M386.3 445.8h0M379.5 433.2h0M364.4 498.1h0M380.3 439.9h0M379.5 421.6h0"/>
<path stroke="#4c64f6" d="M387.8 427.3h0M385.1 428.5h0M387.2 437.9h0M364.4 490.9h0M379.5 417.4h0M390.8 424.2h0"/>
<path stroke="#ff0056" d="M367.8 447.3h0M363.7 460.2h0M370.4 465.0h0M366.5 460.7h0M368.6 446.1h0M365.8 442.9h0M323.9 471.5h0M363.8 447.0h0M364.7 456.0h0M361.5 455.5h0M366.9 433.5h0M326.8 458.0h0M367.8 457.9h0M371.9 446.9h0M360.8 497.8h0M369.6 444.7h0M361.1 439.7h0M371.9 446.9h0M377.1 466.7h0M359.6 497.1h0M372.1 460.2h0M369.6 421.4h0M358.7 456.3h0M376.3 455.6h0M359.8 458.4h0M357.5 454.6h0M367.4 456.4h0M361.9 435.1h0M360.9 459.2h0M380.2 436.0h0M374.5 429.3h0M370.6 436.7h0M357.2 441.3h0M371.3 445.0h0M360.7 454.8h0M367.2 449.8h0M369.2 453.2h0M376.0 439.7h0M366.2 464.8h0M373.9 438.2h0M359.8 453.5h0M363.4 455.1h0M363.3 461.5h0M368.8 440.5h0M358.2 456.2h0M351.1 453.4h0M370.5 463.8h0M367.5 437.7h0M374.3 474.2h0M371.7 440.0h0M371.4 451.7h0M316.7 449.9h0M367.7 435.1h0M354.8 456.2h0M366.8 454.8h0M371.3 432.9h0M374.1 449.3h0M361.1 456.3h0M367.4 436.5h0M354.3 512.8h0M363.4 443.7h0M367.9 432.0h0M368.0 440.9h0M360.7 449.3h0M355.8 486.4h0M372.4 443.2h0M360.2 456.5h0M355.7 456.3h0M363.2 457.9h0M368.5 445.8h0M362.9 462.7h0M364.1 459.4h0M365.8 441.5h0M350.4 455.7h0M369.5 446.9h0M363.2 450.9h0"/>
<path stroke="#ff0060" d="M373.0 447.1h0M375.8 423.7h0M350.1 446.6h0M348.1 469.2h0M366.7 452.6h0M378.1 423.2h0M368.9 442.8h0M379.9 429.4h0M366.0 462.2h0M380.4 438.6h0M375.5 442.2h0M360.2 479.8h0M376.3 428.6h0M369.9 435.3h0M362.1 510.4h0M366.3 493.2h0M372.8 436.2h0M374.2 430.3h0M362.6 484.5h0M341.5 461.0h0M342.5 463.7h0"/>
<path stroke="#9838d9" d="M376.9 429.0h0M372.7 434.8h0M358.9 485.0h0M386.9 439.8h0M377.9 433.5h0M361.6 479.9h0M377.7 432.6h0M391.0 407.2h0M389.2 442.7h0M381.2 428.1h0"/>
<path stroke="#ec0387" d="M374.6 438.6h0M369.0 431.2h0"/>
<path stroke="#ff0056" d="M375.1 446.1h0M367.7 437.9h0M365.3 462.4h0M344.6 474.4h0M356.3 446.5h0M369.1 464.2h0M366.0 448.1h0M360.0 469.1h0M362.0 462.3h0M364.3 451.5h0M383.7 434.4h0M371.2 462.9h0M351.2 496.6h0M365.6 460.6h0M354.6 475.2h0M357.1 471.7h0M361.8 456.9h0M360.9 462.3h0M359.1 459.4h0M352.7 446.5h0M368.9 451.6h0M361.6 445.9h0M373.2 441.1h0M366.3 455.1h0M355.8 495.5h0M353.3 468.2h0M354.1 461.6h0M369.7 432.1h0M354.7 459.3h0M348.8 460.5h0M355.8 449.3h0M369.3 462.0h0M329.9 453.3h0M366.0 468.9h0M370.9 426.7h0M370.6 437.7h0M369.3 452.0h0M360.1 464.2h0M361.2 440.0h0M375.0 452.8h0M359.7 451.5h0M362.6 463.5h0M360.7 464.0h0M357.7 495.0h0M357.7 465.1h0M360.6 462.4h0M364.7 442.7h0M332.9 454.7h0M373.2 458.6h0M367.9 437.6h0M370.3 448.9h0M369.6 432.9h0M358.3 450.4h0M356.6 468.5h0M362.6 453.6h0M375.4 428.7h0M368.8 441.1h0M372.7 463.5h0M371.4 463.3h0M327.7 458.3h0M348.5 455.4h0M318.7 459.0h0M363.6 457.5h0M358.3 460.4h0M370.3 428.8h0M367.3 449.9h0M353.7 448.2h0M360.1 455.3h0M370.6 426.4h0M319.5 449.7h0M330.9 453.2h0M360.1 462.3h0M369.0 435.7h0M351.2 468.7h0M360.9 443.6h0M357.7 433.5h0M366.7 443.8h0M371.5 451.4h0M377.9 448.9h0"/>
<path stroke="#057ffd" d="M406.0 423.5h0M403.0 413.0h0M423.2 399.1h0M406.1 418.4h0M388.6 435.2h0M429.6 409.0h0M429.4 397.3h0M404.7 412.6h0M402.3 410.1h0M408.6 410.9h0M397.6 411.0h0M386.4 427.8h0M414.1 390.0h0M396.0 416.1h0M408.4 414.2h0M396.8 414.0h0M405.1 405.6h0M434.8 402.0h0M394.3 421.9h0M396.6 427.7h0M414.0 401.7h0M415.1 396.1h0M404.1 415.1h0M402.9 427.6h0M396.5 404.3h0M407.2 426.9h0M403.5 396.7h0M401.2 405.3h0M399.2 437.7h0M425.6 412.4h0M404.0 415.6h0M416.0 399.6h0M438.9 403.1h0M427.4 415.2h0M400.1 422.9h0M391.6 419.6h0M392.2 416.4h0M396.9 433.3h0M407.4 403.1h0M394.0 411.9h0M400.6 428.4h0M385.6 457.0h0M381.3 443.5h0M391.4 430.7h0M387.2 437.4h0M390.5 436.2h0M383.0 433.9h0M401.6 407.8h0M402.9 417.3h0M392.7 428.6h0M386.9 435.2h0M383.5 423.4h0M438.3 407.6h0M390.1 433.5h0M383.5 436.3h0M390.1 442.3h0M378.7 438.9h0M386.3 418.6h0M393.8 422.3h0M436.4 390.0h0M392.5 425.9h0M389.9 418.6h0M395.9 408.5h0M435.1 428.0h0M407.7 401.6h0M395.9 421.2h0M413.8 404.8h0M405.4 389.5h0M402.4 418.8h0M385.8 423.4h0M385.9 409.2h0M406.6 429.7h0M413.1 411.0h0M385.9 429.4h0M412.3 424.7h0M397.0 415.3h0M415.8 419.0h0M410.3 396.5h0M403.4 422.4h0M399.0 425.3h0M388.9 427.2h0M410.9 421.9h0M386.5 425.3h0M425.9 418.1h0M400.5 415.6h0M396.8 419.8h0M392.9 406.7h0M384.0 436.6h0M406.4 427.3h0M405.8 423.3h0M411.3 412.2h0M392.1 422.4h0M422.6 410.4h0M393.9 434.4h0M395.4 431.1h0M444.6 412.6h0M403.2 414.3h0M394.4 436.7h0M418.7 424.2h0M383.4 421.1h0M399.8 421.9h0M403.7 430.1h0M407.6 425.4h0M402.0 415.8h0M397.8 419.6h0M394.5 412.1h0M391.0 441.5h0M394.6 417.2h0M389.9 424.1h0M399.0 416.9h0M419.0 411.1h0M411.6 403.5h0M396.6 406.7h0M388.2 404.3h0M408.5 410.1h0M404.8 412.2h0M399.5 437.8h0M401.9 425.8h0M394.4 410.1h0M389.9 414.0h0M392.0 441.8h0M413.1 421.5h0M394.2 415.2h0M408.6 414.4h0M393.8 417.7h0M397.9 434.5h0M397.5 428.5h0M405.9 392.3h0M428.4 440.2h0M396.1 431.5h0M402.6 406.5h0M398.3 413.4h0"/>
<path stroke="#9838d9" d="M381.6 447.3h0M378.8 427.4h0M407.7 461.7h0M380.8 446.7h0M378.6 422.2h0M377.8 447.2h0M372.7 429.4h0M377.2 427.0h0"/>
<path stroke="#2a72fb" d="M373.7 473.6h0M371.5 486.8h0M370.5 490.6h0"/>
<path stroke="#4c64f6" d="M389.5 417.4h0M383.7 410.9h0M373.2 499.7h0M366.6 492.4h0M378.7 425.9h0M377.3 479.5h0"/>
<path stroke="#117afd" d="M369.6 485.5h0M366.3 471.5h0M384.1 428.8h0M386.8 416.7h0M370.8 472.4h0M386.6 444.1h0"/>
<path stroke="#ec0387" d="M372.6 448.9h0M382.4 460.3h0M382.5 447.1h0M377.7 440.6h0"/>
<path stroke="#da0aa0" d="M370.8 447.0h0M367.0 485.6h0M366.0 491.3h0M378.6 427.1h0M355.5 485.6h0M374.0 444.5h0M379.0 430.4h0M378.9 444.8h0M375.7 447.2h0M379.0 434.5h0M376.5 433.9h0M370.0 444.4h0M365.7 440.2h0M374.9 449.4h0M361.9 491.4h0M372.2 444.1h0M369.2 452.7h0M373.8 445.1h0M366.5 435.2h0M376.5 439.1h0"/>
<path stroke="#bc1fbf" d="M378.6 444.3h0M375.9 444.9h0M381.5 414.7h0M372.7 457.7h0M385.3 427.5h0M389.5 417.4h0M373.7 424.3h0M360.7 480.4h0M373.9 435.8h0"/>
<path stroke="#ff0060" d="M374.1 438.2h0M357.7 469.5h0M331.6 460.3h0M374.6 443.9h0M373.7 469.6h0M349.1 459.9h0M371.6 436.5h0M375.1 446.8h0M374.3 442.1h0M321.4 459.3h0M358.7 502.6h0M330.0 456.1h0M344.7 471.3h0M366.1 448.6h0M310.1 457.5h0M369.7 446.2h0M367.3 443.4h0M376.1 425.3h0M373.1 457.1h0M325.7 454.2h0M373.5 456.5h0"/>
<path stroke="#754fed" d="M381.5 433.2h0M378.6 443.7h0M380.8 422.6h0M372.6 431.0h0M380.7 436.7h0M375.9 443.9h0M384.4 430.1h0M389.1 413.1h0M378.7 439.0h0M388.8 441.1h0M372.1 435.3h0M384.3 438.2h0"/>
<path stroke="#754fed" d="M378.1 424.1h0M384.3 439.7h0M380.6 437.2h0M386.1 437.8h0M382.6 434.3h0M363.3 501.5h0M381.5 434.4h0M394.7 455.4h0M375.0 450.4h0M381.7 448.0h0M373.3 452.3h0M388.2 426.4h0M384.0 446.6h0"/>
<path stroke="#ff0056" d="M359.6 449.4h0M360.3 451.0h0M364.8 453.4h0M364.7 434.8h0M367.6 463.1h0M362.9 449.0h0M374.4 462.3h0M358.1 440.4h0M354.7 512.7h0M372.2 439.3h0M368.0 451.1h0M365.4 440.0h0M360.8 463.9h0M370.3 465.2h0M367.2 440.0h0M363.6 497.0h0M367.7 438.8h0M363.2 457.7h0M363.4 444.7h0M359.0 453.4h0M315.5 459.7h0M374.8 438.9h0M371.6 433.5h0M361.9 459.9h0M365.0 470.8h0M368.9 445.0h0M367.8 450.6h0M352.9 460.9h0M356.1 465.8h0M314.5 456.6h0M367.1 463.8h0M358.1 447.3h0M356.5 494.9h0M364.8 466.4h0M369.2 451.6h0M372.8 452.0h0M370.3 453.1h0M362.2 455.0h0M368.6 433.8h0M371.0 409.5h0M362.9 442.8h0M373.9 438.5h0M350.9 461.6h0M326.0 454.7h0M369.9 437.1h0M343.0 471.7h0M368.1 427.0h0M370.0 459.6h0M353.4 447.5h0M364.3 440.5h0M373.3 449.2h0M342.0 470.0h0M373.6 449.9h0M362.8 451.1h0M369.5 452.5h0M361.2 505.3h0M372.5 423.0h0M368.2 437.1h0M361.7 449.1h0M373.0 427.1h0M359.5 451.0h0M374.2 446.3h0M371.6 451.1h0M321.6 463.5h0M362.0 454.8h0M366.3 458.5h0M365.5 457.2h0M327.1 455.5h0M367.6 456.2h0M351.0 469.2h0M376.1 453.9h0M372.5 426.5h0M363.7 448.7h0M366.7 452.1h0M359.5 454.2h0M375.0 449.2h0M353.5 458.6h0M353.9 484.3h0M363.5 449.5h0"/>
<path stroke="#ec0387" d="M374.6 424.2h0M365.3 457.7h0M375.2 438.7h0M377.6 438.4h0M372.0 434.0h0"/>
<path stroke="#bc1fbf" d="M378.2 443.3h0M376.3 431.9h0M369.9 442.8h0M382.0 436.7h0M371.8 443.0h0M374.4 429.8h0M383.3 434.4h0M371.9 480.4h0M359.1 483.2h0M372.4 438.1h0M375.4 459.7h0M363.4 486.9h0M374.2 461.6h0"/>
<path stroke="#9838d9" d="M374.4 435.7h0M383.5 430.5h0M374.1 441.2h0M373.1 451.5h0M374.2 434.3h0"/>
<path stroke="#2a72fb" d="M371.4 495.7h0M368.6 488.9h0"/>
<path stroke="#da0aa0" d="M368.1 465.9h0M369.2 464.5h0M378.8 419.2h0M372.4 440.9h0M386.2 437.0h0M386.8 443.5h0M382.9 437.0h0M375.5 416.4h0M377.8 436.1h0M375.0 432.4h0M363.3 487.8h0M364.4 480.4h0M362.9 437.3h0M372.4 445.3h0M371.5 449.1h0M373.6 448.7h0M376.7 445.3h0M367.3 426.6h0M372.5 432.8h0"/>
<path stroke="#ff0060" d="M345.9 456.6h0M355.1 512.9h0M357.8 462.6h0M371.5 441.1h0M368.4 435.0h0M372.7 439.2h0M357.6 504.5h0M371.8 437.3h0M336.2 460.6h0M312.6 451.6h0M323.5 463.6h0M371.8 450.1h0M383.3 436.3h0M347.1 489.3h0M378.7 427.3h0M367.7 465.1h0M327.4 462.2h0M367.2 443.5h0M331.3 458.5h0M362.3 453.1h0M380.1 425.9h0M352.6 502.5h0M344.8 462.9h0"/>
<path stroke="#117afd" d="M380.6 425.7h0M375.7 450.6h0M379.9 446.4h0M378.6 458.4h0M379.2 471.0h0M377.3 435.3h0M379.8 434.3h0M376.4 428.4h0M393.7 426.4h0"/>
<path stroke="#057ffd" d="M410.1 421.8h0M449.2 423.5h0M396.0 433.4h0M399.0 408.5h0M443.4 429.8h0M385.1 460.2h0M393.1 429.9h0M392.5 410.5h0M412.4 394.9h0M398.7 408.6h0M408.9 419.0h0M406.6 393.9h0M395.1 436.1h0M399.5 426.8h0M402.8 412.2h0M404.5 414.1h0M409.2 424.2h0M404.4 440.3h0M398.5 423.6h0M418.0 392.4h0M404.6 399.5h0M388.5 429.7h0M392.9 411.3h0M405.8 424.6h0M409.2 377.7h0M395.0 436.1h0M435.1 418.7h0M393.2 409.7h0M389.6 436.8h0M408.4 405.5h0M394.6 430.4h0M408.1 413.5h0M404.7 416.6h0M395.2 419.5h0M416.5 415.3h0M387.3 462.2h0M407.6 429.8h0M409.2 400.8h0M440.8 417.1h0M407.9 402.0h0M411.2 445.2h0M402.1 396.5h0M388.8 438.1h0M379.8 425.1h0M413.0 429.6h0M401.1 416.0h0M402.7 417.2h0M382.8 431.1h0M391.3 433.2h0M389.8 433.0h0M402.4 439.5h0M390.1 399.6h0M432.3 414.0h0M404.9 410.0h0M405.5 409.8h0M397.0 404.0h0M416.9 397.5h0M390.7 436.1h0M404.1 403.2h0M397.0 449.0h0M412.1 379.6h0M399.1 417.4h0M438.8 422.1h0M408.3 423.1h0M408.8 402.4h0M413.5 425.2h0M384.8 420.7h0M404.0 424.9h0M413.4 430.2h0M382.2 426.9h0M441.2 405.0h0M389.4 431.4h0M397.7 407.9h0M402.4 408.4h0M416.3 419.8h0M425.5 393.0h0M388.8 442.2h0M389.0 431.4h0M391.7 397.6h0M383.1 423.5h0M402.3 413.1h0M398.2 421.3h0M386.9 443.8h0M387.7 444.9h0M412.8 417.9h0M419.9 419.9h0M431.7 417.7h0M398.9 432.0h0M406.2 416.8h0M382.0 439.9h0M394.6 438.0h0M392.0 432.8h0M393.3 443.6h0M392.7 429.7h0M393.0 438.9h0M415.9 412.2h0M396.6 440.3h0M400.3 402.1h0M395.0 425.3h0M412.5 419.4h0M394.9 420.4h0M392.6 429.4h0M401.8 430.0h0M390.6 419.6h0M415.3 421.8h0M382.2 427.1h0M408.5 417.4h0M398.0 450.2h0M394.3 426.7h0M393.1 414.7h0M384.4 417.5h0M409.3 423.2h0M417.5 405.5h0M415.9 413.8h0M403.2 422.8h0M388.3 418.4h0M389.5 417.7h0M407.0 419.3h0M402.9 413.7h0M386.8 432.1h0M393.9 401.9h0M383.8 422.9h0M407.8 404.1h0M427.3 430.0h0M405.4 415.9h0M388.1 433.0h0"/>
<path stroke="#4c64f6" d="M379.6 460.2h0M382.0 438.8h0M375.8 484.7h0M372.2 486.9h0M388.9 435.4h0M379.7 433.7h0"/>
<path stroke="#ff0056" d="M315.8 452.4h0M324.1 461.9h0M344.3 451.8h0M354.2 473.4h0M361.1 451.8h0M358.5 452.4h0M371.1 455.8h0M344.9 452.2h0M360.2 437.5h0M370.5 427.8h0M372.1 444.0h0M361.3 468.1h0M351.4 472.5h0M359.9 454.5h0M373.3 446.3h0M376.1 446.5h0M366.5 457.9h0M378.0 433.5h0M366.7 447.1h0M364.3 448.6h0M368.1 455.5h0M370.0 428.4h0M365.3 445.4h0M361.5 456.1h0M372.1 459.3h0M376.3 441.5h0M368.7 443.1h0M374.4 443.0h0M366.0 460.8h0M373.8 426.7h0M372.3 454.7h0M364.5 452.0h0M361.6 455.0h0M363.2 459.3h0M374.5 431.4h0M370.7 440.7h0M363.5 441.3h0M371.5 443.8h0M365.4 447.6h0M361.4 460.1h0M366.5 452.1h0M366.6 429.1h0M368.0 442.4h0M366.5 466.9h0M365.8 471.0h0M364.0 447.1h0M361.6 453.9h0M366.2 460.2h0M374.8 447.8h0M370.7 435.6h0M361.2 457.3h0M364.5 453.2h0M368.8 466.0h0M359.3 459.9h0M364.4 497.8h0M367.2 472.4h0M364.2 442.2h0M349.0 486.0h0M363.7 445.9h0M365.0 452.0h0M366.7 464.3h0M373.9 453.7h0M374.9 436.4h0M313.4 455.1h0M359.5 441.9h0M375.0 446.5h0M357.3 503.7h0M357.0 488.6h0M364.7 470.3h0M370.7 453.2h0M370.2 431.2h0M357.7 446.1h0"/>
<path stroke="#117afd" d="M382.3 429.4h0M371.5 477.7h0M385.1 419.4h0M380.3 438.6h0M386.4 429.6h0M380.3 451.9h0"/>
<path stroke="#2a72fb" d="M375.3 491.8h0M370.8 476.6h0M371.9 497.8h0M376.4 464.2h0"/>
<path stroke="#da0aa0" d="M380.3 426.4h0M375.5 463.6h0M381.3 434.0h0M374.8 431.6h0M378.2 440.1h0M372.5 435.0h0M375.4 431.7h0M378.0 423.4h0M366.7 487.0h0M398.8 457.9h0M382.9 438.7h0M361.4 496.9h0M374.4 432.0h0M365.3 452.7h0M380.0 431.0h0M368.1 448.7h0M374.4 440.5h0M371.2 442.0h0M374.7 448.7h0"/>
<path stroke="#057ffd" d="M405.2 409.2h0M406.8 409.0h0M403.2 417.4h0M395.5 420.5h0M392.1 420.3h0M411.6 394.5h0M392.4 420.7h0M389.6 428.7h0M388.5 428.2h0M400.5 426.0h0M410.2 421.4h0M397.7 414.8h0M384.8 438.8h0M408.6 445.3h0M411.1 399.2h0M467.0 409.2h0M433.9 421.1h0M420.7 417.0h0M395.7 438.0h0M422.6 414.7h0M389.9 424.0h0M402.7 410.9h0M392.4 407.9h0M394.1 434.1h0M415.4 425.0h0M393.6 425.8h0M416.2 407.5h0M419.9 408.2h0M392.8 426.9h0M409.2 409.1h0M394.9 435.1h0M388.5 414.5h0M411.1 422.8h0M402.0 407.6h0M431.9 429.2h0M393.6 427.1h0M405.6 398.8h0M403.4 422.6h0M403.4 423.3h0M388.4 433.6h0M378.9 436.1h0M407.5 403.9h0M397.0 448.3h0M404.6 403.0h0M403.2 408.4h0M394.9 431.1h0M434.0 405.2h0M422.5 415.9h0M400.7 417.8h0M397.7 419.1h0M382.8 435.9h0M393.5 443.8h0M386.7 432.2h0M381.5 433.0h0M394.2 434.6h0M387.7 435.2h0M394.8 436.9h0M417.6 409.6h0M402.7 427.7h0M389.4 441.3h0M428.6 416.0h0M396.7 442.1h0M402.7 430.1h0M416.2 408.1h0M402.8 409.9h0M401.8 411.6h0M392.9 418.0h0M381.4 410.4h0M410.7 404.6h0M395.8 429.5h0M411.8 413.4h0M408.5 419.6h0M420.2 425.6h0M381.5 440.2h0M409.7 405.0h0M411.7 396.7h0M394.3 434.8h0M387.5 429.8h0M394.8 414.4h0M393.0 432.2h0M403.8 423.8h0M388.8 437.4h0M397.3 432.2h0M385.1 429.8h0M384.7 442.0h0M398.3 425.1h0M396.7 405.5h0M394.2 425.9h0M403.0 424.9h0M403.8 392.6h0M409.6 407.6h0M396.7 435.4h0M398.3 413.5h0M386.4 417.7h0M394.5 407.6h0M398.0 425.5h0M399.4 414.6h0M414.5 417.5h0M389.2 420.7h0M399.8 434.0h0M406.7 435.3h0M400.2 431.2h0M401.5 415.4h0M397.5 432.3h0M391.9 421.3h0M407.9 394.6h0M379.1 437.0h0M416.6 385.3h0M394.9 412.9h0M386.7 411.5h0M403.2 414.8h0M388.1 414.2h0M398.7 413.4h0M400.0 415.0h0M391.1 427.3h0M379.7 442.3h0M408.0 410.6h0M384.2 447.4h0M392.3 431.7h0M400.8 422.4h0M412.9 427.5h0M398.1 425.1h0M415.1 383.4h0M399.2 439.4h0M399.1 437.5h0M398.7 402.8h0M389.5 437.7h0M398.5 418.6h0M404.4 409.6h0M399.0 425.1h0M398.1 417.9h0M391.7 443.7h0M393.4 416.8h0M432.7 407.1h0M437.2 431.1h0M417.1 392.4h0M404.0 406.3h0M399.8 415.8h0M415.1 435.8h0M389.7 444.6h0M403.1 427.9h0M405.3 425.7h0M401.7 426.9h0M417.0 408.8h0"/>
<path stroke="#9838d9" d="M374.6 441.2h0M377.2 430.8h0M382.1 431.9h0M375.5 429.8h0M379.8 424.7h0M378.2 451.4h0M378.3 433.3h0M371.6 435.0h0M365.0 501.5h0M376.8 451.7h0M376.4 417.4h0M371.6 447.9h0M371.4 452.4h0"/>
<path stroke="#4c64f6" d="M373.3 472.6h0M371.7 462.4h0M374.4 437.6h0M369.9 473.1h0"/>
<path stroke="#bc1fbf" d="M380.6 443.2h0M375.8 421.4h0M373.3 453.1h0M357.5 487.7h0M369.9 442.2h0M373.4 431.0h0"/>
<path stroke="#ff0060" d="M373.5 441.4h0M354.0 463.5h0M363.6 503.6h0M372.0 446.4h0M370.3 430.5h0M357.3 503.7h0M375.0 421.2h0M368.1 463.7h0M375.2 453.4h0M380.5 452.5h0M329.5 469.8h0M352.9 503.5h0M367.8 452.2h0M367.0 470.1h0M374.5 442.0h0M324.1 452.9h0M361.2 506.1h0M372.8 448.2h0M366.7 480.1h0"/>
<path stroke="#754fed" d="M361.8 495.3h0M386.3 424.5h0M385.2 418.1h0M387.5 431.5h0M391.8 436.1h0M379.7 450.2h0M382.0 453.4h0M378.0 450.1h0M375.6 432.2h0M385.2 430.5h0M371.4 490.0h0"/>
<path stroke="#ec0387" d="M374.2 459.3h0M372.6 438.3h0"/>
<path stroke="#4c64f6" d="M370.5 489.9h0M370.8 467.6h0M373.8 483.8h0M377.7 496.0h0M370.2 469.6h0M380.3 434.4h0M381.1 430.2h0M382.8 436.6h0M371.1 436.9h0M369.6 469.3h0"/>
<path stroke="#ff0056" d="M367.4 422.5h0M373.3 411.7h0M359.4 452.2h0M361.1 451.3h0M346.5 448.3h0M363.4 455.6h0M370.3 464.4h0M366.1 454.4h0M356.8 462.5h0M316.7 453.9h0M368.9 436.6h0M360.2 473.1h0M365.2 451.7h0M373.4 441.9h0M370.2 432.7h0M353.3 447.4h0M372.5 434.9h0M363.0 452.5h0M350.8 492.9h0M371.5 442.7h0M374.6 437.8h0M359.7 444.4h0M367.7 446.7h0M355.5 448.9h0M348.5 453.5h0M370.3 443.4h0M360.8 463.7h0M363.8 449.9h0M363.0 456.9h0M365.0 452.8h0M359.2 450.8h0M364.9 459.6h0M372.6 453.8h0M368.8 455.6h0M345.5 484.3h0M355.3 462.5h0M373.1 445.8h0M373.1 419.3h0M363.7 450.3h0M353.8 462.4h0M362.3 453.5h0M363.2 458.6h0M360.5 452.6h0M377.2 442.1h0M367.4 452.2h0M367.7 450.2h0M371.3 457.6h0M350.7 482.7h0M369.6 455.5h0M371.9 459.5h0M356.8 458.3h0M356.4 475.0h0M356.8 439.2h0M349.3 463.7h0M372.1 434.1h0M362.4 422.1h0M369.6 451.6h0M363.9 446.4h0M372.6 434.8h0M367.1 438.4h0M374.7 450.1h0M360.8 446.6h0M365.7 468.3h0M308.6 454.4h0M369.7 435.0h0M354.8 460.9h0M327.5 458.2h0M374.1 446.1h0M360.1 447.6h0M365.7 447.2h0M373.8 452.6h0M365.6 478.9h0M373.2 440.2h0M360.6 441.6h0M365.2 443.0h0M366.3 439.4h0"/>
<path stroke="#ff0060" d="M364.6 495.4h0M308.3 438.8h0M346.4 480.4h0M339.1 460.2h0M364.3 447.9h0M371.7 442.7h0M369.6 446.8h0M327.0 453.5h0M368.2 449.5h0M369.8 450.5h0M363.5 464.9h0M368.6 446.6h0M320.4 455.6h0M363.2 512.5h0M347.9 491.7h0M363.9 461.4h0M374.8 444.9h0"/>
<path stroke="#9838d9" d="M355.1 490.7h0M372.9 419.2h0M377.5 438.8h0M372.1 441.9h0M367.1 485.2h0M376.4 461.3h0M404.7 459.8h0"/>
<path stroke="#ec0387" d="M382.0 441.1h0M366.8 437.3h0M373.8 434.8h0M375.2 433.9h0M378.6 426.5h0M376.3 428.0h0"/>
<path stroke="#bc1fbf" d="M375.7 431.6h0M367.3 481.8h0M376.5 412.1h0M366.4 483.3h0M374.8 450.1h0M370.7 445.3h0M380.3 433.0h0"/>
<path stroke="#057ffd" d="M413.9 417.9h0M404.9 411.5h0M390.2 430.6h0M405.3 414.7h0M405.8 400.7h0M394.9 426.8h0M409.2 409.8h0M381.8 433.6h0M392.2 437.2h0M397.4 412.5h0M387.4 424.7h0M390.6 442.4h0M403.8 417.1h0M398.6 418.8h0M400.4 408.0h0M390.7 437.8h0M415.6 405.3h0M412.8 420.1h0M410.9 423.3h0M412.3 420.2h0M388.4 432.1h0M407.7 420.9h0M382.4 437.6h0M445.5 414.5h0M392.4 403.8h0M394.0 418.9h0M397.2 399.3h0M397.0 407.7h0M413.5 426.6h0M412.9 410.8h0M414.3 416.7h0M406.7 416.2h0M382.1 436.8h0M400.6 435.2h0M391.0 425.5h0M398.9 420.0h0M379.5 444.6h0M388.9 423.8h0M390.4 425.2h0M409.2 412.7h0M394.2 429.3h0M389.0 411.3h0M395.0 417.5h0M431.4 396.8h0M429.0 390.8h0M409.9 428.1h0M434.4 399.8h0M398.0 424.4h0M391.5 428.8h0M398.2 429.5h0M413.4 405.0h0M402.5 409.8h0M393.8 425.6h0M394.9 415.0h0M381.1 432.7h0M407.5 399.5h0M402.9 416.1h0M389.6 430.1h0M430.9 421.0h0M416.6 417.8h0M400.9 419.3h0M395.1 425.4h0M414.8 405.3h0M396.7 426.5h0M394.7 425.1h0M419.4 392.9h0M402.0 419.9h0M371.8 432.0h0M420.9 408.7h0M396.6 438.4h0M387.2 432.7h0M401.1 432.2h0M429.0 406.4h0M406.2 423.9h0M389.6 419.8h0M417.9 412.1h0M424.8 406.2h0M408.4 401.9h0M401.1 408.8h0M398.2 415.6h0M373.1 464.9h0M406.4 405.2h0M411.5 411.3h0M404.5 428.3h0M392.2 429.8h0M429.8 405.0h0M405.4 412.1h0M430.1 406.0h0M403.6 419.6h0M387.2 405.7h0M430.0 407.5h0M394.2 471.2h0M394.4 431.7h0M396.3 414.3h0M400.7 416.4h0M403.4 417.3h0M384.3 433.1h0M397.8 427.9h0M403.1 425.5h0M409.2 412.6h0M422.8 433.7h0M383.7 439.5h0M397.6 417.4h0M405.4 436.1h0M389.7 428.9h0M393.0 422.7h0M396.8 402.6h0M412.0 420.4h0M396.5 420.5h0M396.2 428.7h0M412.7 411.0h0M391.5 425.0h0M396.5 408.7h0M408.7 393.9h0M387.5 422.0h0M389.9 419.2h0M388.6 437.7h0M391.1 421.6h0M399.8 429.7h0M401.1 429.4h0M423.9 405.0h0M405.7 405.0h0M431.7 420.1h0M406.1 426.9h0M387.4 435.9h0M395.9 420.1h0M433.9 436.7h0M411.7 405.9h0M408.0 391.9h0M405.7 415.0h0M393.9 425.2h0M403.9 409.3h0M414.5 425.8h0M394.9 407.4h0M400.7 417.3h0M405.6 429.3h0M412.5 418.6h0M391.6 442.7h0M391.2 420.1h0M439.7 423.9h0M396.4 414.9h0M390.2 425.6h0M392.0 420.9h0"/>
<path stroke="#2a72fb" d="M368.9 468.4h0M375.1 479.6h0M372.8 473.0h0"/>
<path stroke="#117afd" d="M386.9 438.9h0M372.7 468.5h0M385.3 432.4h0M382.4 443.7h0M389.1 428.9h0"/>
<path stroke="#da0aa0" d="M368.5 447.5h0M374.4 438.9h0M370.9 436.8h0M362.1 500.6h0M359.2 488.6h0M378.3 439.4h0M371.1 441.6h0M372.9 446.8h0M372.1 430.7h0M378.9 443.2h0M375.0 438.8h0M367.4 497.0h0M382.7 419.5h0"/>
<path stroke="#754fed" d="M388.8 444.0h0M382.3 416.0h0M380.6 440.4h0M389.6 440.7h0M377.1 430.3h0M377.8 452.5h0M384.6 435.3h0M385.8 438.5h0M378.5 459.2h0M381.1 430.4h0M373.3 454.9h0M382.1 421.8h0"/>
<path stroke="#bc1fbf" d="M372.9 436.7h0M383.6 438.9h0M384.0 442.9h0M362.1 491.7h0M380.3 452.0h0M371.8 431.4h0M383.3 449.2h0M374.2 428.4h0M376.1 433.0h0M377.4 428.2h0M371.5 441.4h0M375.6 427.7h0M367.7 433.8h0M358.3 502.7h0M371.0 438.6h0"/>
<path stroke="#ff0060" d="M333.7 451.2h0M373.1 434.2h0M355.1 457.8h0M346.3 480.0h0M335.1 458.1h0M366.9 463.5h0M372.0 440.7h0M373.3 425.6h0M353.7 489.8h0M376.1 441.8h0M372.7 443.6h0M351.0 467.3h0M357.7 502.9h0M372.0 452.1h0M370.9 455.2h0M380.1 436.7h0M355.0 490.6h0"/>
<path stroke="#da0aa0" d="M372.8 446.7h0M370.6 431.9h0M380.8 437.4h0M372.1 437.8h0M367.8 449.6h0M377.8 470.3h0M380.7 452.5h0M377.3 447.2h0M379.1 410.2h0M370.3 440.2h0M373.2 431.0h0M361.6 482.2h0M384.3 450.4h0M368.9 447.1h0"/>
<path stroke="#ff0056" d="M367.0 449.3h0M369.7 446.4h0M359.9 452.7h0M359.0 450.5h0M366.9 443.0h0M370.4 457.6h0M363.4 456.9h0M360.2 440.4h0M367.1 452.1h0M360.0 465.5h0M366.2 466.2h0M367.7 424.0h0M355.6 460.6h0M369.5 450.7h0M321.6 455.9h0M373.5 463.8h0M350.5 480.0h0M361.1 442.2h0M359.4 451.4h0M368.7 458.8h0M352.0 484.8h0M376.7 447.7h0M373.0 448.5h0M368.8 453.6h0M368.8 424.5h0M372.7 445.1h0M363.7 451.1h0M365.8 449.5h0M356.6 447.3h0M370.1 448.5h0M361.0 473.8h0M359.4 451.3h0M367.2 459.1h0M364.6 456.8h0M365.3 453.1h0M368.9 444.2h0M375.8 450.7h0M363.4 454.6h0M374.3 434.9h0M367.3 445.3h0M380.3 433.2h0M363.6 446.3h0M370.3 444.1h0M359.4 465.4h0M367.8 440.8h0M371.2 443.3h0M365.0 447.5h0M358.8 470.1h0M367.1 445.6h0M361.4 481.9h0M363.2 461.9h0M369.7 437.7h0M360.0 443.8h0M361.0 459.1h0M372.1 428.5h0M365.2 446.4h0M366.7 451.4h0M369.0 457.3h0M359.2 467.3h0M369.2 424.5h0M379.6 448.2h0M353.6 449.1h0M365.2 462.3h0M372.8 445.4h0M361.9 459.9h0M373.9 447.0h0M373.1 450.0h0M363.3 456.4h0M375.5 454.2h0M373.1 443.8h0M366.2 455.0h0M314.9 453.3h0M363.0 462.5h0M346.3 485.2h0"/>
<path stroke="#2a72fb" d="M373.0 465.4h0M364.3 465.8h0M371.0 482.6h0M375.8 474.8h0"/>
<path stroke="#ec0387" d="M372.1 441.4h0M381.9 433.6h0M373.9 455.6h0M371.2 436.7h0"/>
<path stroke="#9838d9" d="M355.5 489.2h0M383.3 456.7h0M371.7 435.2h0M377.0 437.8h0M379.2 430.1h0M380.7 445.3h0M380.6 432.7h0M364.7 447.5h0M363.8 416.2h0M371.1 449.2h0"/>
<path stroke="#4c64f6" d="M383.9 413.3h0M366.1 477.6h0M373.5 451.8h0"/>
<path stroke="#117afd" d="M390.1 423.9h0M377.0 419.1h0M394.2 434.9h0M386.2 414.1h0M385.0 435.3h0M380.8 435.8h0M377.3 460.9h0M374.6 450.1h0M381.3 485.5h0M383.3 433.5h0M390.2 423.5h0M386.2 417.7h0"/>
<path stroke="#754fed" d="M380.2 438.0h0M384.2 424.9h0M386.6 446.0h0M367.6 438.3h0M374.0 449.8h0M384.8 430.9h0M385.9 447.6h0M388.7 424.2h0M378.4 425.9h0M389.7 440.7h0M376.5 438.5h0"/>
<path stroke="#057ffd" d="M398.6 421.8h0M394.2 434.3h0M375.6 432.0h0M398.6 406.8h0M396.9 415.6h0M378.1 437.2h0M392.0 443.0h0M382.1 437.0h0M393.8 412.0h0M390.2 421.8h0M402.1 411.0h0M389.8 405.5h0M390.2 430.1h0M412.4 418.4h0M391.3 412.3h0M383.4 442.5h0M431.0 409.8h0M400.8 407.7h0M397.2 419.5h0M409.9 417.6h0M403.9 403.0h0M414.3 414.6h0M405.2 414.8h0M419.4 401.4h0M397.5 422.3h0M399.8 427.5h0M391.0 448.3h0M408.4 409.8h0M391.3 429.1h0M411.0 428.5h0M405.1 416.2h0M428.5 414.2h0M396.5 416.9h0M383.9 429.3h0M408.2 403.9h0M405.5 431.3h0M406.0 408.8h0M388.9 427.4h0M380.9 419.0h0M391.0 438.0h0M404.8 401.2h0M383.9 434.3h0M400.2 431.6h0M382.8 440.4h0M391.3 436.3h0M409.3 404.9h0M414.0 403.0h0M386.7 455.5h0M407.3 405.1h0M399.0 412.3h0M401.5 409.4h0M398.5 429.1h0M410.5 419.5h0M397.3 429.9h0M396.4 434.9h0M418.4 403.8h0M410.3 386.7h0M383.6 456.2h0M400.4 414.0h0M409.5 418.7h0M431.0 419.3h0M408.4 403.9h0M427.6 407.4h0M415.5 419.6h0M396.6 425.1h0M389.3 441.5h0M416.8 412.6h0M410.1 412.5h0M409.0 424.3h0M388.8 415.0h0M385.8 441.7h0M420.0 410.2h0M404.8 396.9h0M402.4 400.6h0M397.6 402.3h0M398.4 402.2h0M418.8 408.0h0M390.1 410.9h0M421.5 413.8h0M399.5 405.3h0M388.9 418.4h0M409.8 427.1h0M403.7 419.5h0M418.3 408.4h0M391.6 433.3h0M406.1 408.1h0M389.9 417.0h0M389.3 429.4h0M398.7 428.3h0M392.8 432.6h0M394.3 442.5h0M394.6 431.6h0M393.7 419.6h0M418.5 397.4h0M393.8 418.2h0M412.1 399.9h0M427.1 400.9h0M418.4 404.5h0M409.8 425.6h0M411.6 416.8h0M400.1 406.9h0M395.4 420.2h0M402.3 422.3h0M399.7 401.3h0M392.9 420.5h0M398.0 413.8h0M393.0 427.6h0M401.1 418.0h0M398.7 435.3h0M398.3 431.9h0M392.4 442.0h0M397.2 428.8h0M430.8 410.1h0M405.5 404.4h0M384.3 436.0h0M388.4 430.4h0M397.1 423.6h0M426.9 410.3h0M397.6 399.2h0M412.0 395.8h0M402.1 434.0h0M412.4 406.6h0M405.2 423.1h0M382.7 438.7h0M396.3 420.2h0M397.5 412.1h0M419.6 410.1h0M389.3 428.7h0M401.6 410.3h0M437.9 428.1h0M411.9 395.6h0M403.1 412.8h0M395.3 417.0h0M412.6 401.0h0M393.7 418.7h0"/>
</g>
<path d="M299.5 371.5V522.5H474.5" stroke="#5a5a5a" stroke-width="1" fill="none"/>
<path d="M318.7 522.5v3M348.4 522.5v3M378.0 522.5v3M407.7 522.5v3M437.3 522.5v3M467.0 522.5v3M299.5 379.6h-3M299.5 398.7h-3M299.5 417.8h-3M299.5 436.9h-3M299.5 456.0h-3M299.5 475.1h-3M299.5 494.2h-3M299.5 513.3h-3" stroke="#444" stroke-width="1" fill="none"/>
<g font-size="5.6" fill="#3c3c3c">
<text transform="translate(318.7 533.1) scale(1 1.083)" text-anchor="middle">30</text>
<text transform="translate(348.4 533.1) scale(1 1.083)" text-anchor="middle">40</text>
<text transform="translate(378.0 533.1) scale(1 1.083)" text-anchor="middle">50</text>
<text transform="translate(407.7 533.1) scale(1 1.083)" text-anchor="middle">60</text>
<text transform="translate(437.3 533.1) scale(1 1.083)" text-anchor="middle">70</text>
<text transform="translate(467.0 533.1) scale(1 1.083)" text-anchor="middle">80</text>
<text transform="translate(293.5 381.8) scale(1 1.083)" text-anchor="end">0.03</text>
<text transform="translate(293.5 400.8) scale(1 1.083)" text-anchor="end">0.02</text>
<text transform="translate(293.5 419.9) scale(1 1.083)" text-anchor="end">0.01</text>
<text transform="translate(293.5 439.0) scale(1 1.083)" text-anchor="end">0.00</text>
<text transform="translate(293.5 458.1) scale(1 1.083)" text-anchor="end">-0.01</text>
<text transform="translate(293.5 477.2) scale(1 1.083)" text-anchor="end">-0.02</text>
<text transform="translate(293.5 496.3) scale(1 1.083)" text-anchor="end">-0.03</text>
<text transform="translate(293.5 515.4) scale(1 1.083)" text-anchor="end">-0.04</text>
</g>
<g font-size="6.65" fill="#3c3c3c" text-anchor="middle">
<text transform="translate(387.0 542.3) scale(1 1.083)">Si</text>
<text transform="translate(269.4 449.0) rotate(-90) scale(1.083 1)">SHAP value for</text>
<text transform="translate(277.2 449.0) rotate(-90) scale(1.083 1)">Si</text>
</g>
<rect x="485.4" y="371.5" width="2.5" height="151.0" fill="url(#cb)"/>
<g font-size="5.6" fill="#3c3c3c">
<text transform="translate(492.2 498.1) scale(1 1.083)">20</text>
<text transform="translate(492.2 466.4) scale(1 1.083)">25</text>
<text transform="translate(492.2 434.7) scale(1 1.083)">30</text>
<text transform="translate(492.2 402.9) scale(1 1.083)">35</text>
</g>
<path d="M487.9 496.0h2.8M487.9 464.3h2.8M487.9 432.5h2.8M487.9 400.8h2.8" stroke="#444" stroke-width="1" fill="none"/>
<text transform="translate(505.4 446.2) rotate(-90) scale(1.083 1)" font-size="6.65" fill="#3c3c3c" text-anchor="middle">S</text>
<rect x="260.2" y="523.1" width="21.600000000000023" height="23.5" fill="#1f6fc4" stroke="#1a5a9e" stroke-width="0.6"/>
<text x="271.0" y="539.9" font-size="10" font-family='"Liberation Serif", serif' text-anchor="middle" fill="#0a0a14" font-weight="bold">f</text>
</svg>
</body></html>
